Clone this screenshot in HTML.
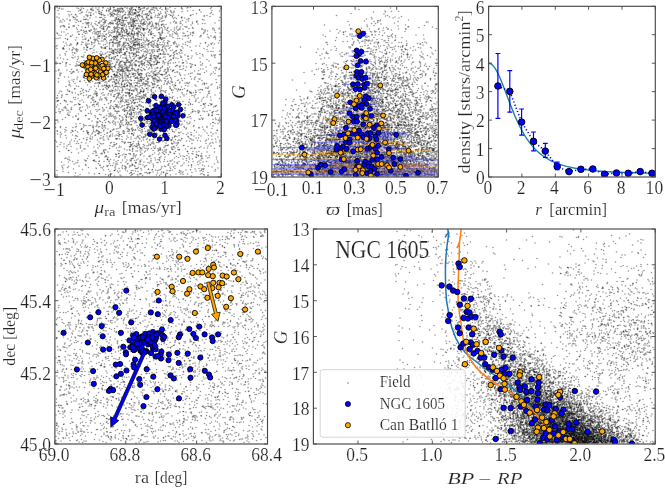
<!DOCTYPE html>
<html><head><meta charset="utf-8"><style>html,body{margin:0;padding:0;background:#fff;overflow:hidden}svg{display:block}text{font-family:"Liberation Serif",serif}</style></head><body>
<svg width="665" height="488" viewBox="0 0 665 488" font-family="Liberation Serif, serif">
<rect width="665" height="488" fill="#fff"/>
<defs>
<clipPath id="c1"><rect x="54.8" y="6.3" width="166.40" height="170.70"/></clipPath>
<clipPath id="c2"><rect x="271.9" y="6.3" width="166.40" height="170.70"/></clipPath>
<clipPath id="c3"><rect x="488.6" y="6.3" width="166.70" height="170.70"/></clipPath>
<clipPath id="c4"><rect x="54.9" y="229.0" width="212.60" height="215.00"/></clipPath>
<clipPath id="c5"><rect x="313.4" y="229.0" width="341.80" height="215.00"/></clipPath>
</defs>
<g clip-path="url(#c1)">
<g transform="scale(0.5)" stroke="#000" stroke-width="3.20" stroke-linecap="round" fill="none" stroke-opacity="0.42">
<path d="M250 15h0m29 0h0m10-1h0m18 1h0m116 0h0m-2 12h0m-39 3h0m-58-11h0m-5 10h0m-4 2h0m-27-2h0m-7-9h0m0 0h0m0-1h0m-2 10h0m-7-1h0m-9 2h0m-7 0h0m-5-5h0m-7-8h0m-5 0h0m-3 0h0m-1 9h0m-7-7h0m-1 2h0m-4 10h0m-7-1h0m-13-1h0m-6-3h0m-14-6h0m-20 5h0m-12 4h0m-13 0h0m2 12h0m7-6h0m3 4h0m28 7h0m2-10h0m18 11h0m8-9h0m5 6h0m10 1h0m9-4h0m2 6h0m1-12h0m2 10h0m5-5h0m3 5h0m1-8h0m0-3h0m1-2h0m21 8h0m2-3h0m1 6h0m3 4h0m3-15h0m1 15h0m5 0h0m3-14h0m20 3h0m8 10h0m10-10h0m3 6h0m6-7h0m16 2h0m6 0h0m10-2h0m57-2h0m-12 27h0m-48-1h0m-6-6h0m-1 3h0m-11 4h0m-6-5h0m-4-6h0m-7 12h0m-2-11h0m-4 7h0m-1 2h0m-29-11h0m-3 9h0m-1-9h0m-12 10h0m-6-4h0m-5-2h0m-12-3h0m-1 3h0m-3-3h0m-2 7h0m-1 5h0m-2-12h0m-4 0h0m-2 6h0m0 0h0m-1 2h0m-18-3h0m-8 9h0m-2-5h0m-3-1h0m-1-7h0m0 3h0m-7-2h0m-5 9h0m-2 3h0m-17-8h0m-16 4h0m-17-5h0m-5 5h0m57 9h0m10 4h0m0-8h0m18 9h0m2-2h0m2-6h0m16 4h0m1-4h0m3 8h0m2-7h0m19 1h0m6 3h0m1 9h0m2-2h0m3-10h0m5-3h0m8 6h0m9 0h0m1-6h0m4 5h0m0-4h0m8 7h0m8 5h0m7-11h0m1 10h0m1 1h0m1-1h0m12-4h0m5-4h0m20 10h0m1-6h0m11-1h0m10-7h0m15 8h0m25 3h0m2-1h0m-7 13h0m-51 2h0m0-4h0m-21 1h0m-14 2h0m-34-3h0m-3 3h0m-3-6h0m-6 10h0m-7-12h0m0 11h0m-4-2h0m-12-1h0m-6 5h0m-3 2h0m-1-5h0m-9-2h0m-12 4h0m-9-12h0m-8 8h0m0 4h0m-12-2h0m-1-8h0m-22 6h0m-1 1h0m-8 6h0m0-7h0m-20-3h0m-2 5h0m-2-10h0m-17 10h0m5 8h0m11 8h0m4-3h0m27-6h0m4 9h0m17 5h0m8-15h0m20 2h0m16 11h0m4 1h0m4-7h0m13-2h0m0 7h0m3-11h0m3 3h0m5-2h0m12 6h0m1-2h0m2-4h0m8 13h0m2-2h0m6-9h0m6 3h0m4-5h0m0 0h0m6 2h0m8 2h0m14 4h0m6 1h0m2 1h0m6-9h0m31 7h0m24-3h0m15 7h0m10-1h0m-11 6h0m-12 7h0m-17 2h0m-1-8h0m-20 11h0m-33-10h0m-12 9h0m-24-10h0m-9 0h0m-1 1h0m-9 4h0m-3-8h0m-1 6h0m-3-6h0m-5 2h0m-12 2h0m-6 4h0m-8 0h0m-16-1h0m-7-7h0m-12 4h0m-6-5h0m0 11h0m-18-6h0m-19 6h0m-18 1h0m-14-9h0m3 28h0m8-3h0m16-1h0m8-10h0m2 0h0m13 10h0m3 0h0m12-3h0m10-7h0m5 6h0m13 5h0m2-2h0m1-4h0m6 9h0m4-14h0m2 12h0m2-3h0m7 3h0m7-3h0m1 2h0m3 2h0m5-4h0m33 5h0m10-2h0m1 0h0m4-9h0m22 8h0m91-1h0m-1 13h0m-5 7h0m-43 0h0m-39-14h0m-18-1h0m0 9h0m-3-4h0m-12-4h0m-5 12h0m-1 1h0m-3 0h0m-9-6h0m-6 0h0m-6 7h0m-10-9h0m-1 7h0m-9-4h0m-2-4h0m-9 3h0m-3-2h0m-3 1h0m-6 3h0m-2-3h0m-12 0h0m-2-2h0m-29 7h0m-20-1h0m-37-8h0m15 26h0m40-8h0m2 1h0m5-3h0m0 9h0m10-6h0m3 9h0m8-11h0m7 8h0m14 1h0m9-2h0m11 3h0m23-6h0m1-1h0m5-1h0m26-6h0m2 12h0m11-3h0m17-3h0m57 0h0m10 21h0m-2-10h0m-5-1h0m-13 4h0m-10 11h0m-9-7h0m-4-4h0m-20 2h0m-2-4h0m-8 7h0m-2-5h0m-5 8h0m-16-2h0m-4-10h0m-7 6h0m-9 8h0m0-10h0m-6 5h0m-9-2h0m-13-3h0m-6 2h0m-4 6h0m-5-3h0m-2 3h0m-1-3h0m-20 1h0m-2 1h0m-15-5h0m-3 8h0m-3-12h0m-7 12h0m0-5h0m-3 2h0m-10-10h0m-1 6h0m-2-1h0m-13 1h0m-4 7h0m-6 1h0m-16-5h0m-6 0h0m-1-2h0m-9 5h0m-3 0h0m-15 12h0m59-6h0m12 5h0m26 0h0m30 1h0m9 2h0m7-11h0m7 9h0m8 4h0m10-10h0m10 7h0m7-7h0m8 4h0m2 1h0m34-7h0m9 11h0m36-1h0m13-5h0m7 9h0m-1 7h0m-4 3h0m-15 6h0m-31-4h0m-19-6h0m-3 7h0m-3-11h0m-4 4h0m-2 7h0m-6-10h0m-1 2h0m-23 10h0m-19-13h0m-20 10h0m-6-9h0m-5 12h0m-7-7h0m-5 1h0m-3-2h0m-1-4h0m-6 6h0m-6-2h0m-1 0h0m-15 1h0m-9-7h0m-21 8h0m-12 6h0m-4-6h0m-17 2h0m-16 3h0m-8 2h0m34 10h0m69-7h0m3 6h0m10-5h0m12 12h0m9-13h0m6 3h0m0 7h0m1-2h0m2 3h0m3-3h0m5 2h0m2-3h0m7-5h0m41 0h0m19-3h0m4 13h0m51-14h0m21 4h0m8 0h0m12 1h0m2 7h0m-13 9h0m-5 3h0m-34 5h0m-13-8h0m-5-3h0m-41 5h0m-9-6h0m-4 3h0m-8 4h0m-5-4h0m-3-1h0m-12 5h0m-6 3h0m-4 3h0m-3-3h0m-14-2h0m-4 1h0m-2 4h0m-1-13h0m0 6h0m-1-5h0m-11 11h0m-54 1h0m-41 1h0m-31 7h0m60 4h0m2 3h0m18-8h0m3 3h0m1 1h0m3 0h0m25-6h0m6-1h0m3-1h0m10 9h0m10-4h0m2 5h0m6 0h0m31-4h0m10 3h0m0-2h0m3 0h0m5 2h0m12 4h0m13 1h0m11-7h0m83 2h0m0 18h0m-9-12h0m-11 15h0m-1-5h0m-10 0h0m-24-8h0m-19 6h0m-4-7h0m-6 13h0m-5-6h0m-6-5h0m-8 6h0m-5-6h0m-19 11h0m-19-10h0m-13 0h0m-15 9h0m-4-13h0m-4 13h0m-6-2h0m0-10h0m-11 14h0m-32 0h0m-6-7h0m-11-2h0m-3-6h0m0 6h0m-26-5h0m-4 4h0m-36 16h0m27 0h0m26 5h0m27-9h0m41 12h0m2-6h0m1 7h0m3-8h0m18 0h0m17-6h0m31 0h0m10 13h0m2-4h0m15-6h0m10-3h0m1 11h0m29 4h0m23 0h0m6 9h0m-1-5h0m-6 5h0m-4 3h0m-40-2h0m-5-6h0m-11 2h0m-28-3h0m-28 3h0m-8 1h0m-10 7h0m-11-8h0m-2 7h0m-12-2h0m-17 5h0m-5-4h0m-24-9h0m-54 13h0m0 0h0m10 9h0m10 4h0m14-10h0m17 0h0m56-2h0m10 8h0m15 5h0m29-7h0m8 5h0m38-3h0m38 2h0m15-8h0m7 8h0m4 2h0m15 2h0m-21 4h0m-3 4h0m-19-3h0m-6 9h0m-41-7h0m-13-2h0m-16 0h0m-6 6h0m0 2h0m-14 4h0m-10-14h0m-12 4h0m-1 4h0m-17-8h0m-5 13h0m-33-10h0m-8 7h0m-21-1h0m-13-7h0m-18-1h0m-10 7h0"/>
<path d="M114 15h0m151 0h0m8-1h0m103 1h0m50 14h0m-2-8h0m-31 6h0m-28-9h0m-8 13h0m-7-14h0m-2 7h0m-7 6h0m-6-7h0m-13 4h0m-1-3h0m-7-6h0m-19 10h0m-4 0h0m-10-10h0m-2 5h0m-6 8h0m-10-12h0m-4-2h0m-23 3h0m-3 2h0m-1-2h0m-3 7h0m-9 1h0m0-4h0m-3-2h0m-14 8h0m-8-11h0m-3-3h0m-5 12h0m-1-7h0m-25 0h0m-9 9h0m-12-7h0m-22 5h0m16 10h0m17-2h0m15 11h0m4-8h0m3-1h0m37 8h0m14-4h0m2 5h0m8-8h0m1 1h0m1 3h0m1-5h0m2 5h0m8 0h0m4-8h0m9 9h0m5-6h0m2 1h0m2 4h0m15-4h0m4 0h0m2 3h0m4-8h0m1 4h0m4 1h0m1 6h0m3-2h0m7-9h0m13 9h0m2-9h0m24 8h0m13 5h0m12-8h0m19 5h0m37 2h0m10-11h0m-36 22h0m-49 3h0m-41-4h0m0 4h0m-7-8h0m-16-4h0m-1 1h0m-3 11h0m-12-4h0m-4-5h0m-4-3h0m-18 14h0m-14 0h0m0 0h0m-1 1h0m-2-7h0m-6-8h0m-5 0h0m-7 10h0m-7-4h0m-1 4h0m-5 4h0m-13-4h0m-6-9h0m-4 12h0m-30-8h0m-19 1h0m-3-3h0m6 19h0m3 8h0m50-12h0m19 6h0m2 0h0m0-4h0m2 11h0m2-2h0m3-2h0m11-9h0m11 7h0m2-3h0m3 0h0m8 7h0m4 1h0m5-9h0m0-1h0m1 3h0m4 6h0m4-5h0m0 2h0m5 5h0m6-15h0m2 15h0m9-5h0m14-7h0m14 10h0m1-12h0m4 12h0m30-10h0m2-3h0m47 10h0m18 2h0m4-4h0m18-6h0m-17 23h0m-86 3h0m-1-11h0m-1 4h0m-6 1h0m-2 6h0m-5-2h0m-6 0h0m-3 4h0m-6-11h0m0 11h0m-4-10h0m-3 1h0m-6-5h0m-2 2h0m-6 11h0m-2 2h0m-5 0h0m-6-12h0m-3 1h0m-8-1h0m-1 2h0m-15 5h0m-2 2h0m-5 0h0m-2-7h0m-5 1h0m-5 4h0m-2 0h0m-5-9h0m0 4h0m-9 4h0m-14-2h0m-2-6h0m-18-1h0m-1 2h0m-8 13h0m-26-5h0m-22 20h0m6-13h0m7 6h0m12 2h0m23 5h0m20-5h0m12 2h0m2-4h0m3 3h0m5 2h0m20-8h0m6 4h0m0-6h0m3 0h0m0 8h0m4-1h0m4-9h0m4 10h0m9 1h0m2-6h0m20 0h0m1 1h0m9 9h0m14-5h0m11-7h0m14 9h0m1-9h0m20 3h0m48 5h0m26-11h0m-49 22h0m-1 0h0m-14-3h0m-11 10h0m-9-6h0m-15-5h0m0 9h0m-9 2h0m-1 0h0m-9-10h0m-1-3h0m-6 4h0m-5 5h0m-7 5h0m-4-12h0m0 13h0m-1-5h0m-4-5h0m-3-1h0m-18 8h0m-1-1h0m-5 2h0m-3 1h0m-24-10h0m-2-1h0m-6 0h0m0-3h0m-19 5h0m-5 0h0m-5 3h0m-3 1h0m-11 3h0m-29-8h0m-25 11h0m11 5h0m8 11h0m3-4h0m10-11h0m24 11h0m9 4h0m6-6h0m2 0h0m3-9h0m8 6h0m3 3h0m12-8h0m2-1h0m2 5h0m21 6h0m9-4h0m7-7h0m9 0h0m8 3h0m5 10h0m5-13h0m11 8h0m2-5h0m3-2h0m4 14h0m5-15h0m16 0h0m16 13h0m6-8h0m16-1h0m15 3h0m1-3h0m21-2h0m28 5h0m7 2h0m1 14h0m-56-5h0m-45 5h0m-1-2h0m-13 2h0m-2-2h0m-8 0h0m-4 1h0m-4 0h0m-1 8h0m-5-7h0m-4 0h0m-2 5h0m-2-4h0m-1-3h0m-11 5h0m0 5h0m-6-4h0m0 2h0m-1-2h0m-3 1h0m-2-4h0m-3-3h0m-6 10h0m-2-10h0m-3 2h0m-9 5h0m-5-7h0m-11 5h0m-1-5h0m-6 4h0m-6-3h0m-6 1h0m-8 4h0m-25-6h0m-9 2h0m-21-7h0m0 15h0m-10 11h0m34-5h0m3 5h0m31 2h0m7 1h0m20-13h0m10 8h0m11 3h0m14-5h0m1-5h0m22 8h0m2-7h0m2 9h0m3 1h0m8-4h0m4 1h0m3 5h0m2-14h0m14 6h0m11 7h0m19-7h0m17 6h0m1-5h0m63 19h0m-35-6h0m-13 4h0m-10 1h0m-7-3h0m-10 6h0m-25-12h0m-10 7h0m-7-7h0m-1 13h0m-26-9h0m-3-3h0m-7 7h0m-4-3h0m-6 8h0m-1-1h0m-5-9h0m-12 11h0m-3-12h0m-1 8h0m-2-8h0m-1 7h0m-15-7h0m-2 3h0m-3-2h0m-5 2h0m-4 7h0m-2-6h0m-26 8h0m-16 1h0m-34 13h0m12-7h0m4 5h0m4-2h0m13-7h0m16-1h0m3 13h0m8-7h0m25-5h0m4 3h0m39 3h0m8 1h0m3-4h0m1 1h0m2 8h0m10-4h0m5 2h0m10-3h0m1 0h0m0-8h0m0 3h0m7 0h0m4 5h0m6-6h0m20 13h0m29-2h0m0-1h0m29-9h0m32 2h0m-4 24h0m-15 0h0m-13-13h0m-22 15h0m-14-14h0m-9 0h0m-5-1h0m-6 2h0m-3 1h0m-1 0h0m-1-2h0m-16 8h0m-9-3h0m-3 4h0m-1-5h0m-17-3h0m-1 2h0m-4 5h0m-13 2h0m-13-2h0m-1 4h0m-14-12h0m-4 11h0m-1-9h0m-14 3h0m-7 4h0m-6-7h0m0 0h0m-15 11h0m-1 0h0m-9-10h0m-24-2h0m-12 5h0m-2 4h0m-7-10h0m-39 5h0m68 12h0m18 3h0m20 1h0m2 0h0m12 6h0m11-2h0m19-4h0m3 3h0m3-3h0m11 8h0m10-4h0m30-6h0m26 11h0m14-7h0m15 3h0m3-1h0m27 5h0m12-8h0m7 0h0m8 8h0m-6 13h0m-70-3h0m-16-4h0m-19 5h0m-2 0h0m-12-3h0m-7 0h0m-3 5h0m-4-9h0m-3 3h0m-5-5h0m-41 5h0m-33-1h0m-10-2h0m-2-1h0m-2 12h0m-4-10h0m-12 7h0m-9 0h0m-28 10h0m23 2h0m7 0h0m10 5h0m3-12h0m8 11h0m12-5h0m9-4h0m4 6h0m2-1h0m12 0h0m25-4h0m21 2h0m12 10h0m9-2h0m14-1h0m17 3h0m7-14h0m15-1h0m4 1h0m40-1h0m16 10h0m12 2h0m14 13h0m-19 5h0m-4-8h0m-33 9h0m-2-9h0m-18-1h0m-19-2h0m-4 5h0m-16-6h0m-6 6h0m-1 5h0m-6-11h0m-6 9h0m-7-2h0m-4-4h0m-5-3h0m-2 0h0m-13-1h0m-13 1h0m-1 11h0m-11-1h0m-15-7h0m-55-1h0m-17 9h0m-44 18h0m9-15h0m12 0h0m21 6h0m9 4h0m37 2h0m0 2h0m13-11h0m41-2h0m12-1h0m6 2h0m1 10h0m4 0h0m14-12h0m36 3h0m37 7h0m62 20h0m-40-9h0m-9-2h0m-7 0h0m-20 8h0m-38-9h0m-2 3h0m-7 7h0m-5-7h0m-24-5h0m-21 4h0m-28 5h0m-19-1h0m-19-1h0m-8-4h0m-49 17h0m35 7h0m58 4h0m1-7h0m21 7h0m2-15h0m6 11h0m5-1h0m7-4h0m18 6h0m6-7h0m6-4h0m19 3h0m16 6h0m40-6h0m59 1h0m0 11h0m-20 15h0m-8-14h0m-7 11h0m-9-6h0m-20-2h0m-11 8h0m-9 0h0m-25-4h0m-45 4h0m0-11h0m-16 4h0m-37 0h0m-12-2h0"/>
<path d="M228 15h0m27-1h0m23 1h0m43 0h0m102 10h0m-9 6h0m-12-7h0m-39-7h0m-21 14h0m0-8h0m-11 1h0m-11-7h0m-4 4h0m-16 2h0m-2 1h0m-2 7h0m-2-12h0m0 0h0m-5-3h0m-4 8h0m-8 1h0m-6 1h0m-2 1h0m-2-8h0m-5-3h0m-1 4h0m-1 9h0m-1-5h0m-8 5h0m-3-7h0m-3 3h0m0-8h0m-5 13h0m-9-8h0m-7 7h0m-8-12h0m-8 14h0m-6-5h0m-4-3h0m-6 1h0m-6-4h0m-10 11h0m-22-15h0m-35 0h0m1 28h0m19-12h0m9 3h0m28 5h0m23 5h0m1-3h0m3 0h0m6-3h0m11 6h0m6-13h0m4 4h0m1 3h0m13 2h0m11 4h0m3 0h0m4-7h0m7 6h0m2-7h0m13-5h0m4 13h0m14-8h0m23-5h0m5 0h0m17 12h0m30-7h0m1 1h0m16 4h0m45 14h0m-24 6h0m-19-14h0m-11 7h0m-10 8h0m-40-6h0m-7-4h0m-10 6h0m-6-7h0m-2 4h0m-2 0h0m-9-8h0m-5 6h0m-1 5h0m-5 0h0m0 0h0m-1-2h0m-7-6h0m-2 2h0m-13-4h0m-1 11h0m-2-11h0m-14 2h0m-4 0h0m-1 11h0m0-5h0m-12-1h0m-1 6h0m-12 0h0m-5-2h0m-9-8h0m-4 3h0m-8-6h0m-6 5h0m-59-2h0m-5 0h0m6 12h0m27 0h0m10 5h0m33 8h0m13 2h0m9-10h0m2 10h0m8-4h0m0-2h0m3-7h0m1 4h0m2-6h0m1 2h0m4 12h0m4-7h0m0-7h0m0 6h0m8-6h0m5 3h0m4 5h0m5 3h0m2-7h0m9 11h0m9-9h0m7 9h0m3-15h0m8 11h0m16 0h0m1-5h0m1 9h0m23-4h0m9-7h0m13-1h0m3 4h0m14 0h0m1-5h0m1 1h0m28 2h0m16 6h0m9-1h0m-11 14h0m-18-2h0m-30-5h0m-23 9h0m-18 5h0m-20-10h0m-5-2h0m-1 8h0m-10 1h0m0-4h0m-7-1h0m0-5h0m-5 7h0m-5 5h0m-13-5h0m0-9h0m-3 0h0m-2 9h0m-1 2h0m-11-11h0m-1 7h0m-4 4h0m-5-2h0m-6-6h0m-38 11h0m-12-14h0m-2 11h0m-12-10h0m-14 8h0m-8-1h0m-23-2h0m-2 21h0m26-7h0m12-2h0m2 7h0m10-7h0m4-1h0m17 13h0m1 0h0m10-4h0m7 5h0m2-2h0m2-4h0m2-4h0m9-1h0m4 4h0m2 0h0m2-5h0m0 3h0m0 2h0m5-5h0m2 7h0m9-1h0m6-9h0m6 2h0m6 6h0m1 0h0m11-1h0m5 1h0m2 2h0m0-6h0m26 8h0m7-3h0m2-8h0m7 12h0m13-6h0m44 6h0m11 0h0m9 10h0m-30-7h0m-1 4h0m-7-3h0m-29 13h0m-17-1h0m-4 1h0m-11-13h0m0 10h0m-1-11h0m0 4h0m-6 7h0m-6-6h0m-11 0h0m-10 7h0m-8-3h0m-17-1h0m-3-4h0m-1 8h0m-12 0h0m-4-5h0m-2 6h0m-5-8h0m-6 5h0m-3-1h0m-3 1h0m-22-4h0m-2-2h0m-1-3h0m-17 4h0m-12-4h0m-29 27h0m19-8h0m0 8h0m3-10h0m15 8h0m7 1h0m2 2h0m25-9h0m6-4h0m3 10h0m3 2h0m8 0h0m7-12h0m5 2h0m2 1h0m1-3h0m2 13h0m1 0h0m0-7h0m1 9h0m3-3h0m9 2h0m4-12h0m4 6h0m25 3h0m18-9h0m2-1h0m1 9h0m9 5h0m12-4h0m5-9h0m17 1h0m7 8h0m22-11h0m3 1h0m12 12h0m3 7h0m-9 6h0m-28 3h0m-2-6h0m0-1h0m-26 2h0m-5 5h0m-12-10h0m-6 2h0m-6-3h0m-2 8h0m-5-7h0m-3 12h0m-7-4h0m-10-6h0m-3-3h0m-12 0h0m-2 7h0m-17-6h0m-6 7h0m0-7h0m-6-3h0m-9 12h0m-1-3h0m-17-4h0m-3 1h0m-3-4h0m-1 12h0m-7-14h0m-9 3h0m-11 10h0m-3-1h0m-1-3h0m-39 1h0m-9-5h0m27 14h0m31 1h0m2 1h0m20 1h0m12-3h0m6 0h0m7 9h0m4 1h0m1-8h0m1 8h0m2-6h0m14-6h0m1 12h0m6-13h0m31 10h0m2-5h0m4-3h0m14 13h0m3-1h0m5-14h0m18 2h0m14 2h0m3 10h0m3-3h0m9-7h0m5-3h0m27 11h0m12-11h0m-3 18h0m-32-2h0m-5 8h0m-4-5h0m-38 1h0m-18-5h0m-11 1h0m-1 11h0m-4-6h0m-2 2h0m-12-6h0m-15 9h0m-19 2h0m-46-2h0m-2 1h0m-74-2h0m-4 16h0m2 0h0m8-10h0m27 3h0m31 10h0m5-10h0m1 10h0m11-5h0m1-2h0m1-4h0m45 2h0m21 5h0m4-6h0m18 1h0m3 10h0m7-1h0m3-3h0m6-10h0m4 0h0m9 12h0m0-7h0m7-1h0m4-1h0m3 7h0m4-8h0m4 9h0m2-7h0m8 6h0m6 1h0m20-4h0m51 13h0m-13-1h0m-10-3h0m-11 13h0m-8 1h0m-36-7h0m-9 2h0m-5 2h0m-1-3h0m-7 2h0m-2-1h0m-41-3h0m-6 5h0m-20-4h0m-2 7h0m0-8h0m-3-4h0m0 3h0m-2 2h0m-1 6h0m-8-1h0m-14-7h0m-22-4h0m-10 10h0m-6-10h0m-8 2h0m-24 11h0m-31-8h0m-15-4h0m5 16h0m32 5h0m4 8h0m23-1h0m28-3h0m19-5h0m27 5h0m6-7h0m13-4h0m1 4h0m4 0h0m6 0h0m46 7h0m29 1h0m2-5h0m22 6h0m15-11h0m9 11h0m18-12h0m15 19h0m-25 9h0m0 2h0m-50-7h0m-20 4h0m-4 1h0m-9-9h0m-6-2h0m-8 3h0m-2-5h0m-3 0h0m-9 15h0m-7-12h0m-2 2h0m-4 8h0m-4 0h0m-2-8h0m-2-3h0m0 3h0m-2-3h0m-23 4h0m-17 4h0m-1-2h0m-8 2h0m-14-7h0m-9 11h0m-9-1h0m-4-9h0m-9 7h0m-1 3h0m-32-1h0m-32 0h0m24 17h0m19-13h0m29 3h0m21 7h0m28 2h0m5-8h0m12 1h0m5 6h0m6-7h0m12 3h0m2-4h0m14-1h0m3 1h0m4 7h0m2-5h0m5-2h0m9 3h0m7-1h0m29 3h0m26 5h0m52-10h0m-9 26h0m-1-1h0m-41-5h0m-4-3h0m-48 9h0m-2-5h0m-6-5h0m-5 6h0m-36 0h0m-6 1h0m-45-6h0m-9 8h0m-3-12h0m-109 8h0m101 19h0m13-7h0m39-4h0m15 5h0m15-2h0m22 10h0m28-4h0m12 1h0m0-4h0m3 4h0m25-3h0m24 0h0m11-8h0m10 9h0m-37 17h0m-19 3h0m-4-4h0m-10-5h0m-10 8h0m-20-7h0m-2-2h0m-43 0h0m-14 4h0m-2-3h0m-1 8h0m-4 2h0m-15-10h0m-32-4h0m-81 14h0m20 7h0m42 2h0m3 4h0m21 0h0m4 0h0m6 1h0m28 2h0m13-9h0m9 4h0m7-5h0m36 9h0m12-3h0m4-8h0m7 12h0m2-10h0m5 1h0m4-2h0m10 3h0m28 3h0m4-3h0m6-2h0m10 26h0m-7 0h0m-5-3h0m-1-6h0m-13-3h0m-45 2h0m-4 10h0m-6-3h0m-12-3h0m-8 2h0m-14-1h0m-4-7h0m-16 9h0m-17 1h0m-2 3h0m-24-14h0m-112 6h0m91 9h0m12 0h0m13 0h0m34 0h0m107 0h0"/>
<path d="M206 15h0m72 0h0m1-1h0m107 7h0m-38 1h0m-5 3h0m-2-4h0m-3 8h0m-5-1h0m0-8h0m-22-4h0m-2 5h0m-5-5h0m-5 6h0m-2 9h0m-3-3h0m-7-12h0m-2 6h0m-5 9h0m-4-1h0m-5-9h0m-2 5h0m-4-5h0m-4 7h0m-1-6h0m0-3h0m-2 7h0m-4-9h0m-9 1h0m-4 7h0m-5 4h0m-15-2h0m-3-6h0m-5 0h0m0-1h0m-7 9h0m-1-8h0m-5 7h0m-3-8h0m-15-2h0m0 13h0m-10-1h0m-12-10h0m-3-3h0m-14 12h0m3 4h0m8 0h0m21 0h0m49 13h0m2-14h0m7 6h0m5 1h0m7-5h0m2 7h0m3-4h0m7 10h0m10-5h0m0 4h0m10-8h0m5 7h0m0-2h0m1-2h0m12-1h0m10 6h0m9 1h0m39-1h0m10-10h0m65 22h0m-56-4h0m-7-4h0m-4 4h0m-4 6h0m-24 0h0m-3-5h0m-10 1h0m-2-4h0m-1-3h0m-4-1h0m-1 7h0m-12 5h0m-5-9h0m-8 9h0m-6-2h0m-8-2h0m-9-4h0m-1 0h0m-29-4h0m0 1h0m-19 7h0m-5-3h0m-25-1h0m-12-4h0m-9 6h0m-18-2h0m-17 0h0m-6 12h0m12 15h0m6-7h0m30 7h0m1-3h0m18-10h0m0 12h0m4-9h0m5 4h0m10-1h0m1 6h0m18-1h0m1-4h0m4-1h0m7-4h0m0 0h0m8 4h0m4-7h0m3 4h0m1 1h0m7-3h0m0 9h0m13-3h0m7-7h0m0 9h0m37 0h0m1-5h0m0 5h0m15-9h0m17 2h0m24 8h0m4-7h0m50 9h0m8 3h0m-22 9h0m-6-5h0m-33-1h0m-3 7h0m-11 2h0m-11 0h0m-1 0h0m-22 1h0m-5 1h0m-9-3h0m-2-5h0m-3 5h0m-2-6h0m-5 6h0m-8-2h0m-13 1h0m-1 4h0m-6-13h0m-7 3h0m-1-4h0m-1 0h0m-17 11h0m0-5h0m-3-1h0m-8-3h0m0 3h0m-5-1h0m-3 2h0m-2-1h0m-4-1h0m-6 1h0m-16-4h0m-6 1h0m-13 2h0m-10 10h0m-1-5h0m-9-6h0m-11 13h0m1 2h0m57-3h0m9 2h0m4 2h0m8 5h0m7-4h0m3 10h0m6-2h0m19-13h0m0 2h0m1 8h0m5 5h0m28-5h0m2-6h0m6 11h0m9-9h0m3 6h0m6 0h0m8 0h0m7 3h0m5 0h0m1-6h0m10 0h0m5-4h0m76 1h0m-34 25h0m-29-15h0m-10 14h0m-29-3h0m-6-4h0m-15-6h0m-2 13h0m-2-7h0m0-1h0m0-6h0m-2 6h0m-10 3h0m-8-6h0m-9 9h0m-4-6h0m-8 4h0m-15 3h0m-2-6h0m0 1h0m-4 6h0m-19-12h0m-6 13h0m-2-10h0m-12 7h0m-25-5h0m-3-7h0m-7 0h0m-9 2h0m-10 2h0m-2 3h0m-22 6h0m-12-9h0m-2 11h0m-7-3h0m28 5h0m24 14h0m5-6h0m39 0h0m5 3h0m5-8h0m5 6h0m6-5h0m9-5h0m11 2h0m9 5h0m0 7h0m7-5h0m16 2h0m3 2h0m10-12h0m3 1h0m15-1h0m3 6h0m7 0h0m6 8h0m1-3h0m6-4h0m10 7h0m2-2h0m8-10h0m6 1h0m3 7h0m27-8h0m21 3h0m-17 14h0m-6 8h0m-6 2h0m-51-12h0m-4 10h0m-7-7h0m-6 4h0m-3-2h0m-2-3h0m-3-2h0m-10 11h0m-13-2h0m-2-4h0m-2 5h0m-6-2h0m-16-8h0m-4 8h0m-4 0h0m-10-5h0m-4-5h0m-3 6h0m-1 1h0m-5 8h0m-4 0h0m-7-6h0m-5-3h0m-1 7h0m0 1h0m-3-9h0m-12 3h0m-9 5h0m-10-4h0m-9 2h0m-13 3h0m-17-4h0m-20 3h0m0 7h0m33 3h0m3 5h0m24-10h0m1-2h0m12 7h0m2-1h0m3 0h0m2 7h0m0-12h0m13 4h0m3 6h0m6 0h0m1-11h0m11 8h0m0-1h0m3 6h0m25-1h0m1 1h0m2-3h0m1-2h0m7 4h0m6-10h0m2 12h0m2-11h0m2-3h0m3 7h0m11 1h0m9 2h0m0-3h0m11 4h0m24-4h0m5 3h0m10-9h0m2-1h0m13 6h0m4 1h0m22-4h0m17 4h0m20-2h0m2 12h0m-16 5h0m-28-1h0m-34-3h0m-11 2h0m-14 11h0m-28-5h0m-1-6h0m-12 10h0m-13-4h0m-14 1h0m-6-8h0m-6 7h0m-13-5h0m0 5h0m-9 3h0m0-7h0m-5 2h0m-10-6h0m-6 12h0m-28 1h0m-16-10h0m-4 7h0m0-5h0m-41-1h0m-5 14h0m6 11h0m26-12h0m38 3h0m6 5h0m22-3h0m4 7h0m24-9h0m4 1h0m6 1h0m1 2h0m5-2h0m2-7h0m4 11h0m3-5h0m3 6h0m7-12h0m3 10h0m1-9h0m1 0h0m5 0h0m2-2h0m3 13h0m4-6h0m7-5h0m4 2h0m7 10h0m1-5h0m37 3h0m30 3h0m11-9h0m11 4h0m11-8h0m17 19h0m-4 1h0m-3-6h0m-64 9h0m-5-4h0m-8 10h0m-9-4h0m-2 2h0m-6-1h0m-8 2h0m-21-9h0m-14 7h0m-5-8h0m-16 9h0m-9-12h0m-8 8h0m-4-5h0m-7 11h0m-17-6h0m-12 3h0m-15-12h0m-2 11h0m-13-5h0m-8 6h0m-6-6h0m-30-5h0m-10 30h0m11-13h0m21 2h0m20-1h0m32 7h0m9-1h0m41-5h0m10-2h0m7-1h0m2-1h0m2 1h0m3 13h0m0 0h0m5 0h0m43-2h0m6-11h0m0 9h0m11-8h0m2 3h0m1 2h0m11-1h0m19 3h0m50 3h0m-1 11h0m-25 7h0m-16-13h0m-9 3h0m-1 3h0m-11 6h0m-6-3h0m-5-3h0m-22-4h0m-2-2h0m-3 4h0m-5-1h0m-13 5h0m-6 6h0m-16-15h0m-5 8h0m-4-5h0m-8 2h0m-1-3h0m-2 0h0m-6 1h0m-11 2h0m-9 4h0m-4 5h0m-36-5h0m-10-1h0m-10-6h0m-32 6h0m-38 14h0m9 6h0m39-9h0m12 2h0m2 4h0m11-2h0m4 7h0m7-2h0m11 1h0m6-4h0m10-5h0m3-2h0m18 5h0m17 4h0m2-6h0m3 5h0m12 5h0m5-8h0m6 0h0m16-3h0m9 1h0m4 1h0m7 4h0m3-3h0m15-1h0m13 9h0m14-13h0m50 7h0m12-4h0m-37 15h0m-9-4h0m-12 1h0m-26-1h0m-7 9h0m-14-1h0m-3 3h0m-19 3h0m-6-13h0m-24 2h0m-44 3h0m-19-6h0m-7 15h0m-33-8h0m-19 4h0m-6-1h0m-6-2h0m-21 5h0m-9-1h0m24 5h0m39 3h0m15 10h0m17 0h0m2-3h0m18-7h0m1-2h0m10 2h0m26 11h0m4-12h0m3 2h0m4-2h0m1-3h0m4 8h0m10 6h0m1-5h0m9-7h0m10 2h0m0 4h0m5 1h0m1 2h0m8 1h0m3 3h0m3-12h0m13 7h0m4-5h0m66 11h0m-12 7h0m-5 0h0m-67 3h0m-8-1h0m-2 3h0m-22-3h0m-22 5h0m-15-10h0m-51 6h0m-6-8h0m-27 6h0m-39 2h0m2 7h0m16 0h0m16 0h0m17-1h0m11 10h0m8-7h0m54-2h0m9 4h0m31-1h0m4 4h0m13-8h0m9 3h0m49 8h0m53 11h0m-25-4h0m-90 3h0m-2 9h0m-2-10h0m-21 5h0m-17-8h0m-11 8h0m-27-3h0m-75 7h0m-46 1h0"/>
<path d="M227 15h0m136 0h0m18 0h0m18 5h0m-24 2h0m-28 8h0m-14 1h0m-1-14h0m-19-1h0m-5 9h0m-7-5h0m-7-3h0m-6 4h0m-10 8h0m-1 2h0m0-13h0m-1 6h0m-5-4h0m-1-1h0m-11 6h0m0-1h0m-3-2h0m-13 0h0m-5 1h0m-2-1h0m-6-2h0m-31 3h0m-36-7h0m-3 11h0m-24-4h0m19 17h0m7 2h0m15 3h0m20 0h0m36-9h0m6 5h0m0 6h0m3-1h0m4-5h0m4 0h0m8-9h0m7 14h0m1 0h0m6-5h0m15 6h0m6-3h0m4-6h0m2 6h0m3-9h0m18 4h0m25-5h0m6 12h0m1-2h0m13-3h0m29 3h0m11 3h0m0-8h0m4-7h0m29 26h0m-9 3h0m-59-8h0m-21 3h0m-3 7h0m0 0h0m-8 0h0m-3-2h0m-11-12h0m-1 6h0m-18-6h0m-2 8h0m0 6h0m-1-10h0m-19 2h0m-6 8h0m-3-6h0m-2 1h0m-1-6h0m-4 5h0m-8-1h0m-5 6h0m-1-2h0m-7-4h0m0-1h0m-2-4h0m-14 7h0m-1 2h0m-1-5h0m-4 6h0m-16-13h0m0 11h0m-1-5h0m-14 4h0m-16-4h0m-10 7h0m-5 0h0m-9-5h0m-15-8h0m-26 29h0m53-3h0m1 5h0m2-14h0m2 13h0m11-3h0m7 4h0m4-15h0m1 15h0m4-6h0m4-5h0m7 4h0m2 1h0m18-9h0m0 15h0m0-6h0m5 4h0m2-4h0m14-8h0m4 2h0m3 1h0m20-1h0m14-1h0m16 1h0m2 4h0m11-3h0m1 4h0m10 4h0m45-4h0m55 0h0m1-7h0m-6 21h0m-59 2h0m-18 0h0m-6 3h0m-26-10h0m0 14h0m-20-5h0m-6-6h0m-2 4h0m-3 2h0m-2-3h0m-6 2h0m0-2h0m-1-1h0m-2-1h0m0 4h0m-3 0h0m-7 5h0m-3-1h0m-7-7h0m-14 4h0m-7-9h0m-6 5h0m-1-1h0m-39 9h0m-41 1h0m-7-4h0m-12-7h0m0 12h0m4 14h0m15 0h0m7-9h0m21 0h0m14-1h0m34 4h0m3 3h0m7-2h0m3 6h0m8-15h0m4 3h0m2 9h0m1-3h0m5-6h0m9 8h0m4 1h0m4 1h0m14-10h0m7 10h0m6-9h0m20-1h0m10 10h0m16-9h0m17 2h0m4-6h0m58 16h0m-59 14h0m-23-6h0m-2-7h0m-1 8h0m-20 4h0m-5-4h0m-4-5h0m-12 8h0m-8-6h0m-8-3h0m-21 11h0m-1-1h0m-2-1h0m-15-1h0m-1 0h0m-1-9h0m0 10h0m-2 2h0m-16-9h0m-9-4h0m-12 2h0m-4 2h0m-5-4h0m-6 9h0m-9 0h0m-2 0h0m-8-1h0m-3 6h0m-9-14h0m-31 11h0m-10-8h0m-3 26h0m6-3h0m33-7h0m32 0h0m0 7h0m2 4h0m17-1h0m5 0h0m6-12h0m0 12h0m4-13h0m8 14h0m6-13h0m5 9h0m3 4h0m2-3h0m3-4h0m1 2h0m6-10h0m4 13h0m9-4h0m7-5h0m14-1h0m8 3h0m4 4h0m7 4h0m11-6h0m21 1h0m3-3h0m20-1h0m0 1h0m12 7h0m50-11h0m8 6h0m-2 8h0m-6 6h0m-21 8h0m0-9h0m-19 4h0m0-6h0m-22 1h0m0-2h0m-16 11h0m-2-2h0m-8-10h0m-8 4h0m-15 6h0m-8-11h0m-17 14h0m-1-10h0m-3-1h0m-2 0h0m-2 1h0m-6-1h0m-3 0h0m-1 0h0m-10 8h0m-5-9h0m-7 4h0m-4 7h0m-11-3h0m-2-4h0m-1 6h0m-8-10h0m-12 5h0m-2-5h0m-3 3h0m-3 3h0m-2 5h0m-8-1h0m-6-2h0m-39-8h0m-24 0h0m24 14h0m25 1h0m16 2h0m14 3h0m1-4h0m18 9h0m19-5h0m1 2h0m6 1h0m5 0h0m1-1h0m5 2h0m3-5h0m2 3h0m15-3h0m4 2h0m21 5h0m3-7h0m6-2h0m0 4h0m6 4h0m4-9h0m18 0h0m0 3h0m5-2h0m2 2h0m7 6h0m12 3h0m8-3h0m8-6h0m30 2h0m8 7h0m18 0h0m-43 11h0m-9 2h0m-2-1h0m-16-7h0m-8 0h0m-25 2h0m-11 2h0m-13 4h0m-1-2h0m-4 4h0m-7-13h0m-9 6h0m-5 1h0m-2 3h0m-16 3h0m-1-8h0m-3-2h0m-1 2h0m0 5h0m-7 5h0m-7-14h0m0 3h0m-7 7h0m-1 1h0m-1 3h0m-30-12h0m-6 0h0m-33 6h0m-4 2h0m-13-10h0m-11 5h0m-10 19h0m3 3h0m18-5h0m72 2h0m21-5h0m20 0h0m2-1h0m1 1h0m8 2h0m8 0h0m1-6h0m0 12h0m5-8h0m10 10h0m3 1h0m4-13h0m43 7h0m7-5h0m1 6h0m33-8h0m32 0h0m6 29h0m-5-13h0m-23 12h0m-55-12h0m0 8h0m-30-5h0m-8-4h0m-1 11h0m-6 1h0m-23-5h0m-2-3h0m-2-1h0m-7 4h0m0-4h0m-1 7h0m-1-7h0m-3 8h0m-10 1h0m-3-2h0m-3-7h0m-7 10h0m-2-12h0m-9 3h0m-30 7h0m-10-11h0m-5 13h0m-22-13h0m-25 11h0m-2-3h0m-4-1h0m-7 7h0m-9 2h0m26 6h0m8 3h0m26-3h0m23 6h0m7-7h0m10 9h0m10-11h0m8 10h0m9-7h0m7 5h0m6-4h0m3-6h0m2 8h0m6-5h0m14 7h0m12-1h0m5 1h0m4-3h0m9-1h0m12 7h0m1-12h0m0 5h0m9 4h0m1-11h0m24 4h0m5-3h0m0 7h0m10-7h0m29-2h0m0 14h0m3-7h0m2 5h0m21-5h0m1-7h0m-87 17h0m-4 10h0m-11-3h0m-4 7h0m-1-1h0m-4-8h0m-7-6h0m-18 1h0m-27 9h0m-4-4h0m-2-2h0m-1 5h0m-8 2h0m-6 1h0m-23-8h0m-9 7h0m-13-6h0m-29 9h0m-51-10h0m-5 3h0m4 21h0m15-9h0m2 2h0m14 2h0m29 3h0m15 5h0m3-9h0m9 9h0m34 0h0m4-15h0m25 6h0m0-6h0m2 14h0m0-11h0m13-2h0m17 4h0m6 2h0m1 8h0m1-11h0m1 10h0m3-13h0m18 10h0m12-8h0m34 10h0m20-5h0m5 6h0m-3 11h0m-44-9h0m0 7h0m-1-6h0m-6 14h0m-8-6h0m-28-3h0m-5 8h0m-16-6h0m0-6h0m-7 4h0m-1-1h0m-18 8h0m-5-10h0m-10 9h0m-13-6h0m-8-6h0m-4 14h0m-62-7h0m-25 13h0m85 5h0m13-8h0m27 10h0m0-6h0m3-2h0m3 9h0m9-8h0m1 4h0m0 6h0m12-13h0m19 12h0m3-4h0m11 2h0m1-1h0m12 1h0m10-4h0m1-1h0m9-3h0m29 6h0m20-4h0m38-1h0m-25 24h0m-12 0h0m-62-11h0m-1-1h0m0 0h0m-15 1h0m-9 14h0m-51-2h0m-20-7h0m-5 1h0m-8-2h0m-1-1h0m-16 10h0m-6-12h0m-7 1h0m-4 8h0m-6-4h0m-62 6h0m-6 15h0m1 3h0m12-2h0m8-10h0m24-3h0m18 1h0m5 2h0m6 0h0m4 12h0m12-4h0m2 0h0m11-5h0m1-6h0m6 9h0m2-8h0m6 4h0m9 8h0m18-12h0m8 14h0m1-7h0m29 6h0m7-9h0m21-2h0m38-2h0m10 13h0m24 15h0m-45-7h0m-12-5h0m-32 3h0m-20 6h0m-1-7h0m-26 3h0m-16 0h0m-5-5h0m-99 9h0"/>
<path d="M439 22h0m-18-5h0m-75 9h0m-10-8h0m-30 1h0m-1 0h0m-2 0h0m0 8h0m-2-2h0m-4-9h0m-13 1h0m0 10h0m-5-8h0m-5 5h0m-8 4h0m0-2h0m-17 3h0m-2 2h0m-1-11h0m-5-2h0m-4 7h0m-10 2h0m-1-4h0m-2 5h0m-2 2h0m-12 1h0m-7-6h0m-4 2h0m-14-11h0m-3 2h0m0 7h0m0-6h0m-15-2h0m-2 7h0m-8-2h0m-34-4h0m-5-1h0m8 22h0m14 1h0m13 0h0m4 3h0m10-4h0m8 7h0m17-12h0m9 1h0m9 8h0m0-2h0m0-6h0m9 12h0m7-1h0m2-5h0m17-3h0m9-1h0m7 1h0m2-3h0m2 7h0m3-1h0m6 1h0m1-10h0m12 6h0m5-2h0m1-1h0m22 0h0m2 11h0m2-4h0m26-10h0m5 3h0m11 8h0m3-9h0m46 13h0m0 16h0m-6-4h0m-22-9h0m-16 8h0m-53-9h0m-9 2h0m-7-2h0m-9 9h0m-2-1h0m-9-6h0m-11 2h0m-3 0h0m-3 5h0m-3-9h0m-5 7h0m-5 3h0m-3-8h0m0 8h0m-6-4h0m-1 4h0m-1-9h0m-8 8h0m-8-4h0m-3-6h0m0 5h0m-11-3h0m-26 13h0m-7-1h0m-35-7h0m-16 16h0m9 6h0m22-2h0m42 1h0m0 0h0m2-12h0m29 11h0m1-2h0m5 2h0m2 3h0m1-4h0m8 3h0m14 0h0m1-11h0m2 6h0m9-8h0m7 14h0m0-10h0m3-4h0m2 5h0m1 10h0m1-8h0m5 0h0m0 0h0m15-2h0m3 7h0m16-9h0m11 6h0m11-1h0m5-7h0m17 1h0m19-1h0m23 0h0m29 21h0m-45 6h0m-11-8h0m-26 10h0m-8-8h0m-8-3h0m-1 0h0m-3 3h0m-10 3h0m-9 5h0m-1-5h0m-7 1h0m-3-8h0m-3 8h0m-5-2h0m-18-4h0m0 6h0m-4 1h0m-5 2h0m-3-7h0m-1 5h0m-1 1h0m-6-10h0m0 8h0m-3-3h0m-21 7h0m-9-11h0m-2 2h0m-1-5h0m-21 14h0m-24-6h0m-12-3h0m-11 2h0m-41 4h0m-2 2h0m16 5h0m20-1h0m1 9h0m24-7h0m29 12h0m1-15h0m3 13h0m3-13h0m6 8h0m12 3h0m1-3h0m4-5h0m3 12h0m4-5h0m2-7h0m10 9h0m3-12h0m5 10h0m1-9h0m7 12h0m1-11h0m5 6h0m1-1h0m3 8h0m1-6h0m26-2h0m1 1h0m9-4h0m3 11h0m36-10h0m11 5h0m6 4h0m13-9h0m40 9h0m3-7h0m-61 17h0m-13-4h0m-4-2h0m-2 2h0m-5 10h0m-21-9h0m-4-3h0m-1 11h0m-4-3h0m-9-9h0m-13 12h0m-6 2h0m-3-13h0m-12 4h0m-2-5h0m-2 7h0m-4-6h0m-10 2h0m-4 0h0m-13 3h0m-5 0h0m-10 4h0m-6-9h0m0 8h0m-20-3h0m-5-4h0m-37-1h0m-15 5h0m54 16h0m1 6h0m1-2h0m20-2h0m10-5h0m20 10h0m3-12h0m9 6h0m3 5h0m4 1h0m9-12h0m4 1h0m4 11h0m2-12h0m4 5h0m4 2h0m13-9h0m3 4h0m33 11h0m31-6h0m6-3h0m8 0h0m8 8h0m1-12h0m11 0h0m5 8h0m3 7h0m-12 3h0m-20 0h0m-8 9h0m-14-13h0m-23 4h0m-9 1h0m0 0h0m-4 9h0m-9-9h0m-4 8h0m0-3h0m-11 5h0m-7-1h0m-11-9h0m-16 6h0m-1-7h0m-4 4h0m-6-4h0m-4-4h0m-1 12h0m0-4h0m-7 6h0m-2-5h0m-2-5h0m0 7h0m-1-4h0m-17 3h0m-3-4h0m-4-6h0m-9 14h0m-32-3h0m-13-1h0m-33-7h0m17 22h0m2 3h0m19-9h0m18-1h0m4 12h0m15-4h0m16 0h0m3 3h0m1 2h0m3-2h0m8-9h0m3 4h0m6-4h0m2-3h0m6 2h0m5-3h0m0 13h0m1-12h0m3 12h0m2-9h0m0-3h0m6 0h0m2 11h0m8-1h0m1 0h0m2 1h0m3-12h0m2 12h0m13-4h0m4-4h0m10-3h0m0 14h0m10-14h0m11 8h0m15-9h0m62 8h0m4 1h0m13 1h0m17 5h0m-22 8h0m-13-4h0m-36 11h0m-7-11h0m-20-2h0m-53 12h0m-6-6h0m-7 1h0m-3-7h0m-6 3h0m-2 1h0m-3 10h0m-2-4h0m-12 3h0m-3-8h0m0 3h0m-22 5h0m-32-4h0m-41-8h0m-26 5h0m-10 13h0m2 6h0m26 1h0m42-6h0m20 3h0m8-3h0m10 8h0m1-3h0m15 2h0m1-8h0m3 6h0m1-8h0m0 10h0m1-9h0m7 10h0m4-5h0m6-3h0m6-3h0m3 13h0m10-14h0m15 5h0m16 0h0m10 6h0m1 3h0m3-11h0m8 1h0m6 1h0m6-2h0m24-4h0m28 4h0m27 13h0m-17 13h0m-21-13h0m-15 12h0m0-6h0m-4 4h0m-3-10h0m-14 14h0m-22-7h0m-14-2h0m-1 9h0m-7-12h0m-6 10h0m-4-4h0m-3-1h0m-12 7h0m-5-5h0m-16-10h0m-25 15h0m-1-11h0m-2 10h0m-2-5h0m-10 0h0m-6-2h0m-19 8h0m-5-10h0m-14-1h0m-17-3h0m-9 1h0m-31 8h0m20 12h0m19 7h0m14-6h0m12-3h0m8 6h0m31-1h0m8 0h0m0 3h0m1-3h0m9-1h0m22-6h0m31-2h0m7 15h0m10-10h0m57 3h0m-27 16h0m-2-5h0m-2-1h0m-13-2h0m0 8h0m-12-4h0m-17 3h0m-2 6h0m-8-13h0m0 15h0m-21-6h0m-18-8h0m-3 1h0m-14 6h0m-8-2h0m-15-1h0m-11 6h0m-2 2h0m-23-2h0m-2-2h0m-46 16h0m9-1h0m1 7h0m11-6h0m3-3h0m7 9h0m3-7h0m42 3h0m0-4h0m8-6h0m3 3h0m3-4h0m10 6h0m12 8h0m4-3h0m1-3h0m10 3h0m1-4h0m5-6h0m2 0h0m0 6h0m1-4h0m7 0h0m7 0h0m18-2h0m6 3h0m4 1h0m15-5h0m6 15h0m18-4h0m6-8h0m2 4h0m6-3h0m21-4h0m9 13h0m54 5h0m-5 4h0m-44 2h0m-30 6h0m-9-3h0m-26-8h0m-6 10h0m0-7h0m-10-4h0m0 5h0m-11 5h0m-4-12h0m-15 0h0m-9 11h0m-11 2h0m-18-12h0m-21 6h0m-15-3h0m-2 1h0m-26-2h0m-34 9h0m-12 10h0m5 3h0m4 4h0m51-7h0m11-2h0m5-4h0m45 10h0m5 2h0m6 1h0m6-3h0m0-5h0m6 9h0m9-6h0m5-2h0m17 3h0m27-4h0m7-3h0m13 6h0m17-5h0m8 12h0m11 0h0m32 12h0m-6-3h0m-10 1h0m-9-9h0m-8 14h0m-6 0h0m-5-7h0m-13 1h0m-32 7h0m-27-2h0m-21-7h0m-44-3h0m-4 2h0m-18 10h0m-2-6h0m-2-1h0m-2-7h0m-17-1h0m-35 2h0m-29 24h0m87 3h0m17-10h0m30-1h0m0 10h0m3-2h0m15-6h0m51 9h0m7-6h0m2 7h0m2-12h0m8 10h0m33-2h0m34 2h0m12-4h0m-22 11h0m-1 4h0m-22 2h0m-24-1h0m-19-3h0m-2 0h0m-12 4h0m-21-1h0m-2-4h0m-9 7h0m-20 2h0m-7-2h0m-4 2h0m-5-2h0m-8-7h0m-20-2h0m-2 3h0m-9 2h0m-15-7h0m-7 11h0m-5-10h0m-1-1h0m-42 16h0"/>
<path d="M340 15h0m46 14h0m-5 2h0m-50-5h0m-14 1h0m-6 3h0m-3-14h0m-39 12h0m-23-5h0m-5 0h0m-2-3h0m-4-2h0m0 3h0m-5 1h0m-6 3h0m-3-7h0m-2 1h0m-21-3h0m-17 15h0m0-3h0m-7 2h0m-53 11h0m31 4h0m9-2h0m7-9h0m24 9h0m15 2h0m6-4h0m8-8h0m2 14h0m8-5h0m4 4h0m2-7h0m0-2h0m3-3h0m6 13h0m4-11h0m3 5h0m1-6h0m8 10h0m4-2h0m5-10h0m4 2h0m4 7h0m7 5h0m2-3h0m14-10h0m1 1h0m15 0h0m6 2h0m4 4h0m4-8h0m9 13h0m19 0h0m17-4h0m8 5h0m23-15h0m0 8h0m-30 17h0m-19 0h0m-29 1h0m-2-8h0m-2-2h0m-1 10h0m-26 2h0m-9-3h0m-3-9h0m-1 3h0m-5 2h0m0 7h0m-2-4h0m-2 1h0m-9-7h0m-3 8h0m0 4h0m-11-2h0m-2-1h0m-4 3h0m0-1h0m-8-5h0m-6-2h0m-16 0h0m-5-3h0m-3 12h0m-15 0h0m-12-3h0m-4 2h0m-3-14h0m-4 15h0m-1-8h0m-2 8h0m-11 0h0m-10-12h0m-33 16h0m1 10h0m20-10h0m9 3h0m13-1h0m16-3h0m7 11h0m7-3h0m8-1h0m1-6h0m2 4h0m14-3h0m4-2h0m1-1h0m5 7h0m3-8h0m3 0h0m2 15h0m4-15h0m5 4h0m2-4h0m2 9h0m1-3h0m1 5h0m6-4h0m3-4h0m7 12h0m0-10h0m1-5h0m1 3h0m2 2h0m1 4h0m1 4h0m1-10h0m5-2h0m0 5h0m1 7h0m44-12h0m5 13h0m1-14h0m31 8h0m51-5h0m8 26h0m-14-6h0m-46 5h0m-5-9h0m-2 2h0m-14 7h0m-1 0h0m-7 1h0m-19 2h0m0-6h0m-19-8h0m-2 4h0m-8 2h0m-2 1h0m-5-3h0m0 6h0m-1-2h0m-2 0h0m-2-6h0m-1-1h0m0 2h0m-14 0h0m-13 5h0m-3 1h0m0-4h0m-9 7h0m-13-11h0m-23-1h0m0 3h0m-7 0h0m-10 8h0m-18-5h0m-13 1h0m-1 0h0m-27 9h0m12 1h0m0-2h0m19 3h0m6 0h0m42 5h0m13-8h0m5 1h0m7 12h0m1-13h0m4 1h0m4 4h0m15 0h0m11 2h0m6 8h0m4-11h0m1 5h0m9 0h0m3-9h0m9 15h0m2-3h0m9-5h0m3 4h0m6-7h0m0 0h0m1 0h0m3 11h0m0-8h0m6 0h0m6 5h0m2-7h0m2 7h0m0-9h0m16 2h0m19 6h0m54-8h0m14 11h0m-54 16h0m-11-12h0m-5 10h0m-28-10h0m-9 2h0m-18 6h0m-3 4h0m-1-9h0m-4 6h0m-2-8h0m-9 7h0m-2-6h0m-10 6h0m-4 3h0m-3-4h0m-1 1h0m-12-5h0m0-1h0m-4 8h0m-20-10h0m-8 12h0m-9-10h0m-1 0h0m-11-2h0m-3 10h0m-6-3h0m-15 2h0m-21 0h0m-22 3h0m-20 2h0m44 3h0m3 0h0m15 7h0m1 1h0m5-11h0m18 7h0m10-7h0m0 10h0m14-4h0m8-2h0m1 4h0m4 4h0m1 0h0m1-5h0m6 4h0m1-4h0m2-2h0m1 9h0m1-5h0m1 6h0m1-6h0m1 0h0m1-1h0m2 3h0m0-6h0m2 7h0m2-8h0m6 8h0m1 0h0m0-8h0m0-4h0m5 13h0m1-12h0m3 13h0m0 0h0m10-13h0m5 2h0m0 0h0m1 9h0m12-10h0m1 4h0m9 7h0m1-5h0m23 4h0m0 0h0m5-1h0m60-1h0m12 4h0m10 5h0m-25 11h0m-28-8h0m-16-6h0m-19 13h0m-1 1h0m-16-3h0m-4-9h0m-4 5h0m-6 2h0m-21 1h0m-1-7h0m-7-2h0m-5 11h0m-18 1h0m-17-6h0m-6-2h0m-12 4h0m-26-5h0m-34-4h0m-12 0h0m-13 29h0m6-11h0m61 4h0m11 5h0m5 1h0m14-9h0m1-3h0m6 14h0m6 1h0m1-5h0m1 4h0m2-11h0m2 9h0m1 2h0m4-8h0m9 3h0m9 2h0m1-6h0m2 2h0m2 0h0m7-6h0m1 14h0m3-7h0m3 4h0m18-3h0m6-5h0m2-3h0m3 14h0m4-13h0m11 5h0m1-3h0m14 6h0m25-5h0m16 5h0m34-2h0m16 2h0m-22 16h0m-4-10h0m-30 15h0m-4-7h0m-6-2h0m-31-2h0m-16 2h0m-19 9h0m-20-12h0m-3-2h0m-4 2h0m0 4h0m-9 8h0m-2-15h0m-9 0h0m-2 5h0m-13-1h0m-9 10h0m-9 0h0m-3-9h0m-3 2h0m-5 4h0m-10-9h0m-15 10h0m-13-9h0m-12 0h0m-4-2h0m-27 5h0m-1-3h0m-11 11h0m-9 1h0m17 11h0m35 2h0m46-8h0m14-3h0m1 10h0m1-1h0m7-8h0m10 9h0m17 4h0m2-3h0m3 2h0m3-1h0m7-8h0m14-4h0m5 14h0m60-1h0m4-12h0m31 7h0m6 4h0m22 2h0m2-7h0m-8 23h0m-12-12h0m-17 8h0m-15-2h0m-7-1h0m-14 1h0m-4-9h0m-7 3h0m-4 10h0m-6-11h0m-4 8h0m-1-4h0m-1 8h0m-20-5h0m-19 5h0m-2-3h0m-2-8h0m-10 6h0m-7 5h0m-24-9h0m-8 9h0m-24-4h0m-18-9h0m-45 6h0m0 4h0m-6 2h0m-6-7h0m9 10h0m16 15h0m21-1h0m13-7h0m6 7h0m38-14h0m5 14h0m10-9h0m3 10h0m11-2h0m0-12h0m4 0h0m21 13h0m4-3h0m16 1h0m0-4h0m15 5h0m4-7h0m6 4h0m10-2h0m35-3h0m4-3h0m3-2h0m33 6h0m8 15h0m-38 6h0m-12-3h0m-15-6h0m-6 9h0m-3-11h0m-2 11h0m-8-10h0m-16 2h0m-28 5h0m-9 1h0m-1-9h0m-4 9h0m-1-6h0m-2 3h0m-1 5h0m0-2h0m-2-9h0m-8 6h0m0-2h0m-3-3h0m-6 2h0m-20 2h0m-5-1h0m-5 2h0m-1-2h0m-3-2h0m-1 0h0m-1 3h0m-16-4h0m-31 10h0m-18-4h0m-28 8h0m-11 0h0m30 6h0m36-1h0m3 4h0m8 0h0m41 5h0m51 0h0m42 0h0m4-13h0m2 0h0m21 10h0m3-2h0m20 1h0m25-6h0m3 3h0m7 9h0m7-14h0m0 22h0m-32-3h0m-19 6h0m-12-1h0m-5 4h0m-7-11h0m-4 4h0m-2 8h0m-17-5h0m-13 4h0m-13-6h0m-17-5h0m-6 12h0m-7-9h0m-8 1h0m-9 0h0m-55 6h0m-26 2h0m-5-9h0m-10 10h0m-5-15h0m-19 4h0m-13 13h0m41 7h0m0-5h0m104 6h0m7-4h0m23 7h0m2-9h0m4-2h0m6 5h0m13 1h0m1 5h0m9 0h0m21 3h0m4-15h0m3 12h0m32-4h0m9-1h0m17-3h0m17 22h0m-4-10h0m-10 7h0m-14 6h0m-27-3h0m-12 4h0m0-6h0m-47 3h0m-18-3h0m-7 6h0m-5-14h0m-1 8h0m-21-4h0m-52 11h0m-40-2h0m-32-12h0m28 24h0m36 4h0m11-10h0m38 4h0m8 1h0m9-8h0m13 10h0m30-5h0m3-5h0m26 0h0m10 7h0m7 5h0m33-8h0m18-1h0m22-1h0m-19 23h0m-18-8h0m-32 7h0m-8 1h0m-36 3h0m-29-3h0m-10-5h0m-12-3h0m-31 5h0m-3 3h0m-16 3h0m-32 0h0m-33 4h0"/>
<path d="M399 20h0m-25-4h0m-10 7h0m-46 7h0m-19-2h0m-7 1h0m-20-8h0m-1 5h0m0-7h0m-1 6h0m-4 5h0m-2-13h0m0 8h0m0-1h0m-1-8h0m-1 8h0m-2 4h0m-3 0h0m-15-12h0m-3 6h0m-1 0h0m-4 8h0m-2-1h0m-3 0h0m-16-7h0m-7-6h0m-28 9h0m-3-5h0m-2 4h0m-11-5h0m-36-1h0m-10 3h0m-2 13h0m4 2h0m6 8h0m5-2h0m42 3h0m0-6h0m3 7h0m9 0h0m7 1h0m9-12h0m4 0h0m3 4h0m3 5h0m27-11h0m3 10h0m2-4h0m5 6h0m5-10h0m7 0h0m1-1h0m1 13h0m2-6h0m8 0h0m4-1h0m5-8h0m6 3h0m8-3h0m3 15h0m4 0h0m2-15h0m9 15h0m58-11h0m3 8h0m13 0h0m53-3h0m-12 15h0m-1 2h0m-14 2h0m-25-3h0m-12-3h0m-25 6h0m-26-10h0m-19 3h0m-5 7h0m-4-3h0m-7 3h0m-5-12h0m-7 12h0m-8-9h0m0 3h0m-2 7h0m-3-10h0m-5 2h0m-4 10h0m-1-11h0m-3-4h0m-5 9h0m-10-5h0m0 8h0m-6-6h0m-22 3h0m-9 6h0m-9-6h0m-8 3h0m-4-9h0m-14 9h0m-6-9h0m-36 3h0m-7 12h0m4 4h0m2 6h0m22-3h0m16-5h0m11 4h0m2-5h0m22-1h0m3 4h0m8 6h0m8-7h0m20 5h0m8-5h0m9 2h0m4 7h0m2-5h0m4-9h0m7 5h0m7-2h0m3 3h0m9-3h0m2 11h0m6-2h0m8-8h0m20 8h0m2 3h0m1-3h0m0-12h0m16 5h0m15 8h0m4 0h0m11-5h0m11-6h0m21 5h0m14 3h0m-17 18h0m-19 2h0m-5-11h0m-22 5h0m-24 2h0m-1-9h0m-2 3h0m-7 5h0m-2-9h0m-7 1h0m-12 0h0m-1 13h0m-18-2h0m-11-3h0m-5 6h0m0-8h0m-3 7h0m-3-3h0m-4-10h0m-3 14h0m-2-2h0m0-8h0m-1 7h0m-8-8h0m-2 4h0m-2-7h0m-21 12h0m0-7h0m-3 8h0m-11-6h0m-12-2h0m-13 8h0m-3-8h0m-1 4h0m-42 2h0m15 9h0m59 8h0m16-11h0m0 6h0m6 0h0m2-2h0m0 3h0m1 3h0m6-1h0m1-5h0m7-5h0m11 1h0m8-1h0m0 3h0m7 10h0m3-3h0m3 4h0m0-14h0m3 3h0m10 11h0m3-15h0m28 12h0m9-5h0m11-6h0m11 12h0m59-12h0m14 6h0m17 6h0m-10 3h0m-23 0h0m-34 10h0m-5 3h0m-6-13h0m-5 5h0m-16-5h0m-3 15h0m-11-5h0m-7-5h0m-4 8h0m-7 0h0m-4-7h0m-1-6h0m-2 8h0m-2 6h0m-3-1h0m-18-2h0m0 2h0m-2-2h0m-4-10h0m-2 1h0m-8 10h0m-1-8h0m-7 6h0m-1-10h0m-5 13h0m-3-3h0m-3 1h0m-7-1h0m-2 2h0m-14 1h0m-39 1h0m-9-4h0m-6-8h0m-38 4h0m-10 23h0m15-13h0m42 4h0m5 11h0m7-10h0m16-2h0m17 9h0m1-9h0m3 8h0m5-6h0m0 10h0m1-9h0m11-1h0m2-2h0m2 10h0m6-7h0m2-3h0m4 5h0m4-4h0m3-2h0m0 1h0m9-1h0m3 9h0m2 0h0m1-6h0m4-5h0m5 0h0m15 1h0m2 8h0m9-9h0m8 9h0m4-3h0m11 6h0m95 0h0m2-4h0m-3 11h0m-80 6h0m-41 4h0m-13-12h0m-3 2h0m-10 1h0m-1 7h0m-3-4h0m-7 6h0m-1-7h0m-4-2h0m-17-2h0m-15-1h0m-2 14h0m-1-7h0m-3-4h0m-15-4h0m-1 14h0m-16-6h0m-14-7h0m-5-1h0m-11 8h0m-47-1h0m19 14h0m21-3h0m29 10h0m18-10h0m2 8h0m2 5h0m6-13h0m3-2h0m5 10h0m9-8h0m0 4h0m5 7h0m4-7h0m2-6h0m4 8h0m10-1h0m3 0h0m1-6h0m15 1h0m4 9h0m1-11h0m0 3h0m9 5h0m3-5h0m21 1h0m14-3h0m100 29h0m-15 0h0m-15-5h0m-9 4h0m-4-4h0m-14 3h0m-23-11h0m-19 8h0m-7-4h0m-4-3h0m-15 12h0m-2-7h0m-13 8h0m-3-1h0m-7-4h0m-7-5h0m-6 1h0m-11 4h0m-29-10h0m-4 4h0m-29 6h0m0 5h0m-6-3h0m-15-5h0m-1-2h0m-15 9h0m-1-1h0m-17-6h0m-16 12h0m6 6h0m28 6h0m28-13h0m1 7h0m5 2h0m19-8h0m22 3h0m2-4h0m8 9h0m3-11h0m7 0h0m2 12h0m3 1h0m4-4h0m9-2h0m3-7h0m5 7h0m16 5h0m1-8h0m23 0h0m17 4h0m0-6h0m3 9h0m3-8h0m8 5h0m17 3h0m67 8h0m-1 12h0m-23-13h0m0 13h0m-1-15h0m-27 1h0m-4 1h0m-13 5h0m-18 1h0m-9-7h0m-40 9h0m-11-4h0m-2 7h0m-1-9h0m-6-2h0m-2 3h0m-7 3h0m-1 4h0m-6-4h0m-5 6h0m-1-7h0m-1 2h0m-5 6h0m-9-15h0m-9 1h0m-15 13h0m-56-13h0m-36 10h0m7 16h0m4-6h0m78 8h0m0-6h0m5-4h0m9 7h0m25-2h0m1 2h0m1-5h0m6 3h0m2 7h0m1-12h0m19 12h0m11-12h0m3 4h0m8 0h0m3 4h0m13-9h0m4 11h0m12-3h0m2-4h0m10-5h0m4 12h0m6-9h0m2-4h0m10 5h0m30 10h0m26 0h0m8-10h0m2 18h0m-38 8h0m-29 0h0m-7-12h0m-5 4h0m-2-6h0m-18 7h0m-10 2h0m-4 3h0m-1-8h0m-9 8h0m-24-4h0m-38 0h0m-9-7h0m-32 10h0m-5-1h0m-1 3h0m-53 0h0m-40 1h0m10 15h0m42-12h0m14 7h0m8 1h0m36 4h0m4-2h0m14 2h0m9-4h0m15-9h0m4 13h0m8-14h0m2 4h0m7 6h0m0-7h0m8 9h0m8 2h0m21 1h0m4-10h0m6-2h0m1 8h0m3-5h0m31 5h0m10-1h0m13-5h0m50 23h0m-26-4h0m-11-8h0m-23 10h0m-16-4h0m-7 3h0m-4 5h0m-59-7h0m-27 8h0m-17 0h0m-5-8h0m-5-1h0m-9-6h0m-2 13h0m-9-13h0m-3 4h0m-8 4h0m-1 0h0m0-7h0m-1 3h0m-21-2h0m-5 9h0m-7-3h0m-20 7h0m-32-13h0m17 27h0m16-3h0m10 4h0m24 1h0m8-7h0m32-7h0m5 7h0m28-3h0m2-3h0m20 7h0m6-1h0m0-5h0m7 6h0m1 0h0m31-2h0m4 7h0m15-8h0m21-3h0m8 2h0m13 4h0m26-1h0m7-4h0m17 0h0m-45 18h0m-8-2h0m-37-1h0m-9-3h0m-8 1h0m-33 7h0m-28 2h0m-4-2h0m-9-5h0m-6 2h0m-2 4h0m-12 1h0m0-7h0m-34 1h0m-72 8h0m-9 8h0m12 11h0m17-9h0m0 0h0m25 9h0m10-14h0m12 1h0m19 0h0m1 5h0m15-1h0m10 8h0m1-3h0m4 1h0m3-8h0m8-4h0m9 11h0m11-9h0m1 1h0m1-3h0m7 14h0m4-3h0m18-11h0m18 12h0m36-2h0m21-7h0m16-3h0m29 19h0m-65 10h0m-2-3h0m-5-5h0m-18-4h0m-8 9h0m-10-10h0m-4 15h0m-40-3h0m-3-5h0m-24-7h0m-29 12h0m-6 2h0m-6-1h0m-85-11h0m-12 3h0"/>
</g>
<g fill="#ffaa00" stroke="#000" stroke-width="0.9"><circle cx="90.5" cy="59.3" r="2.3"/><circle cx="93.0" cy="58.3" r="2.3"/><circle cx="89.4" cy="57.3" r="2.3"/><circle cx="97.6" cy="61.4" r="2.3"/><circle cx="102.0" cy="59.3" r="2.3"/><circle cx="105.8" cy="62.9" r="2.3"/><circle cx="86.4" cy="63.4" r="2.3"/><circle cx="83.8" cy="65.5" r="2.3"/><circle cx="94.6" cy="63.9" r="2.3"/><circle cx="91.0" cy="65.5" r="2.3"/><circle cx="87.9" cy="67.0" r="2.3"/><circle cx="99.7" cy="66.5" r="2.3"/><circle cx="103.6" cy="66.0" r="2.3"/><circle cx="107.9" cy="68.3" r="2.3"/><circle cx="93.5" cy="68.5" r="2.3"/><circle cx="87.9" cy="71.1" r="2.3"/><circle cx="92.0" cy="71.8" r="2.3"/><circle cx="95.6" cy="73.7" r="2.3"/><circle cx="100.4" cy="72.1" r="2.3"/><circle cx="105.5" cy="72.4" r="2.3"/><circle cx="86.4" cy="74.5" r="2.3"/><circle cx="91.5" cy="76.2" r="2.3"/><circle cx="96.4" cy="77.8" r="2.3"/><circle cx="89.4" cy="78.8" r="2.3"/><circle cx="103.6" cy="78.0" r="2.3"/><circle cx="102.5" cy="74.7" r="2.3"/><circle cx="98.7" cy="75.2" r="2.3"/><circle cx="82.3" cy="65.0" r="2.3"/><circle cx="88.3" cy="62.1" r="2.3"/><circle cx="94.2" cy="68.4" r="2.3"/><circle cx="95.7" cy="68.2" r="2.3"/><circle cx="101.0" cy="67.0" r="2.3"/><circle cx="106.3" cy="72.4" r="2.3"/><circle cx="102.3" cy="65.5" r="2.3"/><circle cx="91.0" cy="74.2" r="2.3"/><circle cx="95.3" cy="63.1" r="2.3"/><circle cx="96.9" cy="74.9" r="2.3"/><circle cx="90.7" cy="69.4" r="2.3"/><circle cx="103.8" cy="68.5" r="2.3"/><circle cx="91.7" cy="62.8" r="2.3"/><circle cx="99.3" cy="60.2" r="2.3"/><circle cx="96.7" cy="57.9" r="2.3"/></g>
<g fill="#0000ff" stroke="#000" stroke-width="0.9"><circle cx="154.6" cy="96.7" r="2.3"/><circle cx="161.4" cy="96.3" r="2.3"/><circle cx="165.7" cy="99.1" r="2.3"/><circle cx="148.5" cy="100.7" r="2.3"/><circle cx="178.6" cy="104.7" r="2.3"/><circle cx="171.8" cy="104.7" r="2.3"/><circle cx="163.2" cy="104.7" r="2.3"/><circle cx="180.4" cy="109.6" r="2.3"/><circle cx="147.2" cy="110.8" r="2.3"/><circle cx="182.9" cy="115.8" r="2.3"/><circle cx="140.8" cy="118.2" r="2.3"/><circle cx="142.1" cy="125.0" r="2.3"/><circle cx="149.7" cy="134.2" r="2.3"/><circle cx="154.6" cy="135.4" r="2.3"/><circle cx="159.5" cy="139.1" r="2.3"/><circle cx="165.1" cy="135.4" r="2.3"/><circle cx="166.9" cy="138.5" r="2.3"/><circle cx="176.7" cy="125.0" r="2.3"/><circle cx="175.5" cy="120.7" r="2.3"/><circle cx="176.5" cy="116.3" r="2.3"/><circle cx="158.5" cy="111.2" r="2.3"/><circle cx="147.5" cy="117.7" r="2.3"/><circle cx="168.9" cy="125.7" r="2.3"/><circle cx="169.0" cy="114.3" r="2.3"/><circle cx="155.9" cy="105.6" r="2.3"/><circle cx="159.2" cy="107.1" r="2.3"/><circle cx="154.3" cy="112.9" r="2.3"/><circle cx="163.4" cy="115.5" r="2.3"/><circle cx="174.1" cy="117.4" r="2.3"/><circle cx="171.4" cy="121.1" r="2.3"/><circle cx="166.6" cy="107.1" r="2.3"/><circle cx="172.5" cy="118.8" r="2.3"/><circle cx="152.0" cy="127.2" r="2.3"/><circle cx="159.8" cy="114.1" r="2.3"/><circle cx="163.8" cy="128.4" r="2.3"/><circle cx="165.7" cy="124.1" r="2.3"/><circle cx="173.7" cy="115.0" r="2.3"/><circle cx="177.6" cy="116.0" r="2.3"/><circle cx="154.3" cy="110.1" r="2.3"/><circle cx="175.5" cy="121.7" r="2.3"/><circle cx="173.7" cy="107.0" r="2.3"/><circle cx="171.6" cy="113.0" r="2.3"/><circle cx="176.8" cy="120.7" r="2.3"/><circle cx="151.3" cy="113.0" r="2.3"/><circle cx="169.2" cy="119.8" r="2.3"/><circle cx="154.8" cy="128.2" r="2.3"/><circle cx="152.7" cy="111.5" r="2.3"/><circle cx="172.5" cy="109.5" r="2.3"/><circle cx="168.3" cy="118.8" r="2.3"/><circle cx="163.3" cy="125.2" r="2.3"/><circle cx="164.2" cy="111.3" r="2.3"/><circle cx="168.2" cy="111.2" r="2.3"/><circle cx="177.6" cy="113.5" r="2.3"/><circle cx="157.0" cy="111.2" r="2.3"/><circle cx="158.3" cy="118.5" r="2.3"/><circle cx="158.1" cy="111.3" r="2.3"/><circle cx="162.4" cy="115.0" r="2.3"/><circle cx="163.1" cy="119.8" r="2.3"/><circle cx="152.1" cy="113.7" r="2.3"/><circle cx="165.6" cy="126.2" r="2.3"/><circle cx="152.3" cy="111.6" r="2.3"/><circle cx="160.4" cy="110.8" r="2.3"/><circle cx="161.0" cy="129.0" r="2.3"/><circle cx="175.6" cy="117.6" r="2.3"/><circle cx="176.9" cy="123.6" r="2.3"/><circle cx="172.2" cy="119.7" r="2.3"/><circle cx="176.4" cy="112.9" r="2.3"/><circle cx="160.6" cy="122.4" r="2.3"/><circle cx="175.0" cy="119.4" r="2.3"/><circle cx="162.6" cy="127.3" r="2.3"/><circle cx="164.9" cy="102.3" r="2.3"/><circle cx="165.3" cy="123.5" r="2.3"/><circle cx="151.7" cy="118.3" r="2.3"/><circle cx="157.8" cy="111.5" r="2.3"/><circle cx="161.7" cy="113.6" r="2.3"/><circle cx="166.1" cy="113.8" r="2.3"/><circle cx="161.9" cy="106.4" r="2.3"/><circle cx="155.8" cy="112.4" r="2.3"/><circle cx="153.2" cy="123.3" r="2.3"/><circle cx="163.1" cy="104.9" r="2.3"/><circle cx="153.0" cy="114.0" r="2.3"/><circle cx="162.1" cy="112.4" r="2.3"/><circle cx="164.5" cy="120.1" r="2.3"/><circle cx="156.0" cy="116.6" r="2.3"/><circle cx="147.9" cy="117.4" r="2.3"/><circle cx="165.4" cy="108.1" r="2.3"/><circle cx="169.9" cy="121.6" r="2.3"/><circle cx="159.5" cy="109.8" r="2.3"/><circle cx="159.8" cy="124.3" r="2.3"/><circle cx="170.7" cy="113.9" r="2.3"/><circle cx="153.7" cy="128.9" r="2.3"/><circle cx="169.1" cy="113.8" r="2.3"/><circle cx="158.0" cy="125.2" r="2.3"/><circle cx="161.8" cy="117.8" r="2.3"/><circle cx="161.4" cy="117.0" r="2.3"/><circle cx="149.7" cy="116.9" r="2.3"/><circle cx="163.9" cy="116.1" r="2.3"/><circle cx="156.1" cy="118.7" r="2.3"/><circle cx="161.0" cy="117.7" r="2.3"/><circle cx="174.7" cy="114.4" r="2.3"/><circle cx="167.2" cy="116.1" r="2.3"/><circle cx="164.0" cy="115.1" r="2.3"/><circle cx="166.4" cy="126.7" r="2.3"/><circle cx="156.6" cy="120.6" r="2.3"/><circle cx="159.5" cy="116.1" r="2.3"/><circle cx="169.3" cy="110.3" r="2.3"/><circle cx="163.7" cy="123.5" r="2.3"/><circle cx="176.6" cy="112.2" r="2.3"/><circle cx="163.9" cy="115.0" r="2.3"/><circle cx="164.6" cy="128.5" r="2.3"/><circle cx="164.7" cy="121.4" r="2.3"/><circle cx="167.9" cy="106.2" r="2.3"/><circle cx="153.6" cy="117.3" r="2.3"/><circle cx="159.8" cy="126.0" r="2.3"/><circle cx="152.5" cy="118.6" r="2.3"/><circle cx="164.0" cy="120.2" r="2.3"/><circle cx="164.1" cy="129.8" r="2.3"/><circle cx="163.0" cy="111.3" r="2.3"/><circle cx="158.3" cy="115.9" r="2.3"/><circle cx="154.3" cy="120.7" r="2.3"/><circle cx="175.6" cy="113.4" r="2.3"/><circle cx="167.7" cy="117.4" r="2.3"/><circle cx="156.5" cy="110.5" r="2.3"/><circle cx="155.4" cy="127.9" r="2.3"/><circle cx="160.9" cy="108.1" r="2.3"/><circle cx="167.2" cy="121.4" r="2.3"/><circle cx="154.2" cy="116.3" r="2.3"/><circle cx="165.0" cy="114.8" r="2.3"/><circle cx="157.7" cy="114.9" r="2.3"/><circle cx="175.7" cy="125.2" r="2.3"/><circle cx="165.5" cy="120.6" r="2.3"/><circle cx="173.7" cy="116.4" r="2.3"/><circle cx="164.4" cy="108.3" r="2.3"/><circle cx="166.5" cy="121.3" r="2.3"/><circle cx="165.4" cy="116.8" r="2.3"/><circle cx="154.3" cy="128.5" r="2.3"/><circle cx="158.8" cy="115.6" r="2.3"/><circle cx="162.9" cy="103.1" r="2.3"/><circle cx="156.5" cy="124.0" r="2.3"/><circle cx="171.4" cy="121.6" r="2.3"/><circle cx="158.5" cy="115.3" r="2.3"/></g>
</g>
<g clip-path="url(#c2)">
<g transform="scale(0.5)" stroke="#000" stroke-width="3.20" stroke-linecap="round" fill="none" stroke-opacity="0.42">
<path d="M761 40h0m51 19h0m-45-3h0m-15 7h0m-4-12h0m-17 12h0m-29-6h0m10 14h0m12-3h0m19-4h0m7 0h0m4 15h0m28-7h0m3-4h0m6 6h0m0-3h0m55 19h0m-19 3h0m-22 0h0m-4 1h0m-20 1h0m-24-3h0m-16-5h0m-20 6h0m-67-8h0m-18 13h0m11 0h0m7 9h0m8-7h0m27 9h0m35-9h0m11-3h0m9 5h0m8-2h0m37-2h0m17 5h0m1 6h0m1-5h0m23-4h0m9 11h0m8 7h0m-6-4h0m-2 11h0m-21-11h0m-16 7h0m0-9h0m-10 11h0m-9-11h0m-9 7h0m-24 3h0m-2-9h0m-9 7h0m-5 2h0m-1-5h0m-13-5h0m-3 2h0m-5 7h0m-41 6h0m-35 11h0m11 1h0m8 0h0m6-2h0m10-3h0m15 2h0m19 0h0m1-5h0m11 9h0m5-7h0m14 1h0m1-1h0m0 1h0m5 5h0m9-2h0m0-1h0m12 1h0m8-4h0m1-1h0m32-1h0m33 5h0m3-6h0m5 12h0m10-4h0m17 9h0m-22 1h0m-16 7h0m-14 1h0m-25-2h0m-11 4h0m-1-10h0m-9-3h0m-20 0h0m-1 7h0m-8 4h0m-5 0h0m-3 2h0m-5-10h0m-1 6h0m-2-7h0m-5 11h0m-2-3h0m-13 0h0m-2-2h0m-2-3h0m-3-5h0m-10-1h0m-1 5h0m-33 3h0m-7 14h0m3 9h0m1-8h0m15 5h0m7 1h0m2 0h0m2-12h0m2 3h0m1 5h0m3 2h0m8 4h0m13-6h0m0-2h0m5 8h0m5-11h0m11 6h0m0-6h0m15-2h0m0 9h0m0-4h0m10 3h0m10 5h0m9-2h0m23-8h0m4 9h0m1-14h0m2 11h0m2-10h0m1 5h0m8 4h0m11 3h0m18-1h0m19 15h0m-26-10h0m-7 9h0m-6 3h0m-23-6h0m-16-1h0m-3 1h0m-15-5h0m-6 1h0m-3 4h0m-7 2h0m-6-4h0m-6 0h0m0 5h0m-3-10h0m-9 9h0m0-9h0m-21 9h0m-8-7h0m0 10h0m-1 3h0m-2-5h0m-8-4h0m-9-2h0m-5 0h0m-9-4h0m-9 0h0m0 1h0m-14 6h0m0 7h0m-5-9h0m-12 3h0m-4-2h0m-19 17h0m39-3h0m6 5h0m3 0h0m5 3h0m7-3h0m2-4h0m0 1h0m4-1h0m4-3h0m6-2h0m8 12h0m1-12h0m1 1h0m13 11h0m3 1h0m1-13h0m9 8h0m6-4h0m3 8h0m3-7h0m2-4h0m8 11h0m6-8h0m5 9h0m0-1h0m1 2h0m5-2h0m9-10h0m0 6h0m26-4h0m3 11h0m14-12h0m1-1h0m27 8h0m3-7h0m16-3h0m5 1h0m1 3h0m9 22h0m-3-8h0m-1 9h0m-24 1h0m-2 2h0m-4-14h0m-1 10h0m-14-3h0m-13 5h0m-6-11h0m-4 2h0m-6 7h0m-2-3h0m-7-6h0m-1 1h0m-7 3h0m0-4h0m-1 12h0m-7-8h0m-6-1h0m-1 8h0m-7 0h0m-8-10h0m-2 11h0m0-10h0m-2 9h0m-2-10h0m-11 7h0m-8 0h0m-2 4h0m-1-11h0m-13 9h0m-3 4h0m-2-9h0m-2 0h0m-4-2h0m-2 4h0m0 5h0m-1-8h0m-7 5h0m-1-3h0m-3-6h0m-1 11h0m-1-7h0m-3-5h0m-9 4h0m-3 0h0m-14 4h0m-1 5h0m-7-5h0m-6 0h0m-17 2h0m-10 3h0m-17-1h0m-4-3h0m-7 9h0m5 1h0m0 2h0m12 7h0m29-5h0m5 3h0m4-7h0m9-3h0m1 0h0m4 0h0m14 14h0m1-13h0m1 2h0m4 11h0m7-1h0m8-13h0m2 2h0m0 9h0m4-2h0m1 0h0m4 3h0m7-7h0m0 10h0m9-13h0m0 9h0m6-4h0m3-3h0m9 10h0m3-12h0m6-1h0m1 3h0m2 8h0m1 3h0m0-1h0m2-3h0m0-6h0m4 5h0m7-7h0m2 2h0m3 8h0m0-9h0m2-3h0m1 5h0m12-6h0m2 5h0m4 6h0m11-4h0m8 0h0m3 2h0m6 6h0m4-2h0m0-7h0m2 8h0m1-11h0m0 0h0m5 8h0m6 3h0m3-12h0m0 13h0m1-15h0m11 15h0m4-14h0m26 0h0m-42 23h0m-12 1h0m-3 4h0m-2-2h0m-1-2h0m-3-6h0m-8 8h0m-18 3h0m-10-8h0m-13-6h0m-2 10h0m0-1h0m-1-2h0m-2 5h0m-1-2h0m-1 3h0m-4 1h0m-6-5h0m-2 1h0m-7-3h0m-1 1h0m-1-7h0m-2 8h0m-3 5h0m-5-1h0m-7-12h0m-1 14h0m-3-12h0m-2 11h0m-5 0h0m0-10h0m-4 9h0m-7 0h0m-1 0h0m-11-10h0m-11 0h0m-2 6h0m-1-3h0m-2-4h0m-5-2h0m-1 15h0m0-11h0m-2-4h0m-3 11h0m-4-7h0m-1 3h0m-3 2h0m-1 0h0m-6-7h0m-8 10h0m-1 2h0m-1-13h0m-7 3h0m-4 5h0m-4-3h0m-11-4h0m-13 13h0m-3-5h0m-17 13h0m1 5h0m4-10h0m6 11h0m18 1h0m16-14h0m2 0h0m16 10h0m13 2h0m1-9h0m14 6h0m9 6h0m1-5h0m11 4h0m3-1h0m7 0h0m1 2h0m9-14h0m1 8h0m4-6h0m2 12h0m5-2h0m7 1h0m0-5h0m7-6h0m5 5h0m3-8h0m8 14h0m8 0h0m1-1h0m1 1h0m2-4h0m0 3h0m2-2h0m0-10h0m2 7h0m2-7h0m0 1h0m3 13h0m2-4h0m0 0h0m2 3h0m1-6h0m1-8h0m2 9h0m4-5h0m1 4h0m4 7h0m2-4h0m9 1h0m0-6h0m13-5h0m1 0h0m6 7h0m9 7h0m2-8h0m0-6h0m5 9h0m6-8h0m5 7h0m6-2h0m5-1h0m1-1h0m4 8h0m18-8h0m1 6h0m2-11h0m-5 16h0m-12 11h0m-1-1h0m-7-10h0m-1 9h0m-10-9h0m-2 8h0m-3-6h0m-3 1h0m-5 5h0m-4 6h0m-7 0h0m-6-2h0m0 2h0m-3-12h0m-3-2h0m-1 0h0m-1 2h0m-1 0h0m-2 10h0m-1 3h0m-6-9h0m-7-1h0m0 2h0m-10-6h0m-5 2h0m-1 3h0m-4 5h0m-4-7h0m-3 9h0m-2-2h0m0-4h0m-1 3h0m-3-3h0m-1 5h0m-2-2h0m-2-7h0m-4 8h0m-3 1h0m-2-5h0m-6 0h0m-1 2h0m0-6h0m-3 9h0m-1 0h0m-4-7h0m-1 7h0m-1-3h0m-1-1h0m-3 7h0m-1-1h0m-3-3h0m-1-1h0m-5 4h0m-2-11h0m-7 2h0m-5-2h0m-2 11h0m-5-13h0m-2 10h0m-1 4h0m-1-1h0m-5 1h0m0-10h0m-1 1h0m-9-2h0m-3 7h0m0-5h0m-5 0h0m-2 7h0m-1-6h0m-3 7h0m-1-11h0m-3 11h0m-6-10h0m-1 0h0m0-1h0m-5-3h0m-5 2h0m0 5h0m-6 0h0m-11-7h0m-2 5h0m-7 7h0m-6-3h0m-7-5h0m-9 0h0m-1-4h0m-8 5h0m-3-3h0m-2 3h0m-6-3h0m-1 8h0m-8 4h0m-3 7h0m14 2h0m10 5h0m27-12h0m0 0h0m1 0h0m6 8h0m2-5h0m0 12h0m2-15h0m3 7h0m3-3h0m8-4h0m3 12h0m10-12h0m5 1h0m0 1h0m1 9h0m5-10h0m0 8h0m0-2h0m2-4h0m3 9h0m0-12h0m0 13h0m1-11h0m0 5h0m2 5h0m4 1h0m2-2h0m4-2h0m2 6h0m2-15h0m12 7h0m1-3h0m1 1h0m4-2h0m0 1h0m2-1h0m2 8h0m0-3h0m3-4h0m2 11h0m1-7h0m0-4h0m3 10h0m5-3h0m0 2h0m4-12h0m2 6h0m0 8h0m2-9h0m2-4h0m0 11h0m2-7h0m15 2h0m2-7h0m0 10h0m3 1h0m2-9h0m3 8h0m6 2h0m1-7h0m3-6h0m4 9h0m4 3h0m1-1h0m15 3h0m4-10h0m11 6h0m1-9h0m2 10h0m1-8h0m2-2h0m2-1h0m3 2h0m1-1h0m1 2h0m1 4h0m0 0h0m1 3h0m1 3h0m1-8h0m3 8h0m0-5h0m0-8h0m1 11h0m7-6h0m1 1h0m2-4h0m20 6h0m4-8h0m3 13h0m2-4h0m2 1h0m1 1h0m2 3h0m5-7h0m4 4h0m1 1h0m1 0h0m4 15h0m-5 1h0m-7 2h0m-5-11h0m-3 7h0m0-6h0m-1 10h0m-5-7h0m-1 0h0m0 2h0m-1 3h0m-2 2h0m-1-11h0m-3 4h0m-2 4h0m-3 3h0m-4-12h0m-1 6h0m-5-8h0m-2 4h0m-8-1h0m0 12h0m-1-7h0m-1-5h0m-7 4h0m-3-7h0m-6 13h0m-2 0h0m-7-3h0m-5-8h0m-1 1h0m-1 12h0m-2-4h0m-3-7h0m0-4h0m-1 3h0m-8 3h0m-1-4h0m0 9h0m0 3h0m-1-8h0m0 0h0m-11 4h0m-6 4h0m-1-3h0m-1-10h0m-2 12h0m-2-8h0m-1-5h0m-1 2h0m-2 8h0m-1-8h0m-1 10h0m0-4h0m-1-5h0m-4 8h0m0-9h0m-4 7h0m-4 2h0m0 0h0m0-4h0m-1 6h0m-2 0h0m0-6h0m-5 0h0m-4 4h0m-2-1h0m-1 4h0m0-10h0m-3 6h0m-2-3h0m0 4h0m-1-11h0m0 9h0m-1 4h0m-2 0h0m-2 0h0m0-12h0m-4 5h0m0-3h0m0 12h0m-1-14h0m0 1h0m-1 11h0m0-1h0m-2 1h0m0-7h0m-1 5h0m-2 0h0m-3-2h0m0 4h0m-1-3h0m-5-3h0m0-5h0m-3 6h0m-1 1h0m-1-5h0m-1 3h0m-1 0h0m-3-1h0m-2 6h0m-3-6h0m-1 4h0m-2 1h0m-2-8h0m-1 10h0m-4 1h0m-1 1h0m-2-4h0m-1-10h0m-7 4h0m-1-2h0m-1 12h0m0-2h0m-2-13h0m-1 12h0m-7-1h0m-2-3h0m-1 1h0m-1-3h0m-2-6h0m-1 10h0m-10-7h0m-1 12h0m0 0h0m-2-13h0m-1 5h0m-6 2h0m-5-2h0m-8 8h0m-4-12h0m-4 1h0m-19 5h0m-3-5h0m-5-1h0m-4-2h0m1 26h0m5 1h0m1-3h0m2-2h0m0-2h0m2-1h0m2 7h0m6 1h0m4-10h0m6 10h0m2 2h0m12-9h0m0 6h0m0-2h0m4-3h0m0 9h0m11 0h0m0-8h0m7-2h0m3 3h0m0-3h0m4 8h0m5-4h0m2-8h0m1 11h0m3-6h0m2 6h0m2-2h0m1-2h0m0-7h0m1 6h0m3 7h0m1-5h0m4-2h0m1-2h0m1-3h0m3 8h0m5-7h0m1 8h0m4-1h0m1-5h0m0 9h0m4 1h0m1-7h0m2-3h0m2 3h0m0 2h0m1-10h0m1 10h0m1-10h0m2 15h0m3-13h0m1 10h0m2 1h0m0-11h0m1 9h0m0-4h0m1 0h0m0 7h0m1 1h0m0-3h0m3-8h0m1 11h0m1-4h0m3-8h0m0 2h0m3 9h0m1-13h0m1 2h0m1-1h0m1-2h0m1 4h0m2 5h0m5 6h0m2-5h0m0-2h0m4 5h0m2-1h0m1-1h0m1 1h0m7-3h0m9-9h0m1 10h0m2 2h0m1-9h0m1 1h0m3 9h0m5 2h0m1 0h0m1-14h0m1 14h0m2-3h0m1-5h0m6 0h0m3 7h0m1-7h0m1-1h0m2-6h0m2 9h0m3 5h0m2-6h0m6 0h0m0-4h0m4-3h0m0 4h0m1-5h0m2 12h0m0-2h0m4-2h0m0 4h0m0-7h0m3 4h0m2 3h0m0-10h0m1 5h0m5 1h0m2-7h0m1 9h0m5-2h0m3-8h0m0 11h0m2-1h0m1-9h0m1 9h0m0-8h0m2 7h0m1 3h0m2-9h0m18 11h0m9-14h0m1 5h0m5 10h0m0-3h0m1-11h0m1 11h0m1-3h0m8-3h0m2-5h0m2 4h0m4 16h0m-2-2h0m-2 10h0m0-13h0m-4 14h0m-4-14h0m-3 11h0m-1-8h0m-1 6h0m-1-3h0m-4-4h0m-7 2h0m-8-3h0m0 2h0m-4 10h0m-2-5h0m-2 4h0m-2-4h0m-1-3h0m0 5h0m-4 2h0m-1-9h0m0 3h0m-2 8h0m0-6h0m0 7h0m-1-9h0m-7-1h0m-1-2h0m0 1h0m-1 1h0m-4-1h0m-8 2h0m0-3h0m-3 8h0m-1 1h0m-2 3h0m0-6h0m-1-8h0m0 6h0m-1-7h0m0 7h0m-2-3h0m-1 3h0m0-4h0m0 9h0m0-2h0m-4 4h0m-1-14h0m-1 1h0m-4 13h0m-1-6h0m-1 7h0m0-8h0m-1-1h0m-2-5h0m0 1h0m-2 11h0m-2 1h0m-1-4h0m0 4h0m-3 0h0m-7-14h0m-1 7h0m0 7h0m-1-3h0m-1 2h0m-1-13h0m0 2h0m-1 8h0m-3-5h0m-3-1h0m-3-4h0m-1 12h0m-2-12h0m-2 8h0m-1-6h0m0 12h0m-3-8h0m-1-4h0m-1 10h0m-2 0h0m0 1h0m-1-4h0m-2 3h0m-2-3h0m0 2h0m-1-6h0m-2 2h0m0 7h0m-1 1h0m-5-12h0m-1 5h0m-3 0h0m-1-6h0m-5 3h0m-4-5h0m-2 9h0m-3-3h0m-1-5h0m0 3h0m0 6h0m-1-9h0m0 14h0m-3 0h0m-1-5h0m0 0h0m-2-2h0m-1-6h0m-2 11h0m0-5h0m0-1h0m-2 2h0m0 3h0m-2-6h0m-12 0h0m0 2h0m-1-3h0m-1 7h0m-2-4h0m-3 1h0m-3-1h0m-3-3h0m-4 0h0m0-4h0m-3 8h0m-1-8h0m-6 2h0m0 4h0m-2 5h0m-1-8h0m-5 11h0m0-3h0m-3-10h0m-2-1h0m0 13h0m-4-4h0m-1-2h0m-1 3h0m-2 1h0m-1-1h0m-2-9h0m-5 1h0m-4 9h0m-1-11h0m-1 12h0m-1 1h0m0 0h0m-3-8h0m-3 3h0m-4-7h0m-1 7h0m-19-4h0m-2-1h0m-4 8h0m-3 0h0m-2-7h0m-15-4h0m107 15h0m39 0h0m13 0h0m53 0h0m28 0h0m16 0h0m8 0h0m1 0h0m2 0h0"/>
<path d="M775 31h0m-5-9h0m-26 16h0m27-6h0m8 2h0m10 12h0m9-10h0m51 15h0m-39 12h0m-34-5h0m-3-3h0m-82 8h0m-31-1h0m-14 8h0m88 5h0m10-5h0m15-6h0m10 2h0m8 11h0m6-7h0m64 0h0m-34 20h0m-22 2h0m-1-11h0m-13 8h0m0-8h0m-20 5h0m-50 2h0m-9 6h0m12 13h0m65-10h0m28 10h0m7-10h0m5 3h0m7 10h0m3 15h0m-17-1h0m-42-10h0m-1 10h0m-23 3h0m-18-14h0m-16-1h0m-16 11h0m-68 19h0m52-14h0m1 9h0m32-5h0m12 3h0m3-2h0m22-3h0m18 5h0m24 1h0m3-4h0m68 1h0m12 13h0m-23-2h0m-6 11h0m-2-6h0m-38 7h0m-15 0h0m-30 0h0m-1-1h0m-10-4h0m-1 3h0m-3-8h0m-2 11h0m0-12h0m-1 10h0m-7 3h0m-10-10h0m0 10h0m-5-11h0m-1 9h0m-1 0h0m0-3h0m-1-6h0m0 4h0m-11-6h0m-1 11h0m-6 1h0m-5-2h0m-3-3h0m-2-6h0m-8 11h0m-3 2h0m-2-11h0m-25-4h0m-1 6h0m-1-6h0m0 13h0m-1-12h0m-1 12h0m-15-8h0m42 23h0m54-11h0m8 10h0m10 1h0m1 0h0m2-3h0m3 1h0m2 0h0m6 4h0m15-5h0m5 0h0m28-5h0m5-1h0m2 9h0m44 0h0m14 2h0m-28 11h0m-16 4h0m-3-10h0m-9 10h0m-4-6h0m-4 4h0m-14-3h0m-6-3h0m-1 3h0m-3 7h0m-5-10h0m-1 9h0m-1-9h0m-10-4h0m-9 7h0m-5-1h0m-1 2h0m0-7h0m-4 9h0m-1-7h0m-10 4h0m-11-8h0m-5 6h0m-5 8h0m-5-11h0m-3 7h0m-9-4h0m-6 4h0m-2-6h0m-3 6h0m-3-3h0m-6 7h0m-5-6h0m-23 0h0m-1 2h0m-45 21h0m31-1h0m5-9h0m1-3h0m27 12h0m3-11h0m2 7h0m2-5h0m13 1h0m0 5h0m1-7h0m2 9h0m1 2h0m6-15h0m6 14h0m2-13h0m8 11h0m1 3h0m1-10h0m3 3h0m3 4h0m2-1h0m11 3h0m8-1h0m4-11h0m0 4h0m9-6h0m0 7h0m1 8h0m2-11h0m9 3h0m4-4h0m2-1h0m2-1h0m1 11h0m1 3h0m3-15h0m7 12h0m4-12h0m0 15h0m5-14h0m1 9h0m7-1h0m4-1h0m1 3h0m4-5h0m8 2h0m3 6h0m9-5h0m5-2h0m0 8h0m11-11h0m15 0h0m4 11h0m3-11h0m-6 18h0m-4 7h0m-2-1h0m-21 3h0m-19-5h0m-25 4h0m-7-8h0m-3 8h0m-6-5h0m-2 4h0m-1 0h0m-2 0h0m0-9h0m-2 4h0m-4 5h0m-7-9h0m-8 0h0m-1 0h0m-15 5h0m-1-9h0m-4 13h0m-2-8h0m-1 9h0m-4-2h0m-3-4h0m-1 3h0m-4-3h0m-9-3h0m-3 1h0m-3-5h0m-2 7h0m-1-1h0m-5-6h0m0 5h0m-1-6h0m-6 11h0m-22-7h0m0 4h0m-3-2h0m-12-2h0m-22 5h0m-2-6h0m-61 23h0m10-4h0m67-2h0m0 4h0m3-7h0m5 0h0m1 0h0m9 7h0m8-8h0m13 4h0m7 4h0m13 1h0m2 1h0m1 5h0m10-1h0m4-4h0m1-6h0m5 10h0m5-3h0m3 1h0m2-7h0m6 9h0m8-8h0m0-6h0m2 3h0m3 0h0m1 10h0m1-4h0m12-2h0m0 4h0m1 3h0m2-1h0m1-6h0m1 1h0m6-4h0m1 5h0m2-5h0m5 8h0m2-5h0m1 1h0m2-7h0m2 1h0m2 9h0m2-6h0m2-3h0m0 8h0m7 3h0m9 2h0m4-13h0m4 7h0m5 2h0m13-2h0m5-1h0m1 5h0m18-3h0m7 17h0m-22-6h0m-6 6h0m-3-8h0m-2 2h0m-5-3h0m-10 8h0m-2 4h0m0-1h0m-4-3h0m0 3h0m-6-2h0m-2-1h0m-7-1h0m-2-6h0m-2-3h0m-5 13h0m-1-2h0m-9-3h0m-7 1h0m-3 1h0m0-4h0m-2-1h0m-3 5h0m-6-2h0m-1 0h0m-3 6h0m-9-4h0m0-1h0m-2-9h0m-7 4h0m-1-1h0m-2-2h0m-2 8h0m-8 0h0m-1-1h0m-3-3h0m-16 2h0m-1 0h0m-2-7h0m-1 6h0m-7-6h0m0 0h0m-1 14h0m-1-7h0m-11 3h0m-9 1h0m-7-10h0m0 9h0m-15-10h0m-6 14h0m-4 0h0m0 1h0m-4-15h0m-15 8h0m-8-7h0m-11 5h0m-3 8h0m-11-3h0m-17-4h0m-24 24h0m17-12h0m3-3h0m16 3h0m7 9h0m5-2h0m5 2h0m13-4h0m2 5h0m5-1h0m4 3h0m7-12h0m12 1h0m0-4h0m2 6h0m2-3h0m0-1h0m9 3h0m2 8h0m1-10h0m10 0h0m3 12h0m2-6h0m2-3h0m3-1h0m0 6h0m5-8h0m2 7h0m1 2h0m1-7h0m1 4h0m0 2h0m3-4h0m6 2h0m2-3h0m5 7h0m5-10h0m6 5h0m0-1h0m2-6h0m0 5h0m5-6h0m3 2h0m1 9h0m1-3h0m0 1h0m1-7h0m1-2h0m3 5h0m12 1h0m1 3h0m0 6h0m1-11h0m1-3h0m5 10h0m1-6h0m4 0h0m1-2h0m2 10h0m3-12h0m6 6h0m3 5h0m1-6h0m1 8h0m0-14h0m4 13h0m4-1h0m2 1h0m1-10h0m5 12h0m1-3h0m2-10h0m0-2h0m11 10h0m1-10h0m1 7h0m2 4h0m5-6h0m0 10h0m2-10h0m1-1h0m14 5h0m3 5h0m8-1h0m5-1h0m5-7h0m5 9h0m5 0h0m0-12h0m6 3h0m4 4h0m-5 22h0m-6-6h0m-1 2h0m-4 1h0m0-8h0m-8 7h0m0 2h0m-5-11h0m-3 11h0m-6 0h0m-3-5h0m-5 1h0m-1 5h0m0-9h0m-4-1h0m-2 7h0m-6-8h0m-5 9h0m-3 2h0m-7-10h0m0-4h0m-4 0h0m-2 3h0m-4-1h0m0 8h0m-1-7h0m0 7h0m-1 1h0m-4-4h0m-1 8h0m-3-3h0m-2 3h0m-1-5h0m-1 0h0m0 5h0m-5-14h0m-1 5h0m0 9h0m-3-8h0m0-6h0m-5 5h0m-3-5h0m0 11h0m-1-12h0m-1 15h0m-1-5h0m0-2h0m-3 4h0m-3-12h0m-1 8h0m-7 7h0m-3-5h0m-2-3h0m-4-1h0m-1 5h0m0-2h0m0 0h0m-7-2h0m-11 3h0m-4-1h0m-1-9h0m-2 1h0m-1 9h0m-3-2h0m-4-4h0m-7 1h0m-6 9h0m-1-4h0m-5 0h0m-1 3h0m-1-11h0m-1 2h0m-2-4h0m0 9h0m0-2h0m-2 1h0m-2 6h0m-3-14h0m0 9h0m-1-6h0m-1 7h0m-1-2h0m-4-7h0m-6 6h0m-1-2h0m-9 0h0m-1 10h0m-6-13h0m-1 2h0m0 11h0m-7-4h0m-1-2h0m-2 3h0m-2 1h0m-4-12h0m-6 6h0m-6-6h0m-8 7h0m-3 0h0m0 6h0m-7 1h0m-13-12h0m-31 2h0m-1 13h0m14 1h0m4 8h0m4-4h0m19-4h0m14 6h0m9-9h0m0 13h0m2-3h0m0-3h0m3 6h0m1 1h0m7-11h0m1 7h0m0-9h0m6 7h0m2 0h0m3 1h0m3-9h0m0 5h0m1 5h0m9-8h0m1 4h0m3 5h0m11 3h0m0-11h0m9 12h0m4-8h0m4 0h0m0 2h0m1-1h0m2 3h0m1-3h0m3-3h0m2 8h0m2-7h0m1 9h0m5-6h0m2 1h0m2 2h0m2 3h0m2-2h0m2-7h0m0 6h0m4-7h0m6 1h0m1 1h0m0 7h0m1-14h0m5 3h0m4-3h0m4 6h0m0 9h0m4-6h0m14-6h0m2 11h0m2-5h0m0 4h0m7-8h0m7 10h0m3-12h0m3 0h0m0 11h0m10-2h0m3-12h0m1 3h0m2 4h0m4 3h0m1 2h0m0-7h0m0 1h0m11-5h0m1 9h0m2 0h0m13-7h0m12 1h0m3 10h0m16-3h0m6-1h0m7 4h0m3-4h0m1-8h0m4 11h0m-5 17h0m-1-14h0m-6 3h0m0-2h0m-3 14h0m-2-10h0m-3-1h0m-1 9h0m-1-12h0m-5 11h0m-3 2h0m0-12h0m-1 7h0m-2-2h0m-4-1h0m-4 5h0m-4-5h0m-5 0h0m-1 2h0m-3 7h0m-1-4h0m-1-3h0m0-1h0m-4 6h0m-1-3h0m-2-8h0m0 6h0m-1-4h0m0 3h0m-2-7h0m-2 0h0m-2 0h0m-1 7h0m-1 0h0m-2-3h0m-5 4h0m-1-3h0m-1-5h0m-1 4h0m-1 3h0m0 2h0m-2-2h0m-1-5h0m0 6h0m-3 5h0m-4-11h0m-2 10h0m-2-11h0m-2 1h0m-4 2h0m-1 4h0m-1-4h0m-1 2h0m-1-5h0m0 0h0m-8 4h0m0 9h0m-4-10h0m-1 0h0m0 8h0m-2 3h0m0-4h0m0-5h0m-1-5h0m0 8h0m0-1h0m-3 6h0m0 1h0m-1-7h0m0 7h0m-3-13h0m-1 6h0m-1 5h0m-2-8h0m-6-5h0m-10 15h0m-3-12h0m0 8h0m-2 2h0m-1-6h0m-1-5h0m-1 12h0m0-1h0m-1-3h0m0-10h0m-3 1h0m-5 10h0m-3-10h0m-2 8h0m-2-6h0m0 0h0m-4 8h0m0-11h0m-4 15h0m-1-3h0m0-4h0m-2-1h0m-1-7h0m0 3h0m0 8h0m-1-6h0m-2 4h0m-1-9h0m-1 7h0m-1-3h0m-2 7h0m-2-11h0m-2 7h0m-2-1h0m-7-1h0m-1-5h0m-3 6h0m-1-5h0m-4 0h0m0 2h0m-4 0h0m-1 2h0m-1-1h0m-8 3h0m-1-2h0m-6-3h0m0 6h0m-1 5h0m-2 1h0m-3-9h0m-2-4h0m-1 2h0m-3 8h0m-3-5h0m-5-1h0m-4 6h0m-2-7h0m-1-4h0m-1 1h0m0 10h0m-5-7h0m-2 3h0m-2 5h0m-8-2h0m-1 1h0m-3 2h0m-2-1h0m-10 0h0m-1-11h0m-3 10h0m-15-6h0m-3 9h0m-1-6h0m-5-6h0m1 28h0m6-14h0m9 3h0m0-2h0m4 3h0m1 9h0m1-2h0m13-11h0m11 11h0m1 0h0m1-3h0m1-8h0m8 1h0m5 7h0m10 4h0m0-2h0m10-9h0m1 13h0m4 1h0m1-5h0m0-6h0m0-2h0m1 12h0m0-13h0m0-1h0m4 14h0m3-12h0m2 1h0m0 4h0m0-1h0m4 9h0m1 0h0m1-10h0m1 7h0m3 2h0m0-13h0m3-1h0m1 14h0m3 0h0m7-2h0m0 0h0m1-7h0m1 6h0m4-6h0m2 9h0m1 0h0m3-6h0m0 5h0m1-10h0m0 4h0m1-4h0m0 10h0m1-2h0m3-10h0m2 1h0m0 0h0m1 11h0m1-10h0m3 0h0m7-1h0m1 10h0m3-5h0m0 2h0m0-2h0m1 3h0m1 0h0m0 1h0m1-10h0m1 2h0m2-3h0m2 13h0m2-5h0m2-3h0m1 6h0m0 4h0m0-13h0m2-1h0m2 6h0m2-4h0m1 9h0m1 1h0m2-7h0m1-4h0m1 6h0m7 7h0m1-4h0m1-7h0m2 10h0m1-13h0m0 5h0m1-2h0m5-4h0m1 4h0m0 2h0m1-2h0m2 8h0m0-6h0m4-6h0m8 6h0m3 3h0m1-1h0m3 6h0m1 1h0m2-14h0m2 0h0m7-1h0m1 1h0m1 4h0m3 4h0m5 4h0m2-2h0m11-9h0m3 9h0m6 4h0m2-1h0m1-13h0m2 1h0m2 10h0m3-9h0m1 7h0m0-5h0m1 1h0m3-4h0m0 8h0m7-4h0m9 7h0m7-10h0m8-3h0m9 15h0m1-3h0m2-12h0m1 4h0m-6 27h0m0-8h0m0 5h0m-7-2h0m0-4h0m-2 8h0m-2 0h0m-3-2h0m-3 1h0m-2-9h0m0 7h0m-3-6h0m0-5h0m-2 7h0m-1 5h0m0-7h0m-1 4h0m-4-7h0m0 7h0m-1-1h0m0 4h0m-1 2h0m-1-4h0m-1 1h0m-3-1h0m-1 5h0m-1-5h0m0 5h0m-1-7h0m-5-7h0m-1 11h0m0-9h0m-5 7h0m-1-3h0m-8-3h0m-1 11h0m0-7h0m0 2h0m-2 2h0m0 0h0m-1-2h0m0-7h0m-1 9h0m-1 0h0m-2-10h0m-1 9h0m-6-7h0m-1 6h0m-9-1h0m0 2h0m-9 3h0m-2 0h0m0-3h0m0-10h0m-4 10h0m-2-4h0m-1-6h0m-1 1h0m0 12h0m-1-1h0m-2 1h0m-4-7h0m-1-4h0m0-1h0m-3-1h0m0 9h0m-4-3h0m0 7h0m0-8h0m-1-5h0m-1 13h0m-3-9h0m0 2h0m-1-2h0m-1-4h0m0 0h0m-1 10h0m-1-2h0m-7-3h0m0 9h0m-4-5h0m-9-8h0m-2 7h0m-2-5h0m0 1h0m-1 3h0m-1-5h0m0-3h0m-2 9h0m-4 4h0m-4-12h0m-1 5h0m-1 8h0m-3-1h0m-2 1h0m-1-9h0m-1-1h0m-3 10h0m0-6h0m-1-6h0m-1 13h0m0-10h0m-4-1h0m-1 4h0m0-6h0m0 0h0m-1 6h0m0-8h0m0 6h0m-4 6h0m-4-10h0m-3 10h0m-5 2h0m-3 1h0m-3-8h0m0-3h0m0 9h0m-3-2h0m-3-2h0m0-6h0m-1 5h0m-1 1h0m-5 0h0m-1-2h0m-2-5h0m0-2h0m-1 3h0m-1 8h0m-1-2h0m0-6h0m-1 7h0m0-4h0m-3 2h0m-4 7h0m0-12h0m-1 3h0m-1 8h0m-10-12h0m-1 6h0m0-1h0m-1 8h0m-4-1h0m0-9h0m-1 6h0m0 3h0m-1-9h0m-2 6h0m-1 3h0m-1-9h0m-5 10h0m-2-3h0m-2-4h0m-3 6h0m-2-3h0m-3-4h0m-2 0h0m-7 2h0m0-4h0m-4 2h0m-4 6h0m-1-2h0m-4-7h0m-3 8h0m-1-10h0m-3 12h0m-3-6h0m-6 7h0m-6-7h0m114 8h0m21 0h0m2 0h0m22 0h0m29 0h0m57 0h0m18 0h0m9 0h0m51 0h0"/>
<path d="M781 16h0m-33 27h0m42-9h0m13-1h0m53 11h0m-59 14h0m-35-10h0m-4 9h0m-9 5h0m-98 11h0m26-7h0m67 3h0m7 1h0m7-1h0m27 5h0m63 4h0m-11 17h0m-24-13h0m-22-2h0m-16 5h0m-19 0h0m-8 8h0m-12-2h0m-2-10h0m-63 0h0m-1 12h0m-37 12h0m19 1h0m32-1h0m9 3h0m3-2h0m16-1h0m5 6h0m17-8h0m19-4h0m11 6h0m48-6h0m2 10h0m27-13h0m22 0h0m1 10h0m-49 6h0m-11 15h0m-41-6h0m-13-3h0m-40 8h0m-3-7h0m-16 8h0m-42-11h0m18 18h0m38-5h0m7 11h0m4-10h0m37 8h0m7-10h0m2 10h0m7 0h0m2-6h0m27 6h0m3 0h0m40-5h0m28 19h0m-8 6h0m-47-2h0m-15-12h0m-8 14h0m-3-1h0m-14-5h0m-18 1h0m-6-6h0m-18 2h0m-10 8h0m-4-2h0m-5-5h0m-2 0h0m-8 0h0m-1 8h0m-3-13h0m-37 0h0m0 13h0m-4-3h0m-9-6h0m-39 17h0m41 0h0m3 7h0m3-1h0m4-3h0m7 3h0m17-8h0m5 6h0m0-3h0m1 2h0m0-1h0m1-2h0m4 9h0m5-2h0m4-5h0m0 7h0m3-3h0m4-11h0m3-1h0m6 12h0m7-6h0m16 3h0m1-7h0m1 3h0m2 10h0m5-14h0m3 9h0m0-9h0m3 0h0m1 13h0m0-6h0m2-2h0m6-5h0m1-1h0m2 14h0m18-12h0m17 2h0m4 7h0m8 3h0m7-5h0m9 0h0m1-8h0m35 26h0m-4-2h0m-46-8h0m-2 8h0m-7 2h0m0 3h0m-3-14h0m-2 14h0m-15-12h0m-1 2h0m-4 0h0m-3-3h0m-1 5h0m-12-1h0m-2 6h0m-6-9h0m-1 8h0m-3 4h0m-2-8h0m-15 5h0m-3-5h0m-10 7h0m-4 0h0m-12-13h0m-1 4h0m-1 5h0m0 5h0m-5-13h0m-7 0h0m0 14h0m-3-4h0m-8-8h0m-1 7h0m-5-9h0m0 9h0m-1 4h0m-3-8h0m-1 6h0m0-2h0m-18 0h0m-4 1h0m-4-10h0m-7 9h0m-50-6h0m27 26h0m15-9h0m11 4h0m2 0h0m12 1h0m2 1h0m5-1h0m36-8h0m1 3h0m0 7h0m2-5h0m3 2h0m3-9h0m1 13h0m1-12h0m2 9h0m5-10h0m2 4h0m1 1h0m0 8h0m5 2h0m1 0h0m2-11h0m1-4h0m1 15h0m9-7h0m1-2h0m2 2h0m2 2h0m0-9h0m2 6h0m2 2h0m1-6h0m4 11h0m2-5h0m1-3h0m1 8h0m4-2h0m7-9h0m4 11h0m4-2h0m2-9h0m3 7h0m4-3h0m12-5h0m1-2h0m4 11h0m10-2h0m1-3h0m10-5h0m26 10h0m1-1h0m7-1h0m2 19h0m-11-10h0m-7 2h0m-5 7h0m-10 2h0m-1-13h0m-2 5h0m-2 10h0m-3-8h0m-4-7h0m-1 8h0m-3-6h0m-8 1h0m-6 9h0m-8 3h0m-14-4h0m-11 0h0m-2-3h0m0-4h0m-4 3h0m0-3h0m-2-1h0m-1-3h0m-6 14h0m-2-8h0m-1-5h0m-14 4h0m-9 5h0m-1-9h0m-7 2h0m0 11h0m0-14h0m-7 0h0m-2 2h0m-5 6h0m0 4h0m-1-3h0m-9-9h0m-1 14h0m-1-1h0m-4-12h0m-2 2h0m-1 6h0m-11 4h0m-1-11h0m-2 1h0m0 9h0m-3 2h0m0-5h0m-1-9h0m-1 6h0m-4 4h0m-6-9h0m-6 14h0m-4-14h0m0 4h0m-2 4h0m-47 0h0m12 15h0m5 4h0m33 1h0m8 1h0m8-14h0m4 9h0m6-2h0m9-3h0m0 8h0m3-10h0m1-2h0m7 11h0m2 3h0m8-5h0m5-3h0m7-2h0m8 11h0m1-12h0m8-3h0m2 11h0m1-2h0m7 2h0m3 1h0m1 2h0m5-5h0m1-1h0m1 1h0m4-5h0m0 4h0m2 6h0m15-1h0m0-1h0m13 2h0m8-5h0m8 2h0m5-4h0m5 3h0m6-8h0m5 13h0m11-9h0m5 8h0m4-4h0m3-8h0m7 10h0m6-4h0m4-3h0m0 9h0m7 1h0m1 7h0m0 5h0m-8-10h0m-8 8h0m-5 5h0m-5 0h0m-5-12h0m-5 1h0m-11 12h0m-1-14h0m-7 4h0m-7 0h0m-1 6h0m0-8h0m-7 7h0m-1-1h0m0 2h0m-3-2h0m-2 2h0m-5 4h0m-1-11h0m0 2h0m-1 0h0m-2-2h0m-5-2h0m-3 8h0m-13 0h0m-3-5h0m-9 8h0m-1 0h0m-3 2h0m-3-13h0m-1 6h0m-1 4h0m-1 3h0m-1-11h0m-3-3h0m-1 3h0m0 1h0m-2 6h0m-5-6h0m-4 3h0m0-8h0m-1 9h0m-1-1h0m-3 3h0m-4-1h0m-5-10h0m-8 11h0m-1 4h0m-8-9h0m-2 5h0m-6-4h0m-7-4h0m-2 10h0m-5-10h0m-15 10h0m-3-13h0m-2 15h0m-5-3h0m0 2h0m-2 0h0m0-3h0m-8 1h0m-1 0h0m-6-2h0m-1-4h0m-1-2h0m-6 1h0m-6 4h0m-1 0h0m-3 1h0m-20 5h0m-38-3h0m5 12h0m20-1h0m5-3h0m2 4h0m9 1h0m5-3h0m0 7h0m1-2h0m5-9h0m8 4h0m2-3h0m24 7h0m0 5h0m2-6h0m6 1h0m8 5h0m1-2h0m0 2h0m6-8h0m1 5h0m6-9h0m3 7h0m1-4h0m11 7h0m2-5h0m3 7h0m6-9h0m5 2h0m2 3h0m1-3h0m3 1h0m3 3h0m8 3h0m1-11h0m8-3h0m9 1h0m7 6h0m3 1h0m5-8h0m3 12h0m3-13h0m3 11h0m3-6h0m1-5h0m8 8h0m1-5h0m1 4h0m6-4h0m0 11h0m0-9h0m9-4h0m0 8h0m3-3h0m4 5h0m1 2h0m5-11h0m1-2h0m6 4h0m2-1h0m6 9h0m2-11h0m7 3h0m0 6h0m1 4h0m1-5h0m1 2h0m0 3h0m3-8h0m10 9h0m5-14h0m3 10h0m3-9h0m8 4h0m5 4h0m2-3h0m2 7h0m-2 3h0m0 1h0m-9 10h0m0-9h0m-6 11h0m-16-8h0m-4 9h0m-2-9h0m0 9h0m-8-14h0m-18 12h0m-3-1h0m-4-3h0m-6-6h0m-1 4h0m0-1h0m0 6h0m-1-9h0m-4 3h0m-1 2h0m-1 2h0m-3 3h0m-4-11h0m-4 12h0m-1-9h0m-1-1h0m-3 9h0m-1 0h0m-3-2h0m-1-11h0m-3 15h0m-4-15h0m-2 14h0m0-10h0m-5 1h0m0-2h0m-1 0h0m-10 5h0m-2-6h0m-3 10h0m-10 2h0m0-1h0m-2-5h0m0 6h0m-5-7h0m-3-7h0m-3 6h0m-1 2h0m0-5h0m0 0h0m-6 7h0m-1-8h0m-1 10h0m-7-1h0m0-7h0m-1-3h0m-1 12h0m-1-1h0m-3 0h0m-2-4h0m0 6h0m-4-13h0m-1 14h0m-7-8h0m-4 7h0m-2-7h0m-1 0h0m-7 5h0m-1-11h0m-2 5h0m-4 3h0m-3-7h0m-2 8h0m-7 4h0m0 0h0m-8-10h0m-4-4h0m-5 0h0m-5 9h0m-10-1h0m-37 6h0m-20-6h0m-8 14h0m29 2h0m12 5h0m17-12h0m2 5h0m0-3h0m3 4h0m4-2h0m3 6h0m6-8h0m1 9h0m3 2h0m1 1h0m1-14h0m5 9h0m2 0h0m6 0h0m2 5h0m3-4h0m1-5h0m4-3h0m3 3h0m1 7h0m0-5h0m3-8h0m2 2h0m3 12h0m1-3h0m4-4h0m2-7h0m1 11h0m1 2h0m3 2h0m2-5h0m1 1h0m9-10h0m0 8h0m1 2h0m0 3h0m1-7h0m0 4h0m0-1h0m5 5h0m1-9h0m0 4h0m4-4h0m4-1h0m3 3h0m3-3h0m1-5h0m0 15h0m1-15h0m3 7h0m8 7h0m3-6h0m3 0h0m1-7h0m1 11h0m2-10h0m0-2h0m1 8h0m4 4h0m1 3h0m2-11h0m1 3h0m1 5h0m3 3h0m2-9h0m2 8h0m0-6h0m2 1h0m1-2h0m1 6h0m1-6h0m2-6h0m2 1h0m0 1h0m5-2h0m1 12h0m7-10h0m9 9h0m5-3h0m3-6h0m3-2h0m0 6h0m1 1h0m2-2h0m1 2h0m1 2h0m0 1h0m0-11h0m2 5h0m1 10h0m0-14h0m6 4h0m3-1h0m0 6h0m2-4h0m1 9h0m2-6h0m4 1h0m8 5h0m8-4h0m1 1h0m9-9h0m4-1h0m4 3h0m0-1h0m1 2h0m0 1h0m2-3h0m3 10h0m1 1h0m1-13h0m5 11h0m3-3h0m2-2h0m1 21h0m-2-1h0m-8 3h0m-3-7h0m-6-8h0m-8 4h0m-12 7h0m0 4h0m-4-1h0m-3-1h0m0-12h0m-1 10h0m-2-11h0m-1 6h0m-1 2h0m-3-3h0m-4-3h0m-1 1h0m0 10h0m-7-6h0m0 4h0m-2 0h0m-1-10h0m-5 1h0m0 10h0m-6 3h0m-5-3h0m-1-6h0m-3-2h0m-6 8h0m0-2h0m-1-7h0m-4 7h0m-4 2h0m-1-9h0m-1 1h0m-6 1h0m-3 3h0m-4-4h0m-3 2h0m-1-3h0m-1 4h0m0-1h0m-1 9h0m-2-1h0m-1-4h0m-7-6h0m-1 1h0m-4-5h0m-1 11h0m-4-3h0m-1-5h0m-3 0h0m-5 12h0m0 0h0m-4 0h0m0-6h0m-2-1h0m0 3h0m-7-4h0m-2-7h0m-2 15h0m-3-1h0m-3-7h0m0-1h0m-5 7h0m-4 2h0m-2-8h0m-4 4h0m-1-5h0m-3 0h0m-1 3h0m-3-7h0m-5 10h0m-4-9h0m-1 12h0m0-11h0m-1 3h0m-1-4h0m-5 7h0m-2 1h0m-3-6h0m0 5h0m-2 0h0m-3-2h0m-1-2h0m-3 4h0m0 5h0m-1 0h0m-1-8h0m-4-5h0m0 10h0m0 0h0m-3-3h0m-1 5h0m-9 0h0m-4-2h0m-10-4h0m-3 6h0m-16 1h0m0-14h0m-1-1h0m0 6h0m-1 8h0m-5-12h0m-5 8h0m-1-7h0m-5 4h0m-2 6h0m-5-11h0m-5 2h0m-3-3h0m-5 28h0m10-6h0m1 4h0m2 3h0m2-5h0m1 6h0m4-5h0m3 1h0m1-10h0m4 14h0m3-3h0m0 2h0m2-3h0m12-8h0m4 1h0m1 11h0m2-1h0m1-10h0m5 8h0m0-12h0m4 10h0m1-7h0m7 7h0m1-7h0m6 9h0m4 0h0m4 1h0m0 1h0m0-1h0m2-6h0m2-3h0m0-4h0m2 3h0m4 4h0m1 6h0m1-4h0m3-6h0m4 1h0m4 7h0m2 1h0m0-6h0m2 2h0m2-4h0m2 11h0m5 0h0m3-8h0m1-7h0m0 2h0m3 0h0m3 10h0m1 3h0m1-5h0m3 1h0m1-7h0m1 9h0m3-6h0m0 1h0m1-7h0m1 5h0m3 7h0m1-7h0m1 6h0m2-9h0m1 3h0m0 6h0m4-7h0m3 7h0m3 0h0m1-5h0m5 0h0m3 4h0m1 2h0m3-6h0m1-3h0m0 8h0m3-9h0m0 6h0m1-2h0m1 8h0m1-8h0m0-2h0m3 2h0m3-2h0m3 5h0m1 3h0m1-6h0m6-3h0m0 4h0m4 1h0m1-8h0m4 12h0m2-12h0m1 0h0m0 5h0m2-6h0m3 0h0m1 11h0m0-11h0m1 8h0m2 0h0m1 6h0m1-1h0m0-8h0m0 8h0m2-7h0m0-2h0m0-3h0m1 5h0m2 0h0m1 8h0m3-2h0m1-1h0m1-10h0m2 6h0m3-7h0m0 12h0m2-3h0m1-6h0m4 7h0m3 0h0m0-1h0m4 5h0m3-4h0m2-8h0m6 10h0m0 2h0m1 0h0m4-14h0m1 10h0m3-7h0m0 11h0m3-4h0m0-2h0m3 6h0m2-10h0m1 8h0m3-8h0m0-1h0m4 5h0m2 3h0m2 1h0m5-9h0m1 7h0m3-1h0m2 5h0m2-4h0m2-8h0m1 0h0m12 13h0m5-4h0m-3 9h0m-6 10h0m-1 0h0m-1 0h0m-1 0h0m-2-10h0m0 10h0m-1-12h0m-1 2h0m-7 11h0m-1-4h0m-3 4h0m-5-3h0m-1 3h0m-6-5h0m-1-5h0m-1-1h0m0 11h0m-2-7h0m-3-1h0m-3-5h0m-2 3h0m-2 4h0m-1 3h0m0-11h0m0 8h0m-5-4h0m0 5h0m-9 1h0m-1-1h0m0 3h0m-1-8h0m0 3h0m0 0h0m-2 0h0m-1-1h0m-1 3h0m0 3h0m-1-3h0m-1 3h0m-2-6h0m0 0h0m-1-1h0m-3 1h0m-1 7h0m-1-2h0m-1-1h0m-1 4h0m-5-6h0m0 0h0m-3-5h0m-2 1h0m0-1h0m-2-3h0m-1 14h0m0-12h0m-1 0h0m-1 6h0m0 1h0m-1-5h0m-2 6h0m-1-7h0m0-1h0m-4 1h0m-7-4h0m0 6h0m0-5h0m-2-1h0m0 4h0m0 11h0m-5-11h0m-3 7h0m0-6h0m-8 5h0m0 3h0m-3 1h0m-4-3h0m-2 4h0m-1-14h0m0 12h0m-5-2h0m-1-7h0m0 2h0m-1-6h0m-1 13h0m0-9h0m0 2h0m-2 5h0m-5-11h0m-2 14h0m-2 1h0m-1-5h0m-1-5h0m-5 4h0m-3 6h0m-1 0h0m-4-7h0m-1-5h0m0 5h0m0 7h0m-4-2h0m-2-12h0m0 2h0m-2 1h0m-1 11h0m-4-6h0m0 6h0m-1-10h0m-11-5h0m-1 13h0m-13-7h0m-1 1h0m-2-1h0m0-1h0m-2 2h0m-2-4h0m-3 8h0m-1-1h0m0-7h0m-7 4h0m-3 5h0m-1-6h0m-1-3h0m0 7h0m-1-6h0m-14 10h0m-1-5h0m0-5h0m-3 10h0m-1 1h0m0-4h0m-2 3h0m-5-5h0m-5 2h0m-11-7h0m-6 2h0m-4 5h0m-5-2h0m-6-4h0m-5 0h0m-6 2h0m-4 1h0m-1 2h0m-1 1h0m-5 4h0m61 1h0m41 0h0m94 0h0m54 0h0m41 0h0m2 0h0m28 0h0"/>
<path d="M797 23h0m-29 5h0m-21-4h0m-45 3h0m115 13h0m56 17h0m-134 1h0m-65 1h0m13 6h0m61 10h0m30-2h0m19 20h0m-19-1h0m-8-11h0m-2 1h0m0 9h0m-16 3h0m0-10h0m-22 2h0m-5 7h0m-8-11h0m-16 12h0m-45 13h0m44-11h0m5 8h0m35 4h0m6 2h0m3 0h0m2-5h0m22 3h0m6-3h0m36 1h0m1 3h0m5-13h0m50 5h0m-56 14h0m-13 8h0m-3-9h0m-1 3h0m-5 5h0m-2 3h0m-16-2h0m-4-3h0m-2 5h0m-7-2h0m-3 1h0m-1-4h0m-1 0h0m-6 6h0m-37-9h0m-11 5h0m-8-1h0m-51 22h0m1-15h0m0 1h0m58 7h0m13 6h0m22-5h0m1-1h0m11-3h0m1 10h0m5-5h0m4 1h0m13 1h0m14-1h0m1 0h0m25-4h0m3 5h0m6 0h0m1-3h0m26-6h0m-5 16h0m0 2h0m-3 0h0m-11 6h0m-3 3h0m-7 1h0m-7-4h0m-6-2h0m-1 3h0m-7 0h0m-1 1h0m-6-6h0m-19 4h0m-10-1h0m-7 5h0m-2-11h0m-3 7h0m-5-2h0m-1-2h0m-10 1h0m-2-6h0m-2 5h0m-5 5h0m-12 2h0m-1-12h0m-1 10h0m-13-11h0m-9 13h0m-9-4h0m-10-1h0m-1 5h0m-23-1h0m-62 3h0m57 12h0m28 1h0m6 1h0m1-6h0m11-1h0m4-3h0m3 9h0m8-1h0m11 1h0m2-13h0m4 0h0m0 14h0m1-4h0m7 1h0m8 3h0m8 1h0m9-6h0m6 5h0m15-8h0m7 4h0m2-8h0m2-2h0m2 2h0m12 13h0m18-1h0m2 0h0m5-5h0m6-4h0m31-5h0m7 22h0m-2 1h0m-11 0h0m-20-2h0m-12 4h0m-2-1h0m-3 7h0m-5-14h0m-19 11h0m-1-9h0m-7 10h0m-3-8h0m-2 0h0m-1 9h0m0-10h0m-3-2h0m-15-2h0m-10 0h0m-4 7h0m-5 3h0m-6 2h0m-1-2h0m0-10h0m-2 10h0m-1 0h0m-2-8h0m-1 11h0m-1 0h0m-1 0h0m-6-4h0m-5 1h0m-2-6h0m-4 2h0m-16 2h0m-1 1h0m-7 5h0m-20-5h0m-10-5h0m-2 5h0m-11 1h0m-2-7h0m-70 20h0m28-6h0m6 14h0m24-13h0m1 13h0m7-14h0m3 5h0m5-1h0m1 8h0m3-10h0m1 5h0m11 7h0m10 0h0m11-7h0m6 4h0m2-6h0m7 5h0m1-2h0m6-5h0m3 0h0m11 4h0m1 2h0m7-1h0m1 6h0m6-15h0m4 9h0m5-9h0m2 8h0m2-6h0m2 10h0m3 3h0m42-5h0m15 0h0m24 2h0m24-12h0m3 3h0m11 22h0m-5 5h0m-23-8h0m-7-3h0m-5-1h0m0 5h0m-3 4h0m-5 0h0m-8-10h0m-10 13h0m-4-8h0m-6-4h0m-3 5h0m-1-5h0m-1 5h0m-7 2h0m-2 4h0m-3-9h0m0-2h0m-8 13h0m-17-10h0m-1 0h0m-8 8h0m-3-9h0m-2 3h0m-10 1h0m0 1h0m-6-1h0m-2 3h0m-1-8h0m-5-1h0m-3-1h0m-3 12h0m-2-4h0m-4-6h0m-2 5h0m-7-7h0m-1 6h0m-4 1h0m0 5h0m-3-7h0m-1-4h0m-6 1h0m-1 5h0m-1 1h0m0-7h0m-16-2h0m-1 6h0m-4-3h0m-12 5h0m-1 4h0m-2 3h0m-2 0h0m-16-8h0m-14-2h0m-11-2h0m-13 1h0m-19 9h0m11 13h0m16 0h0m4-6h0m0 7h0m27-7h0m4 0h0m9 7h0m1-5h0m3-1h0m9-4h0m5 12h0m7-6h0m2-5h0m2 5h0m2 1h0m4-6h0m6-1h0m11 10h0m6-4h0m3 8h0m1-5h0m4-6h0m4-4h0m9 10h0m6-3h0m0 6h0m3-3h0m0-3h0m1 3h0m4-8h0m0 4h0m0 5h0m1 0h0m0-11h0m2 2h0m0 5h0m4-2h0m4 6h0m1 3h0m1 0h0m1 0h0m10-10h0m8 9h0m2-11h0m1 2h0m9 10h0m7-4h0m20-5h0m10 0h0m0 5h0m8-4h0m2 2h0m0-1h0m0-1h0m2 8h0m3-12h0m13 13h0m2-6h0m6 0h0m3 1h0m16-2h0m6 1h0m1-2h0m-5 13h0m-4-3h0m-3 11h0m-6-4h0m-2 5h0m-10-8h0m-11 4h0m-1 2h0m-3 4h0m-2-12h0m-8 5h0m-5 4h0m-2-6h0m-5 2h0m-3-4h0m-1 6h0m-3 5h0m-2-3h0m-2-6h0m-1 9h0m-4 0h0m-7 0h0m-6-2h0m-2-4h0m-1 3h0m-4 0h0m-2-5h0m-3 4h0m-5 0h0m-5-9h0m-2 0h0m-1 10h0m-7 3h0m-4-7h0m-4 2h0m-2 3h0m0 2h0m-1-12h0m-1 8h0m-3-4h0m-2 3h0m0 4h0m-1-12h0m-14 2h0m0 8h0m-2-1h0m0-1h0m-3-10h0m-3 2h0m0 0h0m-8 13h0m-6-3h0m-1-2h0m-2-5h0m0-4h0m-4 8h0m-2-9h0m-8 7h0m-2-2h0m-8 1h0m-3 8h0m-1-11h0m-1 3h0m0 2h0m-14 7h0m-5-2h0m-3-11h0m-5 0h0m-2 13h0m-8-10h0m-4-5h0m-12 2h0m-6 12h0m-19-13h0m-9 4h0m-11 14h0m27 6h0m7-2h0m9 7h0m5-3h0m7-11h0m21 4h0m3 11h0m2-7h0m0 0h0m7-8h0m1 9h0m1-1h0m3 5h0m3-4h0m2 5h0m3-7h0m2 2h0m3-5h0m3 11h0m1-5h0m9 5h0m0-13h0m11 8h0m6 4h0m8-2h0m3-4h0m2 5h0m1 1h0m0-5h0m7-4h0m2 4h0m1 6h0m1-2h0m1-1h0m0-3h0m4 1h0m2 2h0m6-11h0m1 5h0m2-6h0m6 10h0m2-9h0m0 9h0m5 2h0m0-2h0m1-4h0m14-2h0m2 6h0m1-10h0m2 15h0m0-4h0m4-3h0m1-5h0m9 9h0m2-4h0m2 1h0m5-9h0m4 8h0m7 5h0m0-2h0m10-2h0m8-5h0m6 7h0m6 2h0m3 2h0m12-15h0m3 13h0m4-11h0m15 23h0m-2 1h0m-4-10h0m-6 4h0m-3 9h0m-2 1h0m-4-5h0m0 0h0m-1-5h0m-2 11h0m-5-6h0m-2 2h0m-1-2h0m-6 2h0m-18-10h0m0 6h0m-1-6h0m-2 4h0m-6 10h0m-8-11h0m0 9h0m-5-10h0m-1 9h0m-2-7h0m-2-5h0m-1 12h0m-1 2h0m-4-4h0m-2 5h0m-5-8h0m0-5h0m-1 1h0m-2 8h0m-2-6h0m-2 9h0m-1-13h0m0 1h0m-6 0h0m0 13h0m-2-2h0m-4-12h0m-3 8h0m0-1h0m-3 7h0m-4-11h0m0 0h0m-3 4h0m-4 1h0m0-1h0m-1 7h0m-1-13h0m-1 10h0m-2-4h0m-7 3h0m-2-10h0m-8 1h0m-2-1h0m0 3h0m-5 3h0m-6-2h0m-1 9h0m-2-2h0m-4-5h0m-2-7h0m-3 6h0m-1 6h0m-4 1h0m-3-2h0m-2 3h0m-3-3h0m-3 4h0m-2-13h0m-4 10h0m-3-8h0m-2 3h0m0-3h0m-1 6h0m-4-4h0m-2 3h0m-17 0h0m-2 4h0m-3 1h0m-6-11h0m-1 10h0m0-13h0m0 1h0m-1 13h0m-4-9h0m-2 4h0m-3-4h0m-6-3h0m-20 10h0m-1-1h0m-21-11h0m-19 13h0m1 7h0m8-4h0m12 4h0m3 4h0m1 1h0m12-1h0m6 4h0m6 0h0m5-6h0m0-3h0m4 5h0m3-7h0m1 6h0m0-7h0m5 9h0m4-8h0m7-1h0m6 5h0m1-1h0m0 2h0m1 8h0m2-12h0m2 12h0m1 0h0m3-4h0m1-6h0m5-2h0m4 5h0m1 6h0m2-4h0m2-6h0m8 2h0m1 8h0m0-2h0m4-7h0m2-1h0m0 5h0m2-7h0m1 13h0m0-3h0m1 1h0m3-12h0m1 2h0m10 6h0m0 2h0m3-5h0m5 0h0m4 8h0m5-4h0m1 1h0m4-8h0m0 13h0m2-6h0m1-7h0m1 6h0m1-3h0m1 9h0m1 0h0m1-4h0m2-5h0m2-1h0m19-2h0m6 9h0m3 1h0m4-12h0m2 3h0m0 3h0m2 6h0m4-7h0m0 9h0m2-5h0m6-9h0m0 9h0m2-1h0m3-4h0m0 3h0m1-1h0m1 2h0m1-5h0m8-1h0m0 5h0m5 2h0m6 2h0m1 3h0m2-5h0m11-3h0m3 7h0m0-8h0m1-1h0m4 0h0m3-1h0m1 2h0m1-3h0m1 9h0m2 1h0m3 0h0m1-12h0m5 4h0m0-3h0m1 12h0m1-5h0m4-2h0m1 9h0m1-4h0m17-2h0m0 4h0m1-8h0m4-3h0m3 14h0m-9 9h0m-1-8h0m-10 3h0m-16 4h0m0 7h0m-1-7h0m-1 6h0m-2-3h0m-1 0h0m-4-7h0m-1-1h0m0 3h0m-2-4h0m-3 8h0m-2-8h0m-7 6h0m-6-5h0m0 5h0m-10 1h0m-3 2h0m-1-3h0m-5 1h0m-2 5h0m-1-2h0m-3 0h0m-5 3h0m0-13h0m-1 13h0m0-15h0m-3 7h0m-1 3h0m0 5h0m-1-15h0m0 6h0m-3 0h0m-1 0h0m0 8h0m0-12h0m-4 3h0m-2-1h0m-2 11h0m-1 0h0m-7-13h0m-5 7h0m-8-7h0m-4 13h0m0-8h0m-1-6h0m-1 9h0m0 2h0m0-1h0m-2-6h0m-4 10h0m-1-13h0m-1 8h0m-1 1h0m-1-7h0m-2 3h0m-2-7h0m0 10h0m-1 2h0m-1-11h0m-4 0h0m-2-1h0m-3 2h0m-3 6h0m-1-1h0m-1-5h0m-3 0h0m0 8h0m0 2h0m-1 2h0m-1-13h0m0 14h0m0-1h0m0-1h0m-1-2h0m-3-1h0m0-7h0m-2 6h0m0-9h0m0 15h0m0-8h0m-3 5h0m-3 0h0m0-2h0m-1-9h0m-2 12h0m-4-6h0m-4 0h0m-4 7h0m0 1h0m-1-1h0m-3-13h0m-1 14h0m-1-14h0m0 14h0m-1-13h0m0 6h0m-2-8h0m-1 1h0m-1 14h0m0-4h0m-5 0h0m-5-8h0m-1 4h0m-3-1h0m-2 3h0m-4 1h0m-1-9h0m-1 12h0m-1-1h0m-2-5h0m-2 2h0m-9-5h0m-11 6h0m0-8h0m-4 12h0m-2-6h0m0-6h0m-3-2h0m-4 9h0m-5 1h0m-1-1h0m-2-8h0m-8 1h0m-12 13h0m-3-6h0m-3-8h0m-6 13h0m-12-12h0m3 22h0m3 1h0m3-5h0m4-3h0m0 0h0m1 11h0m1-10h0m0-1h0m1 10h0m3 1h0m1 2h0m9-14h0m2 10h0m13 0h0m13-5h0m1 4h0m2 2h0m1-3h0m1 1h0m1-6h0m17-2h0m2 9h0m5-8h0m1 10h0m1 1h0m11-5h0m4-4h0m2 9h0m2-12h0m0 9h0m1-6h0m3 8h0m0 2h0m2-3h0m1-4h0m2 7h0m2-13h0m2 11h0m1-8h0m0 5h0m4 6h0m1-7h0m4 3h0m6 3h0m1-9h0m0-4h0m2 3h0m3-4h0m2 15h0m0-13h0m4 4h0m2 4h0m0 2h0m3-6h0m0 5h0m2-11h0m2 11h0m0-8h0m3 6h0m0-3h0m1 3h0m0 4h0m1-4h0m3 0h0m4-3h0m4 4h0m3 3h0m1 2h0m2-1h0m0-4h0m2-6h0m4 6h0m1 2h0m1-4h0m5-7h0m5 0h0m1 10h0m0 0h0m1-6h0m5 5h0m1-5h0m1-2h0m2 5h0m4 4h0m1-7h0m0 4h0m3-1h0m0-6h0m4 1h0m3 0h0m0 10h0m1-4h0m2-4h0m3 8h0m4-11h0m1 6h0m0-3h0m2 0h0m6 3h0m0-7h0m4 2h0m0 11h0m0-8h0m5-2h0m3 1h0m4 9h0m1-3h0m1-10h0m1 8h0m2-2h0m1 8h0m4-1h0m3-12h0m4-1h0m2 10h0m1-6h0m7-3h0m3 2h0m7 10h0m5-3h0m1-10h0m4 14h0m3-1h0m4-3h0m4 4h0m2-7h0m2-7h0m0 1h0m3 21h0m-6 8h0m-1-14h0m-11 9h0m-1-7h0m-5 9h0m-2-10h0m-1 3h0m0 1h0m-2-2h0m-3-3h0m-8 14h0m-3-1h0m-2-12h0m-12 12h0m-1-2h0m-2-10h0m-1 12h0m0-9h0m-1 9h0m-2-1h0m-3-12h0m-8-1h0m-2 3h0m0-2h0m-4 11h0m-1-8h0m-1 11h0m-2-14h0m-1 11h0m-9-7h0m-1 4h0m-1-2h0m0 1h0m0-4h0m-2 7h0m-4-8h0m0 6h0m-1 0h0m-1-8h0m0 0h0m-5 7h0m-3 1h0m-1-9h0m-2 1h0m-2 9h0m-3-10h0m0 2h0m-3 12h0m-5-12h0m-1-2h0m-2 9h0m-5-6h0m-1 12h0m-2-11h0m-1 6h0m-1-1h0m-1-9h0m-1 3h0m0 3h0m-1 5h0m0-4h0m-1 4h0m-3-5h0m0 7h0m-8-8h0m-1-1h0m-7 2h0m-2 1h0m0-5h0m-5 4h0m-1 9h0m0-15h0m-3 14h0m-2-4h0m-1-3h0m-1 6h0m-3-6h0m-1 1h0m-1 4h0m0 0h0m-1-8h0m-7 1h0m0-2h0m-2-3h0m-2 11h0m-1-2h0m-1-9h0m-3 9h0m-1-8h0m-2 8h0m-1 3h0m0-5h0m-3-6h0m-2 0h0m-2 8h0m0-6h0m-3-2h0m-1 13h0m-3-10h0m-5 6h0m0-6h0m-2 9h0m0-9h0m-5 9h0m0-4h0m-6 6h0m-1-15h0m0 11h0m-1-8h0m0 0h0m-9-1h0m-2 6h0m0-8h0m0 8h0m-4 3h0m-3-6h0m-5-2h0m-3 12h0m-5-10h0m-5-5h0m0 6h0m-2 2h0m-4 2h0m-5-3h0m-2 8h0m-2-9h0m-3-2h0m-1 1h0m-1 3h0m0-3h0m-4-2h0m-2 6h0m-4-3h0m-3 6h0m-7 0h0m-5-5h0m3 9h0m11 0h0m18 0h0m62 0h0m20 0h0m24 0h0m26 0h0m2 0h0m0 0h0m6 0h0m24 0h0m5 0h0m3 0h0m82 0h0m18 0h0"/>
<path d="M696 43h0m47 4h0m43-11h0m67 8h0m12 10h0m-54-4h0m-76 3h0m-1-3h0m-11 6h0m-19 2h0m-55-8h0m24 25h0m21-2h0m6-3h0m0-2h0m5 10h0m24-8h0m46 2h0m78 14h0m-18 1h0m-29 4h0m-1 3h0m-33-9h0m-17 3h0m-6-2h0m-25-3h0m-5 3h0m-12-1h0m-3 4h0m-9-6h0m-40 6h0m-2 15h0m19-3h0m20 5h0m15-3h0m8 7h0m7-13h0m19 6h0m5 2h0m21 6h0m36-11h0m40 4h0m30 15h0m-12-5h0m-15 1h0m-36 5h0m-19-4h0m-10 2h0m-7 7h0m-4-1h0m-9-1h0m-24 3h0m-44-3h0m-11-11h0m-34 15h0m-6-9h0m-10 9h0m1 12h0m20-9h0m2 5h0m17-1h0m11 7h0m32-13h0m5 3h0m10-3h0m3 9h0m1 5h0m11-5h0m23-8h0m1 4h0m0-1h0m40 3h0m27 2h0m32 0h0m-1 8h0m-22 7h0m-8 5h0m-5 1h0m-4-7h0m-7 1h0m-14 4h0m-7-7h0m-1 1h0m-1 0h0m-8-2h0m-7-4h0m-5 9h0m-6 1h0m0 4h0m-1-9h0m-1 8h0m-4-13h0m-2 4h0m-7 7h0m-2 1h0m-6-8h0m-3-1h0m0-1h0m-5 2h0m-6 9h0m0 2h0m-3-1h0m-29 0h0m-1-3h0m-13-3h0m-23-8h0m-28 31h0m46-14h0m18 7h0m1 7h0m20-6h0m4-8h0m4 12h0m10-7h0m8 1h0m1-5h0m0 7h0m17-2h0m1-1h0m2 0h0m14 7h0m4-4h0m15-1h0m8-7h0m2 0h0m3 10h0m55-2h0m3 0h0m-3 10h0m-9 3h0m-16-3h0m-6 12h0m-14-4h0m-5-3h0m-13-6h0m-11 7h0m-2-6h0m-1 6h0m-4 6h0m0-4h0m-16-4h0m-21 1h0m-5 7h0m-10-14h0m-19 2h0m-1 11h0m0-10h0m-4 11h0m-3-15h0m-8 15h0m-3-10h0m-7-1h0m-9 7h0m-21-9h0m-1 10h0m-4-10h0m-1 0h0m-6 10h0m-9-6h0m-4 7h0m-50 10h0m25 6h0m2-9h0m11 6h0m8-3h0m11-4h0m7 7h0m20 3h0m5-1h0m4 3h0m5-8h0m10 5h0m13-4h0m4-8h0m1 9h0m1 6h0m2-4h0m1-11h0m0 15h0m2 0h0m4 0h0m3-11h0m5 10h0m1-10h0m3 5h0m2-6h0m3-3h0m8 14h0m7-3h0m3 1h0m6-1h0m0-5h0m1-6h0m7 7h0m10 8h0m3-10h0m16 6h0m0 4h0m4-9h0m4 8h0m1-13h0m8 8h0m21-2h0m12 5h0m7-10h0m15 23h0m-2-9h0m-1 12h0m-23-2h0m-6 4h0m-9-1h0m0-2h0m-1-7h0m-1 4h0m-13 4h0m-4-9h0m-9 4h0m-2-5h0m-1 2h0m-2 5h0m-4 1h0m-20-4h0m-3-2h0m-1 10h0m0-5h0m-4-5h0m-2 1h0m-8-4h0m0 10h0m-2 0h0m-10-6h0m-3-4h0m-6 4h0m-7 8h0m-1-10h0m-7 6h0m-1-7h0m-8 0h0m0 13h0m-7-7h0m-3 1h0m-2-3h0m0 4h0m-8-10h0m-3 10h0m-1-6h0m-6 11h0m-1-5h0m-6-2h0m-3 1h0m-1-2h0m-3 6h0m-5-10h0m0 2h0m-6-2h0m-9 9h0m-2-1h0m-5 1h0m-26-12h0m-6 0h0m-18 1h0m-5 11h0m28 5h0m0 7h0m3 2h0m14-6h0m20 7h0m19-9h0m5 8h0m2 4h0m1-14h0m2 13h0m5-11h0m3 8h0m2-2h0m31-3h0m3 1h0m3 1h0m3 8h0m4-12h0m2 7h0m2-7h0m10-3h0m8 13h0m2-9h0m3 3h0m1 2h0m1 4h0m0-4h0m16 1h0m1 1h0m2 3h0m2-14h0m1 0h0m3 11h0m5-11h0m3 3h0m6 1h0m1 4h0m12-5h0m10 12h0m6-10h0m6 0h0m2 9h0m11 0h0m1-13h0m2 12h0m3-2h0m13-5h0m5 15h0m-7 7h0m-4-1h0m-4-4h0m0 8h0m-6-7h0m-9 3h0m-6-6h0m-1 1h0m-2 9h0m-7-5h0m-7 1h0m-5-11h0m-9 5h0m-4 6h0m-1 4h0m-6-4h0m0-2h0m-1-2h0m-3-7h0m-3 10h0m-5 5h0m-2-15h0m-8 8h0m-4-2h0m0 9h0m-1-1h0m-3-1h0m-2-2h0m-2-6h0m-3 3h0m0 7h0m-4-9h0m-2-4h0m0 9h0m-7-9h0m-3 8h0m-2-4h0m-1 9h0m-4-8h0m-4 8h0m-2-10h0m0 9h0m-5-4h0m-3-4h0m-2 3h0m-2 4h0m-4-3h0m-4-5h0m0 6h0m-1 0h0m-8-10h0m-4 11h0m-3-2h0m0-1h0m-1 0h0m-4-3h0m-1-1h0m-6 8h0m-2-4h0m-3-7h0m-4 9h0m-5 1h0m-6-1h0m-1-1h0m0-10h0m-1 14h0m-5-14h0m-1 15h0m-1-4h0m-23-5h0m-4 3h0m-5-8h0m0 5h0m-7 0h0m-7-3h0m-8 6h0m-8-2h0m-15-1h0m-18 4h0m0-4h0m-6 16h0m22 2h0m1-1h0m5 0h0m14 5h0m27-5h0m7-4h0m0 5h0m2 0h0m4 5h0m5-9h0m9 2h0m0 2h0m1-2h0m7 7h0m4-6h0m2-1h0m9 3h0m2-8h0m1 12h0m1-6h0m5 4h0m3-5h0m1 4h0m3 0h0m1-3h0m1-2h0m4 5h0m5-3h0m4-7h0m1 12h0m2 3h0m4-14h0m4 12h0m1-9h0m3 11h0m0-15h0m2 10h0m6 3h0m0 1h0m1-1h0m1-10h0m2-3h0m0 2h0m2-2h0m3 4h0m1 8h0m3 3h0m0-2h0m3-1h0m1 1h0m1-11h0m2 7h0m1 0h0m0-4h0m4 9h0m2-5h0m2 1h0m6 0h0m1-2h0m3 2h0m0-1h0m3 1h0m1 3h0m6-10h0m2 8h0m1-7h0m3 3h0m0 4h0m6 0h0m3-4h0m1 3h0m1 1h0m2-2h0m2-5h0m7 2h0m7-6h0m1 0h0m6 8h0m5-2h0m9-4h0m7 5h0m4-6h0m0 7h0m8-8h0m1 9h0m2-1h0m6-3h0m8-3h0m1-1h0m6 13h0m1 5h0m-16 2h0m-10 4h0m-9-5h0m0 2h0m-2 8h0m-1-8h0m-1 6h0m-8-9h0m-5 9h0m-7-10h0m-3 5h0m-3-5h0m-1 0h0m-3 12h0m-3-9h0m-17 7h0m-4-12h0m-3 14h0m-2-5h0m-2 3h0m-7-3h0m-1-4h0m-1 7h0m0 1h0m-3 0h0m-3 0h0m-4-2h0m-1-3h0m-1-1h0m-1-7h0m0 0h0m0 4h0m-2-1h0m-4 5h0m-3-4h0m-4 6h0m-5-6h0m0 11h0m-1-10h0m-2-4h0m-5 6h0m0 1h0m0 0h0m-4 2h0m-3 2h0m-1-5h0m-2 7h0m-5-1h0m-5-7h0m-7-4h0m-2 0h0m0 1h0m-1 8h0m-2-4h0m-2 5h0m-1 2h0m-2-1h0m-2-12h0m-1 5h0m-6-5h0m-1 10h0m-1-6h0m-1 2h0m-6 8h0m-5-10h0m-4 7h0m-2-3h0m-5-4h0m-5 10h0m-1 0h0m-8-14h0m-2 3h0m-4 7h0m-7-7h0m-3 4h0m-2 3h0m-2-7h0m0 6h0m-1-3h0m-2 8h0m-6-12h0m-10 9h0m0-1h0m-1-10h0m-4-1h0m-1 1h0m-1 14h0m-42-11h0m-2-4h0m0 15h0m-3 6h0m8 7h0m8-1h0m9 0h0m6-5h0m2 9h0m3-5h0m5-6h0m5 11h0m11-1h0m14-14h0m3 5h0m1-5h0m14 11h0m0-9h0m1 1h0m0 10h0m4-6h0m2-4h0m3 10h0m2-2h0m1-3h0m1 2h0m1 4h0m3-4h0m1-6h0m2 10h0m3 1h0m1-8h0m3-1h0m1 9h0m3-13h0m3-2h0m0 12h0m4-7h0m1 10h0m1 0h0m2-9h0m3-5h0m0 9h0m1-8h0m1 2h0m0 11h0m3-13h0m2 4h0m6-5h0m4 2h0m0 0h0m0 0h0m3-1h0m2 0h0m2 4h0m3-4h0m4 7h0m0-1h0m2 3h0m1 1h0m0-12h0m7 7h0m1-3h0m1-3h0m0 3h0m1 6h0m0 1h0m1 3h0m4-7h0m1 7h0m6 0h0m0-5h0m0-8h0m1 11h0m1 1h0m1-6h0m2-2h0m1 5h0m2 4h0m0-9h0m6 7h0m2-8h0m1-4h0m2 8h0m4 6h0m7-7h0m10 5h0m9-4h0m4-8h0m1 1h0m3 0h0m1 2h0m1 8h0m4-3h0m0 5h0m0-3h0m3-7h0m0 2h0m5 4h0m0 1h0m10 4h0m6-8h0m5 6h0m5-2h0m6 2h0m3-4h0m2-7h0m6 0h0m2 6h0m4 1h0m5 2h0m1-7h0m7 19h0m-1-4h0m0 3h0m-1 8h0m-2-13h0m-1 7h0m0 2h0m-3-3h0m-1 7h0m-4-1h0m-4-3h0m0-9h0m-1 14h0m-2 1h0m0-15h0m-2 12h0m-5-10h0m-5 4h0m-3 4h0m-1-8h0m-1 5h0m-2-2h0m-2 8h0m-3-4h0m-3-9h0m0 5h0m-4 4h0m-1 1h0m-9-3h0m-7 3h0m-3 5h0m-1-1h0m0-6h0m-2 7h0m-1-2h0m-1-1h0m-3-3h0m-2 2h0m-6-4h0m-3 2h0m-7-1h0m-1-7h0m-3 8h0m-3-8h0m-5-1h0m0 8h0m-3-4h0m-2-3h0m-4 1h0m-3 1h0m-1 6h0m0-8h0m-3 8h0m-1 0h0m-3-5h0m-1 7h0m-4-3h0m-1-8h0m0 13h0m-4 0h0m-2-5h0m0-1h0m-2 6h0m-1-7h0m0-4h0m-2-2h0m-5 14h0m0-2h0m0-12h0m-2 8h0m0-6h0m-4 6h0m-2 0h0m-3 5h0m-1-4h0m-7 1h0m-4 0h0m-6 3h0m-3-3h0m-3 4h0m-3-14h0m0 5h0m-1 10h0m-1 0h0m-2-3h0m0-8h0m-2 11h0m-3-5h0m0-1h0m-1-8h0m-1 3h0m-2 7h0m-2-4h0m-3-5h0m-2 2h0m-2 11h0m-1-10h0m0 0h0m0 6h0m-3-2h0m-2 5h0m-1-10h0m-4 4h0m-1-1h0m-2 8h0m-2-3h0m-3 2h0m-3-2h0m-3-1h0m-5 1h0m-3-11h0m-6 13h0m-3-4h0m-9 3h0m-2 2h0m-6-9h0m-2-5h0m-1 0h0m-2 2h0m-8 9h0m-3 3h0m-7-9h0m-16 8h0m0 1h0m-17-2h0m4 11h0m3 7h0m11-11h0m0 1h0m4 1h0m3 0h0m9 6h0m2-7h0m4-3h0m4 8h0m2 5h0m1 0h0m2-10h0m7 6h0m0 0h0m4-4h0m3-5h0m6 1h0m7 9h0m0-9h0m8 7h0m7-8h0m1 2h0m3-4h0m2 15h0m0-8h0m4 2h0m1 3h0m2-4h0m3-6h0m6 3h0m3-2h0m0 1h0m3 8h0m2-10h0m1-1h0m0 11h0m2-10h0m2 10h0m1-6h0m3 7h0m3-2h0m0-4h0m3 6h0m6-12h0m1 3h0m2 10h0m4-9h0m1-3h0m1 5h0m1 2h0m0-1h0m1-7h0m3 5h0m1 9h0m2-5h0m2-4h0m9-1h0m0 10h0m1-4h0m0 2h0m1 2h0m0 0h0m0-8h0m6-3h0m3 9h0m3-7h0m1 8h0m9-7h0m3-2h0m2-4h0m0 12h0m1-3h0m0 5h0m0-6h0m5-7h0m1 13h0m2-3h0m2-8h0m0 10h0m2-3h0m2-2h0m1 1h0m2-4h0m2 3h0m2 6h0m3-7h0m4-5h0m2 4h0m3 7h0m3-11h0m0-1h0m2 1h0m4-1h0m0 8h0m0 4h0m3-3h0m7-2h0m2-4h0m0 9h0m3-8h0m3 2h0m0-4h0m1 6h0m2 1h0m0-10h0m0 12h0m1-10h0m3 5h0m1 5h0m6-5h0m7 2h0m2 0h0m1 2h0m1-1h0m9-7h0m2 8h0m1-4h0m3 7h0m1-15h0m5 8h0m6 5h0m1-7h0m14 14h0m-6 0h0m-4 3h0m0 7h0m0-10h0m-1-3h0m-1 14h0m0-8h0m-3-5h0m-1 12h0m-8-3h0m-1 4h0m-4 0h0m-1-5h0m-1 0h0m-1-5h0m0 7h0m-2-9h0m-5 0h0m-2 12h0m0-10h0m-7-2h0m-1 3h0m-2 5h0m-2-3h0m-5-6h0m-1-2h0m-5 7h0m-1 5h0m-1-8h0m-1 6h0m-4 4h0m-1-14h0m-2 4h0m-2 8h0m0-1h0m-2-3h0m-3 7h0m-3-3h0m-3-2h0m-3-5h0m0-3h0m-2-2h0m-1 9h0m-1 2h0m-1-10h0m-2 0h0m-7 9h0m0 1h0m-2 2h0m0-2h0m-2-3h0m-2-1h0m-2 1h0m0-6h0m0 11h0m-1 1h0m0 0h0m-6-13h0m-2 2h0m-2 12h0m-2-9h0m-2-5h0m-2 11h0m0-2h0m-1 5h0m-1-11h0m-4-1h0m0-3h0m-1 4h0m-2 5h0m-1-8h0m-1 6h0m-4-6h0m-1 3h0m-7 11h0m-2-4h0m0-2h0m-4-9h0m-1 5h0m-2 4h0m0 6h0m-1-7h0m-2 5h0m0-11h0m-1-2h0m0 15h0m-1-4h0m-1-10h0m-3 1h0m-3 13h0m-3-5h0m0-2h0m-4-8h0m0 13h0m-7-13h0m-1 7h0m-2 6h0m0-13h0m0 15h0m-1-10h0m-1 5h0m-1-5h0m-3 9h0m0-1h0m-4-11h0m0-2h0m-3 6h0m-1 1h0m-2-6h0m-1 8h0m-4-6h0m-1 12h0m0-11h0m-1 4h0m-3-4h0m-1 8h0m-3-9h0m-1 3h0m-2-4h0m-3 3h0m-9 1h0m0-2h0m-3-4h0m-2 13h0m-10-5h0m-5 0h0m-1-2h0m-9 1h0m-3-6h0m-3 11h0m-2-3h0m-2 4h0m-2-11h0m-3 10h0m-4-9h0m-2 1h0m-1 8h0m-3 3h0m-7-3h0m-1-6h0m-1 8h0m0-1h0m0 1h0m-2-11h0m-2 9h0m-4-11h0m-3 13h0m-2-3h0m-6-1h0m-8 2h0m11 4h0m60 0h0m35 0h0m10 0h0m12 0h0m2 0h0m23 0h0m65 0h0m38 0h0m35 0h0"/>
<path d="M673 31h0m56 11h0m14-7h0m8 12h0m4-2h0m1-3h0m4 0h0m56 12h0m-40 4h0m-75 0h0m-14 11h0m26-1h0m119 2h0m29 25h0m-16-10h0m-31 2h0m-53 5h0m-31-1h0m-4-9h0m-11-2h0m-114 14h0m72 3h0m39 5h0m18 9h0m7-15h0m23 7h0m10 4h0m0-6h0m1 7h0m14-9h0m41 2h0m20 7h0m20 0h0m-22 5h0m-17 11h0m-24-10h0m-10 10h0m-8-4h0m-4 4h0m0-3h0m-10-6h0m-8 1h0m-3 1h0m-1 9h0m-11-11h0m-13 12h0m-9 0h0m-21-14h0m-2 14h0m-15-3h0m-30-8h0m5 26h0m1-11h0m2-1h0m10-1h0m35 5h0m0 2h0m22-8h0m0 11h0m11-10h0m2 10h0m1-8h0m11 2h0m11-1h0m2 9h0m2-12h0m6 6h0m1 3h0m4-7h0m2 12h0m15-13h0m22-2h0m18 13h0m10-13h0m5 10h0m14 20h0m-51-10h0m-4 11h0m-2-15h0m-12 11h0m-10-2h0m-4 0h0m-14-7h0m-2 13h0m-2-2h0m-4-13h0m-6 11h0m-4-7h0m-6 2h0m-2-2h0m-12 10h0m-4-2h0m-42 1h0m-1-3h0m-4-8h0m-39 12h0m4 7h0m22 8h0m0-2h0m1-8h0m1 10h0m1-2h0m4-4h0m8-2h0m10-1h0m1-1h0m7 12h0m3-2h0m0-8h0m11 8h0m1-6h0m14-3h0m5 7h0m1-8h0m5 10h0m1-13h0m9 14h0m9-11h0m1 7h0m12-4h0m10-4h0m6 3h0m3 0h0m0 7h0m10 0h0m2 0h0m43-5h0m22 3h0m0-2h0m-7 13h0m-11 7h0m-6-4h0m-15 1h0m-6 2h0m-20 3h0m-11-12h0m-3 12h0m-1-12h0m-1 0h0m-15 4h0m-3 5h0m-6 0h0m-5 4h0m-3-9h0m-1 3h0m-4-5h0m-4 3h0m0 3h0m-4-3h0m-2 7h0m-2-8h0m-2 0h0m-8 7h0m-2-9h0m-12 3h0m-7 3h0m-1-4h0m-5-6h0m-4 11h0m-1-7h0m-3 10h0m0-4h0m-1 5h0m-7-2h0m-10 0h0m-1-11h0m-2 7h0m-8-2h0m-3 8h0m0-13h0m-7 8h0m-7-5h0m-4-1h0m0 0h0m-61 23h0m65-8h0m5 1h0m7-4h0m3 0h0m12 8h0m0 3h0m8-10h0m9-1h0m15 0h0m8 8h0m1 4h0m11 0h0m1-4h0m11 3h0m1-2h0m1-6h0m0 2h0m5 0h0m4 8h0m3-8h0m7 3h0m1 3h0m2 1h0m7 1h0m14-3h0m2-1h0m12-6h0m8 6h0m6-3h0m5 7h0m2-1h0m13 1h0m8 2h0m10-13h0m2 5h0m2-3h0m12 27h0m-5-9h0m-22 6h0m-7-10h0m-5 12h0m-10-13h0m-2 12h0m-6-1h0m-3-12h0m-2 7h0m-5 8h0m-1-15h0m-2 13h0m-8-10h0m-4 6h0m-2-9h0m-1 14h0m-3-2h0m-1-1h0m-12-1h0m-13 4h0m-7-4h0m0-9h0m0 8h0m-1 3h0m-3-3h0m-3-9h0m-11 2h0m-1 13h0m-4-4h0m-4-4h0m-4 2h0m-1 3h0m0-5h0m-15-5h0m-4 10h0m-3 1h0m-17-4h0m-7 4h0m0 1h0m-5-3h0m-23-1h0m-4 5h0m-13-7h0m-15-4h0m0 10h0m-15-2h0m-24-10h0m23 24h0m2-2h0m3-6h0m5 0h0m11 10h0m21-3h0m15-1h0m7 4h0m8-4h0m10 4h0m8 3h0m1 0h0m0-3h0m6-4h0m2-3h0m1 2h0m2-2h0m0-1h0m5 8h0m1 2h0m3-3h0m0 2h0m2-13h0m4 11h0m3-5h0m0 6h0m5-6h0m1-1h0m3-1h0m2-1h0m4 11h0m5-12h0m1 6h0m0-6h0m3-2h0m1 8h0m3 1h0m4-7h0m2 13h0m1-12h0m4 10h0m9-9h0m1-4h0m1 5h0m3 2h0m2 5h0m1-3h0m1 6h0m1-2h0m5-5h0m3-5h0m1 10h0m8-6h0m3-3h0m5 7h0m3-7h0m3-4h0m2 1h0m5 9h0m1 3h0m10-13h0m3 7h0m4 5h0m8-9h0m2 9h0m7-6h0m3 0h0m4-3h0m4 1h0m7-3h0m7 2h0m5-2h0m-10 30h0m-19-9h0m-6-3h0m-1 4h0m0 5h0m-2-2h0m0 4h0m-5-12h0m-10 6h0m-2-6h0m-1 9h0m-3-9h0m-9 2h0m-29 5h0m-2-6h0m-2 4h0m0-7h0m-4 15h0m-4-10h0m-9 10h0m-9-15h0m-1 12h0m-4-8h0m-2 8h0m-2-7h0m-6 9h0m-1-1h0m0-13h0m-5 10h0m-2-3h0m-1-7h0m-1 13h0m-3-8h0m-8 9h0m-3-14h0m0 12h0m-5-11h0m-9 7h0m-23-3h0m-10 2h0m-2 8h0m-4-3h0m-1 2h0m-1-12h0m-1 12h0m0-12h0m-7-2h0m-11 3h0m-1 4h0m-20-3h0m-10 5h0m-5-5h0m-15 8h0m-36 9h0m6-1h0m13 4h0m10 5h0m5-3h0m0-5h0m17-1h0m3 10h0m4-3h0m7 1h0m9-8h0m1 7h0m17-7h0m3 1h0m10-5h0m2 12h0m2 2h0m4-14h0m3 3h0m1 8h0m1-6h0m7 7h0m7-6h0m5 1h0m2 2h0m1 4h0m1-3h0m0 2h0m2-1h0m0-5h0m6 8h0m3-8h0m1 4h0m4-2h0m3 1h0m4 4h0m3-1h0m0-10h0m2 0h0m5 10h0m6 0h0m7-5h0m6-1h0m0 1h0m1 6h0m2-13h0m4 3h0m3 3h0m0 9h0m5-13h0m0 1h0m1 12h0m1-14h0m6 3h0m1 0h0m0-4h0m10 11h0m8 3h0m1 0h0m1-3h0m1-1h0m8 0h0m1 5h0m1-2h0m18-4h0m4-1h0m2 1h0m3 2h0m3-4h0m5 3h0m4 4h0m1-5h0m4-6h0m7-2h0m3 3h0m3-4h0m4 7h0m13 3h0m4 3h0m-4 6h0m0 6h0m-11 5h0m-5 1h0m-10-12h0m-1 12h0m-4-13h0m-3 12h0m-6-1h0m-6-12h0m-1 11h0m-5 1h0m-2 2h0m-11-6h0m-1 3h0m-2-11h0m-9 0h0m-7 14h0m-2 0h0m0-13h0m0 6h0m-2-1h0m-5 0h0m-2 1h0m-2 6h0m0-11h0m-7 2h0m0 6h0m-1 1h0m-4-8h0m-3 1h0m-8-5h0m-1 5h0m-2 5h0m-6-7h0m-3 1h0m-1 8h0m-2-5h0m0-3h0m-2 11h0m-3-14h0m-1 12h0m-1 0h0m0 2h0m-1-15h0m-4 2h0m-3 8h0m-14-3h0m-1 8h0m-1-8h0m-6 2h0m-1-4h0m-4 5h0m-1 3h0m-1-1h0m-10-11h0m-1 4h0m-3 2h0m-3 5h0m-1-4h0m-1 4h0m-13-3h0m-8 0h0m-2 5h0m-3-11h0m-2 4h0m-2 8h0m-12-1h0m-4-3h0m-1-8h0m-1 5h0m-10-5h0m-1-1h0m-2 10h0m-8-7h0m-6 0h0m-8 2h0m-2 5h0m-12-3h0m-4-9h0m-10 15h0m-7 5h0m7 6h0m2 4h0m5-13h0m13 0h0m4 10h0m9 1h0m3-8h0m1-4h0m2 15h0m3-12h0m1 2h0m0 3h0m1-8h0m1 12h0m3-3h0m2-1h0m1-1h0m8 7h0m2-8h0m7 6h0m1-3h0m0-1h0m2-1h0m2-2h0m3 5h0m1-8h0m3 10h0m4-6h0m0 5h0m1-8h0m6 1h0m1 10h0m2-13h0m1 12h0m0-2h0m0-1h0m4-2h0m4-5h0m3 11h0m0-5h0m1 1h0m3 5h0m2-14h0m5 5h0m6 0h0m2 4h0m0-6h0m2 8h0m1 1h0m1 2h0m2-3h0m1-2h0m2 2h0m3 0h0m11 1h0m1 2h0m2-4h0m7-7h0m13-4h0m2 10h0m1 2h0m3-2h0m3 2h0m0-2h0m0 3h0m1-12h0m1 2h0m3 7h0m0-8h0m5 12h0m0-12h0m2 6h0m3-7h0m2 9h0m12-3h0m5 0h0m0-3h0m0-3h0m2 13h0m6-6h0m2 2h0m6-5h0m0 4h0m1-2h0m0 3h0m1-2h0m0-8h0m2 0h0m1 5h0m1 4h0m0-7h0m1 7h0m11-9h0m2 5h0m6-1h0m1 3h0m13 7h0m11-13h0m1 11h0m1 3h0m1-8h0m14 1h0m5 0h0m2 5h0m1-1h0m4 3h0m1-8h0m-3 13h0m-6 4h0m-4-2h0m0-2h0m-10 4h0m-3-1h0m0 4h0m-4-10h0m-1 1h0m-4 3h0m-6 2h0m-9-7h0m0 4h0m-3 5h0m-1-5h0m-1 5h0m0-7h0m-5 3h0m-1 3h0m0 0h0m-1-2h0m-1-5h0m-1 1h0m-9 11h0m-1-6h0m-3 7h0m0-13h0m-1-1h0m0 0h0m-1 14h0m0-11h0m-8-2h0m-3 8h0m0-2h0m-1-7h0m-1 12h0m-1-7h0m0 3h0m-3-2h0m-4-1h0m0-3h0m-4 9h0m-1 2h0m-1-7h0m-9 7h0m-1-1h0m-2-4h0m-5 6h0m-1 1h0m-3-14h0m-2 10h0m-2-3h0m-4 0h0m-1 2h0m-2-2h0m-1-6h0m-1 3h0m0 6h0m0 4h0m-4-4h0m0 1h0m-3-7h0m-1-2h0m-3 12h0m-2-9h0m-4 7h0m-1-8h0m-5 3h0m0 0h0m-1-6h0m-2 2h0m-4 7h0m-4-10h0m-5 8h0m0-9h0m-2 8h0m0 0h0m-1-8h0m-2 13h0m-2-7h0m0-4h0m-4 8h0m-1-2h0m0 3h0m-2-2h0m-4 1h0m0 4h0m-1-5h0m-1 5h0m-7-7h0m-1-4h0m-1 4h0m-2-4h0m-4 12h0m0-7h0m-2-8h0m-3 1h0m-1 6h0m-5-5h0m-1 4h0m0-2h0m-6 3h0m-2 0h0m-2 3h0m-5-7h0m-2 10h0m-3-9h0m-3 10h0m-1-7h0m-7-4h0m-2 10h0m-2-1h0m0 3h0m-3-7h0m-1 4h0m-4 3h0m-2-9h0m-1 7h0m-3-8h0m-13-4h0m-2 0h0m-1 7h0m-4 1h0m-1-3h0m0 4h0m-2-8h0m-1 8h0m-8-6h0m-10 21h0m21 4h0m1-4h0m0-2h0m6-1h0m8 8h0m5-14h0m8 3h0m0 11h0m0-1h0m2-13h0m1 12h0m0-6h0m1 0h0m5-6h0m8 0h0m0 13h0m3-4h0m5 0h0m4-9h0m3 6h0m2 2h0m12-3h0m0 1h0m1 8h0m3-11h0m2-3h0m2 5h0m2 6h0m0 1h0m3-3h0m2 5h0m1-13h0m1 11h0m11-6h0m4 3h0m1 1h0m0-8h0m1 2h0m1 8h0m2-9h0m2 3h0m0-4h0m3 3h0m2 6h0m0 3h0m1-12h0m2 2h0m1 1h0m1 5h0m1-6h0m0-2h0m2-2h0m2 13h0m0-1h0m1-3h0m3-8h0m1 5h0m0 1h0m3-7h0m1 7h0m16 6h0m1-9h0m2 2h0m2 3h0m0 2h0m1-9h0m0 7h0m1-7h0m1 9h0m1-2h0m3 3h0m1-4h0m1 6h0m4-1h0m1-11h0m3 8h0m0 2h0m0 0h0m1-4h0m1 1h0m1 0h0m0 4h0m2-11h0m2 1h0m0 10h0m2 2h0m3-10h0m1 10h0m4-11h0m4 1h0m1-4h0m1 0h0m2-1h0m0 0h0m1 11h0m2 3h0m1-1h0m7-11h0m8 12h0m1-9h0m2-2h0m4-2h0m3 5h0m3 1h0m0-3h0m2 10h0m0-4h0m2 0h0m1-4h0m1-3h0m3-3h0m0 0h0m2 10h0m2-2h0m2 0h0m8-8h0m6 10h0m0-2h0m1 1h0m1 1h0m0-3h0m0 6h0m1-1h0m3 3h0m0-2h0m12 1h0m1-3h0m0-9h0m6 0h0m1-1h0m3 13h0m0-14h0m3 11h0m2 2h0m0-3h0m3 19h0m0-2h0m-4-11h0m-1 8h0m-5-5h0m0 7h0m-1 5h0m-2-5h0m-2-9h0m-1 12h0m-6-7h0m-2 9h0m0 0h0m0-15h0m-1 3h0m-1 4h0m-1-6h0m-6 6h0m-3 2h0m-2-1h0m-2-8h0m0 3h0m-2-2h0m-2-1h0m-1 6h0m0 3h0m0-6h0m-2 1h0m-2 6h0m-2-5h0m-1-4h0m-8 12h0m-5-2h0m-2 3h0m0-3h0m-7-7h0m-3 3h0m-3 1h0m0-6h0m0 9h0m0 0h0m-2-3h0m-1 6h0m-1-4h0m0-8h0m-2 3h0m0 7h0m-11-6h0m-1 8h0m0-13h0m-6 14h0m-1-7h0m-5-1h0m0-7h0m-1 6h0m0 7h0m0-3h0m-3-10h0m0 10h0m-1-3h0m-4-5h0m0-2h0m-2 6h0m-3 6h0m-2-9h0m-3 5h0m-1 3h0m-1-1h0m-3 2h0m-1-11h0m-1 4h0m0 2h0m0 4h0m-1 3h0m-1-3h0m-1-8h0m0 6h0m-3 5h0m0-14h0m-2 11h0m0-3h0m-1-4h0m0 6h0m-4-1h0m0-7h0m-3 7h0m-1-7h0m-3 11h0m-1-9h0m-1-4h0m-2 14h0m-3-10h0m0 7h0m0-3h0m-4-4h0m-3 1h0m-1-3h0m-1 2h0m-3 9h0m-1-1h0m-1-3h0m0-4h0m-2 9h0m-1-10h0m0 10h0m-1 1h0m-4-1h0m-3-1h0m-1-5h0m-3 6h0m-3-4h0m0 3h0m-1-12h0m0 0h0m-6 1h0m0 7h0m-2-4h0m-3 9h0m-2 0h0m0-8h0m0 3h0m-2 6h0m-3-14h0m-1 6h0m0 2h0m-2-4h0m-3-5h0m0 5h0m0 6h0m-1-2h0m-1-5h0m0 11h0m0-11h0m-6 10h0m0-3h0m-6-4h0m-2-6h0m-1 0h0m-7 12h0m0-8h0m-4-1h0m-2 10h0m-1 1h0m0-12h0m-2 5h0m-1-8h0m-3 12h0m-1-8h0m0 10h0m0-8h0m-4 4h0m-5-7h0m-7 10h0m-4 2h0m-2-11h0m-6 5h0m-7 4h0m0-9h0m-15-2h0m-4 1h0m-2 4h0m-2-4h0m-6 2h0m0 5h0m-1-10h0m-1 2h0m-2 3h0m-1 3h0m40 8h0m75 0h0m61 0h0m35 0h0m13 0h0m72 0h0"/>
<path d="M771 24h0m-53-5h0m93 38h0m-28 3h0m-42 3h0m-61-1h0m7 2h0m17 4h0m34 5h0m26 6h0m40-4h0m36 13h0m-52 6h0m-4 1h0m-46-14h0m-1 1h0m-32 9h0m-19-8h0m-34 2h0m-8 23h0m36 0h0m59-12h0m2 11h0m6-7h0m26 4h0m0 3h0m19-4h0m12-4h0m37 27h0m-45 0h0m-23-5h0m-43 5h0m-12-11h0m-33-2h0m-42 24h0m4 4h0m40-3h0m1-4h0m19 9h0m12-2h0m15-3h0m6-2h0m2 5h0m9-13h0m11 8h0m4 6h0m4-7h0m9 1h0m6-1h0m11 1h0m30 0h0m5-2h0m2 9h0m34-1h0m6-11h0m-3 20h0m-57-6h0m-11 13h0m-3-9h0m-30 4h0m-1 5h0m-1-1h0m-2-13h0m-1 5h0m0 1h0m-1 5h0m-1 0h0m-3-8h0m-7 7h0m0 2h0m-2 3h0m-5-11h0m-12-2h0m-7 1h0m-4 6h0m-1 0h0m-2-7h0m-2 6h0m-1 5h0m-6-6h0m-2-1h0m-6-6h0m-9 8h0m-18-3h0m-3 4h0m-8 0h0m-1 19h0m27 0h0m17-6h0m11 7h0m3-5h0m6-6h0m4-1h0m1 9h0m1-2h0m4 7h0m11-13h0m0 2h0m2 7h0m2-7h0m2 1h0m5-4h0m39-1h0m1 11h0m5-4h0m1 1h0m6 3h0m2 0h0m3-10h0m9 5h0m3-4h0m46 5h0m-22 14h0m-8-5h0m-19 8h0m-35-4h0m-11-4h0m-3 13h0m-2-6h0m-4-4h0m-3 0h0m-2 1h0m-3 7h0m-4-10h0m-1 11h0m-3-7h0m0 0h0m-5-4h0m-2 2h0m-10 6h0m-33-2h0m-2-4h0m-2 8h0m-4-9h0m-5 12h0m-7-4h0m-6-4h0m-2 9h0m-5-11h0m0 1h0m-3 4h0m-4-4h0m-17 8h0m-13 0h0m-31 12h0m36-4h0m4 5h0m0-6h0m15 3h0m0 0h0m3 0h0m1-4h0m16 5h0m6 2h0m1 0h0m5-2h0m4-5h0m1 10h0m4-10h0m5 12h0m7-7h0m7 6h0m1-11h0m1 10h0m6-8h0m5 5h0m7-9h0m1 14h0m6-5h0m2-5h0m4 4h0m9-2h0m4 4h0m1-3h0m1 6h0m4-11h0m3 1h0m2 3h0m7-2h0m15-2h0m3 12h0m11-14h0m2 13h0m1 0h0m11-14h0m4 9h0m2-6h0m1 5h0m1 7h0m0-11h0m2 8h0m6-2h0m11-4h0m9 3h0m13 3h0m-6 14h0m-7-1h0m-18-5h0m-1 2h0m-2 0h0m-20-2h0m-16 0h0m-8 7h0m-4-9h0m0 2h0m-8 9h0m-8 0h0m0-6h0m-10-7h0m0 15h0m-1-3h0m-3-6h0m-2 9h0m-4-11h0m-1 3h0m-2 5h0m-8-12h0m-2 5h0m-3-2h0m-1-1h0m-5-2h0m0 6h0m-8 8h0m-5-4h0m-3-8h0m-2 13h0m-2-12h0m0-3h0m0 3h0m-5 0h0m-7 11h0m-4-2h0m-1 0h0m-2 3h0m-1-8h0m-2 4h0m-3-7h0m-1-4h0m-1 8h0m-1-4h0m-2 10h0m-1 0h0m-7-1h0m-2-10h0m-9 3h0m0-2h0m-8 3h0m-1 7h0m-2-8h0m-1-3h0m-7 2h0m-2-5h0m-32 15h0m-29-12h0m-12 26h0m26-3h0m17 0h0m1 3h0m4-4h0m19 4h0m0-3h0m31-5h0m2 7h0m5-6h0m0 6h0m12-12h0m5 14h0m1 1h0m1-13h0m4 2h0m2 7h0m7 3h0m1 0h0m5-13h0m6 7h0m1 5h0m27-3h0m1 1h0m0-5h0m4-6h0m1 15h0m1-9h0m2 4h0m1-8h0m3 5h0m8 8h0m3 0h0m10-10h0m5 9h0m13-2h0m4-10h0m4 6h0m4 4h0m24 1h0m7-4h0m10-2h0m3-6h0m19 19h0m-4-1h0m-4 5h0m-34 1h0m-2 4h0m-14-4h0m-2 2h0m-2 1h0m-2-7h0m-9-5h0m-3 8h0m-1 3h0m-8-2h0m-1 0h0m-3-4h0m-1-1h0m-2 11h0m-2-14h0m-2 11h0m-4-11h0m-3 4h0m-2 10h0m-1-4h0m0 0h0m-1 0h0m0 2h0m-1 0h0m-1-10h0m-2 12h0m-7-7h0m-7 5h0m-1-8h0m-2 6h0m-4 1h0m-2 3h0m-5-6h0m0-6h0m-2 10h0m-7 2h0m0-15h0m-5 14h0m-7-2h0m-4-9h0m-2 12h0m-6-6h0m-2-6h0m-1 7h0m-4-8h0m-1 2h0m-2 7h0m-5-10h0m-2 13h0m-3 1h0m-3-9h0m-18 4h0m-11-3h0m-1 7h0m-4-7h0m-2 3h0m0 5h0m-1-9h0m-3-1h0m-6-5h0m-2 11h0m-4-5h0m-17-5h0m-1 13h0m-6-2h0m0-9h0m-1 2h0m-8-1h0m-29 8h0m12 9h0m8 8h0m13-2h0m3-7h0m16 6h0m10-6h0m2-2h0m5 12h0m3-7h0m8 8h0m6-13h0m11 7h0m0 6h0m5-1h0m2-6h0m8-1h0m2-4h0m2 9h0m4-4h0m9-7h0m2 12h0m3-13h0m5 7h0m4-2h0m2-2h0m0 2h0m1 7h0m2-2h0m6 5h0m1-4h0m0 1h0m4-11h0m3 4h0m1 10h0m2-15h0m1 2h0m3 8h0m2-4h0m1-5h0m4 7h0m7-3h0m0 2h0m4 7h0m2-7h0m2-3h0m1 1h0m0-2h0m0 1h0m1 11h0m1-14h0m0 12h0m6-8h0m1 1h0m1-1h0m1 4h0m0-7h0m0 5h0m1 6h0m0 1h0m1-12h0m2 1h0m2 9h0m0-7h0m4-2h0m3 11h0m2-5h0m5-5h0m1 6h0m3 3h0m3-2h0m8 3h0m1-8h0m2 5h0m1 1h0m0-4h0m2 2h0m3 2h0m2-11h0m1 4h0m0 0h0m6 4h0m1 6h0m1-13h0m0 5h0m8 5h0m1-5h0m18 6h0m4-11h0m13 9h0m3 3h0m2-11h0m-1 22h0m0 1h0m-4-6h0m-1-4h0m-9 1h0m-9 0h0m-2 10h0m-8 0h0m-1-7h0m-4-1h0m-4 9h0m-2-4h0m-9-2h0m-12 1h0m-1-5h0m-2 5h0m-2-1h0m-1 3h0m-4 2h0m-1-4h0m-1-1h0m-1 8h0m-4-8h0m-2 1h0m-1 1h0m-4 5h0m-3-11h0m-5-1h0m-4 13h0m-1-5h0m-4 6h0m-4-14h0m-2 8h0m0 1h0m-3 4h0m-5-9h0m0 0h0m-2 5h0m-1 5h0m-4-9h0m-3 3h0m0 2h0m-1 4h0m-3-15h0m-1 10h0m-2-7h0m-1 11h0m0-3h0m-6-6h0m-2 7h0m0-10h0m-4 10h0m-10-10h0m-1 8h0m-9-1h0m-2 3h0m-5-9h0m-4 10h0m0-2h0m-1 3h0m-1-4h0m-3 1h0m-8-4h0m-5-3h0m-2 4h0m-2-5h0m-7 6h0m-2-1h0m-6-8h0m-1 7h0m0 3h0m-1-7h0m0 3h0m-9-1h0m-1-1h0m-3 5h0m-3-4h0m-6 7h0m-5-6h0m0-1h0m-7 7h0m-1-2h0m-12 2h0m-7 1h0m-4-7h0m-4-1h0m-2 2h0m-1 4h0m-1 0h0m-7-7h0m-1 11h0m-3-8h0m-2 2h0m-5-4h0m-5 10h0m-16-15h0m21 25h0m11 6h0m3-10h0m17 7h0m7-12h0m5 0h0m4 12h0m5-2h0m8 1h0m1 4h0m0-9h0m1 8h0m9-8h0m2 9h0m3 0h0m1-1h0m2-10h0m0-1h0m1-2h0m1 2h0m7-2h0m2 8h0m1-4h0m1 0h0m8 2h0m1 6h0m0 2h0m5-14h0m0 13h0m2-12h0m1 5h0m3 6h0m1-10h0m0 0h0m4 0h0m2 5h0m4 5h0m4-1h0m1-7h0m0 8h0m1-9h0m2 7h0m5-9h0m0 7h0m2 5h0m2-1h0m3-7h0m2 4h0m3 4h0m0-6h0m2 6h0m1 0h0m0-8h0m1-2h0m4-4h0m1 13h0m1-8h0m1 5h0m3-1h0m0 5h0m1-14h0m2 7h0m1-5h0m1 3h0m2 3h0m2 1h0m3 6h0m3-3h0m1-9h0m0 8h0m2-5h0m1 0h0m0 1h0m4 3h0m3 1h0m1-7h0m3 11h0m4-11h0m8 3h0m5-6h0m1 13h0m0-8h0m1 4h0m0 5h0m0-6h0m1-2h0m1 5h0m6 0h0m1 0h0m1 0h0m1-8h0m1 0h0m3 4h0m5-6h0m3 0h0m0 7h0m4-7h0m4 5h0m0-2h0m1 0h0m1 5h0m17-8h0m2 3h0m7 5h0m6 1h0m0-8h0m0 7h0m3 2h0m1-5h0m10 3h0m2-3h0m5 3h0m8 5h0m0 10h0m-1-5h0m-9 7h0m-1-5h0m-8 0h0m-4 5h0m-25-8h0m-2 10h0m0-11h0m-1 4h0m-13 6h0m-2-7h0m0-3h0m-3 9h0m0-1h0m-1-6h0m0-4h0m-4 1h0m-1 13h0m-8-5h0m-2-2h0m-2-4h0m0 11h0m-1 0h0m-5-11h0m-1 10h0m-1-11h0m-3 7h0m-2 5h0m-1-4h0m-1-2h0m0-8h0m-1 13h0m-1-9h0m-8 6h0m-3-5h0m0-1h0m-7 0h0m-1-3h0m0-1h0m0 0h0m-2 8h0m-1-1h0m-4-5h0m-1 7h0m0 6h0m-2-12h0m-1 9h0m-4 3h0m0-8h0m-2-5h0m-1 3h0m0 3h0m-1 5h0m-1 1h0m-7-10h0m-2 10h0m-1-3h0m0-8h0m-3-1h0m-1 0h0m0 6h0m0-2h0m-4-1h0m-2-2h0m-3-1h0m0 0h0m-7 4h0m0 0h0m-1-2h0m-1 2h0m-2 4h0m-4-6h0m-2-1h0m-1 12h0m-1-4h0m0-5h0m-1-3h0m-1 1h0m0-1h0m-1 3h0m-2 7h0m-1 2h0m-1-15h0m-7 10h0m-1-1h0m-3-8h0m-3-1h0m-4 4h0m-1-4h0m0 11h0m-3-10h0m-1 0h0m-1 10h0m-3-2h0m-1-3h0m-1 2h0m-3 4h0m-2 0h0m-3-12h0m-1 3h0m-3 2h0m0 8h0m-1-4h0m-3 4h0m-8 0h0m-2-12h0m-15-1h0m-1 15h0m-2-14h0m-4 7h0m-5-5h0m-3 12h0m-3-15h0m-5 2h0m0 5h0m0-7h0m-18 1h0m-7 13h0m-1-8h0m-3 8h0m-1-5h0m-4-8h0m-3 13h0m-4-14h0m9 25h0m20 1h0m2-7h0m8 12h0m8-9h0m4-4h0m0 12h0m4-1h0m2-3h0m1 1h0m1-2h0m3-2h0m6 0h0m8-4h0m3 7h0m3-2h0m1 1h0m1 5h0m1-3h0m6 4h0m1-7h0m0 2h0m1-4h0m0 1h0m1 6h0m0-8h0m7-1h0m5 8h0m2 1h0m0-1h0m3-8h0m3 1h0m1 5h0m0 2h0m3 3h0m0-3h0m2-1h0m1-4h0m2-1h0m1 5h0m0-4h0m0-2h0m1-1h0m1-2h0m0 11h0m1-6h0m1 3h0m3-1h0m1-2h0m1-7h0m1 2h0m1-1h0m1-1h0m1 10h0m1-1h0m0 4h0m1-7h0m0 4h0m7-4h0m0-5h0m5 7h0m1-4h0m3 9h0m1-3h0m4-7h0m2 2h0m3-4h0m0 0h0m0 2h0m4 3h0m1 6h0m2-4h0m0-4h0m0 6h0m0-9h0m3 1h0m2 4h0m0-2h0m2 1h0m0-3h0m3 8h0m0-9h0m6 4h0m0 2h0m5 2h0m7 4h0m6-5h0m1-5h0m1 7h0m1-9h0m2 0h0m3 13h0m0-8h0m1 5h0m0-2h0m4-6h0m2 0h0m0 2h0m1 0h0m5 1h0m0-4h0m1 2h0m2 5h0m2 3h0m3 3h0m0-11h0m4 1h0m1-2h0m4-3h0m0 5h0m1 6h0m5-5h0m9-3h0m0 6h0m4 5h0m0 0h0m1-3h0m7 2h0m3-10h0m1-1h0m0 3h0m3 7h0m0-12h0m2 2h0m1-2h0m4 8h0m1-4h0m4 0h0m0 7h0m2 4h0m4-5h0m6-4h0m2 2h0m0 3h0m1-1h0m2-9h0m1 4h0m0 0h0m0 4h0m4-3h0m7-4h0m4 20h0m-1 4h0m0-8h0m-2 4h0m-1-4h0m-7-2h0m-2 6h0m-8 4h0m-8-2h0m-1 1h0m-3 4h0m-4-12h0m0 9h0m-1-7h0m-4-3h0m-8 1h0m-2 14h0m0-15h0m0 2h0m-6 5h0m-1-7h0m-4 9h0m-1 1h0m-18-7h0m0 10h0m-3-5h0m0-2h0m-1-1h0m0-4h0m-1 11h0m-3 3h0m-3 0h0m0-3h0m-2-1h0m-3 4h0m-2-10h0m0 2h0m-4-4h0m-2 11h0m-2-7h0m0 2h0m-3-6h0m-2 7h0m0-4h0m-2 1h0m-1 0h0m-1 6h0m-1-3h0m-2-10h0m-3 5h0m-2 0h0m-1 9h0m-1 0h0m-5-14h0m-2 7h0m-2 6h0m-2-1h0m-2-6h0m-2-2h0m-1 4h0m0 6h0m-3-14h0m-1 7h0m-8-6h0m0 8h0m-3-5h0m-2 10h0m-2-10h0m0 1h0m-2 5h0m-1 0h0m-1 2h0m-1-6h0m-1 9h0m0-1h0m-2-14h0m-4 13h0m-1-3h0m0-6h0m-2 10h0m-1-8h0m-1-3h0m-1 12h0m-3-6h0m0-1h0m-2-2h0m-1 9h0m0 0h0m-7-10h0m-2 4h0m-3-2h0m-2 0h0m-2 7h0m-2-12h0m-2 1h0m-1-2h0m-1-1h0m-1 15h0m-1-3h0m-1-5h0m-4 8h0m-4-9h0m0-1h0m-2-5h0m-3 9h0m0 2h0m-2 3h0m-1-9h0m-2 8h0m-1-11h0m0 8h0m-1-1h0m-1-9h0m-2 11h0m-1 0h0m-1 1h0m-1-2h0m-2-2h0m-1-7h0m-1 2h0m-3 7h0m-2-5h0m-1-4h0m-1 3h0m-2 5h0m-2-8h0m-9 13h0m-6-13h0m-3 2h0m-9 0h0m-6 5h0m-2 3h0m-1-1h0m-1-4h0m-13 2h0m0-3h0m-8-4h0m-4 6h0m-1-2h0m-1 9h0m-1-10h0m0 3h0m-4 1h0m0-2h0m-2 3h0m19 7h0m42 0h0m107 0h0m2 0h0m27 0h0m3 0h0m0 0h0m15 0h0m4 0h0m10 0h0"/>
<path d="M783 23h0m-50 15h0m23 3h0m40 2h0m42 12h0m-21-2h0m-21-1h0m-30 9h0m-9-2h0m-58-9h0m31 29h0m1-5h0m34-3h0m85 13h0m-9 4h0m-28 3h0m-10-6h0m-5 0h0m-14 1h0m0 0h0m-10 8h0m-17-10h0m-12-4h0m-3 2h0m-4-2h0m-5 0h0m-3 2h0m-22 1h0m-68 28h0m79-10h0m23-3h0m1 10h0m15-12h0m13 3h0m15 9h0m25-9h0m4 10h0m40 2h0m-16 12h0m-14-7h0m-7 3h0m-20 1h0m-22-5h0m-18 0h0m-6-1h0m-3 11h0m-17 0h0m-1-1h0m-16-12h0m-10 11h0m-3-2h0m-34 5h0m-1 6h0m43 10h0m3-8h0m1-3h0m8 1h0m2 6h0m9-3h0m14 0h0m22 6h0m2-10h0m10 10h0m10-1h0m62-7h0m8 24h0m-9-9h0m-1 3h0m-21-5h0m-4-2h0m-10 14h0m-5-12h0m-5 0h0m-8 11h0m-2 0h0m-2-9h0m-2-1h0m-5 4h0m-6 6h0m-13-4h0m-8-8h0m-6 6h0m-14 6h0m0 0h0m-16-2h0m-4-3h0m-12 3h0m-2-7h0m-5 2h0m-11 2h0m-28-4h0m-13-4h0m-41 1h0m64 23h0m24 2h0m11 0h0m16 0h0m11 5h0m4-4h0m4-4h0m12 6h0m0-1h0m15-2h0m4 1h0m1-5h0m1-5h0m1 5h0m6 4h0m0 0h0m1-2h0m6 4h0m2-3h0m2 6h0m15-15h0m6 4h0m2 4h0m2-2h0m15-6h0m17 6h0m24 16h0m-2-5h0m-1 9h0m-24 3h0m-23-7h0m-4-3h0m-11 3h0m-7-6h0m-6 4h0m-4 5h0m-1 5h0m-11-2h0m-5-1h0m-9-5h0m0 1h0m-2 5h0m-7-10h0m0 6h0m-11 3h0m-5-3h0m0 6h0m-4-13h0m-6 3h0m-3 1h0m0 4h0m-6 3h0m-3 3h0m0-1h0m-2 0h0m-5-11h0m-22 8h0m-4 1h0m-2 2h0m-8-7h0m-38 3h0m-16-3h0m-14 15h0m7-1h0m1-3h0m23 10h0m14 2h0m2-2h0m1-6h0m4-4h0m12-2h0m5 1h0m6-1h0m28 5h0m1 3h0m4 2h0m3 0h0m3-7h0m1-1h0m0 0h0m7 6h0m2 4h0m1-2h0m1-5h0m5-5h0m4 10h0m1-5h0m4-1h0m5-4h0m1 11h0m8 3h0m1-10h0m1 11h0m0-13h0m1 8h0m1 3h0m6-9h0m9 10h0m2-10h0m10 7h0m6-6h0m5 3h0m7-4h0m23 11h0m7-12h0m22 7h0m2 17h0m-50-5h0m-5-5h0m-4 13h0m0-2h0m-2-10h0m-5 12h0m-2-3h0m-1 3h0m-2 1h0m-2-11h0m0-1h0m-4 10h0m-19-2h0m-1 0h0m-3 2h0m-1-2h0m-1-9h0m-9 9h0m0 3h0m-1-2h0m-9-6h0m0-2h0m-3-3h0m-6 1h0m-2-2h0m-7 2h0m-6 3h0m0 4h0m-5 6h0m-5-3h0m-2-7h0m-2-1h0m-10 11h0m-9-12h0m-6 11h0m-4-6h0m-2 4h0m-2-6h0m-1 2h0m-18 6h0m-12-5h0m-52-8h0m-5 25h0m14 2h0m15-2h0m23-6h0m10 6h0m4 2h0m3-9h0m4 12h0m2-11h0m2 0h0m1 0h0m0 11h0m6-15h0m0 3h0m0 10h0m1 1h0m1-6h0m7 7h0m1-14h0m2 14h0m0 0h0m25-5h0m0 5h0m6-3h0m4-3h0m2 5h0m7-2h0m0-9h0m1 8h0m0-8h0m1 6h0m11 4h0m11-2h0m1-11h0m1 3h0m3 2h0m1-5h0m0 15h0m1-10h0m4 5h0m0-7h0m1 1h0m1-1h0m2 3h0m15-2h0m2 8h0m0 3h0m3-11h0m5 3h0m7 6h0m1-2h0m0-6h0m1-5h0m8 15h0m5-13h0m4 8h0m16-9h0m5 13h0m10-12h0m6 8h0m2 5h0m0 0h0m2-10h0m4 3h0m11-5h0m-7 27h0m-6-4h0m-28 2h0m-5-1h0m-2-2h0m-11-9h0m-10 5h0m-3-2h0m-3 4h0m0-2h0m-1 6h0m0-1h0m-2 5h0m-5-10h0m-4 8h0m-1 2h0m-5-14h0m-2 6h0m-1 8h0m-1-4h0m-1-9h0m-11 1h0m-2-3h0m-4 12h0m-1-6h0m-1 3h0m-1-1h0m-1 3h0m-1-5h0m-4 5h0m0-2h0m-2 6h0m-1-8h0m-1 5h0m-3-1h0m-3-10h0m-3 3h0m-8 6h0m-2-10h0m-5 12h0m0-9h0m-1 1h0m-1 9h0m-6 0h0m-2 2h0m-2-10h0m-6-4h0m-2 0h0m-3 9h0m-1 2h0m-2-5h0m-1 1h0m-4 0h0m-1-6h0m-2 1h0m0-3h0m-6 9h0m-3-6h0m-3-3h0m-1 12h0m-18-8h0m-10 10h0m-11-12h0m-24 0h0m-7 12h0m-5-10h0m-12 1h0m-8 8h0m-19 1h0m-1-1h0m-6-6h0m3 20h0m31-1h0m17 5h0m0-3h0m15-8h0m3 3h0m11 4h0m0-8h0m5-1h0m0 13h0m13-2h0m0-3h0m1-8h0m4 11h0m5-9h0m1 10h0m2 1h0m1-2h0m3-2h0m5-11h0m0 0h0m2 0h0m5 9h0m0 0h0m10-7h0m2 3h0m3-4h0m9-1h0m1 11h0m8-5h0m4 7h0m2-13h0m4 14h0m5-3h0m1-6h0m5 6h0m0-3h0m9 3h0m2-7h0m3-3h0m3 1h0m12-1h0m1 9h0m2-2h0m2 6h0m3-5h0m1 6h0m5-1h0m3-5h0m2 1h0m2-2h0m7 6h0m7-7h0m3-4h0m0 0h0m1 7h0m3 1h0m2 0h0m12-10h0m3 12h0m1-9h0m11-2h0m0 12h0m2-6h0m2 0h0m1 7h0m4-14h0m2 7h0m0-1h0m9 0h0m10-6h0m3 7h0m3-2h0m3-3h0m-4 20h0m-1 3h0m-3 2h0m-5-6h0m0-1h0m-3 10h0m-10-7h0m-7 5h0m0-13h0m-4 3h0m-3 10h0m-1-13h0m-2 8h0m-3 5h0m-2 1h0m0-6h0m-2-6h0m-2 8h0m-4 3h0m-4-13h0m-2 11h0m-3-9h0m-3 1h0m0 8h0m0 0h0m-5-6h0m-3 9h0m-1 0h0m-2 0h0m-9-10h0m-2 5h0m-5-7h0m-3 6h0m-1-4h0m-8 4h0m-5 4h0m-1 0h0m-2 1h0m-1-13h0m-3 0h0m-1 14h0m0-1h0m-2-12h0m0 9h0m0 5h0m-7 0h0m0-14h0m0 12h0m0-11h0m-8 2h0m-8 11h0m-7-7h0m-2 3h0m0 4h0m0-2h0m-4-6h0m-6-1h0m-1-6h0m-1 15h0m0-2h0m-2-5h0m-2-6h0m-4 11h0m-2-12h0m0 8h0m-3 1h0m-2 4h0m0-1h0m-6-3h0m-3-3h0m-8-6h0m-3 3h0m0 0h0m-1-4h0m0 8h0m0 2h0m-3-10h0m-3 15h0m-1-15h0m-5 6h0m-1 0h0m-2-1h0m-2 4h0m-4-6h0m-9 3h0m-17 2h0m0 5h0m-2-6h0m-3-5h0m-6 10h0m0-11h0m-5 14h0m-7-2h0m-4-3h0m-1 4h0m-5-10h0m-18 11h0m-17-4h0m-4-2h0m7 14h0m4 5h0m0-8h0m3 6h0m13-10h0m3 8h0m18-1h0m10 8h0m0-6h0m6-7h0m4 10h0m11-9h0m4 12h0m2-1h0m1-9h0m7 7h0m5 2h0m0-2h0m1-3h0m7 2h0m2-3h0m3-1h0m6-1h0m3 8h0m2-5h0m6 0h0m1-5h0m3 6h0m3-7h0m6 12h0m3-6h0m3 2h0m3-4h0m2 4h0m2 3h0m1-5h0m4-7h0m1 8h0m0-5h0m2 5h0m1 0h0m4 4h0m6-2h0m0 0h0m1-8h0m0 6h0m0 2h0m2-5h0m3-7h0m2 13h0m2-2h0m2-3h0m2 3h0m3 2h0m0-12h0m1 12h0m0 1h0m3-14h0m0 0h0m4 2h0m2 10h0m2-4h0m0 7h0m10-10h0m3-3h0m2 5h0m3-6h0m0 2h0m0 5h0m10-5h0m4 10h0m1-11h0m1 8h0m2-3h0m6-3h0m1 8h0m2-6h0m0 8h0m1-1h0m0-5h0m9-3h0m7 2h0m1-4h0m3 3h0m5 1h0m0 7h0m3-14h0m6 4h0m3 11h0m3-14h0m8 10h0m1 4h0m6-13h0m1 12h0m1-6h0m6-6h0m1 12h0m1-4h0m-6 9h0m-8 7h0m-2 3h0m-1-4h0m-1 0h0m-1 3h0m-2-12h0m-4 3h0m0 10h0m-3-9h0m-1 11h0m-6-3h0m-3-5h0m-3 3h0m-3-7h0m-1 5h0m-9-3h0m-1 7h0m-4 0h0m-2-7h0m-2-5h0m-2 1h0m-3 11h0m0 1h0m-6-12h0m-2 5h0m-4 5h0m0 0h0m-1-7h0m-4 4h0m-4-8h0m-2 13h0m-2 0h0m-4-12h0m-1 11h0m-6 1h0m0-6h0m0 4h0m-9-5h0m-3-5h0m-1 3h0m0 0h0m-1 8h0m-1-7h0m-1-4h0m-9 5h0m-2 8h0m-3-9h0m0 0h0m-1 2h0m-6 2h0m-5 0h0m0-4h0m-2 7h0m-2-7h0m0-1h0m-2 6h0m-2-6h0m-4 9h0m0-9h0m-1 0h0m-1 0h0m-4-3h0m-8-1h0m-1 7h0m-1 5h0m-2-9h0m-3 1h0m-1 4h0m-2-1h0m-2-3h0m-5 0h0m-1 3h0m-1 5h0m-1-3h0m-1 2h0m-1 2h0m-1-11h0m-4 3h0m-2 6h0m-4-8h0m-1 5h0m-5-6h0m-8 5h0m-3-3h0m-1 0h0m0 9h0m-5-2h0m-6-8h0m-1 4h0m-3 0h0m0-7h0m-1 2h0m0 5h0m-3 0h0m-6 5h0m-1-1h0m-5-5h0m-5-2h0m-4 5h0m0 6h0m-1-8h0m0-2h0m-9-4h0m-2 3h0m-2-2h0m-1 3h0m-6 3h0m-1-1h0m-8 1h0m-11 1h0m-1-7h0m-11 1h0m2 25h0m4-12h0m1 7h0m3 2h0m1 4h0m4-4h0m3-5h0m1 3h0m5 0h0m2 5h0m11-8h0m5 0h0m1 3h0m0 6h0m4 0h0m2-1h0m1-4h0m1 3h0m0 1h0m11-2h0m1-3h0m0 1h0m2-8h0m1 1h0m2 8h0m4-3h0m0-3h0m6-3h0m2 5h0m5-2h0m2 10h0m7-4h0m1-1h0m3 7h0m3-3h0m1-8h0m0 3h0m0-4h0m4 10h0m0-6h0m10-1h0m7 6h0m2-9h0m7 9h0m1-8h0m4 3h0m0-6h0m3 0h0m0 7h0m1 5h0m2 0h0m1-11h0m0 2h0m1 9h0m3-7h0m0-1h0m2 9h0m0 1h0m1-8h0m0 4h0m0-1h0m3 5h0m1-7h0m0-3h0m1-1h0m2-2h0m2 9h0m0-2h0m2 2h0m0-1h0m2-1h0m1-9h0m0 6h0m5 0h0m1 0h0m3 2h0m1 2h0m1-9h0m0 2h0m5 6h0m0-6h0m3 3h0m1 3h0m1-3h0m2-4h0m1 11h0m0 1h0m1-13h0m1 13h0m1-11h0m7-3h0m4 5h0m1 7h0m4 0h0m2-11h0m0 7h0m1 7h0m0-15h0m2 15h0m0-2h0m2-7h0m5 6h0m2-3h0m4 6h0m3-5h0m1-8h0m0 13h0m0 0h0m2-11h0m0-2h0m1-1h0m5 4h0m1-3h0m1 1h0m3 11h0m4-9h0m1 6h0m1-11h0m3 7h0m2 3h0m2-3h0m0 3h0m5-9h0m4 12h0m0-9h0m2 8h0m0-8h0m0-3h0m2 4h0m2 3h0m1 6h0m2-7h0m5 6h0m3-4h0m4 1h0m0-2h0m4 1h0m2-3h0m4 5h0m0-8h0m1 3h0m0 5h0m3 0h0m1-10h0m1 10h0m3 1h0m10 3h0m2-14h0m3 14h0m6-6h0m0 16h0m-2-5h0m-7 1h0m-9 7h0m-1-6h0m-1 8h0m-5-5h0m-4-8h0m0 5h0m-2-1h0m-1-1h0m-4-2h0m0 11h0m-1-6h0m-9 1h0m-3 3h0m-2 3h0m-1 0h0m-1-6h0m-5-6h0m0-1h0m-1 14h0m-3-7h0m-6 4h0m-2 2h0m0-8h0m-1 0h0m-1 0h0m-2-1h0m0 3h0m0 5h0m-1-13h0m-1 9h0m0-7h0m-1 12h0m-4-8h0m-1-1h0m-4 6h0m0-5h0m-1 9h0m-1-1h0m-1-3h0m-4 1h0m-2-2h0m0 1h0m-5-10h0m-1 10h0m-2 3h0m-1-4h0m0-10h0m-1 6h0m-3 4h0m0 2h0m-3 2h0m-1-5h0m-4-3h0m0 5h0m-3-6h0m0-5h0m-2 7h0m-4-7h0m-1 13h0m-1-1h0m-3-1h0m0-2h0m-1-9h0m0 7h0m0-2h0m-3-4h0m0-1h0m-2 14h0m-5-7h0m0-5h0m-1 7h0m-1-2h0m-1-3h0m0 11h0m-1-5h0m-2 5h0m-1 0h0m-1-10h0m-1 5h0m-1-10h0m-3 7h0m-2 7h0m-1-7h0m-1-4h0m-1 1h0m-1 0h0m-2 9h0m-1-1h0m-1-11h0m0 6h0m-1 2h0m-2 4h0m-2-5h0m0 7h0m-1-15h0m-4 3h0m-3 10h0m0-2h0m-2 0h0m-1-9h0m-7 8h0m-6-3h0m0-3h0m-1 5h0m-3 6h0m0 0h0m0-13h0m-2 8h0m-1 4h0m-2-4h0m0-3h0m-1 7h0m-1-2h0m-1-8h0m0 8h0m-1-8h0m-1 6h0m-1 1h0m0-7h0m-1 0h0m-4 4h0m-2 0h0m-1 4h0m-1-2h0m-1-9h0m-1 12h0m-5-1h0m-4-11h0m0 5h0m-2 4h0m0-7h0m-2-1h0m-3 6h0m-2 4h0m-2-2h0m-3 0h0m-5 3h0m-5-12h0m0 9h0m-1-8h0m0-1h0m-2 5h0m-2-4h0m-1 10h0m0-7h0m0 4h0m-8-8h0m-2 14h0m-4-15h0m-1 10h0m-2-9h0m-9 1h0m-7 5h0m-5 4h0m-4 0h0m0 2h0m-2-3h0m0 5h0m-3-6h0m-4 3h0m-1-12h0m-2 8h0m-3 6h0m-11-1h0m93 3h0m9 0h0m18 0h0m5 0h0m0 0h0m24 0h0m2 0h0m42 0h0m36 0h0m19 0h0m22 0h0"/>
</g>
<path d="M359.0 33.6H367.2M351.1 36.1H368.5M351.3 50.5H362.1M353.8 51.7H369.0M353.5 53.9H364.7M348.5 56.1H364.3M352.6 61.0H368.6M359.6 61.5H372.2M351.7 65.2H363.7M353.2 72.0H360.6M354.3 72.0H368.5M348.5 75.7H364.3M350.3 75.7H370.9M348.8 77.8H368.2M352.5 79.0H371.9M360.3 77.8H370.7M342.4 84.3H363.6M348.4 84.0H367.0M359.1 84.6H369.1M356.0 83.6H378.2M350.3 89.2H361.1M348.3 89.5H371.9M357.0 87.6H372.4M360.5 96.2H371.3M359.2 98.3H378.2M357.4 99.9H370.8M345.0 102.4H355.6M345.7 108.5H365.7M350.4 106.1H367.4M352.3 104.8H372.1M355.4 104.0H377.6M353.6 107.9H369.6M361.6 108.9H378.4M333.9 113.2H365.3M343.7 116.8H362.7M349.7 116.8H363.7M356.7 116.5H370.9M358.9 115.9H383.9M342.1 121.5H365.7M340.8 121.5H373.4M347.6 124.3H378.8M355.8 127.9H392.0M360.5 125.3H393.1M332.8 127.9H359.0M315.0 135.4H364.8M329.1 134.4H358.5M333.5 133.7H370.3M335.1 130.5H382.9M336.7 134.4H375.7M349.2 134.1H374.0M337.7 137.2H388.7M343.6 133.7H391.2M353.1 133.1H388.1M361.6 136.3H388.8M351.0 132.8H405.8M345.6 138.2H393.6M362.7 139.5H390.3M327.8 139.5H371.6M320.1 142.1H371.7M314.3 142.7H384.5M316.0 146.0H358.2M320.3 146.6H365.5M315.4 148.8H377.4M310.4 149.8H362.6M300.9 149.2H379.7M332.7 151.4H373.7M344.7 148.8H390.1M347.6 147.0H393.6M347.0 148.8H403.4M359.2 145.7H397.0M359.9 152.7H394.3M348.0 156.9H415.2M376.9 149.2H400.5M303.4 159.5H379.8M317.7 160.8H396.5M328.2 161.7H402.2M331.5 163.4H406.7M301.1 159.9H443.3M267.7 159.5H486.5M300.7 165.1H427.7M323.4 166.6H414.0M326.9 166.6H416.9M306.6 168.9H442.4M276.1 167.9H359.9M258.3 164.7H383.7M279.1 165.3H371.1M269.1 172.0H392.1M257.1 171.5H426.1M252.6 169.2H435.8M306.9 173.1H426.7M291.4 171.8H449.4M285.2 174.1H469.0M298.3 175.0H413.3M228.7 174.4H393.3M291.4 166.6H422.8M280.2 147.6H323.4M381.8 134.8H410.6M373.9 157.7H412.3M369.3 159.1H431.5M310.4 164.1H478.6M329.7 170.7H451.5M336.1 172.8H499.9M354.6 175.8H457.4" stroke="#2020ff" stroke-width="1.25" opacity="0.42" fill="none"/>
<path d="M353.4 31.2H363.2M338.3 67.4H354.7M371.4 85.4H389.2M328.7 95.6H345.3M345.8 95.9H373.8M347.7 100.5H365.1M344.6 104.2H363.4M355.5 113.1H377.1M368.6 115.5H397.6M322.5 119.2H346.7M353.1 118.4H378.7M325.8 123.0H340.6M326.9 121.7H370.1M356.5 124.7H382.7M366.3 123.4H396.1M366.0 128.5H392.0M341.6 130.2H367.0M335.0 133.3H361.2M325.0 138.0H366.0M336.8 137.6H378.6M351.8 138.9H381.2M368.6 142.5H401.6M337.0 144.9H408.0M309.6 149.6H405.8M339.6 149.2H381.8M318.8 152.7H362.6M336.9 155.6H409.5M360.1 153.1H417.9M294.2 159.1H393.4M331.1 164.0H425.1M349.3 164.0H413.9M334.1 165.3H440.3M294.4 166.6H423.6M318.5 169.8H392.3M257.2 170.2H468.6M259.4 173.1H465.2M300.7 175.6H441.1M270.4 154.6H338.6M250.9 172.4H365.7M386.5 150.7H430.5M315.7 166.9H485.1M341.5 167.5H436.5" stroke="#ffa000" stroke-width="1.25" opacity="0.38" fill="none"/>
<g fill="#0000ff" stroke="#000" stroke-width="0.9"><circle cx="363.1" cy="33.6" r="2.45"/><circle cx="359.8" cy="36.1" r="2.45"/><circle cx="356.7" cy="50.5" r="2.45"/><circle cx="361.4" cy="51.7" r="2.45"/><circle cx="359.1" cy="53.9" r="2.45"/><circle cx="356.4" cy="56.1" r="2.45"/><circle cx="360.6" cy="61.0" r="2.45"/><circle cx="365.9" cy="61.5" r="2.45"/><circle cx="357.7" cy="65.2" r="2.45"/><circle cx="356.9" cy="72.0" r="2.45"/><circle cx="361.4" cy="72.0" r="2.45"/><circle cx="356.4" cy="75.7" r="2.45"/><circle cx="360.6" cy="75.7" r="2.45"/><circle cx="358.5" cy="77.8" r="2.45"/><circle cx="362.2" cy="79.0" r="2.45"/><circle cx="365.5" cy="77.8" r="2.45"/><circle cx="353.0" cy="84.3" r="2.45"/><circle cx="357.7" cy="84.0" r="2.45"/><circle cx="364.1" cy="84.6" r="2.45"/><circle cx="367.1" cy="83.6" r="2.45"/><circle cx="355.7" cy="89.2" r="2.45"/><circle cx="360.1" cy="89.5" r="2.45"/><circle cx="364.7" cy="87.6" r="2.45"/><circle cx="365.9" cy="96.2" r="2.45"/><circle cx="368.7" cy="98.3" r="2.45"/><circle cx="364.1" cy="99.9" r="2.45"/><circle cx="350.3" cy="102.4" r="2.45"/><circle cx="355.7" cy="108.5" r="2.45"/><circle cx="358.9" cy="106.1" r="2.45"/><circle cx="362.2" cy="104.8" r="2.45"/><circle cx="366.5" cy="104.0" r="2.45"/><circle cx="361.6" cy="107.9" r="2.45"/><circle cx="370.0" cy="108.9" r="2.45"/><circle cx="349.6" cy="113.2" r="2.45"/><circle cx="353.2" cy="116.8" r="2.45"/><circle cx="356.7" cy="116.8" r="2.45"/><circle cx="363.8" cy="116.5" r="2.45"/><circle cx="371.4" cy="115.9" r="2.45"/><circle cx="353.9" cy="121.5" r="2.45"/><circle cx="357.1" cy="121.5" r="2.45"/><circle cx="363.2" cy="124.3" r="2.45"/><circle cx="373.9" cy="127.9" r="2.45"/><circle cx="376.8" cy="125.3" r="2.45"/><circle cx="345.9" cy="127.9" r="2.45"/><circle cx="339.9" cy="135.4" r="2.45"/><circle cx="343.8" cy="134.4" r="2.45"/><circle cx="351.9" cy="133.7" r="2.45"/><circle cx="359.0" cy="130.5" r="2.45"/><circle cx="356.2" cy="134.4" r="2.45"/><circle cx="361.6" cy="134.1" r="2.45"/><circle cx="363.2" cy="137.2" r="2.45"/><circle cx="367.4" cy="133.7" r="2.45"/><circle cx="370.6" cy="133.1" r="2.45"/><circle cx="375.2" cy="136.3" r="2.45"/><circle cx="378.4" cy="132.8" r="2.45"/><circle cx="369.6" cy="138.2" r="2.45"/><circle cx="376.5" cy="139.5" r="2.45"/><circle cx="349.7" cy="139.5" r="2.45"/><circle cx="345.9" cy="142.1" r="2.45"/><circle cx="349.4" cy="142.7" r="2.45"/><circle cx="337.1" cy="146.0" r="2.45"/><circle cx="342.9" cy="146.6" r="2.45"/><circle cx="346.4" cy="148.8" r="2.45"/><circle cx="336.5" cy="149.8" r="2.45"/><circle cx="340.3" cy="149.2" r="2.45"/><circle cx="353.2" cy="151.4" r="2.45"/><circle cx="367.4" cy="148.8" r="2.45"/><circle cx="370.6" cy="147.0" r="2.45"/><circle cx="375.2" cy="148.8" r="2.45"/><circle cx="378.1" cy="145.7" r="2.45"/><circle cx="377.1" cy="152.7" r="2.45"/><circle cx="381.6" cy="156.9" r="2.45"/><circle cx="388.7" cy="149.2" r="2.45"/><circle cx="341.6" cy="159.5" r="2.45"/><circle cx="357.1" cy="160.8" r="2.45"/><circle cx="365.2" cy="161.7" r="2.45"/><circle cx="369.1" cy="163.4" r="2.45"/><circle cx="372.2" cy="159.9" r="2.45"/><circle cx="377.1" cy="159.5" r="2.45"/><circle cx="364.2" cy="165.1" r="2.45"/><circle cx="368.7" cy="166.6" r="2.45"/><circle cx="371.9" cy="166.6" r="2.45"/><circle cx="374.5" cy="168.9" r="2.45"/><circle cx="318.0" cy="167.9" r="2.45"/><circle cx="321.0" cy="164.7" r="2.45"/><circle cx="325.1" cy="165.3" r="2.45"/><circle cx="330.6" cy="172.0" r="2.45"/><circle cx="341.6" cy="171.5" r="2.45"/><circle cx="344.2" cy="169.2" r="2.45"/><circle cx="366.8" cy="173.1" r="2.45"/><circle cx="370.4" cy="171.8" r="2.45"/><circle cx="377.1" cy="174.1" r="2.45"/><circle cx="355.8" cy="175.0" r="2.45"/><circle cx="311.0" cy="174.4" r="2.45"/><circle cx="357.1" cy="166.6" r="2.45"/><circle cx="301.8" cy="147.6" r="2.45"/><circle cx="396.2" cy="134.8" r="2.45"/><circle cx="393.1" cy="157.7" r="2.45"/><circle cx="400.4" cy="159.1" r="2.45"/><circle cx="394.5" cy="164.1" r="2.45"/><circle cx="390.6" cy="170.7" r="2.45"/><circle cx="418.0" cy="172.8" r="2.45"/><circle cx="406.0" cy="175.8" r="2.45"/></g>
<g fill="#ffaa00" stroke="#000" stroke-width="0.9"><circle cx="358.3" cy="31.2" r="2.45"/><circle cx="346.5" cy="67.4" r="2.45"/><circle cx="380.3" cy="85.4" r="2.45"/><circle cx="337.0" cy="95.6" r="2.45"/><circle cx="359.8" cy="95.9" r="2.45"/><circle cx="356.4" cy="100.5" r="2.45"/><circle cx="354.0" cy="104.2" r="2.45"/><circle cx="366.3" cy="113.1" r="2.45"/><circle cx="383.1" cy="115.5" r="2.45"/><circle cx="334.6" cy="119.2" r="2.45"/><circle cx="365.9" cy="118.4" r="2.45"/><circle cx="333.2" cy="123.0" r="2.45"/><circle cx="348.5" cy="121.7" r="2.45"/><circle cx="369.6" cy="124.7" r="2.45"/><circle cx="381.2" cy="123.4" r="2.45"/><circle cx="379.0" cy="128.5" r="2.45"/><circle cx="354.3" cy="130.2" r="2.45"/><circle cx="348.1" cy="133.3" r="2.45"/><circle cx="345.5" cy="138.0" r="2.45"/><circle cx="357.7" cy="137.6" r="2.45"/><circle cx="366.5" cy="138.9" r="2.45"/><circle cx="385.1" cy="142.5" r="2.45"/><circle cx="372.5" cy="144.9" r="2.45"/><circle cx="357.7" cy="149.6" r="2.45"/><circle cx="360.7" cy="149.2" r="2.45"/><circle cx="340.7" cy="152.7" r="2.45"/><circle cx="373.2" cy="155.6" r="2.45"/><circle cx="389.0" cy="153.1" r="2.45"/><circle cx="343.8" cy="159.1" r="2.45"/><circle cx="378.1" cy="164.0" r="2.45"/><circle cx="381.6" cy="164.0" r="2.45"/><circle cx="387.2" cy="165.3" r="2.45"/><circle cx="359.0" cy="166.6" r="2.45"/><circle cx="355.4" cy="169.8" r="2.45"/><circle cx="362.9" cy="170.2" r="2.45"/><circle cx="362.3" cy="173.1" r="2.45"/><circle cx="370.9" cy="175.6" r="2.45"/><circle cx="304.5" cy="154.6" r="2.45"/><circle cx="308.3" cy="172.4" r="2.45"/><circle cx="408.5" cy="150.7" r="2.45"/><circle cx="400.4" cy="166.9" r="2.45"/><circle cx="389.0" cy="167.5" r="2.45"/></g>
</g>
<g clip-path="url(#c3)">
<polyline points="488.6,63.2 490.0,63.5 491.4,64.2 492.8,65.4 494.2,67.1 495.6,69.2 497.0,71.7 498.4,74.5 499.8,77.5 501.2,80.8 502.6,84.3 504.0,87.9 505.4,91.6 506.8,95.3 508.2,99.0 509.6,102.7 511.0,106.3 512.4,109.8 513.8,113.3 515.2,116.6 516.6,119.7 518.0,122.8 519.4,125.7 520.8,128.4 522.2,131.0 523.6,133.5 525.0,135.9 526.4,138.1 527.8,140.1 529.2,142.1 530.6,143.9 532.0,145.6 533.4,147.2 534.8,148.8 536.2,150.2 537.6,151.5 539.0,152.7 540.4,153.9 541.8,155.0 543.2,156.0 544.6,157.0 546.0,157.9 547.4,158.7 548.8,159.5 550.2,160.3 551.6,161.0 553.0,161.6 554.4,162.3 555.8,162.8 557.2,163.4 558.6,163.9 560.0,164.4 561.4,164.8 562.8,165.3 564.2,165.7 565.6,166.1 567.0,166.4 568.4,166.8 569.8,167.1 571.2,167.4 572.7,167.7 574.1,168.0 575.5,168.2 576.9,168.5 578.3,168.7 579.7,168.9 581.1,169.1 582.5,169.3 583.9,169.5 585.3,169.7 586.7,169.9 588.1,170.0 589.5,170.2 590.9,170.3 592.3,170.5 593.7,170.6 595.1,170.7 596.5,170.9 597.9,171.0 599.3,171.1 600.7,171.2 602.1,171.3 603.5,171.4 604.9,171.5 606.3,171.6 607.7,171.7 609.1,171.7 610.5,171.8 611.9,171.9 613.3,172.0 614.7,172.0 616.1,172.1 617.5,172.2 618.9,172.2 620.3,172.3 621.7,172.3 623.1,172.4 624.5,172.4 625.9,172.5 627.3,172.5 628.7,172.6 630.1,172.6 631.5,172.7 632.9,172.7 634.3,172.8 635.7,172.8 637.1,172.8 638.5,172.9 639.9,172.9 641.3,172.9 642.7,173.0 644.1,173.0 645.5,173.0 646.9,173.1 648.3,173.1 649.7,173.1 651.1,173.1 652.5,173.2 653.9,173.2 655.3,173.2" fill="none" stroke="#1a84a8" stroke-width="1.4"/>
<polyline points="497.9,86.0 509.8,91.4 521.6,122.1 533.5,141.4 545.3,151.1 557.2,166.5 569.0,171.6 580.9,169.3 592.8,169.0 604.6,174.2 616.5,173.0 628.3,173.3 640.2,171.6 652.0,173.3" fill="none" stroke="#0000ff" stroke-width="1.6" stroke-dasharray="1.2,2.2" stroke-linecap="butt"/>
<path d="M497.9 53.5V118.4M495.5 53.5h4.8M495.5 118.4h4.8M509.8 70.6V112.1M507.4 70.6h4.8M507.4 112.1h4.8M521.6 109.0V135.2M519.2 109.0h4.8M519.2 135.2h4.8M533.5 132.0V150.8M531.1 132.0h4.8M531.1 150.8h4.8M545.3 143.4V157.4M542.9 143.4h4.8M542.9 157.4h4.8M557.2 162.2V169.6M554.8 162.2h4.8M554.8 169.6h4.8M569.0 169.9V173.3M566.6 169.9h4.8M566.6 173.3h4.8M580.9 167.3V171.3M578.5 167.3h4.8M578.5 171.3h4.8M592.8 167.0V171.0M590.4 167.0h4.8M590.4 171.0h4.8M604.6 172.7V175.6M602.2 172.7h4.8M602.2 175.6h4.8M616.5 171.6V174.4M614.1 171.6h4.8M614.1 174.4h4.8M628.3 171.9V174.7M625.9 171.9h4.8M625.9 174.7h4.8M640.2 170.2V173.0M637.8 170.2h4.8M637.8 173.0h4.8M652.0 171.9V174.7M649.6 171.9h4.8M649.6 174.7h4.8" stroke="#0000ff" stroke-width="1.2" fill="none"/>
<g fill="#0000ff" stroke="#000" stroke-width="0.9"><circle cx="497.9" cy="86.0" r="3.3"/><circle cx="509.8" cy="91.4" r="3.3"/><circle cx="521.6" cy="122.1" r="3.3"/><circle cx="533.5" cy="141.4" r="3.3"/><circle cx="545.3" cy="151.1" r="3.3"/><circle cx="557.2" cy="166.5" r="3.3"/><circle cx="569.0" cy="171.6" r="3.3"/><circle cx="580.9" cy="169.3" r="3.3"/><circle cx="592.8" cy="169.0" r="3.3"/><circle cx="604.6" cy="174.2" r="3.3"/><circle cx="616.5" cy="173.0" r="3.3"/><circle cx="628.3" cy="173.3" r="3.3"/><circle cx="640.2" cy="171.6" r="3.3"/><circle cx="652.0" cy="173.3" r="3.3"/></g>
</g>
<g clip-path="url(#c4)">
<g transform="scale(0.5)" stroke="#000" stroke-width="3.20" stroke-linecap="round" fill="none" stroke-opacity="0.42">
<path d="M165 461h0m110 1h0m6-1h0m36 2h0m8-2h0m160 0h0m45 0h0m-28 4h0m-71 9h0m-56-7h0m-5 8h0m-20 1h0m-42 3h0m-10-11h0m-11-3h0m-16-1h0m-29 12h0m-21-5h0m-64-1h0m-9-6h0m-30 17h0m19 1h0m7 12h0m50-1h0m28-5h0m8 5h0m9-3h0m8-8h0m13 13h0m148-14h0m9 1h0m13 8h0m15 3h0m4 2h0m72 11h0m-7-6h0m-35-1h0m-101 7h0m-3 0h0m-2-3h0m-29 0h0m-59 3h0m-18-8h0m-38 2h0m-72-1h0m0 3h0m-3-4h0m-5 13h0m-18 16h0m8-5h0m3-10h0m25 11h0m1 3h0m96-6h0m62 7h0m17-12h0m58 7h0m7 1h0m67 4h0m15-2h0m3-3h0m33 16h0m-7 3h0m-4-4h0m-54-9h0m-4 13h0m-17-8h0m-47-4h0m-23 9h0m-2 1h0m-27-6h0m-87 2h0m-2-5h0m-19 9h0m-30 2h0m-8-9h0m-55-4h0m-29 0h0m20 29h0m10-2h0m7-11h0m5 11h0m35-10h0m75 2h0m2 6h0m17 6h0m9-2h0m5-8h0m4-1h0m21 8h0m18-4h0m5 4h0m35-7h0m41 3h0m6-8h0m28 5h0m77-5h0m-12 27h0m-37-2h0m-20-7h0m-4-1h0m-27 3h0m-50-1h0m-90 3h0m-6 9h0m-12 0h0m-18-1h0m-34 0h0m-25-3h0m-17 4h0m-8-4h0m-19-4h0m-4 1h0m-19 12h0m22-2h0m49 1h0m14 8h0m119-10h0m6 7h0m42 4h0m56-3h0m47 5h0m7-2h0m3-12h0m2 0h0m34 12h0m-23 17h0m-20-3h0m-26 4h0m-3-13h0m-21 8h0m-41-5h0m-29 2h0m-55 7h0m-6-1h0m-25-5h0m-36 7h0m-2-14h0m-9 7h0m-15-4h0m-1-2h0m-100 18h0m26 7h0m74-4h0m5 2h0m4 5h0m36 1h0m50-7h0m49 5h0m40-12h0m12 3h0m13 3h0m3 4h0m24 4h0m71 12h0m-28-2h0m-3-3h0m-64-2h0m-37 0h0m-65 2h0m-48 0h0m-24 2h0m-32-7h0m-92 1h0m30 22h0m16 7h0m5 0h0m17-3h0m3-6h0m44 1h0m43-6h0m6 11h0m7-2h0m5 5h0m8-1h0m105-3h0m2-6h0m9-4h0m50 6h0m8 5h0m1-10h0m35 14h0m1-7h0m1 11h0m-8 3h0m-43 7h0m-42 2h0m-42-9h0m-27 6h0m-2-5h0m-24 2h0m-21-4h0m-58-4h0m0 5h0m-5-5h0m-16 14h0m-21-14h0m-15-1h0m-29 13h0m-57-7h0m25 12h0m9 7h0m7-9h0m19 11h0m4-4h0m36 7h0m17-4h0m67 3h0m26 2h0m3-8h0m9 6h0m30 1h0m1-3h0m17 2h0m63-1h0m4-2h0m5 1h0m-10 20h0m-19-9h0m-1 0h0m-33 2h0m-6-6h0m-68-1h0m-30 1h0m-24 2h0m-15 2h0m-12 6h0m-19-10h0m-63 9h0m-45-6h0m25 18h0m13 7h0m44-6h0m14-6h0m5 11h0m12 0h0m100 1h0m20 1h0m12-6h0m27 3h0m16 1h0m1-7h0m11-2h0m1 8h0m15 0h0m15-6h0m23 9h0m25-12h0m-9 14h0m-2 6h0m-4 0h0m-3-5h0m-2 4h0m-7 9h0m-54-4h0m-32-10h0m-2 1h0m-16 8h0m-23 4h0m-40-11h0m-20 10h0m-6 0h0m-64 1h0m-8-3h0m-44-10h0m-37 8h0m22 10h0m0 9h0m4-1h0m96-9h0m12 7h0m41-3h0m2-3h0m3 0h0m31 9h0m35-4h0m66-2h0m24-6h0m53 10h0m9 2h0m5-12h0m6 6h0m-52 17h0m-14 6h0m-3-9h0m-16-2h0m-4 10h0m-29-8h0m-32-3h0m-56 13h0m-24-4h0m-11 3h0m-14 0h0m-7 2h0m-61-12h0m-16 8h0m-10-5h0m-1 6h0m-33-9h0m-4 0h0m-7 1h0m-15 24h0m12-2h0m7-4h0m8 2h0m21-1h0m28 2h0m9-6h0m4 9h0m23-6h0m1 0h0m10 3h0m21-3h0m23 6h0m22-10h0m17 13h0m47-2h0m33-12h0m21 6h0m92 2h0m-10 12h0m-2-4h0m-37 7h0m-32-8h0m-3 15h0m-5-4h0m-5-10h0m-54 7h0m-18-8h0m-9 4h0m-15 0h0m-48-4h0m-33 2h0m-11 13h0m-46-2h0m-16-10h0m-59 24h0m6 0h0m11-4h0m25 8h0m23-3h0m0-3h0m12-6h0m8-2h0m13 4h0m45 3h0m3 3h0m7-5h0m47-6h0m9 6h0m53 3h0m15-2h0m12 5h0m10 0h0m42-9h0m15 9h0m30-10h0m4 17h0m-37-1h0m-44-2h0m0 2h0m-15-1h0m-113 9h0m-36-10h0m-71 11h0m-18-6h0m-27 24h0m98-6h0m60 3h0m40-10h0m21 15h0m3-9h0m150-4h0m6 26h0m-18 3h0m-37-8h0m-30-7h0m-54 10h0m-60 3h0m-4-1h0m-4 0h0m-12-3h0m-34-8h0m-12 14h0m-10-2h0m-6 0h0m-12 0h0m-6-7h0m-11 9h0m-7-6h0m-12 2h0m-81-2h0m-1-6h0m4 26h0m14-1h0m30-5h0m6-7h0m50 9h0m6 3h0m24-10h0m6 11h0m83-5h0m6 5h0m30-7h0m10-3h0m8 8h0m48-5h0m26 0h0m8 3h0m6-5h0m1 11h0m12-3h0m5-3h0m-70 7h0m-110 4h0m-24 0h0m-32-4h0m-88 2h0m-7 3h0"/>
<path d="M235 462h0m35-1h0m66 0h0m186 5h0m0 7h0m-16-9h0m-11 0h0m-2 0h0m-6 15h0m-2-7h0m-2 7h0m-20-7h0m-7 6h0m-30-4h0m-14 5h0m-12-15h0m-15 0h0m-17 3h0m-5 0h0m-25-2h0m-14 5h0m-6 3h0m-42 4h0m-19 0h0m-111-7h0m-17 8h0m-3-14h0m-10 7h0m1 13h0m56 11h0m16-12h0m161 0h0m21 1h0m12 0h0m13 8h0m12-6h0m13 6h0m3-12h0m1 10h0m24 5h0m1-10h0m19 6h0m8-2h0m0 3h0m2-8h0m33 0h0m-5 13h0m-11 12h0m-20-3h0m-47-5h0m-103-5h0m-64 0h0m-14 2h0m-45 7h0m-13 0h0m-19-2h0m-36 6h0m-1-12h0m-6 23h0m6-5h0m5 9h0m11-8h0m25-1h0m1 8h0m21-8h0m32 10h0m15-12h0m8 12h0m19-7h0m33 4h0m2-4h0m117 2h0m38 6h0m64-9h0m-54 15h0m-9 4h0m-45-5h0m-74 11h0m-6 1h0m-75-8h0m-15-7h0m-45 7h0m-44-4h0m-13-3h0m-4 14h0m-17-13h0m48 23h0m14-6h0m10 9h0m7-6h0m0 7h0m45-1h0m45-10h0m62 8h0m33 2h0m12-1h0m43 0h0m37-10h0m27 6h0m-21 15h0m-20 7h0m-56-6h0m-68 4h0m-60 4h0m-4-11h0m-31 0h0m-53 5h0m-63-5h0m-8 15h0m7 7h0m34-3h0m12 2h0m77-3h0m26-4h0m54-1h0m7 9h0m96-2h0m50 3h0m31-10h0m-35 25h0m-19 3h0m-2-8h0m-29-1h0m-14 11h0m-37-11h0m-28 1h0m-14 10h0m-8-5h0m-5 1h0m-17 2h0m-55 2h0m-4-6h0m-3 7h0m-11-14h0m-15 12h0m-6-1h0m-15-9h0m-9 5h0m-8 6h0m-10-11h0m-56 20h0m54-1h0m24 0h0m3 2h0m10 0h0m12-3h0m19 4h0m27 3h0m74-9h0m49-2h0m8 3h0m65-1h0m57-1h0m-30 15h0m-8 8h0m-13 0h0m-31 4h0m-2-4h0m-17 0h0m-37-9h0m-1 11h0m-11-8h0m-5-3h0m-8 8h0m-2 3h0m-22-1h0m-19-3h0m-21 2h0m-3-1h0m-53 6h0m-34-1h0m-7 0h0m-80-1h0m42 12h0m95 1h0m1 2h0m28-4h0m9 6h0m8-9h0m45 9h0m21-4h0m0 2h0m30-4h0m10 7h0m6-7h0m36-1h0m2 0h0m8 7h0m20 0h0m-7 12h0m-55-6h0m-42 0h0m-7 11h0m-63-11h0m-36 4h0m-33 2h0m-1 0h0m-9-6h0m-37-2h0m-17 13h0m-6-6h0m-41 4h0m5 6h0m64 8h0m90-1h0m8-8h0m21 13h0m24-10h0m16 6h0m9 5h0m50-1h0m19-8h0m14 6h0m28-5h0m20-2h0m4 8h0m23-2h0m12 13h0m-3-6h0m-56 2h0m-6 8h0m-26-3h0m-61-2h0m-17 3h0m-16-5h0m-21 5h0m-9-3h0m-24-4h0m-53 2h0m0 1h0m-10 5h0m-6 1h0m-19-6h0m-62-3h0m-10 4h0m-4-1h0m-5 7h0m9 13h0m6-4h0m17-3h0m12-3h0m14 4h0m0 8h0m9-7h0m9-3h0m15 8h0m5-1h0m57 6h0m28-13h0m213 15h0m-115 0h0m-20 8h0m-16 3h0m-70 1h0m-86 1h0m0 0h0m-15-7h0m-9 6h0m-20 1h0m-40 9h0m1-3h0m2-2h0m3 12h0m0 1h0m37-13h0m11 6h0m126 1h0m5 6h0m29-1h0m38-7h0m11 0h0m4 1h0m60-2h0m12 0h0m30-5h0m14 16h0m-54 4h0m-3-2h0m-6 11h0m-6-7h0m-129-5h0m-1 2h0m-6 0h0m-28 3h0m-10 7h0m-6-12h0m-74 11h0m-4-4h0m-32 3h0m-26 10h0m100-4h0m13 3h0m60-3h0m25 0h0m4 8h0m16 2h0m11 3h0m10-15h0m26 13h0m31-4h0m10 2h0m7-6h0m24-3h0m43 7h0m11 0h0m8 7h0m-21 7h0m-1 3h0m-45-7h0m-79 6h0m-2 4h0m-4-13h0m-48 4h0m-36 3h0m-59 3h0m-29-9h0m-20 5h0m-40-6h0m-4 5h0m-5 1h0m5 13h0m15-1h0m31 6h0m9-7h0m2 11h0m5-12h0m5 5h0m2 1h0m5 7h0m7-9h0m9-3h0m11 13h0m87-9h0m17 2h0m13 1h0m2-7h0m13 0h0m18 2h0m23 11h0m5-1h0m4-6h0m23-7h0m29 12h0m18-8h0m22-2h0m25 6h0m-15 23h0m-21-3h0m-5-10h0m-109 6h0m-65 1h0m-6 1h0m-29-8h0m-1 5h0m-6-4h0m-69 12h0m-31-2h0m-32-9h0m-18 8h0m-9-6h0m24 25h0m24-3h0m31-11h0m5 14h0m8-14h0m5 4h0m3 2h0m48 3h0m7-10h0m18 15h0m16-7h0m17-6h0m36 8h0m8 2h0m1-7h0m17 2h0m0-6h0m5 2h0m4-1h0m1 7h0m14 6h0m11 0h0m30-2h0m35-7h0m30-3h0m8 8h0m2 3h0m4-13h0m-63 20h0m-2 8h0m-16 1h0m-82 0h0m-44-8h0m-27 6h0m-12-3h0m-79-6h0m-60 7h0m-28 8h0m11 11h0m6-7h0m12 3h0m19-5h0m7 4h0m41 0h0m19-2h0m33 1h0m20-2h0m11-4h0m85 3h0m11 4h0m13-6h0m37 12h0m65-8h0m12-2h0m-74 14h0m-232 3h0m-44-3h0m-55 4h0m-1-5h0"/>
<path d="M162 460h0m177 3h0m56-2h0m127 11h0m-13-6h0m-1 9h0m-52-10h0m-4 9h0m-42 1h0m-13 1h0m-23 1h0m-2-7h0m-18-1h0m-28 4h0m-49-3h0m-1 8h0m-13 1h0m-19-7h0m-126-3h0m29 14h0m0-3h0m82 2h0m6-1h0m19 9h0m6-7h0m44 11h0m6-8h0m11-3h0m46-1h0m45 11h0m33-2h0m24 3h0m17-7h0m10 1h0m-17 9h0m-46 4h0m-205 5h0m-30 2h0m-21-1h0m-38-9h0m-3 0h0m-4 0h0m-13 11h0m42 3h0m6 0h0m39 12h0m101-7h0m32-5h0m17 11h0m54-6h0m18 8h0m9-2h0m41-3h0m24 2h0m6 15h0m-6-6h0m-34-1h0m-14 5h0m-11-1h0m-1 7h0m-76-11h0m-15 2h0m-9 5h0m-8 1h0m-27-2h0m-24-4h0m-21 4h0m-10 5h0m-46-12h0m-15 4h0m-72 18h0m19-7h0m1 15h0m7-5h0m33 2h0m8-12h0m7 14h0m20-4h0m4-4h0m24 6h0m126 2h0m54-6h0m14-6h0m58 20h0m-4 4h0m-23-7h0m-14 5h0m-77-4h0m-20-2h0m-2 11h0m-38-4h0m-105-9h0m-35 3h0m-13 10h0m-3-13h0m-5 1h0m-25 16h0m44 11h0m3-6h0m53 3h0m4 5h0m4-6h0m36-5h0m20 3h0m19 8h0m16-1h0m20 0h0m7-8h0m27 2h0m19 2h0m10 5h0m29-9h0m14 1h0m26-6h0m0 5h0m12 4h0m25-1h0m8-2h0m6 14h0m-60 11h0m-10-3h0m-21 0h0m-11-4h0m-32-5h0m-17 7h0m-15-4h0m-9 1h0m-53-7h0m-12 5h0m-12 2h0m-74 1h0m-16-3h0m-34 3h0m-29-6h0m90 29h0m42-1h0m66-6h0m46 2h0m19 5h0m61-1h0m39-1h0m32-1h0m-22 19h0m-8-1h0m-24-10h0m-63 11h0m-9-12h0m-19-3h0m-115 14h0m-9-9h0m-5 10h0m-105-3h0m-18 9h0m3 2h0m3 5h0m9-7h0m38 4h0m7 0h0m9-5h0m1-4h0m0 1h0m4 7h0m10 1h0m3 6h0m68-10h0m88-2h0m15 2h0m37 7h0m9 1h0m16-4h0m16-6h0m26 12h0m15-11h0m3-2h0m4 11h0m-76 17h0m-24-6h0m-48-4h0m-9 2h0m-84-3h0m-2-3h0m-4 10h0m-33-9h0m-42 4h0m-13 6h0m-1-6h0m-7-1h0m-27-4h0m-26 20h0m23 2h0m13 7h0m31-13h0m34 11h0m6-3h0m23 1h0m68-1h0m1 3h0m8-6h0m201-4h0m3 18h0m-57 7h0m-8-6h0m-19 9h0m-15-2h0m-24 2h0m-35-3h0m-25-2h0m-36 7h0m-12-8h0m-22-1h0m-20 1h0m-10 5h0m-38-4h0m-75-2h0m-12 6h0m32 7h0m0 10h0m4-6h0m9 1h0m12-6h0m20 8h0m18 1h0m68-7h0m25-2h0m61 10h0m15-11h0m16 11h0m32-7h0m12 4h0m0-5h0m64 1h0m-12 13h0m-12 5h0m-44-7h0m-11 0h0m-11 9h0m-1-1h0m-27 7h0m-7-14h0m-13 13h0m-6 1h0m-4-11h0m-45 4h0m-30-6h0m-12-1h0m-60 7h0m-6 3h0m-5-6h0m-33-1h0m-14 10h0m-7-12h0m-2 8h0m36 19h0m36-3h0m54 5h0m24-4h0m17 1h0m4-9h0m23 10h0m11-11h0m5 13h0m14-2h0m14-8h0m20-1h0m34 3h0m51-5h0m3 13h0m23-10h0m12 0h0m-32 23h0m-5-11h0m-2 4h0m-11-1h0m-166 8h0m-15-3h0m-4-6h0m-52 8h0m-10-9h0m-6 7h0m-58-8h0m-48-1h0m25 19h0m20 3h0m45 2h0m37 4h0m8-11h0m16 5h0m4-2h0m63 8h0m13-4h0m7 6h0m45-6h0m25 6h0m3-8h0m2 0h0m2-6h0m15 0h0m52 7h0m1 8h0m-21 16h0m-20-4h0m-19-3h0m-7 2h0m-18-4h0m-30-3h0m-49 11h0m-4-5h0m-21-9h0m-13 9h0m-68 1h0m-2 0h0m-11 3h0m-7-2h0m-45 4h0m-9-1h0m-15-11h0m-9 1h0m-7 2h0m-2 2h0m-8 19h0m1-6h0m6 10h0m15-7h0m1 1h0m25 5h0m3-6h0m4-6h0m11 1h0m13 2h0m26-5h0m8 12h0m29-6h0m12 8h0m2-4h0m10-8h0m40 11h0m41 2h0m8 0h0m25-15h0m13 13h0m16 0h0m13-6h0m5 1h0m64-3h0m24 2h0m-11 18h0m-6-6h0m-31 0h0m-49 11h0m-17 1h0m-77-4h0m-11-10h0m-61 2h0m-10 9h0m-2-12h0m-15 3h0m-48-2h0m-23 7h0m-2 6h0m0-7h0m-47 0h0m56 11h0m60-1h0m10 0h0m25 12h0m17-11h0m22 0h0m16-2h0m44 11h0m1 1h0m8-10h0m6 11h0m10-13h0m68 4h0m3-2h0m4 10h0m16-9h0m38 4h0m-7 13h0m-65 9h0m-11-3h0m-7 3h0m-20-2h0m-34-1h0m-26-3h0m-91 5h0m-1-1h0m-32-6h0m-18 1h0m-45 8h0m-2 1h0m-1-1h0m-37 1h0m14 13h0m1-9h0m17-3h0m7 15h0m6-15h0m7 1h0m27 8h0m5-7h0m12 12h0m0-13h0m2 8h0m15 5h0m15-1h0m59-5h0m16 4h0m4-3h0m35-5h0m17 4h0m32-4h0m5 4h0m5 2h0m13-1h0m23-5h0m34 2h0m10 8h0m-86 2h0"/>
<path d="M392 460h0m132 12h0m-42-7h0m-5 0h0m-9 10h0m-100-7h0m-24 1h0m-5 9h0m-11-12h0m-19 9h0m-46 2h0m-26-8h0m-35 9h0m-42-7h0m3 23h0m32-8h0m8-1h0m73 2h0m130 8h0m49-8h0m46-1h0m17 5h0m6 5h0m-38 10h0m-50 0h0m-4-6h0m-20 10h0m-52-14h0m-54 15h0m-69-15h0m-42 4h0m-25 8h0m-9-5h0m0 3h0m-24-1h0m-10-7h0m-5 29h0m10 0h0m11-3h0m97-7h0m17 10h0m10-13h0m67 2h0m12 1h0m0 4h0m11 0h0m17-3h0m78-5h0m24 14h0m10-4h0m4 0h0m41-6h0m2 2h0m-16 10h0m-24 2h0m-28 0h0m-35 2h0m-94 4h0m-6-2h0m-82-2h0m-99 2h0m27 12h0m26 0h0m4 10h0m16-1h0m22-9h0m56 12h0m25-1h0m43-6h0m11 2h0m74 5h0m19-2h0m4-2h0m14 0h0m9-9h0m6 4h0m6 5h0m3 3h0m8 8h0m-9 0h0m-19 1h0m-27-5h0m-3 10h0m-29 1h0m-25-6h0m-52 2h0m-21 3h0m-5-6h0m-4-1h0m-14-1h0m-78-1h0m-20-2h0m-50 2h0m-17-1h0m-5-2h0m-6 15h0m-20 7h0m5 7h0m24-10h0m58 3h0m2 0h0m157 1h0m16-3h0m2 5h0m5 1h0m4-8h0m15 11h0m23 0h0m21 1h0m13-8h0m24 9h0m16 14h0m-7-12h0m-164-1h0m-90 8h0m-11 0h0m-9 1h0m-37-6h0m-9 5h0m-29 15h0m18-5h0m5-2h0m7 8h0m17-5h0m44 12h0m31-12h0m37 4h0m29-3h0m13 11h0m29-13h0m10 11h0m44 0h0m14-12h0m4 9h0m51-4h0m1 2h0m30 5h0m-6 4h0m-38 0h0m-2 0h0m-67 8h0m-31-5h0m-45-3h0m-11-1h0m-18 7h0m-12 6h0m-8-8h0m-21 8h0m-4-10h0m-8 12h0m-4-15h0m-7 12h0m-20-2h0m-12-6h0m-5 9h0m-1-4h0m-31-8h0m-68 24h0m2 1h0m24-2h0m3 2h0m11 4h0m6-13h0m2 14h0m1-8h0m2-5h0m45 9h0m13-7h0m49-1h0m6 6h0m36-8h0m34 6h0m50-4h0m28 5h0m26-3h0m28 3h0m35-2h0m3 4h0m7 14h0m-20 3h0m0-9h0m-12 0h0m-14 7h0m-94-8h0m-73 10h0m-2 4h0m-16-12h0m-80 3h0m-11 3h0m-70-6h0m-17 16h0m16 11h0m26-3h0m56-4h0m49 0h0m4 4h0m12 4h0m14-11h0m5 3h0m4 8h0m2-8h0m34-3h0m9 0h0m38 7h0m46-4h0m1-5h0m35 13h0m30-12h0m-22 23h0m-9 5h0m-71-11h0m-1 11h0m-45-12h0m-11 4h0m-50-4h0m-47 1h0m-2 3h0m-35-3h0m-53 7h0m-11-7h0m-9-4h0m-17 28h0m43-2h0m57 4h0m20 0h0m35-5h0m17-8h0m19 1h0m10 13h0m26-8h0m2 4h0m32-2h0m15 3h0m82-5h0m42 15h0m-4-1h0m-8-5h0m-2 12h0m-13 1h0m-8-3h0m-7-9h0m-6 6h0m-34-7h0m-61 2h0m-12 5h0m-62 3h0m-54 0h0m-13-3h0m-19 6h0m-6-5h0m-37 0h0m-3-2h0m-17 5h0m-27-10h0m-4 4h0m108 26h0m60-2h0m11-2h0m32-6h0m20 5h0m19-10h0m14 0h0m9 8h0m2-3h0m5-3h0m4 5h0m67-3h0m60 23h0m-1-4h0m-14-2h0m-14 1h0m-89 0h0m-54-6h0m-77 14h0m-24-11h0m-6 8h0m-5 2h0m-29 0h0m-8-2h0m-12-7h0m-57-4h0m-9 12h0m-3-9h0m-5 25h0m29-12h0m7 13h0m49-3h0m9 4h0m10-12h0m6 5h0m10 1h0m12-1h0m15-4h0m64 8h0m1-5h0m6 7h0m57-1h0m56-1h0m14-11h0m9 10h0m50-3h0m-43 11h0m-4 7h0m-20-6h0m-5-2h0m-51 6h0m-4 5h0m-17 1h0m-15-10h0m-56 0h0m-19 10h0m-4-11h0m-11 10h0m-5-3h0m-5-9h0m-1 15h0m-24-11h0m-63 11h0m-49-10h0m-6 22h0m44 2h0m18-4h0m25-1h0m60-3h0m32 7h0m3 1h0m10 2h0m2-8h0m2-4h0m6 3h0m12-5h0m23 12h0m51 2h0m13-13h0m10-2h0m54 1h0m34 21h0m-21 9h0m-26-10h0m-26-4h0m-5-1h0m-7 8h0m-32 0h0m-16 7h0m-20-8h0m-7 1h0m-25-8h0m-31 11h0m-5 0h0m-41 3h0m-17-2h0m-3 2h0m-26-14h0m-83 6h0m-1 3h0m-2-9h0m0 19h0m4-3h0m31 14h0m0-9h0m20 9h0m1-10h0m7 2h0m2-4h0m22 11h0m14-13h0m107 13h0m6 2h0m7-1h0m6-5h0m21-1h0m12-6h0m4 7h0m1-3h0m47-6h0m23 7h0m63 14h0m-10 9h0m-48-9h0m-7 4h0m-4-1h0m-3 3h0m-67-3h0m-19-5h0m-40 0h0m-23 0h0m-3 3h0m-5-4h0m-13-1h0m-75-1h0m-14 11h0m-25-7h0m-41-3h0m-3 7h0m-10 5h0m0-11h0m100 14h0m8 1h0m1 9h0m34-2h0m33 1h0m37 2h0m91-7h0m27 8h0m8-7h0m17-3h0m7 5h0m19 7h0m32-8h0m-34 12h0m-25-2h0m-22 2h0m-7-1h0m-27 4h0m-9-4h0m-46 4h0m-8-3h0m-108-1h0m-120 1h0"/>
<path d="M133 463h0m164-1h0m26-2h0m182 3h0m24 0h0m1 2h0m-3 7h0m-15-3h0m-5 4h0m-26-4h0m-30 10h0m-6-6h0m-26-4h0m-35 5h0m-18-10h0m-4 14h0m-40 1h0m-11-9h0m-27 3h0m-8 4h0m-11-9h0m-110-3h0m-10 12h0m-16 8h0m3 1h0m19 2h0m13-2h0m6 8h0m10 1h0m6-6h0m24 1h0m0 1h0m24 1h0m21-2h0m5 3h0m5-10h0m50 8h0m27-9h0m82 12h0m83-7h0m25 7h0m-17 9h0m-50 7h0m-40-9h0m-9 7h0m-69-2h0m0 0h0m-58 5h0m-34-5h0m-1 5h0m-17-7h0m-2 2h0m-22-7h0m-35 11h0m-2-6h0m-42 0h0m-3 4h0m-17-5h0m39 16h0m9 7h0m3-7h0m32 4h0m18 2h0m54-8h0m0-2h0m84 10h0m7 0h0m77 0h0m4-11h0m1 0h0m25 5h0m14-6h0m24 20h0m-8 6h0m-27-1h0m-8-10h0m-9 5h0m-14-3h0m-83 6h0m-27 3h0m-9-2h0m-30-4h0m-22-5h0m-10 2h0m-34 4h0m-68-6h0m-7 6h0m-2-3h0m24 24h0m165-1h0m17 4h0m30-7h0m7-2h0m8-2h0m47 2h0m29 1h0m10 2h0m24 20h0m-6 1h0m-72-12h0m-13 6h0m-75-7h0m-7 10h0m-20 3h0m0-2h0m0-2h0m-63-5h0m-31 11h0m-8-2h0m-22-13h0m-66 15h0m11 10h0m67 1h0m13-3h0m6-7h0m23 3h0m76 12h0m26 0h0m3-2h0m58 1h0m36-2h0m2 0h0m18-3h0m32 5h0m14 0h0m11-2h0m8-4h0m-27 23h0m-16-1h0m-25-10h0m-23 4h0m-44-6h0m-2 10h0m-2 2h0m-58-4h0m-1-6h0m-38 4h0m-22-8h0m-2 6h0m-30 9h0m-11-1h0m-10-9h0m-45 7h0m-4-2h0m-1-9h0m0 4h0m-1 10h0m-12-10h0m-17-5h0m-25 30h0m29-3h0m54-9h0m18 13h0m45-5h0m72-7h0m2-1h0m28 5h0m42 0h0m25-3h0m31 7h0m2 0h0m13-11h0m19 1h0m13 4h0m-29 25h0m-119 1h0m-7-4h0m-13-4h0m-64 5h0m-18-9h0m-24 9h0m-5 1h0m0-1h0m-29 1h0m-48-5h0m-37 7h0m25 13h0m19-12h0m24 9h0m4 5h0m25-6h0m7-6h0m17-2h0m88 13h0m46-13h0m59 11h0m66-9h0m23 9h0m6 19h0m-54-14h0m-49 11h0m-90 2h0m-57-13h0m-11 15h0m-5-7h0m-4-8h0m-9 12h0m-37-8h0m-38-4h0m-51 7h0m24 18h0m9-7h0m13 12h0m58-12h0m53 9h0m5-11h0m4 11h0m5-11h0m26 12h0m12-1h0m25-2h0m7 5h0m22-7h0m25 1h0m21 2h0m8 2h0m10-1h0m29 1h0m20 3h0m15-7h0m3 17h0m-13-5h0m-50-3h0m-61 13h0m-2-13h0m-18 2h0m-18-1h0m-29 11h0m-2-13h0m-1 5h0m-31 3h0m-1-7h0m-2 11h0m-5 0h0m0-6h0m-17 9h0m-118-15h0m52 22h0m28-3h0m53 12h0m14-9h0m38 2h0m2 3h0m14 3h0m30-5h0m2-1h0m43-2h0m21-5h0m41 5h0m44-4h0m3 0h0m-22 24h0m-55-7h0m-4-3h0m-1 15h0m-47-11h0m-8 8h0m-117-12h0m-7 8h0m-6 5h0m-60-2h0m-19-8h0m-24 3h0m-2 1h0m-17-7h0m-14 10h0m-5-5h0m-5 16h0m49 8h0m48-7h0m41-1h0m17-2h0m195 10h0m15-5h0m33-3h0m5 5h0m1-1h0m8 17h0m-31 1h0m-5 1h0m-18-10h0m-47 12h0m-7 0h0m-85-9h0m-3-1h0m-25 0h0m-4 9h0m-14-9h0m-43-2h0m-26 3h0m-11 8h0m-5-13h0m-2 7h0m-7-7h0m-40 6h0m-41 11h0m17 11h0m8-8h0m68-1h0m74 0h0m1-3h0m35 8h0m1 5h0m9 2h0m13-6h0m0-6h0m15 9h0m14-2h0m69-6h0m5 3h0m6-5h0m17 7h0m0-9h0m26 15h0m7-1h0m24-10h0m8 16h0m-17 1h0m-68-2h0m-27 2h0m-122 8h0m-33 1h0m-20-3h0m-7-8h0m-3 11h0m-54-14h0m-39 2h0m-15 4h0m-7 20h0m40-2h0m13-3h0m1 1h0m5-5h0m14 10h0m47-10h0m20 14h0m83-13h0m10 11h0m38-9h0m27-4h0m6 8h0m1 7h0m8-6h0m44-1h0m4 1h0m13-3h0m8 20h0m-23-4h0m-11 1h0m-11 1h0m-53 7h0m-30-7h0m-39-6h0m-6 0h0m-5 10h0m-80-1h0m-38 4h0m-33-9h0m-41 0h0m-18 8h0m1 16h0m68-5h0m9 5h0m34-11h0m1 1h0m7 1h0m14 1h0m10 1h0m22-6h0m9 6h0m12 2h0m27-6h0m2-3h0m94 3h0m7-3h0m6 4h0m39 9h0m27-3h0m3-10h0m6 7h0m1 1h0m4 5h0m11-5h0m-8 9h0m-13 5h0m-9 9h0m-56-11h0m-23 7h0m-59-5h0m-17-5h0m-38 14h0m-141-5h0m-9-2h0m0-6h0m-21 9h0m-4-11h0m-11 5h0m-5 20h0m7-5h0m70 11h0m2-10h0m40 7h0m54-5h0m68-6h0m7 4h0m52-4h0m7 12h0m66 1h0m19-11h0m9 14h0m-46 1h0m-81-1h0m-19 2h0m-12-1h0m-67 3h0m-7-4h0m-59-1h0m-16 3h0m-66-2h0"/>
<path d="M376 461h0m92-1h0m0 6h0m-6 6h0m-39 0h0m-36 4h0m-15-6h0m-8 9h0m-2-14h0m-14 11h0m-55 2h0m-31-4h0m-14-9h0m-24 3h0m-13 3h0m-40 3h0m-21-5h0m-13 1h0m-19 18h0m2-2h0m27-1h0m7-1h0m7 6h0m14 3h0m52-7h0m5 9h0m83-6h0m8-6h0m24-3h0m7 1h0m13 11h0m13-5h0m0 6h0m34-4h0m100 3h0m-66 12h0m-20 5h0m-31-11h0m-10 4h0m-33 0h0m-9 7h0m-22-1h0m-15 2h0m-28-10h0m-15 1h0m-20 4h0m-12-2h0m-44-5h0m-10 2h0m-27 8h0m-12-7h0m7 19h0m26-2h0m25 6h0m4-3h0m12 2h0m23-7h0m9 10h0m52-3h0m35-11h0m19 10h0m8-7h0m51 1h0m1 3h0m12-4h0m3 8h0m10-10h0m3 12h0m83-13h0m-2 31h0m-22-8h0m-6 0h0m-12-3h0m-78-3h0m-2 7h0m-38 6h0m-1-9h0m-12-4h0m-9 10h0m-22-5h0m-5 3h0m-16-5h0m-6 11h0m-1-12h0m-22 11h0m-60 0h0m-23-11h0m0 4h0m-58 2h0m-6-5h0m29 13h0m6 7h0m15-3h0m38-5h0m74 15h0m8-3h0m32 3h0m13-7h0m14 6h0m23-10h0m16-1h0m11 3h0m52 3h0m4 2h0m73 5h0m-14 10h0m-13-2h0m-59-3h0m-2-1h0m-6 1h0m-28 9h0m-17-6h0m-40-3h0m-19 4h0m-5-9h0m-9 9h0m-69 0h0m-23 0h0m-6 1h0m-23-7h0m-32-2h0m-33 16h0m8-1h0m0 7h0m39 1h0m37 1h0m12-4h0m1 6h0m44-11h0m33 1h0m2 7h0m2 2h0m101-8h0m27 1h0m45 12h0m18-8h0m5-1h0m3 2h0m16 5h0m3 15h0m-8-9h0m-39 0h0m-34 7h0m-49 5h0m-144-10h0m-17-1h0m-21 0h0m-17 2h0m-7 6h0m-25-3h0m-22-7h0m-9 29h0m6-11h0m1 5h0m26 5h0m14-13h0m7 5h0m41 6h0m42 2h0m56-1h0m45-5h0m1 3h0m22-9h0m19 12h0m16-4h0m59-4h0m12 3h0m25 14h0m-5 8h0m-17 0h0m-3-2h0m-3-3h0m0-9h0m-2 14h0m-34-8h0m-28 8h0m-20-14h0m-5 8h0m-18 2h0m-52-6h0m-1-1h0m-14 5h0m-1-7h0m-44-1h0m-10 12h0m-5 1h0m-23-13h0m-26 4h0m-4 8h0m-69-10h0m-24-2h0m-8 23h0m45-4h0m33 7h0m17-3h0m7 1h0m10-3h0m23-5h0m39 1h0m58 4h0m14 2h0m18 7h0m33-1h0m15-10h0m32 2h0m3 5h0m2-10h0m14 5h0m10 6h0m5-2h0m39 2h0m-23 12h0m-135-4h0m-47-2h0m-38 5h0m-23 3h0m-2 2h0m-64 1h0m-19-13h0m-22 15h0m-11-3h0m-32 9h0m82 8h0m11-10h0m61-1h0m11 6h0m3 3h0m17-7h0m29-4h0m23 13h0m18-2h0m13-1h0m0-1h0m4-6h0m12 7h0m47-8h0m3 2h0m19-1h0m24 9h0m18-9h0m20 10h0m4-2h0m-37 17h0m-6-3h0m-20 6h0m-15-15h0m-46 13h0m-5 1h0m-4-11h0m-29 9h0m-28 2h0m-135-3h0m-22-7h0m-51 4h0m17 14h0m41-1h0m8-2h0m36 12h0m3-4h0m2-8h0m74 5h0m36-4h0m32 7h0m71 1h0m5-9h0m68-3h0m-32 17h0m-318 5h0m-60-5h0m29 30h0m16-13h0m3 5h0m4 8h0m1-8h0m25-4h0m37-3h0m97 11h0m9 1h0m5-8h0m1-1h0m1-1h0m5 6h0m8-5h0m40 9h0m58-8h0m6 1h0m36-2h0m32 6h0m1 11h0m-10 4h0m-19-3h0m-23-4h0m-19 11h0m-56-2h0m-9-10h0m-12 1h0m-3 8h0m-26-1h0m-37 5h0m-6-1h0m-2-6h0m-24 4h0m-2 4h0m-34-2h0m-36-11h0m-25 2h0m0 3h0m-22 7h0m-39-10h0m6 15h0m4 0h0m7 4h0m9 0h0m52 5h0m63-4h0m17 5h0m21-7h0m25-3h0m11 3h0m51 0h0m36-2h0m47 8h0m37 1h0m13-9h0m-15 25h0m-10 2h0m-2-7h0m-25 6h0m-3-12h0m-21-1h0m-97 13h0m-6-1h0m-49-2h0m-52-1h0m-9 3h0m-5 1h0m-19-12h0m-43 14h0m-3-3h0m-25 0h0m-29 2h0m62 5h0m3 9h0m18-12h0m108 7h0m21-4h0m28 10h0m17-5h0m22 7h0m63-6h0m32 7h0m-23 8h0m-65 1h0m-18-8h0m-15 6h0m-55-6h0m-6 8h0m0 4h0m-17-2h0m-20-8h0m-4 6h0m-12-8h0m-6 11h0m-31 0h0m-17 2h0m-30-7h0m0 8h0m-24 13h0m28 1h0m54-8h0m86 8h0m14-5h0m62-7h0m23 4h0m24 7h0m31-8h0m16 8h0m43-2h0m-133 13h0m-39 8h0m-9-15h0m-13 4h0m-20 10h0m-9-5h0m-10-5h0m-138 8h0m-1-7h0m-28 6h0m-6 4h0m27 1h0m1 3h0m10-3h0m51 5h0m9 6h0m22-8h0m7 7h0m11-2h0m26-1h0m11 2h0m13 1h0m1 2h0m51-7h0m29 7h0m1-9h0m41 4h0m11 1h0m41 6h0m25-5h0m25 2h0m-34 9h0m-38-3h0m-13 4h0m-25-3h0m-126 1h0m-18 1h0m-6 2h0m-73-6h0m-41 4h0m-3-4h0"/>
<path d="M303 460h0m84 3h0m76-1h0m29 1h0m28 1h0m-27 11h0m-39-2h0m-9 6h0m-8-5h0m-30 3h0m-94-9h0m-34 10h0m-7 0h0m-6-14h0m-55 8h0m-24 7h0m-12-11h0m-56 18h0m2 3h0m88-8h0m62 9h0m4-3h0m18-1h0m26 1h0m1 6h0m1-1h0m44-3h0m2 5h0m29-7h0m22 3h0m15-5h0m7-5h0m47 3h0m2 5h0m28-3h0m2 22h0m-7-4h0m-61 5h0m-1-3h0m-30-9h0m-25 1h0m-3 1h0m-39 7h0m-7 5h0m-9-7h0m-55 3h0m-7-3h0m-34 6h0m-21-1h0m-66-5h0m-30 6h0m-5 1h0m4 7h0m31 0h0m49-3h0m1 0h0m10 5h0m7 1h0m116 0h0m26-4h0m50 6h0m17 0h0m3-2h0m50-4h0m4 7h0m18-5h0m0 3h0m1-3h0m-32 23h0m-26-11h0m-38 0h0m-20 7h0m-8-5h0m-19 6h0m-60 0h0m-27-7h0m-51-2h0m-41 11h0m-9-9h0m-15 5h0m0-5h0m-4 11h0m-22-1h0m-5 14h0m4 3h0m5-2h0m4 0h0m11 3h0m42-15h0m5 4h0m40 0h0m26 6h0m27 2h0m20-7h0m32 10h0m6-15h0m30 13h0m19-11h0m101 2h0m17 22h0m-8 5h0m-10 0h0m-8-13h0m-40 7h0m-3 2h0m-9 0h0m-2 4h0m-3-3h0m-9 3h0m-11-3h0m-2 0h0m-23 0h0m-58-6h0m-12-3h0m-84 7h0m-55-1h0m-8-7h0m-8 9h0m-34-8h0m-5 7h0m-5 12h0m37-2h0m24 2h0m12 4h0m22-6h0m1-2h0m27 9h0m26-1h0m7-10h0m35 15h0m36-7h0m24 6h0m65-7h0m6-3h0m35 7h0m27 0h0m27 4h0m-20 1h0m-21 15h0m-8-13h0m-56 8h0m-173-6h0m-16-1h0m-27 11h0m-25 0h0m-6-5h0m-14 5h0m-3-4h0m-12-5h0m-12 7h0m15 18h0m13-7h0m12-5h0m62 11h0m0-11h0m43 7h0m15-9h0m0 4h0m101 10h0m17-3h0m48-11h0m8 2h0m59 27h0m-46-8h0m-31 10h0m-7-12h0m-17-1h0m-80-1h0m-2 5h0m-19 1h0m-9 3h0m-8-4h0m-57 4h0m-21-2h0m-35 4h0m-27-1h0m-28-8h0m-18-2h0m-3 14h0m28 10h0m1 4h0m12-4h0m8-2h0m3 7h0m18-4h0m40 3h0m71-4h0m18-9h0m2 9h0m12 2h0m2-5h0m29-2h0m6 10h0m7-11h0m29 7h0m15 1h0m5-9h0m7 11h0m10-9h0m19 10h0m4-1h0m6-3h0m40 4h0m11 14h0m-1-6h0m-13 6h0m-43-7h0m-70 0h0m-57 3h0m-2 4h0m-5-12h0m-8 11h0m-50 4h0m-49-9h0m-64 0h0m-7 0h0m-7-4h0m-5 4h0m7 23h0m27-7h0m55 6h0m17-5h0m13-2h0m39-4h0m19 6h0m12 1h0m52 6h0m9-5h0m32-4h0m9 4h0m17-9h0m13 2h0m18 8h0m2 5h0m18-4h0m-13 20h0m-42-5h0m-12-5h0m-3 3h0m-3 5h0m-22-4h0m-51 1h0m-35-1h0m-15 1h0m-65-9h0m-7 13h0m0-6h0m-22-4h0m-5 6h0m-17 0h0m-73 1h0m-2 14h0m46 4h0m22-5h0m38 1h0m7-9h0m82 9h0m9-8h0m48 6h0m18 2h0m31-2h0m22 1h0m13-7h0m15 12h0m16-6h0m35 7h0m-28 14h0m-47-4h0m-38 5h0m-17-7h0m-4 1h0m-13 1h0m-3 0h0m0 4h0m-33 1h0m-30-13h0m-16 15h0m-67 0h0m-4-5h0m-2-9h0m-87-1h0m2 18h0m17 2h0m10 11h0m20-14h0m52 13h0m67-3h0m68-4h0m39-6h0m63 4h0m14-5h0m4 13h0m39-10h0m-56 16h0m-63-1h0m-18-2h0m-79 15h0m-46-3h0m-15-10h0m-1 10h0m-2 0h0m-50-9h0m-5 4h0m-20 7h0m-32-1h0m-21-9h0m-6 13h0m10 4h0m96 4h0m10-9h0m12 1h0m8 4h0m42-5h0m12 7h0m2 7h0m3 1h0m19-2h0m40 2h0m6-9h0m29 9h0m20-11h0m18 11h0m43-15h0m44 17h0m-76 7h0m-3 7h0m-9-13h0m-3 8h0m-12-3h0m-12 7h0m-14-3h0m-33-7h0m-97-2h0m-45 7h0m-34 1h0m-41-3h0m5 11h0m42 4h0m84-1h0m0 3h0m19 1h0m33 1h0m6 4h0m1-9h0m4 10h0m1-7h0m141 2h0m27 15h0m-5-9h0m-5 15h0m-59-2h0m-9-1h0m-42 3h0m-11-13h0m-12 13h0m-11-4h0m-43-3h0m-23-8h0m-8 8h0m-125-4h0m-32 3h0m89 20h0m49-2h0m11-9h0m23 7h0m22-4h0m36 10h0m15-5h0m76-5h0m13 5h0m2-6h0m22 4h0m4 6h0m35 14h0m-24-7h0m-11 10h0m-32-12h0m-4-1h0m-29 15h0m-9-13h0m-53-1h0m-14 12h0m-19-11h0m-20 13h0m-33-10h0m-3-2h0m-19-1h0m-5 0h0m-12 9h0m-22-2h0m-11 3h0m-26-8h0m-2 7h0m-8-8h0m-11 3h0m-29 21h0m7-9h0m19 1h0m63 4h0m39 8h0m14-8h0m9 6h0m5 2h0m5-10h0m18-3h0m11 10h0m28 2h0m24-6h0m9 4h0m42-1h0m13-6h0m21 8h0m2-4h0m2-4h0m16-4h0m21 10h0m28 4h0m-201 3h0m-168-1h0"/>
<path d="M271 460h0m199 0h0m39 3h0m16 7h0m-35-6h0m0 8h0m-7 2h0m-15 2h0m-7-9h0m-2 11h0m-4-2h0m-42-7h0m-7 6h0m-14 4h0m-12-13h0m-39-2h0m-95 0h0m-1 0h0m-68 6h0m-12-2h0m-44 2h0m44 12h0m1-2h0m5 11h0m23-5h0m19 0h0m58 8h0m14-7h0m5 8h0m96-15h0m39 3h0m15 6h0m28 0h0m52 19h0m-3-3h0m-65 0h0m-6 6h0m-13-10h0m-63 1h0m-26-3h0m-3 12h0m-26 0h0m-3-14h0m-43 10h0m-67-4h0m-1-5h0m-73 23h0m21-2h0m26-6h0m24 9h0m7-10h0m16 13h0m58-5h0m35 6h0m18-3h0m31 2h0m5-9h0m5 3h0m84 1h0m36-8h0m33 2h0m-34 15h0m-39 5h0m-41 6h0m-6-7h0m-51 6h0m0-11h0m-37 10h0m-19 4h0m-11-13h0m-12 14h0m-21-10h0m-117 16h0m4-5h0m2 2h0m53 7h0m12 6h0m34-2h0m45-7h0m3 5h0m8 1h0m57-4h0m35 6h0m5-10h0m10 0h0m49 8h0m9-10h0m56 1h0m6-1h0m-35 18h0m-44 11h0m-8-2h0m-46-13h0m0 11h0m-49-3h0m-23-1h0m-48 5h0m-2-1h0m-49-3h0m-12-3h0m-58 0h0m-14 8h0m-5-13h0m-19 10h0m13 10h0m6 2h0m39 6h0m22 2h0m41-3h0m7-2h0m14 4h0m3 1h0m44-2h0m13-8h0m55 6h0m25 2h0m8-11h0m20 11h0m21-2h0m51-3h0m25 15h0m-14 0h0m-12 9h0m0 0h0m-11-1h0m-77-11h0m-2 10h0m-3 1h0m-32-5h0m-12 4h0m-9-12h0m-4 1h0m-6 9h0m-22 0h0m-9-1h0m-56-2h0m-76 0h0m-6 2h0m-1 4h0m-22-5h0m-15-8h0m102 23h0m90-6h0m8 10h0m14-8h0m9 2h0m12 4h0m4 3h0m78-2h0m33 0h0m7-9h0m25-1h0m-14 15h0m-41 2h0m-2-1h0m-81 9h0m-5-4h0m-95 4h0m-34 3h0m-51-12h0m-15 8h0m-18-3h0m-2-3h0m-38 8h0m16 15h0m2-5h0m56 3h0m28-7h0m3 0h0m6 3h0m64 10h0m33-2h0m3-3h0m22 3h0m12-4h0m23-4h0m5 8h0m15-9h0m16 10h0m25 0h0m26-7h0m23 13h0m-5 10h0m-28 0h0m-9 1h0m-12-3h0m-1-4h0m-12 5h0m-38-7h0m-11 6h0m-19-3h0m-31-3h0m-38 7h0m-50-1h0m-10-4h0m-17 5h0m-8-7h0m-5-3h0m-5 10h0m-23-6h0m-31 4h0m-4-8h0m11 18h0m10-4h0m2 0h0m17 15h0m2-10h0m48 1h0m5 9h0m39-2h0m49-1h0m6 1h0m5-12h0m46 11h0m32-5h0m29 2h0m21-1h0m37-1h0m6 4h0m5-8h0m18 19h0m-13-4h0m-9 4h0m-20 0h0m-11-5h0m-54 10h0m-24 3h0m-56-7h0m-8-6h0m-16 13h0m-24-13h0m-3 12h0m-13-7h0m-16 1h0m-62 0h0m-5-5h0m-29 11h0m-34 2h0m-13 10h0m58-6h0m63 11h0m16-13h0m25 0h0m13 12h0m6-3h0m34-9h0m2 4h0m16-5h0m3 5h0m0 6h0m19-11h0m4 13h0m40-1h0m21-4h0m12-4h0m24 3h0m4-1h0m22 8h0m25-2h0m5-8h0m0 20h0m-59-7h0m-29-1h0m-7 9h0m-1-5h0m-15-3h0m-21 13h0m0-6h0m-29-7h0m-5 8h0m-18 6h0m-6-2h0m-81-11h0m-9 11h0m-4-3h0m-41-9h0m-40 1h0m-37 10h0m-8-10h0m9 23h0m4-7h0m19 11h0m10-6h0m67-2h0m38 10h0m46-6h0m22-1h0m18-6h0m7 13h0m16-12h0m2 6h0m52 0h0m29-4h0m21 0h0m26 7h0m12-10h0m0 22h0m-42 3h0m-8-6h0m-18 6h0m-60-11h0m-6 7h0m-3 6h0m-2-4h0m-16-6h0m-54 0h0m-40-1h0m-24 5h0m-23 3h0m-20 5h0m-23-2h0m-47-4h0m-4 1h0m-1-4h0m12 19h0m41-7h0m5-1h0m3 7h0m35 6h0m0 0h0m128 0h0m21-9h0m9-3h0m13 6h0m4-7h0m90 1h0m2-1h0m7-1h0m20 12h0m7-12h0m6 6h0m-12 13h0m-41-2h0m-1 4h0m-3 10h0m-38-5h0m-20 2h0m-44 3h0m-9-2h0m-7 2h0m-141 0h0m-21-8h0m-30 7h0m-20 6h0m48-2h0m24 8h0m8 0h0m25 0h0m11-3h0m78-7h0m3 11h0m9 1h0m38 3h0m2-5h0m5-9h0m24 12h0m3 1h0m3-2h0m11 2h0m25 0h0m5-3h0m1 1h0m18-7h0m17 20h0m-62-5h0m-9-1h0m-16 6h0m-31 2h0m-2-2h0m-49 3h0m-4-11h0m-42 3h0m-16 1h0m-52 10h0m-22-8h0m-54 2h0m-18-9h0m-4 11h0m-6 20h0m29-10h0m40 5h0m30-5h0m3 10h0m3-9h0m48 6h0m92-4h0m44-8h0m16 1h0m4 11h0m8-2h0m19-7h0m17 4h0m12 6h0m8-10h0m12 26h0m-71-8h0m-47 1h0m-33-4h0m-52 3h0m-162 18h0m49-6h0m47 9h0m16-3h0m1 6h0m17 1h0m74-13h0m0 7h0m9 1h0m4 1h0m0-6h0m10 10h0m12 1h0m14-6h0m16-8h0m45 0h0m8 13h0m32 7h0m-157-4h0m-4 0h0"/>
</g>
<g fill="#0000ff" stroke="#000" stroke-width="0.9"><circle cx="126.3" cy="290.6" r="2.6"/><circle cx="158.8" cy="300.5" r="2.6"/><circle cx="115.4" cy="307.2" r="2.6"/><circle cx="119.1" cy="312.8" r="2.6"/><circle cx="98.4" cy="312.2" r="2.6"/><circle cx="90.2" cy="317.3" r="2.6"/><circle cx="150.8" cy="312.4" r="2.6"/><circle cx="157.8" cy="314.2" r="2.6"/><circle cx="170.7" cy="320.0" r="2.6"/><circle cx="131.2" cy="322.4" r="2.6"/><circle cx="101.7" cy="326.1" r="2.6"/><circle cx="63.6" cy="332.8" r="2.6"/><circle cx="120.9" cy="332.8" r="2.6"/><circle cx="102.7" cy="336.3" r="2.6"/><circle cx="87.8" cy="342.5" r="2.6"/><circle cx="103.1" cy="349.6" r="2.6"/><circle cx="109.3" cy="349.0" r="2.6"/><circle cx="76.9" cy="369.5" r="2.6"/><circle cx="93.1" cy="371.1" r="2.6"/><circle cx="115.8" cy="364.6" r="2.6"/><circle cx="120.1" cy="364.0" r="2.6"/><circle cx="126.5" cy="370.5" r="2.6"/><circle cx="116.4" cy="376.3" r="2.6"/><circle cx="120.9" cy="373.8" r="2.6"/><circle cx="162.0" cy="329.5" r="2.6"/><circle cx="162.0" cy="334.8" r="2.6"/><circle cx="180.0" cy="334.4" r="2.6"/><circle cx="178.7" cy="337.2" r="2.6"/><circle cx="189.3" cy="329.0" r="2.6"/><circle cx="193.4" cy="333.9" r="2.6"/><circle cx="195.9" cy="338.0" r="2.6"/><circle cx="199.2" cy="326.6" r="2.6"/><circle cx="177.4" cy="352.8" r="2.6"/><circle cx="187.7" cy="353.6" r="2.6"/><circle cx="168.9" cy="354.4" r="2.6"/><circle cx="168.5" cy="360.2" r="2.6"/><circle cx="161.0" cy="358.5" r="2.6"/><circle cx="178.7" cy="362.9" r="2.6"/><circle cx="190.2" cy="369.2" r="2.6"/><circle cx="190.5" cy="377.7" r="2.6"/><circle cx="170.5" cy="375.4" r="2.6"/><circle cx="173.8" cy="378.5" r="2.6"/><circle cx="153.3" cy="376.6" r="2.6"/><circle cx="146.7" cy="369.2" r="2.6"/><circle cx="139.3" cy="379.0" r="2.6"/><circle cx="140.2" cy="384.8" r="2.6"/><circle cx="157.4" cy="389.2" r="2.6"/><circle cx="146.4" cy="397.0" r="2.6"/><circle cx="179.0" cy="398.4" r="2.6"/><circle cx="110.7" cy="388.9" r="2.6"/><circle cx="113.1" cy="390.2" r="2.6"/><circle cx="109.0" cy="390.8" r="2.6"/><circle cx="133.6" cy="364.3" r="2.6"/><circle cx="134.1" cy="367.5" r="2.6"/><circle cx="153.0" cy="332.0" r="2.6"/><circle cx="204.6" cy="334.4" r="2.6"/><circle cx="218.1" cy="334.4" r="2.6"/><circle cx="212.0" cy="337.4" r="2.6"/><circle cx="212.7" cy="341.1" r="2.6"/><circle cx="200.4" cy="357.5" r="2.6"/><circle cx="204.8" cy="370.8" r="2.6"/><circle cx="209.0" cy="374.5" r="2.6"/><circle cx="210.2" cy="377.5" r="2.6"/><circle cx="93.8" cy="383.9" r="2.6"/><circle cx="143.5" cy="406.1" r="2.6"/><circle cx="146.8" cy="339.6" r="2.6"/><circle cx="157.8" cy="333.2" r="2.6"/><circle cx="141.8" cy="349.6" r="2.6"/><circle cx="140.4" cy="350.7" r="2.6"/><circle cx="145.3" cy="333.9" r="2.6"/><circle cx="142.7" cy="339.0" r="2.6"/><circle cx="149.2" cy="333.4" r="2.6"/><circle cx="143.2" cy="340.4" r="2.6"/><circle cx="155.5" cy="356.5" r="2.6"/><circle cx="153.1" cy="348.7" r="2.6"/><circle cx="134.2" cy="350.0" r="2.6"/><circle cx="148.1" cy="344.4" r="2.6"/><circle cx="138.7" cy="341.2" r="2.6"/><circle cx="132.8" cy="345.6" r="2.6"/><circle cx="141.1" cy="350.0" r="2.6"/><circle cx="150.4" cy="343.6" r="2.6"/><circle cx="136.4" cy="335.3" r="2.6"/><circle cx="155.6" cy="339.3" r="2.6"/><circle cx="146.3" cy="337.8" r="2.6"/><circle cx="137.5" cy="347.0" r="2.6"/><circle cx="161.4" cy="351.6" r="2.6"/><circle cx="142.0" cy="336.4" r="2.6"/><circle cx="160.6" cy="354.7" r="2.6"/><circle cx="136.7" cy="347.8" r="2.6"/><circle cx="139.3" cy="339.2" r="2.6"/><circle cx="156.3" cy="337.0" r="2.6"/><circle cx="144.1" cy="352.4" r="2.6"/><circle cx="148.4" cy="337.5" r="2.6"/><circle cx="136.3" cy="334.0" r="2.6"/><circle cx="130.3" cy="347.3" r="2.6"/><circle cx="163.1" cy="338.9" r="2.6"/><circle cx="133.2" cy="335.6" r="2.6"/><circle cx="134.0" cy="344.8" r="2.6"/><circle cx="144.1" cy="342.0" r="2.6"/><circle cx="151.0" cy="353.1" r="2.6"/><circle cx="137.1" cy="338.7" r="2.6"/><circle cx="153.2" cy="337.8" r="2.6"/><circle cx="129.5" cy="340.4" r="2.6"/><circle cx="143.4" cy="343.0" r="2.6"/><circle cx="153.1" cy="345.5" r="2.6"/><circle cx="145.2" cy="351.5" r="2.6"/><circle cx="152.7" cy="334.7" r="2.6"/><circle cx="154.3" cy="345.5" r="2.6"/><circle cx="155.7" cy="349.3" r="2.6"/><circle cx="154.2" cy="341.3" r="2.6"/><circle cx="132.9" cy="342.1" r="2.6"/><circle cx="140.8" cy="344.3" r="2.6"/><circle cx="151.6" cy="339.4" r="2.6"/><circle cx="123.3" cy="346.8" r="2.6"/><circle cx="153.3" cy="343.3" r="2.6"/><circle cx="133.7" cy="345.6" r="2.6"/><circle cx="140.3" cy="337.5" r="2.6"/><circle cx="139.3" cy="347.3" r="2.6"/><circle cx="133.9" cy="337.4" r="2.6"/><circle cx="137.0" cy="343.8" r="2.6"/><circle cx="140.4" cy="348.9" r="2.6"/><circle cx="125.8" cy="352.3" r="2.6"/><circle cx="150.5" cy="342.4" r="2.6"/><circle cx="141.8" cy="347.9" r="2.6"/><circle cx="146.6" cy="351.2" r="2.6"/><circle cx="153.2" cy="346.8" r="2.6"/><circle cx="164.2" cy="336.8" r="2.6"/><circle cx="133.6" cy="349.9" r="2.6"/><circle cx="152.5" cy="337.7" r="2.6"/><circle cx="142.7" cy="353.2" r="2.6"/><circle cx="157.8" cy="356.1" r="2.6"/><circle cx="156.6" cy="334.5" r="2.6"/><circle cx="154.9" cy="345.9" r="2.6"/><circle cx="147.2" cy="340.0" r="2.6"/><circle cx="147.6" cy="339.4" r="2.6"/><circle cx="135.1" cy="359.7" r="2.6"/><circle cx="126.0" cy="354.3" r="2.6"/><circle cx="142.6" cy="337.1" r="2.6"/><circle cx="143.4" cy="351.4" r="2.6"/><circle cx="132.7" cy="347.1" r="2.6"/><circle cx="142.5" cy="351.6" r="2.6"/><circle cx="145.6" cy="351.6" r="2.6"/></g>
<g fill="#ffaa00" stroke="#000" stroke-width="0.9"><circle cx="156.9" cy="256.7" r="2.6"/><circle cx="179.2" cy="256.7" r="2.6"/><circle cx="187.5" cy="258.8" r="2.6"/><circle cx="196.0" cy="251.6" r="2.6"/><circle cx="207.8" cy="248.0" r="2.6"/><circle cx="240.3" cy="254.0" r="2.6"/><circle cx="257.9" cy="251.6" r="2.6"/><circle cx="213.2" cy="264.8" r="2.6"/><circle cx="208.7" cy="268.9" r="2.6"/><circle cx="192.6" cy="272.9" r="2.6"/><circle cx="198.4" cy="272.4" r="2.6"/><circle cx="202.3" cy="272.4" r="2.6"/><circle cx="208.1" cy="275.1" r="2.6"/><circle cx="212.8" cy="276.2" r="2.6"/><circle cx="222.6" cy="275.6" r="2.6"/><circle cx="226.7" cy="276.5" r="2.6"/><circle cx="233.9" cy="272.5" r="2.6"/><circle cx="238.4" cy="279.2" r="2.6"/><circle cx="183.0" cy="281.0" r="2.6"/><circle cx="171.7" cy="286.8" r="2.6"/><circle cx="172.6" cy="291.3" r="2.6"/><circle cx="189.4" cy="289.2" r="2.6"/><circle cx="187.0" cy="293.7" r="2.6"/><circle cx="200.5" cy="286.4" r="2.6"/><circle cx="204.2" cy="289.2" r="2.6"/><circle cx="213.2" cy="282.8" r="2.6"/><circle cx="219.5" cy="282.8" r="2.6"/><circle cx="222.2" cy="283.2" r="2.6"/><circle cx="218.6" cy="287.3" r="2.6"/><circle cx="217.7" cy="295.8" r="2.6"/><circle cx="207.4" cy="297.8" r="2.6"/><circle cx="230.9" cy="298.2" r="2.6"/><circle cx="226.2" cy="306.8" r="2.6"/><circle cx="245.1" cy="309.5" r="2.6"/><circle cx="157.6" cy="291.9" r="2.6"/><circle cx="194.8" cy="313.0" r="2.6"/><circle cx="212.3" cy="288.2" r="2.6"/><circle cx="214.0" cy="267.5" r="2.6"/></g>
<path d="M144.0 349.3L113.2 418.0L110.5 416.7L110.8 427.3L118.9 420.5L116.2 419.3L147.0 350.7Z" fill="#0000ff" stroke="#000" stroke-width="0.7" stroke-linejoin="miter"/>
<path d="M206.6 282.6L214.4 313.5L211.5 314.3L217.9 321.4L220.2 312.1L217.2 312.8L209.4 281.8Z" fill="#ffa500" stroke="#000" stroke-width="0.7" stroke-linejoin="miter"/>
</g>
<g clip-path="url(#c5)">
<g transform="scale(0.5)" stroke="#000" stroke-width="3.20" stroke-linecap="round" fill="none" stroke-opacity="0.42">
<path d="M1282 479h0m-125-6h0m-265-4h0m-28-5h0m-66 16h0m74 15h0m114 0h0m247 9h0m-243 4h0m-55-2h0m-40-7h0m-18 17h0m21 8h0m25 0h0m29 2h0m76-7h0m149 0h0m131 17h0m-45 1h0m-40 1h0m-35 4h0m-31-11h0m-101 6h0m-45 2h0m-69-3h0m-28-3h0m-7 5h0m-67 1h0m-38-1h0m106 11h0m33 7h0m209 0h0m8-12h0m138 15h0m9-3h0m-31 4h0m-60 7h0m-21 6h0m-28-7h0m-6 9h0m-176-3h0m-9-7h0m-33 3h0m-11-6h0m-12-1h0m-126 2h0m88 27h0m17-11h0m26-3h0m23 14h0m10-1h0m159 2h0m83-8h0m38 0h0m52 2h0m11 14h0m-1 6h0m-1-6h0m-21-2h0m-53 9h0m-22-13h0m-72 4h0m-85 8h0m-21-11h0m-9-2h0m-3 11h0m-28-6h0m-5 3h0m-10-2h0m-2-3h0m-4-1h0m-15 2h0m-7 8h0m0-9h0m-5 8h0m-11 0h0m-106 15h0m102-2h0m53-4h0m13 6h0m14 1h0m21-1h0m18-7h0m48-1h0m23 7h0m11-1h0m8-6h0m61 0h0m63 8h0m10-1h0m0-9h0m16 4h0m-46 23h0m-4-7h0m-2 2h0m-39 8h0m-67-13h0m-95 3h0m-49 4h0m-5 2h0m-21 2h0m0-12h0m-3 8h0m-3 6h0m-8-1h0m-32-9h0m-14 7h0m-23 16h0m28-11h0m7 0h0m42 0h0m12 10h0m2 0h0m1-9h0m12 4h0m16 6h0m6-3h0m1-2h0m7 0h0m118 0h0m5 3h0m41 3h0m0-11h0m3 11h0m35-4h0m0-8h0m8 10h0m3-2h0m12 6h0m2-11h0m29-3h0m11 6h0m19 0h0m0 6h0m15-5h0m-28 9h0m-20 14h0m-7-1h0m-1-6h0m-4 3h0m-8-9h0m-32 9h0m-58 2h0m-5-2h0m-50 0h0m-1-10h0m-73 8h0m-7 6h0m-9-1h0m-3-10h0m-3-2h0m-7 3h0m-7 11h0m-1-14h0m-2 12h0m-1-3h0m-2-3h0m-15 1h0m-3 3h0m-2-7h0m-21 6h0m-24-6h0m-17 2h0m-65 18h0m107-6h0m24-2h0m11 5h0m8 5h0m4 3h0m1-4h0m4-7h0m3 11h0m14 1h0m6-3h0m6-6h0m13 3h0m55 6h0m20 0h0m45-9h0m6-2h0m28 7h0m1 4h0m9-2h0m9 2h0m3-4h0m14 5h0m8-11h0m34 7h0m2-11h0m21 9h0m19-5h0m-3 16h0m-37 3h0m-6 2h0m-17 5h0m-11-5h0m-4-2h0m-14 5h0m-28 2h0m-106 0h0m-29-8h0m-8-5h0m-17 8h0m-6 4h0m-11-1h0m-4 1h0m-11-13h0m-2 5h0m-8 1h0m-2 0h0m-2 4h0m-1 5h0m-1-14h0m-40 14h0m-3-3h0m-1-2h0m-8 4h0m-12-11h0m-15 9h0m-13-2h0m60 6h0m9 6h0m19 8h0m1-8h0m7-1h0m13 0h0m16-5h0m3 3h0m7 8h0m1 4h0m9-13h0m0 11h0m3-7h0m8 4h0m1-5h0m3-2h0m1 7h0m15-10h0m0 9h0m0-3h0m9-1h0m1 0h0m6 10h0m13-8h0m52-4h0m68 11h0m42-2h0m36 2h0m2-9h0m8-5h0m4 14h0m1 0h0m5 6h0m-11-2h0m-66 6h0m-5-4h0m-38 3h0m-10 4h0m-43-5h0m-2 9h0m-60 0h0m-9-9h0m-5 6h0m0-7h0m-7 8h0m-27-6h0m-4 7h0m0-13h0m-1 10h0m-5-9h0m-1-2h0m-4 9h0m-1-9h0m-1 11h0m-3-5h0m-3 9h0m-60-14h0m0 4h0m-3 10h0m-33-4h0m-7 0h0m-8 19h0m6-11h0m29 7h0m8 5h0m38-10h0m8-2h0m13 2h0m3-4h0m15 3h0m3 0h0m2 0h0m2-4h0m3 0h0m9 14h0m1-6h0m0 6h0m1-7h0m6-7h0m5 15h0m0-13h0m5 9h0m0-2h0m3-5h0m1 3h0m5 7h0m1-3h0m1-5h0m4 0h0m7-2h0m1 3h0m1-4h0m0 11h0m2-6h0m18 6h0m3-12h0m2-1h0m2 11h0m0 2h0m1-1h0m1-5h0m14-1h0m9 3h0m54-10h0m21 12h0m9-3h0m26-5h0m23-2h0m38 25h0m-17-7h0m-27 4h0m-26-4h0m-24 7h0m-41-4h0m-9 2h0m-2-9h0m-19 14h0m-1-14h0m-1 15h0m-22-11h0m-1 10h0m-16-4h0m-3 0h0m-1-8h0m-1-1h0m0 12h0m-12-1h0m0-3h0m-10-6h0m-3 2h0m-1-5h0m-1 0h0m-2 7h0m-6 8h0m-3-10h0m-2 1h0m-1-4h0m-1 7h0m0-6h0m-1 3h0m-2-1h0m-8 7h0m0 3h0m-1-1h0m-2-11h0m-6 11h0m-8-4h0m0 1h0m-2-7h0m-8-4h0m-6 10h0m-1-9h0m-1 7h0m0-6h0m0 7h0m-1 5h0m-3-13h0m-11 2h0m-3 3h0m-11 9h0m-38 0h0m-36-4h0m-87 1h0m14 4h0m63 7h0m46-2h0m24 2h0m24-2h0m6-4h0m8-1h0m1 8h0m5 6h0m21-8h0m1 7h0m1-7h0m4-4h0m2 13h0m11-3h0m3-4h0m1-1h0m1 4h0m2 4h0m3-11h0m1 10h0m6-4h0m6-10h0m6 10h0m1-4h0m1-5h0m1 7h0m0-4h0m0 10h0m6-11h0m0 5h0m0-4h0m3 3h0m1-6h0m2 13h0m2-4h0m1-6h0m1 6h0m2-6h0m0 8h0m4 2h0m4-1h0m0 1h0m2-1h0m1 1h0m2-10h0m7 1h0m8 8h0m5-11h0m0 8h0m3-3h0m2 1h0m20-6h0m53 12h0m26-8h0m31 2h0m49 2h0m6-1h0m-48 14h0m-7 2h0m-21 6h0m-2-13h0m-15 3h0m-16 3h0m-10 0h0m-14 1h0m-14-5h0m-11 4h0m-8-4h0m0-3h0m-6 10h0m-1-2h0m-1-4h0m-4 10h0m-2-7h0m-7 1h0m-1-4h0m-1 0h0m-5 4h0m-1-3h0m-1 8h0m-3-13h0m0 13h0m-1-11h0m0 1h0m-7 4h0m-4-8h0m0 11h0m-8-7h0m-5-4h0m-5 13h0m-3-12h0m-1 3h0m0-4h0m-1 12h0m0-1h0m-3-8h0m-1 2h0m0 1h0m-1 0h0m-1-5h0m0 0h0m-2 9h0m0-8h0m-2 12h0m0-1h0m-4 0h0m-2 1h0m-1-2h0m-1 2h0m-3-13h0m-2 0h0m-1 7h0m-1-6h0m-3 12h0m-5-8h0m-1 4h0m-1-4h0m-8-1h0m-2-5h0m-1 4h0m-3-3h0m0 6h0m-5-4h0m-8 12h0m-1-14h0m0 7h0m-7 3h0m-2-8h0m-2 0h0m0-2h0m-2 8h0m-12 5h0m-2 1h0m-18-13h0m-35 9h0m-67-5h0m65 11h0m11 4h0m5 6h0m23-6h0m1 9h0m19-10h0m22-4h0m10 2h0m2 5h0m2 1h0m1-3h0m7-1h0m8 1h0m0 9h0m3-3h0m5-7h0m2 1h0m1 8h0m5 0h0m3-5h0m0 5h0m3-6h0m2 3h0m0 3h0m1-5h0m2 5h0m1-9h0m0-3h0m1 9h0m1 1h0m1 0h0m1-5h0m2 9h0m1-5h0m1-8h0m1 4h0m0-5h0m2 8h0m0 1h0m4-10h0m0 11h0m1-1h0m1 2h0m2-3h0m0-7h0m2 3h0m2 1h0m2 4h0m0 2h0m3 3h0m1-6h0m0-5h0m1 6h0m0-3h0m4-2h0m1 7h0m0 3h0m3-8h0m3 5h0m0-7h0m0 0h0m5 8h0m2-4h0m0-2h0m1 4h0m0-2h0m3-8h0m4 1h0m1 3h0m0 9h0m2-10h0m3 2h0m2-2h0m1 11h0m2-15h0m6 5h0m2 8h0m2 2h0m0-1h0m9-5h0m1-6h0m0 2h0m1-3h0m5 7h0m5 4h0m7-10h0m11-2h0m11 3h0m42 8h0m24-12h0m4 9h0m10-2h0m6 22h0m-19-10h0m-26 1h0m-33 0h0m-1 3h0m-2-7h0m-4 4h0m-5 9h0m-4-1h0m-2-3h0m0-2h0m0 2h0m-2-1h0m0-8h0m-2 3h0m-6 12h0m-1 0h0m-10-8h0m-2-6h0m-5 6h0m-1-4h0m0 10h0m-1-4h0m-3 2h0m-2-7h0m-1 1h0m0 6h0m-1 4h0m-1-13h0m-5 8h0m-3 2h0m-2-5h0m-1 4h0m-2-5h0m-2 9h0m-4-10h0m-1 3h0m-3 6h0m-2-8h0m-2 6h0m-4 1h0m0-10h0m-4 8h0m0-1h0m-1-4h0m-1-4h0m-2-2h0m0 7h0m0-7h0m-1 12h0m0 2h0m-1-12h0m-2 9h0m0 4h0m-4-7h0m-1-8h0m0 10h0m-3 5h0m-1 0h0m0-13h0m-3 2h0m-5 1h0m-1-2h0m0 12h0m0-9h0m0 2h0m0 6h0m-1 1h0m-2-2h0m-1-9h0m-2 1h0m0 0h0m-3 6h0m-3-8h0m-1 8h0m-1-6h0m0 8h0m-1-6h0m0-4h0m-2 5h0m-1 4h0m0 3h0m-2-4h0m-1-5h0m0 3h0m-2-3h0m-2-2h0m-4 10h0m-1 1h0m-1-14h0m0 10h0m-4-5h0m-1 4h0m-2 0h0m-2-1h0m-4 5h0m-5-13h0m-8 0h0m-1 8h0m-7 6h0m-11-12h0m-3 12h0m-2-9h0m-1 6h0m-3 1h0m-3-8h0m-1 0h0m-23 3h0m-32-4h0m-5 8h0m-10 3h0m-21-15h0m-11 10h0m-73 3h0m70 8h0m4-4h0m9 9h0m16 0h0m33-9h0m48 13h0m19-10h0m2 8h0m0 1h0m4-7h0m1 0h0m0-6h0m6 12h0m4-3h0m0 3h0m5-3h0m0 3h0m1-11h0m1 4h0m1 8h0m0-13h0m3 3h0m2 11h0m0-11h0m2-2h0m1 10h0m1-9h0m1 12h0m2-13h0m1 9h0m1-4h0m7 1h0m3-2h0m0 3h0m2-4h0m1 7h0m0-4h0m2 6h0m2-9h0m0 8h0m1-12h0m0 4h0m1-2h0m3 2h0m0 2h0m1 6h0m2 0h0m1 0h0m1-3h0m0 1h0m0-4h0m2-3h0m1 2h0m1 3h0m3-2h0m1 7h0m2-8h0m1 10h0m0-7h0m1-2h0m1-2h0m0 5h0m2 0h0m1 4h0m0 2h0m1-11h0m1-1h0m2 5h0m0-1h0m1 4h0m2-7h0m3 3h0m2-5h0m1-1h0m1 6h0m0-5h0m0-2h0m1 0h0m1 0h0m2 6h0m0 9h0m5-8h0m1-4h0m0 9h0m1 0h0m0-10h0m0 3h0m2 7h0m0-11h0m0 3h0m5 2h0m0-2h0m0 2h0m1-1h0m0-3h0m1 1h0m0 2h0m1-5h0m0 12h0m7 0h0m0 3h0m1-5h0m0 4h0m1-8h0m3-4h0m1 9h0m0-1h0m0-5h0m2 0h0m0 2h0m3 7h0m2-7h0m0-4h0m1-1h0m1 6h0m3-6h0m2-1h0m2 5h0m0-5h0m7 10h0m7-4h0m0 2h0m0 2h0m5 0h0m10 1h0m3-9h0m1 11h0m1 0h0m5-7h0m4-3h0m4 10h0m5-10h0m18 5h0m3-7h0m14 4h0m5 3h0m29-4h0m5-4h0m3 10h0m2-1h0m-8 20h0m-9-9h0m-23-4h0m-2 14h0m-3-9h0m-2 0h0m-14-1h0m-1 4h0m-3-2h0m-7 1h0m0 4h0m-1 2h0m-2-11h0m0 8h0m-2 1h0m-3-8h0m-6 9h0m-2-1h0m-6-9h0m0 8h0m-1-8h0m0 1h0m0 5h0m-3-6h0m-1 1h0m-3 2h0m-3 6h0m0-6h0m-2 6h0m-2 0h0m-1 3h0m-2-7h0m-4-6h0m-8 12h0m-2 0h0m-2-8h0m-1-6h0m-1 7h0m-1 3h0m-1-1h0m0-9h0m-1 6h0m-1-2h0m-1 3h0m-1 8h0m-1-4h0m-1 3h0m-3-12h0m0 5h0m-1 5h0m-1-12h0m-1 6h0m0-3h0m0-2h0m-2 14h0m0-4h0m-1-7h0m0 3h0m-1 4h0m-2 0h0m0 1h0m-1 2h0m0-9h0m-2 7h0m0-4h0m-3 1h0m-1-5h0m-1 5h0m-1 1h0m-1-1h0m0 5h0m0-4h0m0 5h0m0-2h0m-1 2h0m-3-14h0m0 11h0m0-10h0m-1 8h0m0-8h0m-1 7h0m-1 3h0m0-5h0m-1-1h0m0 2h0m-1 0h0m-2-4h0m0-1h0m-1 1h0m0-2h0m-1 10h0m0-4h0m-2 7h0m-1-2h0m-1-13h0m-2 14h0m-1-10h0m0 4h0m-1-3h0m-1 1h0m0 6h0m-1-6h0m-1 4h0m-3-7h0m0 11h0m-1 0h0m-2-6h0m-1-4h0m-2 5h0m0 1h0m-1-8h0m0 12h0m0 1h0m-1-13h0m-1 4h0m-3 2h0m-1-2h0m0 4h0m-1 0h0m0-9h0m-1 3h0m-1 9h0m0 2h0m0-5h0m-2-8h0m-1 4h0m-1-6h0m0 14h0m0-13h0m0 1h0m-1 10h0m0-9h0m-1-2h0m-1-1h0m-4 14h0m-2-8h0m0-5h0m-2 9h0m0 3h0m-1-3h0m-1 2h0m0-2h0m0-3h0m-2-2h0m-2-5h0m0 0h0m0 7h0m-1 3h0m-1-6h0m-5 5h0m-1-6h0m-1-1h0m-1 8h0m-4-10h0m0 11h0m-5-2h0m0-7h0m-2 13h0m-4-14h0m-2 1h0m-1 9h0m-5-9h0m-1 0h0m-8 8h0m-1-7h0m-2 8h0m-5 3h0m0-5h0m-1-8h0m-4 1h0m-8 2h0m-8 3h0m-16 5h0m-54-7h0m-3 1h0m-9 2h0m-10 4h0m-26 1h0m-39-9h0m-42 10h0m28 2h0m87 5h0m1 7h0m65-12h0m4 13h0m2-9h0m4 5h0m17 6h0m17-15h0m17 3h0m2 12h0m2-10h0m0 4h0m1 2h0m1 3h0m4-9h0m2-3h0m3 13h0m3-1h0m2-1h0m3-12h0m1 10h0m0-9h0m1 11h0m1-8h0m2 10h0m3-9h0m3-6h0m4 6h0m2-3h0m2 2h0m1 4h0m0-7h0m1 7h0m0 5h0m5-5h0m0 5h0m0-10h0m1-2h0m0 13h0m0-1h0m1-8h0m1 3h0m0 4h0m1-12h0m1 4h0m0 6h0m1-9h0m2-1h0m0 13h0m1-12h0m0 0h0m1 6h0m2 7h0m0-1h0m0-14h0m0 2h0m1 0h0m0 6h0m0-1h0m0 3h0m2 0h0m1-4h0m1 1h0m0-3h0m0 5h0m1-1h0m1-2h0m1 5h0m1-5h0m1-5h0m1 12h0m0-6h0m0-7h0m1 0h0m0 10h0m2 1h0m0 0h0m1-8h0m1 0h0m0 2h0m1 8h0m0-10h0m0 2h0m0 8h0m1 1h0m0 1h0m0-13h0m1 10h0m1-11h0m1 4h0m3-2h0m0 1h0m1-1h0m0 7h0m2-9h0m1 9h0m0-7h0m2 5h0m0-7h0m1 2h0m1 7h0m1-7h0m0 9h0m0-1h0m0-1h0m1 1h0m1-7h0m0 6h0m2-5h0m1-1h0m0 2h0m3-5h0m0 14h0m0-12h0m1 12h0m1-8h0m0 5h0m0-10h0m1 12h0m1-2h0m0-1h0m1-1h0m0-8h0m0 8h0m1-7h0m1 1h0m0 9h0m0-2h0m1-8h0m1 2h0m1-2h0m1 7h0m1-8h0m0 12h0m1-5h0m0-8h0m0 3h0m1 1h0m1 9h0m0-2h0m2-9h0m1 4h0m0 0h0m2-1h0m1-5h0m0 10h0m1-8h0m1-2h0m0 10h0m1-3h0m1 5h0m2 2h0m0-8h0m1-7h0m0 6h0m0 8h0m0 1h0m0-6h0m1-6h0m0 7h0m1 0h0m1-4h0m0 6h0m0-3h0m3 5h0m0-9h0m1 3h0m0-5h0m1 1h0m1 11h0m0-8h0m1 2h0m0 1h0m1 1h0m1 1h0m0-7h0m0-1h0m0 2h0m1 9h0m0-8h0m0 1h0m2 2h0m1-10h0m1 12h0m1 0h0m1-11h0m2 6h0m0-7h0m1 6h0m0 3h0m0-2h0m1 2h0m0-5h0m2 6h0m1 2h0m1-10h0m1 11h0m0-3h0m0-2h0m4-1h0m4 2h0m9-8h0m3 11h0m3-11h0m1 4h0m1-2h0m0 9h0m0 3h0m1-8h0m1 7h0m4-10h0m1 3h0m4 3h0m2-8h0m2 8h0m0 0h0m11 0h0m4-6h0m3 0h0m0 4h0m6 4h0m4-5h0m2 7h0m7 5h0m-3-3h0m-5 0h0m-8 0h0m-2 5h0m-4 0h0m-4-4h0m-1 1h0m-8 0h0m-1-2h0m-1 4h0m-4-3h0m-18 3h0m-2 2h0m-3-2h0m-5 2h0m0-1h0m-4-3h0m-2 4h0m-2-2h0m-3-2h0m-2 3h0m-1 0h0m-7-2h0m-2 1h0m0 1h0m-1-1h0m0-1h0m-1-3h0m-1 6h0m-1-5h0m-2 2h0m-4 1h0m0 0h0m-1 0h0m0 1h0m0-5h0m-3 2h0m-1 0h0m-1-1h0m0 3h0m-2-3h0m0 2h0m-1 1h0m-1 2h0m-3-3h0m-1-1h0m-3-2h0m-1 5h0m0 1h0m-1-6h0m-2 2h0m-2 3h0m-1 1h0m-5 0h0m-4-6h0m-4 6h0m-2 0h0m-2-3h0m-1 0h0m-1 0h0m0 0h0m0 1h0m-4-2h0m-2-2h0m-3 2h0m-4-1h0m0 5h0m-2-6h0m-6 3h0m-1-3h0m-1 4h0m-1 0h0m0-1h0m-3-1h0m-3 4h0m-1-3h0m-6 3h0m-1-5h0m-2 4h0m0-1h0m-2 2h0m0-1h0m0-5h0m-1 1h0m-1-1h0m0 2h0m-4 4h0m-3-5h0m-1 2h0m-4 0h0m-2 1h0m-1 1h0m-4-3h0m-5 4h0m-15-4h0m-2 3h0m-3-4h0m-1 1h0m-8-1h0m-21 2h0m-11 0h0m-31 0h0m-77-2h0"/>
<path d="M1252 472h0m-323-6h0m-86 8h0m-5-3h0m51 14h0m28 8h0m12-2h0m209-2h0m5 4h0m49 5h0m-44 3h0m-227 3h0m-30-4h0m-47 11h0m36 2h0m17-1h0m289 10h0m26 2h0m0 1h0m56 11h0m-11 6h0m-350 1h0m-103-10h0m105 12h0m21 5h0m2-1h0m38 9h0m2 0h0m150-11h0m31 3h0m15 3h0m111-2h0m-44 24h0m-78-9h0m-13 4h0m-24-2h0m-168-5h0m-35 10h0m-50-12h0m-56 3h0m112 25h0m6 0h0m0-1h0m7-11h0m21 12h0m23-11h0m2 8h0m165 4h0m2-4h0m57-10h0m13 15h0m6-12h0m3 8h0m17-5h0m12 6h0m22-3h0m29 16h0m-17 6h0m-17-6h0m-47 1h0m-36-3h0m-59 7h0m-152-11h0m-9 4h0m-4 4h0m-14-8h0m-8-3h0m-5 13h0m-27 0h0m-20-8h0m29 25h0m4-9h0m63-4h0m88 2h0m80 8h0m18-4h0m24 0h0m48 7h0m11-7h0m39 0h0m7 14h0m-38 10h0m-23-9h0m-6 4h0m-31-1h0m-2-7h0m-10 12h0m-11-10h0m-62 3h0m-141-7h0m-5 11h0m-3-1h0m-12-8h0m-2 5h0m-32-7h0m-3 13h0m-8 9h0m4-2h0m30 11h0m12-2h0m5-6h0m9 4h0m3-9h0m3 9h0m9 0h0m4-7h0m6 10h0m7-5h0m73 3h0m51-5h0m8 8h0m3-15h0m55 3h0m30-1h0m0 11h0m20-13h0m5 12h0m23-12h0m1 10h0m5-6h0m6 8h0m14 10h0m-22 1h0m-4 5h0m-45-5h0m-31 4h0m-27-10h0m-33 4h0m-4 2h0m-65 5h0m-13-8h0m-12 7h0m-39-6h0m-7 1h0m-26 9h0m-2-12h0m-4 6h0m-1-7h0m-6 13h0m-2-8h0m-1-5h0m-12 4h0m-20 4h0m-26 17h0m38 0h0m21-1h0m1 3h0m0 1h0m21-7h0m22 6h0m3-6h0m1 7h0m6-5h0m8 0h0m0-3h0m9 4h0m24-7h0m0-1h0m2 1h0m85-3h0m9 8h0m17 0h0m6-1h0m5-7h0m13 0h0m14 2h0m2 8h0m6-3h0m6 3h0m19 2h0m15-8h0m25 3h0m13-2h0m7-5h0m5 1h0m-10 17h0m-13 12h0m-1-7h0m-3 2h0m-22-8h0m-3 6h0m-17-4h0m-59 3h0m-84 0h0m-6 7h0m-60-7h0m-7 1h0m-23-3h0m-5-3h0m0 5h0m-1 2h0m-6-2h0m-6 9h0m-42-12h0m-27-1h0m-71 19h0m57-4h0m23 14h0m2-3h0m5-12h0m24 8h0m14 6h0m7-3h0m15-11h0m6 9h0m7-6h0m6 10h0m3-4h0m2 0h0m14-6h0m19 1h0m9 0h0m2-1h0m9 4h0m1 3h0m1-6h0m3 8h0m4-12h0m90 9h0m45-6h0m40 7h0m12 3h0m3-10h0m2 8h0m14-1h0m2 18h0m-6-10h0m-16 3h0m-8-5h0m-4 13h0m-21-6h0m-26 7h0m-16-13h0m-27-1h0m-32 10h0m-15 3h0m-23-12h0m0 10h0m-8 0h0m-15-4h0m-5 0h0m-4 7h0m-2-12h0m-1 3h0m-4-2h0m-2 5h0m-1 3h0m-1-1h0m-9 5h0m-1-15h0m-6 8h0m0-8h0m-1 12h0m-2-2h0m-1 2h0m-1 2h0m-2-13h0m-1 1h0m-3 7h0m-4-3h0m-6-4h0m-4 7h0m-14-3h0m0-2h0m-12 6h0m-69 1h0m-6-5h0m-98-6h0m-5 18h0m95-2h0m9 9h0m4 2h0m13-3h0m39-6h0m5-2h0m6 1h0m5 7h0m20-5h0m7-1h0m0 4h0m11 7h0m2-9h0m2-3h0m2-1h0m0 8h0m4-6h0m1 9h0m3 3h0m2-2h0m4-2h0m5 0h0m2-9h0m1 2h0m2 4h0m2 7h0m2 0h0m1-12h0m3 4h0m1-3h0m8 7h0m2 2h0m1-5h0m1-6h0m6 0h0m2 12h0m5-4h0m10 6h0m2-2h0m1-12h0m1 3h0m1 2h0m6 1h0m4 8h0m3-2h0m17-6h0m71 2h0m15 2h0m15 4h0m2-3h0m20 2h0m2-9h0m53-5h0m1 24h0m-4 7h0m-63-1h0m-33-7h0m-54-4h0m-3 9h0m-22 2h0m-11 1h0m-3 0h0m-4-2h0m-16-7h0m-2 2h0m-8 4h0m0 2h0m-1-12h0m0 4h0m-2 4h0m-2-3h0m-1 2h0m-1-2h0m-2 3h0m-6-5h0m0 9h0m-1-4h0m-2 5h0m-1 0h0m-1-6h0m-1 2h0m0-9h0m0 2h0m-1-4h0m-2 12h0m-2 1h0m-2-5h0m-2-3h0m-5 3h0m0 1h0m-2 0h0m-4-9h0m-11 11h0m-1 2h0m-1-5h0m-3-5h0m-2 8h0m-3-4h0m-1-2h0m-2 2h0m-3 3h0m-10-5h0m-3-1h0m-1 5h0m-1-3h0m-6-2h0m-2 5h0m-9-8h0m-2 4h0m-71 10h0m-6 1h0m3 8h0m16 0h0m27-6h0m37 0h0m0-2h0m12 7h0m6-1h0m4-6h0m8 5h0m0 1h0m1 8h0m3-7h0m1 2h0m0 2h0m1-3h0m7 3h0m1-3h0m2 6h0m0-6h0m2-1h0m2-6h0m12 8h0m1-7h0m3 7h0m3 1h0m1 0h0m1 1h0m4-6h0m1 0h0m0 3h0m7-2h0m0 4h0m3 3h0m3 2h0m1-2h0m6-8h0m3-3h0m2 2h0m1 4h0m1 6h0m1-8h0m2-2h0m1 0h0m1 0h0m2-4h0m5 1h0m3 12h0m1-7h0m12 9h0m13 0h0m1-5h0m7 5h0m1-8h0m0 8h0m6-10h0m0 8h0m2-5h0m5-6h0m4 7h0m30-4h0m49 8h0m11-3h0m48 21h0m-10-12h0m-16 7h0m-98-4h0m-15 9h0m-2-10h0m0 6h0m-2 2h0m-1-4h0m-3 5h0m-2 0h0m-1-7h0m-2-2h0m-1 6h0m-2 2h0m-2-10h0m-4 4h0m-4-3h0m-8 11h0m-1-2h0m-5-11h0m-4-1h0m-2 13h0m-2-4h0m-6-1h0m0-5h0m-2-3h0m0 12h0m-4 0h0m-1-12h0m-4 4h0m-1 9h0m-1 0h0m-1-3h0m0 3h0m-1-5h0m-3-1h0m-3 3h0m-4-7h0m-1 5h0m-1 4h0m0-3h0m-2 5h0m0-9h0m-1-3h0m-1-2h0m-2-1h0m-6 6h0m-1 4h0m-1-10h0m-2 4h0m-1 6h0m0 2h0m-1 3h0m-5-10h0m-6 5h0m-3-7h0m-2 8h0m-7-9h0m-2 9h0m-4 4h0m-7-12h0m-3 6h0m-26 5h0m-1-8h0m-4 0h0m-4 2h0m-52 7h0m0-11h0m-20-4h0m-14 2h0m0 0h0m37 17h0m43-2h0m15 5h0m20 5h0m10 2h0m1-5h0m11 1h0m0-9h0m4 3h0m2-1h0m2 11h0m1-6h0m1 4h0m8-1h0m1-2h0m2-3h0m1 0h0m3 8h0m1 2h0m1-9h0m1 8h0m4 0h0m0-13h0m2 7h0m1 7h0m1-5h0m1-1h0m0-2h0m1 1h0m1-8h0m1 0h0m1 13h0m0-6h0m1 0h0m5-1h0m4 4h0m1-6h0m0 4h0m0-6h0m1 8h0m0 4h0m2-8h0m0 1h0m1 3h0m0 1h0m0-4h0m0-1h0m1 8h0m3-3h0m0 1h0m0-4h0m1 0h0m0 3h0m1-9h0m2-2h0m3 4h0m0-4h0m6 12h0m1-7h0m0-1h0m4 0h0m1 10h0m1-7h0m0 8h0m1-3h0m0 2h0m0-10h0m1 7h0m2-4h0m6 2h0m1-1h0m1 7h0m3-6h0m3-1h0m2 1h0m2-1h0m4 7h0m1-2h0m0-5h0m2 3h0m1 2h0m5-6h0m2 2h0m11 6h0m6-7h0m2 7h0m1-5h0m12-2h0m1 6h0m6-7h0m107 2h0m20 1h0m0 7h0m-29 0h0m-11-1h0m-11 12h0m-12-9h0m-19 12h0m-1-12h0m-9 7h0m-3 0h0m-7 0h0m-2 2h0m-24-4h0m-4 5h0m-1-2h0m-8-4h0m0 2h0m0 6h0m-1-14h0m0 8h0m-3-6h0m-1 1h0m-2-2h0m-1 4h0m-1-2h0m0 10h0m0-8h0m-8 1h0m-1-7h0m-1 13h0m-2 2h0m0-4h0m0 0h0m-2-3h0m-1 3h0m-3-10h0m-1 11h0m-1-3h0m-3 4h0m-5 0h0m-2 0h0m-1-1h0m0 1h0m0-2h0m-10-3h0m0 7h0m0-9h0m-4 8h0m-3-8h0m0 6h0m-1 0h0m0-11h0m-1 1h0m-1 5h0m0-6h0m-2 10h0m0 4h0m-2-2h0m-2 1h0m-1-6h0m0 6h0m0-4h0m-1-8h0m-1 12h0m0-8h0m-1 2h0m-1-5h0m-2 7h0m-1-4h0m0 6h0m-1-1h0m0-5h0m-2-4h0m0 1h0m0 5h0m-1-7h0m0 2h0m0 10h0m-2-9h0m-1 11h0m-2-13h0m0 2h0m0 8h0m-2-2h0m-1-1h0m-1-8h0m-4 9h0m-1 3h0m-3-8h0m-1-5h0m-2 11h0m0-9h0m0-1h0m-7 8h0m-4-5h0m-1 9h0m0 2h0m-1-8h0m-1 1h0m-4 2h0m0-1h0m-1-5h0m0 2h0m-2 4h0m-1-7h0m-12 12h0m0-9h0m-1 5h0m0-1h0m-6 1h0m-2-11h0m-1 2h0m-3 1h0m0-1h0m-11 13h0m-16-6h0m-4-5h0m-45 6h0m-17-1h0m-13-7h0m-3-1h0m-8 13h0m-24-7h0m-70-2h0m100 18h0m9 2h0m0 2h0m36-6h0m1-2h0m29 1h0m12 5h0m7-5h0m3 4h0m1-7h0m2 8h0m2 4h0m7-9h0m15 0h0m2-2h0m3 2h0m3-1h0m0 9h0m2-7h0m0 7h0m1-6h0m5-1h0m0 5h0m2 5h0m2-4h0m2-11h0m5 11h0m5-4h0m1-6h0m2 0h0m3 4h0m2 4h0m1-3h0m1 5h0m0-10h0m1 12h0m5-4h0m1-6h0m0-1h0m1 3h0m1 2h0m0 3h0m1-4h0m0-1h0m1 8h0m5-3h0m3 3h0m2-12h0m1 1h0m0 6h0m1 2h0m0 0h0m1-8h0m0 7h0m1-7h0m0 2h0m1 9h0m0-5h0m1-3h0m1 7h0m1-4h0m0 5h0m2-6h0m1 7h0m1-2h0m0-1h0m1-6h0m0-4h0m4 12h0m1-1h0m1-10h0m0 1h0m1-3h0m1 15h0m0-1h0m1-10h0m1 11h0m1-1h0m1-9h0m1 7h0m0-11h0m0 13h0m1-2h0m0-8h0m0 10h0m1-12h0m0 8h0m1-2h0m4 3h0m1 3h0m0-8h0m0 8h0m1-5h0m0 0h0m0-5h0m2-2h0m0 8h0m1-3h0m2 8h0m0-3h0m1-3h0m5 2h0m2-2h0m3-4h0m0 1h0m2-1h0m1-3h0m1 7h0m0 3h0m2-11h0m0 13h0m2-6h0m5 5h0m1-8h0m1 2h0m2 2h0m0-5h0m3 1h0m6 9h0m7-10h0m4 9h0m2-2h0m2-7h0m0 0h0m1 9h0m2-1h0m1 0h0m1-12h0m1 6h0m4 6h0m3-10h0m1 4h0m0 1h0m6-3h0m7 3h0m1-7h0m3 3h0m5-1h0m9 9h0m3-2h0m49 0h0m9-5h0m3 10h0m3-14h0m-23 28h0m-18 2h0m-10 1h0m-6-2h0m-1 2h0m-7 0h0m-6-14h0m0 2h0m-1 1h0m-2-3h0m-5 14h0m-4-7h0m-1-8h0m-3 11h0m-1 3h0m-2-4h0m-1-6h0m-8 1h0m-2 10h0m-2-9h0m-2-5h0m0 10h0m-2-3h0m-1 2h0m0-2h0m-2-3h0m0 0h0m-2 2h0m-1 1h0m0-6h0m-1 7h0m0-1h0m-1 5h0m-3 2h0m-1-7h0m0-4h0m-3-4h0m-2 15h0m-5 0h0m-1-10h0m-1 9h0m0-6h0m-1-2h0m0 3h0m-3-6h0m0 9h0m-1-9h0m-1 2h0m0 3h0m-1-4h0m0-4h0m-2 10h0m-1 1h0m0-10h0m0 10h0m0-5h0m-1 4h0m-2-10h0m0 13h0m-1 0h0m0-1h0m-2 0h0m-4-11h0m0 8h0m0 5h0m-1-2h0m-1-3h0m-1-8h0m-1 13h0m0-11h0m0-1h0m-1 9h0m-1 3h0m-1 0h0m-1-3h0m-1-8h0m-1 3h0m-1 5h0m-1-3h0m-1-2h0m0-6h0m-1 8h0m-1-6h0m0-1h0m0 7h0m-1 3h0m-1 3h0m0-5h0m0 2h0m0 2h0m-2-6h0m0-7h0m-1 6h0m-2 5h0m0-11h0m-1 7h0m0-7h0m-3 6h0m-1 4h0m-1 1h0m0 1h0m-1 2h0m-2-4h0m-1 2h0m0 0h0m-1-11h0m-2 0h0m-1 10h0m0-6h0m-1 8h0m-1-9h0m-1 3h0m0 5h0m-1 1h0m-1-7h0m-2 2h0m0-4h0m0 7h0m0-5h0m-2-6h0m-1 9h0m0 6h0m-1-1h0m0-10h0m-1 3h0m0 8h0m-2-13h0m0 12h0m-1-10h0m0-4h0m0 11h0m-1 2h0m-1 1h0m-3-14h0m0 1h0m-1-1h0m0 12h0m0-6h0m0 6h0m-2-9h0m0 8h0m-1-1h0m0 5h0m-1-4h0m-1 3h0m-2 1h0m-4-3h0m-5-9h0m-1 1h0m0 6h0m-2 5h0m-3-4h0m-3 4h0m-1-7h0m-1 2h0m-1 0h0m-2-9h0m0 9h0m0-8h0m-3 5h0m-4 2h0m-2 6h0m-1-3h0m0-11h0m-1 5h0m-6 7h0m-1-11h0m-10 1h0m-6 11h0m-2-1h0m-7 0h0m-6-10h0m-3 7h0m0 0h0m-8-7h0m-9 5h0m-21-2h0m-57 0h0m-36 0h0m25 17h0m52-6h0m39 4h0m10 1h0m6 3h0m2-3h0m1 8h0m1-14h0m8 13h0m1 2h0m0-2h0m5-12h0m1 6h0m6 2h0m7-6h0m2 10h0m1 2h0m4-8h0m2-4h0m0-2h0m3 7h0m0-5h0m1 7h0m1-5h0m4-3h0m1-1h0m0 3h0m2 7h0m1 0h0m6-4h0m0-2h0m0 6h0m1 3h0m1-5h0m7-6h0m0 11h0m0 0h0m1-10h0m3-4h0m0 7h0m3 6h0m0-6h0m2 2h0m2-1h0m0-6h0m2 13h0m0-1h0m0 0h0m0 1h0m0-10h0m2 0h0m2-4h0m1 9h0m0-7h0m1 0h0m0 8h0m1-3h0m1 3h0m1-11h0m0 5h0m1 4h0m2-5h0m1 8h0m0-10h0m0 10h0m2-12h0m0 2h0m1 12h0m1-8h0m0 7h0m1-10h0m0-2h0m1 14h0m1 0h0m0-11h0m0-4h0m0 10h0m1-10h0m1 12h0m0 3h0m3-9h0m0-5h0m2 14h0m1-7h0m0 4h0m1 2h0m1-10h0m0 1h0m2-1h0m0-3h0m2 7h0m0-7h0m1 11h0m0 1h0m0-6h0m2 0h0m1 4h0m1 4h0m0-7h0m1-8h0m0 10h0m2-1h0m1 6h0m0-12h0m0 6h0m0 2h0m1-1h0m1 3h0m1 2h0m0-11h0m0 8h0m1-9h0m0 3h0m0 1h0m1 3h0m0-1h0m0-4h0m0-1h0m1 7h0m0-5h0m2 8h0m0-12h0m0 13h0m0-3h0m1-9h0m0 3h0m0-2h0m0 9h0m1 2h0m0-8h0m2 7h0m0-14h0m0 14h0m0-14h0m3 6h0m0-5h0m0 13h0m0-6h0m1-8h0m0 2h0m0-1h0m2 7h0m0 7h0m0-1h0m1-9h0m0 7h0m0-6h0m1 9h0m0-1h0m0-10h0m0 3h0m1 3h0m3 1h0m0 1h0m1 1h0m1-2h0m1-5h0m1-1h0m0 1h0m1-3h0m1 4h0m1-3h0m0 3h0m0-7h0m1 6h0m0 5h0m0 3h0m0 0h0m0-9h0m1-5h0m1 10h0m1-5h0m1 2h0m0 4h0m1-4h0m0 8h0m1-9h0m1 9h0m1-1h0m4-5h0m0 3h0m1-11h0m0 8h0m0-3h0m0 9h0m1-8h0m0 4h0m0-11h0m1 15h0m2-2h0m0 1h0m1 1h0m1 0h0m0-6h0m1-2h0m2-5h0m2 10h0m0-8h0m1 2h0m1 0h0m2 0h0m3 2h0m1 0h0m0-5h0m2 0h0m0 7h0m2 4h0m1-5h0m1 6h0m1-14h0m1-1h0m1 7h0m0 1h0m7 4h0m1-10h0m2 6h0m3 4h0m0-4h0m1 6h0m2 0h0m5-1h0m12-12h0m3 3h0m2 11h0m3-6h0m7 4h0m3-5h0m6 0h0m18-1h0m-21 9h0m-1 5h0m-3-3h0m-5 3h0m-8-4h0m-1-1h0m-4 4h0m-2-4h0m-9 1h0m-5 2h0m-10-2h0m-2 2h0m0-3h0m-1 4h0m-1-3h0m-5 5h0m-2-6h0m-1 1h0m-3-1h0m-1 2h0m-4-1h0m-1 0h0m0 4h0m-2-3h0m-4 3h0m-1-4h0m-5-1h0m0 6h0m-5-1h0m-3-4h0m0 4h0m-1-5h0m-2 2h0m0-1h0m-1 4h0m-4-4h0m-1 4h0m0-1h0m-2-2h0m-1 0h0m-1 4h0m0-2h0m-7-1h0m-2-3h0m-1 2h0m-2 2h0m0 1h0m-4-1h0m-1 1h0m-1 0h0m-1-3h0m-5-1h0m0 3h0m0-1h0m-1-1h0m-2 3h0m-4 0h0m0 0h0m-3-5h0m-7 4h0m-2-3h0m-1 2h0m-3-3h0m-1 2h0m-1-2h0m-4 3h0m-1-1h0m-2 2h0m-1 2h0m-1-2h0m-5-1h0m-1 0h0m-4-2h0m-1 3h0m-4-4h0m-5 5h0m0-3h0m-1 3h0m-1 1h0m-1-3h0m-1 3h0m-4-3h0m-5 1h0m-13-4h0m-2 3h0m-2 3h0m-1-6h0m-22 2h0m-2 2h0m-21 1h0m-4-1h0m-40 0h0m-62 1h0"/>
<path d="M1120 473h0m-196-2h0m-29-7h0m-86 7h0m-4 10h0m72 12h0m21-10h0m37 6h0m356 20h0m-9-9h0m-119-3h0m-28 5h0m-219 5h0m-13-1h0m-95 15h0m3-6h0m70 12h0m406-12h0m-14 17h0m-121 2h0m-18 9h0m-12-7h0m-25-8h0m-206 5h0m-97-4h0m148 20h0m5-2h0m185-2h0m42 12h0m14-9h0m26 0h0m89-3h0m-37 22h0m-22 3h0m-10-7h0m-74 10h0m-204-5h0m-31-6h0m-90 8h0m100 14h0m41-6h0m3 12h0m10 0h0m69-4h0m103-8h0m45-2h0m6 10h0m48-6h0m0 10h0m8-3h0m34-8h0m-10 17h0m-57 7h0m-21-10h0m-38 9h0m-24 1h0m-76-4h0m-49 1h0m-30 0h0m-19 4h0m-8-8h0m-23 1h0m-48 7h0m-33-1h0m-42-8h0m-4 14h0m97 5h0m11 9h0m16-5h0m3-8h0m18 7h0m8 5h0m19-4h0m8-5h0m49 7h0m13-8h0m87 9h0m11-12h0m12 1h0m18 4h0m39 7h0m24 0h0m51 0h0m-56 14h0m-14-11h0m-9 9h0m-6-2h0m-59-7h0m-10 2h0m-31 5h0m-119 7h0m-23-3h0m-17 3h0m-6-4h0m-1 3h0m-2-5h0m-10-3h0m-19 6h0m-82 18h0m71-3h0m18 2h0m21-6h0m12 2h0m1-4h0m10-3h0m2 13h0m5 0h0m14-10h0m1-4h0m11 15h0m19-15h0m14 10h0m24 4h0m17-11h0m54 6h0m5-3h0m8-2h0m14 0h0m10 9h0m14-3h0m18-7h0m1 6h0m18-3h0m27-3h0m1 10h0m12-5h0m1-7h0m9 5h0m12-2h0m5-2h0m9 15h0m-23 2h0m-17 0h0m-4 4h0m-2 6h0m-1-7h0m-5 2h0m-35 4h0m-3-2h0m-5-5h0m-4-1h0m-19 9h0m-40-1h0m-29-5h0m-75 7h0m-9-10h0m-6 7h0m-5-8h0m-5 10h0m-13-2h0m-5-3h0m-7-8h0m-10 6h0m-3 6h0m-2-8h0m-12-1h0m-19-1h0m-6 13h0m-27-2h0m-88-11h0m73 24h0m30 4h0m11-7h0m12-1h0m4 1h0m6-4h0m10 6h0m7-6h0m16-2h0m1 13h0m3-13h0m6 0h0m0 5h0m12 3h0m5-4h0m19 3h0m113 7h0m24-1h0m14-13h0m10 7h0m2-6h0m13 8h0m32-4h0m7-6h0m12 14h0m6-2h0m18-3h0m2 17h0m-10-9h0m-2 13h0m-74-4h0m-30-1h0m-21-9h0m-79 13h0m-20 0h0m-10-1h0m-5-7h0m-11 2h0m-4 2h0m-4-2h0m-4 6h0m-2-2h0m-5 4h0m-2-10h0m0-5h0m-21 14h0m-8-14h0m-16 5h0m-44 10h0m11 12h0m14-10h0m0 4h0m1 1h0m13 8h0m2-1h0m8-11h0m3 6h0m0 7h0m5-10h0m20-2h0m7-1h0m2-1h0m0 5h0m5 8h0m0-2h0m2-4h0m1 1h0m4-2h0m3-2h0m0 5h0m11-9h0m1 10h0m11 2h0m6-6h0m23 7h0m19-10h0m5 10h0m63 1h0m4-6h0m9 4h0m21-13h0m10 1h0m42 7h0m4-5h0m3 10h0m17-12h0m7 14h0m18-12h0m11-2h0m-45 23h0m-41 1h0m-22 3h0m-14-6h0m-2-3h0m-9 9h0m-20-4h0m-45-4h0m-10 3h0m-14-7h0m-5 6h0m-2 3h0m0-8h0m-24 7h0m-4 2h0m-4 0h0m-4-2h0m-4-5h0m-2 9h0m-5 0h0m-1 0h0m-4 3h0m-2-12h0m-5 12h0m-2-4h0m-1-8h0m-2 5h0m-2-8h0m-3 11h0m-15 2h0m-16-4h0m-48 2h0m-6-9h0m-49 2h0m-61 14h0m79 8h0m26-1h0m29 3h0m8 2h0m9-9h0m1 3h0m8 4h0m25-1h0m0-10h0m0 2h0m8 9h0m2 0h0m0-2h0m5-6h0m2 10h0m2-4h0m1-10h0m4 2h0m3 6h0m7 1h0m4-6h0m12 10h0m4-6h0m0-6h0m1 13h0m0-13h0m10 13h0m0-5h0m1-9h0m0 8h0m2-2h0m3 9h0m5-8h0m3 7h0m2-6h0m1 3h0m9-7h0m21-1h0m14 12h0m7 0h0m4-4h0m3-3h0m48-2h0m12 1h0m8 5h0m6-8h0m11 0h0m12 10h0m28-9h0m43 19h0m-10-4h0m-43 11h0m-13-9h0m-50 1h0m-15-6h0m-27 3h0m-26 10h0m-7-9h0m-2-3h0m-2 12h0m-1 0h0m-5 0h0m0 0h0m0-14h0m-3 7h0m-8-5h0m-1 13h0m-13-11h0m-2 8h0m-2-3h0m-1 2h0m-1-1h0m-2-6h0m-2 11h0m-1-15h0m-3 11h0m-2-11h0m-2 15h0m-5-4h0m-5-11h0m0 0h0m-2 0h0m-3 10h0m-1 1h0m-25-4h0m-1-1h0m-2 5h0m0-4h0m-3 7h0m-5-8h0m-8-6h0m-1 5h0m-89 4h0m-64 22h0m56-7h0m18 2h0m7-10h0m67 14h0m12-6h0m3-6h0m0 2h0m9 5h0m0 0h0m3-1h0m1 5h0m2-4h0m5-8h0m1 0h0m7 6h0m0 6h0m1 2h0m2-6h0m0-7h0m1 13h0m2-12h0m6 5h0m2-1h0m1-1h0m1 6h0m0-3h0m3 0h0m8-4h0m1 0h0m1-5h0m2 3h0m2 1h0m1-4h0m0 1h0m3 13h0m2-14h0m0 10h0m2-4h0m0-3h0m0 12h0m1-7h0m1-1h0m0-2h0m3 4h0m1-1h0m14-2h0m3 8h0m13 0h0m3-1h0m2 2h0m1-4h0m1 3h0m6-6h0m3-5h0m0 11h0m5-6h0m9 1h0m35 2h0m4 3h0m50-4h0m14-1h0m0-6h0m12 12h0m2-5h0m31-5h0m12 24h0m-50-13h0m-23 4h0m-36 10h0m-19-9h0m-8-2h0m-15 12h0m-24-2h0m-3-5h0m-5-2h0m0 9h0m-7-12h0m-4 4h0m-6 3h0m-1 4h0m-2 1h0m-1-10h0m0 4h0m-3-6h0m0 10h0m-2-12h0m-1 14h0m0-1h0m-5-12h0m-3 7h0m0-8h0m-1 2h0m-2 2h0m0 4h0m-1 0h0m-1-6h0m-1 4h0m0 1h0m0 0h0m-2-2h0m-1 2h0m-1-1h0m0 6h0m-1-4h0m-1 1h0m-1 0h0m-1 0h0m-2 4h0m-3-4h0m-1-4h0m0 7h0m-1-2h0m-1-6h0m-3-2h0m-5 2h0m-1 2h0m0 4h0m0 1h0m-2 0h0m-3-12h0m-1 11h0m-3-4h0m-5 5h0m-2-5h0m-4 8h0m-1-10h0m-2 9h0m-1-6h0m-1 3h0m-2-2h0m-3 0h0m-4-8h0m-10-1h0m-7 13h0m-8 0h0m-1 2h0m-7 0h0m-6-2h0m-7-4h0m-8 2h0m-45-7h0m-8 7h0m-1-1h0m-42 0h0m-7 17h0m33 2h0m41 1h0m7-2h0m18 1h0m35-10h0m9 12h0m2-3h0m2-12h0m0 2h0m1 12h0m3-13h0m1 4h0m11 0h0m1 4h0m0-2h0m3-2h0m6 8h0m3 1h0m2-14h0m0 12h0m7-3h0m1 5h0m2-8h0m1-3h0m0 5h0m1 2h0m1 0h0m4-10h0m1 6h0m1-2h0m2 7h0m1 1h0m1-2h0m1-7h0m3 2h0m1 7h0m0-5h0m1 7h0m1 0h0m1-4h0m1-7h0m1-2h0m1 7h0m1 4h0m2-6h0m1 9h0m1-13h0m1 7h0m0 2h0m3-11h0m0 2h0m1 4h0m2-2h0m0 0h0m1-4h0m0 13h0m2-8h0m3-3h0m2 10h0m0 0h0m2-1h0m1 0h0m2 0h0m2 0h0m1 1h0m1-12h0m0 1h0m1 5h0m4 3h0m2-2h0m1 8h0m3-3h0m1 3h0m1-12h0m2 7h0m2 4h0m1-3h0m0-7h0m1 6h0m2 3h0m2-10h0m3 10h0m0-13h0m1 8h0m1 1h0m3-2h0m0-4h0m2 11h0m3-10h0m1 8h0m1 1h0m5-7h0m0-5h0m0 9h0m2-2h0m6 4h0m1-4h0m2 6h0m3-7h0m2 3h0m2-1h0m1 6h0m6-9h0m11 4h0m14-3h0m2 6h0m7-1h0m2-5h0m50 6h0m38 0h0m-23 8h0m-12-5h0m-46 0h0m-12 14h0m-12-3h0m-1-6h0m-2-5h0m-7 13h0m-2-12h0m-8 9h0m0 2h0m-7-2h0m-2-3h0m-4 0h0m-3 8h0m-3-7h0m0 6h0m-1-2h0m0-11h0m-1 1h0m-1 10h0m-1-4h0m-2 1h0m-2 2h0m-2 0h0m-1 4h0m-1-2h0m-1-4h0m0 6h0m0-5h0m-3-6h0m0 8h0m-1-7h0m-1 2h0m-1 8h0m-1-9h0m-1 7h0m-2-10h0m0 5h0m-6 6h0m-1-6h0m0-1h0m-1 0h0m0 3h0m-1-5h0m0-4h0m-3 1h0m-1 8h0m0-6h0m-1 3h0m0 1h0m0 5h0m-2-4h0m0 6h0m-2-3h0m-1-5h0m-5-6h0m-1 12h0m-1 0h0m-3-6h0m-2-7h0m-1 8h0m-2 0h0m-1-1h0m-2 4h0m-4 1h0m-4-3h0m-3 3h0m0-8h0m0 11h0m-2-8h0m-1-2h0m-4-3h0m-2 7h0m-1 4h0m0-2h0m0-3h0m0-6h0m-3 8h0m-1-9h0m-2 4h0m-9 6h0m0 4h0m-3-6h0m-1-1h0m-2-3h0m-1 10h0m-1-2h0m-1-3h0m-1 4h0m-4-2h0m-7-12h0m0 4h0m-3 2h0m-9 2h0m-1-2h0m-10 4h0m-1-3h0m-2-6h0m-7 7h0m-5-1h0m-4-7h0m-2 0h0m-40 14h0m-36-5h0m-78-2h0m-35 13h0m82 1h0m3-5h0m21 3h0m4-3h0m10 14h0m3-14h0m5 13h0m17 1h0m16-7h0m8-5h0m13-1h0m22 2h0m6 3h0m3 1h0m8-2h0m1 1h0m1 0h0m2 5h0m0 3h0m2-11h0m1 8h0m5-7h0m2-3h0m4 8h0m2-2h0m1-7h0m4 2h0m4 3h0m2 10h0m0 0h0m5-11h0m3 11h0m1-4h0m2-9h0m2 1h0m2-1h0m2 7h0m2 1h0m0 2h0m0-5h0m0 8h0m3-14h0m1 3h0m1 2h0m2 9h0m0-9h0m1-2h0m1 8h0m0 3h0m0-4h0m3-1h0m0 5h0m1-15h0m1 3h0m1 12h0m0-4h0m1-8h0m2 1h0m0 1h0m1 2h0m2 0h0m3 7h0m1-1h0m1-2h0m1-7h0m1 5h0m0-6h0m2 4h0m1 3h0m1-7h0m1 0h0m1 0h0m1 6h0m1-2h0m3 4h0m4-8h0m0 1h0m3 0h0m2-2h0m3-2h0m1 8h0m1-2h0m1-6h0m0 8h0m2-1h0m1 4h0m2-6h0m0 3h0m0 7h0m1-3h0m1-11h0m1 12h0m2-1h0m0-9h0m3 5h0m0-6h0m0 12h0m4-10h0m1 10h0m1-2h0m0-7h0m4-1h0m2 4h0m1 7h0m1-7h0m0 4h0m1 2h0m0-2h0m2 1h0m1-4h0m1-6h0m0 5h0m1-1h0m2 2h0m0-8h0m4 8h0m3-3h0m1 2h0m1-8h0m0 1h0m2 5h0m3 5h0m4-4h0m0 7h0m3-13h0m0 13h0m2-5h0m1 0h0m0-9h0m1 12h0m3-5h0m2 3h0m1-6h0m3 2h0m2 8h0m3-13h0m8 4h0m3 5h0m5-3h0m1 7h0m5-8h0m9 5h0m7-2h0m0-2h0m69 22h0m-39 0h0m-6-2h0m-4-2h0m-1 1h0m-16-7h0m-8 4h0m-9 1h0m-3 4h0m-2-2h0m-1 4h0m-7 0h0m-2-14h0m-3 2h0m0 6h0m-4 3h0m-2-9h0m-6 1h0m-3 8h0m-2 1h0m-2-2h0m-1 2h0m0-2h0m-4-10h0m-5 3h0m-4 8h0m-1 0h0m0-3h0m0 0h0m-1-1h0m-1 1h0m-2-4h0m0 0h0m0 0h0m-1 6h0m-1-1h0m0-9h0m-1 15h0m-1-10h0m-6 7h0m-1-8h0m-1-2h0m-2 8h0m-2 2h0m0-10h0m-1 3h0m0 9h0m-1-5h0m0-9h0m-2 6h0m-1 7h0m-2-4h0m-1-4h0m0-3h0m-1 5h0m-1-3h0m-1 11h0m-1-6h0m0-8h0m0 12h0m0-13h0m-2 7h0m0 5h0m0 0h0m0 2h0m-1-6h0m-1-3h0m0-4h0m0 2h0m-1 12h0m-2-14h0m0 11h0m-2-10h0m0 0h0m-1-2h0m0 10h0m-2 0h0m-1 3h0m-1-1h0m0-8h0m-2 6h0m-1-10h0m-1 14h0m-1-8h0m-2 2h0m-3 0h0m-1 3h0m-1-11h0m0 13h0m0-12h0m-2 13h0m-1-8h0m0 9h0m0-8h0m0-2h0m-1-2h0m0 4h0m-1-6h0m-1 14h0m0-15h0m-2 14h0m-1-13h0m-2-1h0m-1 9h0m-1-2h0m-2 6h0m0 2h0m0 0h0m-3-5h0m-1-6h0m0 2h0m-1 1h0m-1 4h0m0-4h0m-1-4h0m0 12h0m-1-2h0m0-13h0m-1 3h0m0 2h0m-1 5h0m0-9h0m-5 2h0m-1 4h0m-6 3h0m0-10h0m-1 4h0m0-2h0m0-2h0m-1 5h0m0 7h0m-2-4h0m0 5h0m-6 0h0m0-5h0m-3 5h0m-2-1h0m-3-1h0m-1 1h0m-2-7h0m0-3h0m-1 8h0m-1-7h0m0 7h0m-2 1h0m-2 0h0m0-3h0m-1 5h0m-3 1h0m0-2h0m-3-1h0m-2 4h0m0-15h0m-3 12h0m-2-10h0m-11 11h0m-4-7h0m-5-3h0m-2 5h0m-3-5h0m0-3h0m-1 4h0m0-2h0m-50 2h0m-77-1h0m-45 0h0m-36 9h0m13 13h0m122-8h0m20 10h0m6-1h0m11 1h0m2-3h0m25 5h0m9 2h0m3-1h0m1-13h0m7 12h0m10 0h0m0-3h0m6 0h0m2 4h0m5-7h0m1-7h0m1 13h0m1-8h0m0-2h0m3 8h0m9-2h0m1 1h0m0 0h0m2 5h0m1-9h0m1 9h0m1-2h0m2 0h0m1-9h0m1 6h0m1-3h0m1-4h0m2 4h0m1 6h0m0-7h0m3 9h0m1-14h0m7 14h0m1-5h0m0-10h0m1 12h0m0-1h0m1 4h0m3-7h0m2-8h0m0 1h0m1 0h0m1 3h0m0-1h0m1 12h0m0-6h0m1-2h0m0-2h0m0 4h0m1 4h0m0-11h0m0 2h0m0 10h0m2-4h0m2 0h0m0 4h0m1-8h0m0 6h0m0 1h0m3-12h0m1 8h0m2 4h0m2-8h0m1 0h0m0 1h0m0 6h0m1-5h0m1 6h0m0-13h0m0 7h0m1-4h0m2 4h0m1 2h0m0-7h0m4 9h0m0-8h0m1 7h0m1 2h0m0-3h0m2-8h0m0 14h0m0-14h0m2 14h0m1 0h0m3-4h0m0 3h0m1-11h0m1 2h0m0 7h0m1-5h0m3 4h0m1-6h0m1-2h0m0-2h0m2 0h0m0 8h0m0-2h0m0 4h0m1-10h0m1 12h0m1-10h0m0-2h0m0 4h0m1 6h0m1-1h0m0 2h0m0-9h0m0 9h0m0 3h0m1-14h0m0 10h0m1-10h0m1 10h0m0 1h0m0-7h0m1-3h0m1 1h0m0 7h0m0-6h0m1 6h0m0 4h0m0-13h0m1 4h0m1 2h0m0 6h0m0-1h0m1-10h0m0 3h0m1-4h0m1 0h0m0 5h0m1 0h0m0 2h0m2-4h0m0 2h0m0-4h0m0 0h0m2 2h0m0 11h0m1-2h0m0-11h0m1 3h0m0 3h0m0 7h0m1-1h0m0-1h0m1-11h0m0 2h0m2 8h0m0-9h0m2 8h0m2 3h0m0-9h0m2-5h0m0 13h0m1-12h0m1 6h0m0 1h0m1-6h0m1 7h0m1 3h0m1-3h0m0-6h0m0 12h0m4-12h0m0 9h0m1 2h0m0-4h0m2 4h0m1-6h0m0 6h0m1 1h0m1-8h0m5 0h0m0 5h0m0-3h0m0 0h0m2 6h0m1 0h0m0-6h0m4 4h0m0-3h0m1 5h0m0-10h0m1-2h0m2 1h0m5-3h0m1 5h0m0 1h0m1-4h0m3 8h0m2 0h0m0 2h0m4-2h0m2-3h0m5 4h0m0-11h0m7 4h0m4 5h0m3-5h0m2-3h0m5 11h0m5-7h0m1 9h0m2-5h0m4 0h0m10-8h0m6 8h0m19-8h0m-26 14h0m-11 4h0m-1 1h0m-11-3h0m-14 2h0m0-4h0m-5 3h0m0 1h0m-1-3h0m-1 5h0m-5-4h0m-1-1h0m0 0h0m-9 4h0m-1-2h0m-2-2h0m-7 3h0m-2-1h0m-7 1h0m-2 0h0m-1 0h0m-2-1h0m-1 2h0m-5-2h0m-3 0h0m-1 3h0m-3-1h0m-3-2h0m-5 0h0m-2 2h0m-1 1h0m0 0h0m0-6h0m0 6h0m-1-5h0m-1 0h0m-2 4h0m-1 0h0m-1-4h0m-2 5h0m-2 0h0m0 0h0m-2 0h0m-1-1h0m-1-4h0m0 4h0m0-4h0m-1 3h0m-3-4h0m-4 1h0m-1 1h0m0 3h0m-2 1h0m0-5h0m-1 2h0m-2-2h0m0 4h0m-1-2h0m0-2h0m0 0h0m-3 5h0m-1-6h0m-1 2h0m-1-2h0m-1 5h0m-1-1h0m0-2h0m-1-2h0m-2 2h0m-2-2h0m0 1h0m-4-1h0m0 6h0m-1-6h0m0 3h0m-2 2h0m-2 0h0m0-1h0m-1-2h0m-8-2h0m-1 2h0m-2 3h0m-5-2h0m-1 1h0m-4-1h0m-1 1h0m-1-4h0m-4 5h0m-1-3h0m-3 2h0m-2 0h0m0-1h0m-4-2h0m-1 0h0m-3 3h0m-2-1h0m-18 0h0m0-2h0m-5 3h0m-1-3h0m-10 3h0m-1-2h0m-20 3h0m0 1h0m-33 0h0m-63-4h0m-12-2h0m-100 4h0"/>
<path d="M814 460h0m89 26h0m167 0h0m157-3h0m59-3h0m-9 27h0m-70-6h0m-41 1h0m-127-5h0m-167 12h0m0-1h0m12 12h0m9 6h0m57-4h0m14 4h0m282 5h0m-4 2h0m-285 1h0m-15-4h0m-18 2h0m-10-3h0m-1 9h0m-74-2h0m30 13h0m61 8h0m8-1h0m198-10h0m20-2h0m75 1h0m78 21h0m-4-3h0m-32 2h0m-51 8h0m-26 2h0m-13-15h0m-10 13h0m-5-13h0m-189 13h0m-9-13h0m-5 0h0m-5 7h0m-144 21h0m64-6h0m6 4h0m11 5h0m9-5h0m57-3h0m169 0h0m26 3h0m62-2h0m30 4h0m7-11h0m35 11h0m-59 13h0m-12-1h0m0 7h0m-29-10h0m-2 8h0m-18-13h0m-194 10h0m-14 3h0m-1-1h0m-6-10h0m-8 4h0m-3 0h0m-9-3h0m-6 11h0m-31-6h0m-65 19h0m4-5h0m74-6h0m21 2h0m15-1h0m0 11h0m0 0h0m6-8h0m14 3h0m161 2h0m56 5h0m0-1h0m14-3h0m2 3h0m42 0h0m1-6h0m5-2h0m3 2h0m15 5h0m35-7h0m5 21h0m-25-6h0m-76 10h0m-54-10h0m-7-4h0m-4 11h0m-78-7h0m-59 1h0m-1 10h0m-44-11h0m-5 11h0m-30-9h0m-39-2h0m-42 13h0m69 0h0m28 10h0m0 1h0m15-6h0m1-4h0m9-1h0m6 12h0m14-11h0m12 9h0m23-2h0m2-1h0m38-4h0m47 8h0m35-3h0m42-1h0m0 6h0m17-6h0m2 0h0m8 4h0m5-3h0m2-9h0m16 11h0m24-3h0m2 6h0m6-14h0m16 2h0m14 5h0m-2 21h0m-2 0h0m-18 3h0m-18-3h0m-82-2h0m-1 3h0m-19-11h0m-24 6h0m-98 3h0m-17-10h0m-4 1h0m-11-1h0m0 2h0m-1 4h0m-2 8h0m-7-11h0m0 11h0m-3-4h0m-1-3h0m-4-6h0m0 9h0m-6 0h0m-3-9h0m-13 10h0m-3 3h0m-4-11h0m-21-3h0m-22 7h0m-52-4h0m-14 24h0m78 3h0m5-9h0m12-5h0m14 14h0m3-7h0m1 1h0m6-5h0m4-1h0m4 1h0m3 4h0m3-4h0m40 0h0m9 6h0m1 2h0m19-2h0m11-6h0m24 11h0m69-5h0m40-7h0m15 1h0m20 10h0m25-14h0m6 7h0m23-2h0m4 20h0m-15-4h0m-11-2h0m-2 2h0m-12 3h0m-15-1h0m-31 1h0m-65 5h0m-7-13h0m-1 10h0m-78 4h0m-1-7h0m-15-6h0m-10-1h0m-4 1h0m-7 9h0m-24 4h0m-7-2h0m-8 1h0m-16-8h0m-4 5h0m-4 4h0m-19-1h0m-37 3h0m27 3h0m42 6h0m8-5h0m16 10h0m4-4h0m3-7h0m3 0h0m4 6h0m5-6h0m11 3h0m6 4h0m1-4h0m6 2h0m2-1h0m4 5h0m8 3h0m7-1h0m2-8h0m5 0h0m6 2h0m14 3h0m150-4h0m2-4h0m5 9h0m11 2h0m1-7h0m25 3h0m0-2h0m2-8h0m1 4h0m20 1h0m16 6h0m-8 5h0m-16 6h0m-23-5h0m-35 3h0m-28-4h0m-31 2h0m-82 6h0m-5-8h0m-4 4h0m-7 4h0m-10-1h0m-2 1h0m-7-8h0m-2 5h0m-6-5h0m-2 9h0m-7-2h0m-2-3h0m-4 3h0m0 7h0m-5-14h0m0 2h0m-7 13h0m0-6h0m-5 0h0m0-7h0m-1 2h0m-1 1h0m0-5h0m-1 11h0m-8 0h0m-2-2h0m-3 3h0m-8-5h0m-26 7h0m-5 0h0m-8-7h0m-2-2h0m-2 0h0m-8-4h0m-7 9h0m-21-8h0m-15 1h0m-77 6h0m96 13h0m68 5h0m2 2h0m16-4h0m17-7h0m1 5h0m4-4h0m6 3h0m3 9h0m1-10h0m1 5h0m0-6h0m13 11h0m6-10h0m0-2h0m10 2h0m1 4h0m8-2h0m1 2h0m1 4h0m5 1h0m1-4h0m1-1h0m9-7h0m7 8h0m5-6h0m0 10h0m10-4h0m2 1h0m7-1h0m39-10h0m3 3h0m88 1h0m1-1h0m4 1h0m26 12h0m-5 12h0m-71 2h0m-4 0h0m-13-13h0m-28 11h0m-24 3h0m-3-4h0m-6-5h0m-7 5h0m-1-8h0m-9-1h0m0 8h0m-4 3h0m-3-13h0m0 11h0m-10 4h0m-5-3h0m-4-5h0m-2 2h0m-1-9h0m-9 13h0m-2 2h0m0-4h0m-1-8h0m0 4h0m-4-7h0m-1 11h0m0-7h0m-5 7h0m-2 4h0m-3-3h0m-8-8h0m-8 6h0m-3 0h0m-3 4h0m-2-9h0m-1 8h0m-1-8h0m-1 0h0m-3 3h0m-4-8h0m-1 3h0m-1-1h0m-11 2h0m-3 10h0m-4 0h0m-2-14h0m-5 10h0m-10-5h0m-6 9h0m-2-8h0m-3 5h0m-6-8h0m-5 3h0m-10-6h0m-7 11h0m-24 2h0m-99 10h0m101 1h0m44-5h0m27-2h0m0 9h0m2 3h0m6-3h0m8-10h0m1 15h0m3-1h0m9-10h0m1 11h0m1-4h0m0-1h0m1-3h0m0 4h0m1-11h0m0 4h0m4 9h0m1 2h0m1-13h0m2 7h0m7 6h0m3-7h0m1-5h0m2 8h0m0-7h0m0-2h0m7 9h0m1-4h0m2 3h0m12 4h0m3-12h0m1 7h0m2 5h0m0-5h0m1-5h0m1 3h0m4 3h0m2-10h0m2 8h0m15 5h0m1-8h0m3 4h0m2 5h0m1 1h0m0-14h0m12 14h0m6-1h0m8-3h0m7 2h0m10-2h0m70 1h0m55-7h0m4-1h0m4 1h0m10 8h0m-49 16h0m-4-10h0m-57 6h0m-1 5h0m-1-12h0m-3 3h0m-6 3h0m-5 5h0m-2-1h0m-8 1h0m-8-6h0m-3 4h0m-3-3h0m-4-8h0m-7 7h0m-3 8h0m0-2h0m-4 0h0m-1-13h0m-3 13h0m-2-12h0m-2 3h0m-3 0h0m-2 1h0m-3 5h0m-1 1h0m-2-8h0m0 2h0m-1 4h0m0 6h0m-1-15h0m-5 10h0m0 4h0m-1-2h0m-1-8h0m0 7h0m-1-6h0m-2 5h0m-2 2h0m-1 0h0m-2-2h0m0-4h0m-3 0h0m-2 1h0m-1 7h0m-1-1h0m-1-2h0m-3 1h0m-2 0h0m-3-6h0m0-4h0m-1 3h0m0 3h0m-3 2h0m-3-7h0m-1-2h0m0 2h0m-2 12h0m-1-8h0m-1 6h0m-1-12h0m0 3h0m-1 4h0m-1 1h0m0 0h0m-1-4h0m0 3h0m-4-5h0m0 11h0m-2-4h0m-1 5h0m-2 0h0m-2-6h0m-3-9h0m0 6h0m-1 5h0m-1-11h0m-3 14h0m-3 1h0m-4-6h0m-1 1h0m-1-7h0m-1 2h0m-4 0h0m-2 1h0m-7 0h0m-3 6h0m0-6h0m0 7h0m-1-4h0m-9-2h0m-6-5h0m-5 13h0m-5-7h0m-13 7h0m-8-7h0m-16 0h0m-15-3h0m-7 3h0m-17-4h0m-70 3h0m-8-4h0m54 19h0m32 5h0m68 0h0m16-6h0m2-5h0m21 15h0m2-13h0m1 11h0m0 1h0m2-12h0m0 8h0m0 2h0m1-10h0m5 7h0m5-4h0m1 5h0m1 1h0m1-8h0m0 9h0m1 1h0m1-1h0m2 3h0m2-2h0m4-2h0m2-10h0m1 2h0m1 4h0m3 0h0m0-2h0m1-5h0m3 15h0m1-9h0m1 6h0m1 1h0m1-10h0m0-1h0m3 8h0m1-5h0m0 2h0m1 8h0m1-2h0m3 0h0m3-13h0m2 3h0m0 7h0m0 2h0m0-3h0m0-2h0m3 5h0m2-5h0m1-1h0m7-1h0m0 5h0m0-4h0m5 5h0m1-5h0m3 5h0m1-8h0m1 11h0m4-8h0m0 0h0m1 6h0m1 2h0m3-9h0m1 5h0m1-7h0m0 4h0m3-2h0m4 10h0m2-4h0m1-3h0m4-4h0m1 7h0m6-7h0m2 4h0m4-6h0m6 6h0m3 0h0m1 1h0m0-3h0m0 2h0m5-7h0m1 11h0m1-8h0m2-1h0m0 10h0m0-12h0m1 6h0m5-6h0m2 7h0m6 0h0m39 3h0m20-11h0m25 13h0m45 15h0m-26-8h0m-23 0h0m-21 2h0m-31 9h0m-6-5h0m-7 5h0m-2 0h0m-2-8h0m-15 4h0m-1-2h0m-3-6h0m-1 5h0m-4-2h0m-5-6h0m-3 9h0m-2 0h0m-8 3h0m-2-5h0m-1 1h0m-2-1h0m-1 8h0m0-4h0m-1 4h0m0-3h0m-1-8h0m-1 7h0m-1-3h0m0-6h0m0 6h0m-5 4h0m-8-7h0m0 3h0m-3 4h0m0-1h0m-2-8h0m-2 7h0m-1 2h0m0-8h0m-2 9h0m-1-12h0m-2 3h0m-2 7h0m-1-10h0m0 4h0m-1-5h0m0 10h0m-2 3h0m-1 0h0m-1-13h0m0 5h0m-2-3h0m-2-2h0m0 9h0m0-4h0m-1 2h0m-1-1h0m-4 0h0m-1 7h0m-2-13h0m-1 14h0m-1-6h0m-1-1h0m0 2h0m0-6h0m-3-3h0m-1 10h0m-4-1h0m0 5h0m0-14h0m-1 4h0m0 9h0m-2-13h0m-1 8h0m-4 6h0m-1-7h0m0 0h0m0 0h0m0 5h0m-2-9h0m-1 10h0m-1-4h0m-1-3h0m0 4h0m-1-9h0m-1 6h0m0 0h0m-1-7h0m-1 6h0m-1 1h0m-1 8h0m-2-14h0m-2 5h0m-1 1h0m-5 6h0m-1-10h0m-1-1h0m-3-2h0m-1 3h0m-1 5h0m-3 7h0m-1-1h0m0-12h0m0 7h0m-1 0h0m-3 3h0m-2-11h0m0 5h0m-4-1h0m-16-5h0m-8 10h0m-1-8h0m-1 10h0m-16-4h0m-6 2h0m-11 2h0m-5 1h0m-2-3h0m-8-10h0m-6 13h0m-15-13h0m-24 6h0m-79-4h0m56 15h0m8 5h0m23-5h0m2 9h0m46-10h0m26 5h0m15 4h0m4-8h0m5 2h0m5 4h0m3-4h0m0-3h0m1 11h0m14 3h0m2-6h0m4 4h0m4-7h0m1 0h0m2-4h0m1 1h0m0 2h0m8 5h0m1-7h0m3 9h0m1 1h0m1 2h0m1-3h0m0-1h0m1 1h0m0 3h0m2-6h0m6-8h0m0 5h0m1 1h0m2 2h0m3-7h0m2 8h0m1 1h0m3-3h0m2-2h0m1 0h0m1 5h0m0 5h0m2-5h0m0 2h0m0-5h0m1-3h0m1 8h0m0 3h0m1-10h0m0 1h0m2 3h0m1 0h0m0-4h0m2 9h0m0-6h0m3 7h0m1-7h0m1-3h0m1-1h0m1 9h0m1-2h0m1-1h0m4-5h0m1 2h0m0 8h0m1-7h0m1-5h0m0 11h0m2-6h0m5 7h0m3-6h0m0-5h0m0 7h0m1-9h0m5 9h0m1-4h0m1-6h0m0 9h0m1-3h0m0 3h0m1-2h0m2 4h0m3-11h0m2 3h0m2 0h0m2 0h0m1 9h0m2-2h0m1 3h0m3-6h0m0 5h0m0-7h0m3 9h0m1-3h0m1-9h0m1 12h0m2-5h0m1 0h0m4-5h0m0 8h0m2-10h0m3 12h0m1-13h0m3 8h0m1-4h0m0 9h0m6-1h0m0-6h0m2 3h0m7-10h0m3 0h0m2 2h0m1 9h0m1-7h0m1 5h0m0-3h0m1 4h0m1 2h0m4-12h0m1 11h0m4 3h0m6-3h0m3-4h0m1-8h0m0 6h0m1-1h0m0 4h0m7-1h0m6 5h0m13-4h0m48-6h0m-2 22h0m-32 4h0m-5-3h0m-4 0h0m-13-3h0m-3-1h0m-2 6h0m-1-5h0m0 8h0m-7-14h0m-10 12h0m-6-13h0m-1 15h0m-1-8h0m-3 6h0m-5-1h0m-1 0h0m-1-1h0m-1-4h0m-1-6h0m0 3h0m-3 10h0m0-6h0m-1 4h0m0-1h0m-1 1h0m-2 0h0m-3-8h0m0-1h0m-3 12h0m0-2h0m0-9h0m0 11h0m-5-5h0m-1 1h0m-2 2h0m0-4h0m-1 4h0m0-10h0m-3 7h0m-1-7h0m0 4h0m-1-4h0m-2 11h0m-1-3h0m0 3h0m-2-8h0m0 9h0m-1-11h0m0 11h0m0-5h0m0 3h0m-3-5h0m-2 0h0m0-6h0m-2 6h0m0-8h0m0 5h0m0-4h0m0 8h0m-2 3h0m-1-9h0m0-2h0m0 6h0m-1-2h0m-1 2h0m-1 7h0m-1-8h0m-1 2h0m0 6h0m0-6h0m-2 6h0m0-13h0m0 9h0m-2-2h0m0-5h0m0-3h0m-1 15h0m-1-13h0m0 2h0m-1 2h0m0 5h0m-1-3h0m-1-1h0m0-3h0m-1-2h0m-2 9h0m-1-2h0m-2-2h0m-1-3h0m-1-3h0m-1 12h0m0-10h0m0 8h0m-1-10h0m-3 7h0m-1-3h0m-1 9h0m-2-9h0m-3 0h0m-1 1h0m-1-4h0m0 7h0m-1 1h0m0-3h0m0 2h0m-1-7h0m0 8h0m-1-2h0m0 2h0m-2 3h0m0-8h0m-1 0h0m0-3h0m0 0h0m-1-2h0m-3 1h0m-2 9h0m0-8h0m-2 12h0m-2-8h0m-1-2h0m-1 2h0m0 1h0m-2 7h0m0-7h0m-1 2h0m-1-3h0m0 5h0m0-10h0m0 6h0m-1-3h0m-1 6h0m0-2h0m-1 1h0m0 3h0m0-4h0m-1-7h0m-1 14h0m-2-3h0m-5-3h0m-3-9h0m-1 14h0m0-3h0m0 3h0m-2-11h0m0 11h0m-1-13h0m0 13h0m0-6h0m-3-7h0m-1 9h0m-3-7h0m-3 10h0m-5-10h0m-1-2h0m0 1h0m-3-1h0m-2 4h0m0 9h0m-2 1h0m-1-15h0m-2 15h0m-1 0h0m-1-1h0m0-3h0m-4-2h0m-1-9h0m-1 9h0m-4 0h0m-1-3h0m-9-1h0m-2-4h0m-2 2h0m-5 5h0m-6 4h0m-2 2h0m-8-6h0m-13-4h0m-6 4h0m-25-4h0m-37-3h0m-29 12h0m12 5h0m22 3h0m13 8h0m12 1h0m7-7h0m59-4h0m6 9h0m6-12h0m0 6h0m7-3h0m3-3h0m7 1h0m2 6h0m1-6h0m2-1h0m1 1h0m0 0h0m0 6h0m0 6h0m2 0h0m0-13h0m1 5h0m0-4h0m3 8h0m0-6h0m1-3h0m0 1h0m0 6h0m5-4h0m0 4h0m2-4h0m2 4h0m1-5h0m1 2h0m2 7h0m2 3h0m2-7h0m2 8h0m0-2h0m1-6h0m0-3h0m1 5h0m0-7h0m0-2h0m1 6h0m0 6h0m1-9h0m0 8h0m2-7h0m2 6h0m0 3h0m1 0h0m1-3h0m1-4h0m1 1h0m2-4h0m1 0h0m0-1h0m2 8h0m1 1h0m0-11h0m1 7h0m2 1h0m0-2h0m1 3h0m0-8h0m1 0h0m0 13h0m2-10h0m1 7h0m1 4h0m2-11h0m0 9h0m0-3h0m1 3h0m0-10h0m3 8h0m0-9h0m2 11h0m0-12h0m1 1h0m3 5h0m0-7h0m0 15h0m2-2h0m1-11h0m0 4h0m0 2h0m1 1h0m0 3h0m2-2h0m0 5h0m3 0h0m2-9h0m3 5h0m0-8h0m0 8h0m2-10h0m2 6h0m0 8h0m1-13h0m1 10h0m1-10h0m0 8h0m1 3h0m0-8h0m1 9h0m0-7h0m1 6h0m0-10h0m2 3h0m0 7h0m0 0h0m1-12h0m0 14h0m1 0h0m1-5h0m0 1h0m0-7h0m1 2h0m0 0h0m2 0h0m1 3h0m1-2h0m2-6h0m1 12h0m1 1h0m0-3h0m0-9h0m0-1h0m1 9h0m1-4h0m0 8h0m0-2h0m1-8h0m2 0h0m0-3h0m1 13h0m0-4h0m0 4h0m3-2h0m1 1h0m1-6h0m1-2h0m1-4h0m0 13h0m2 0h0m1-13h0m0 13h0m0-1h0m2-6h0m0-5h0m0 9h0m1 3h0m0-9h0m2-1h0m0 5h0m2 5h0m1-14h0m0 2h0m0 3h0m1 9h0m0 1h0m1-1h0m0-4h0m0 5h0m1-13h0m0 2h0m2 11h0m0-2h0m0-11h0m0 3h0m0 8h0m0-7h0m1 3h0m2 5h0m3 1h0m1-2h0m3-12h0m0 5h0m2 6h0m2 1h0m1-8h0m3-1h0m0 9h0m2-13h0m1 9h0m1-9h0m0 12h0m1 2h0m1-10h0m2 6h0m1-6h0m0 1h0m1 3h0m6 0h0m2-2h0m8 6h0m3-7h0m2 5h0m3-8h0m7-1h0m1 1h0m2 12h0m17-3h0m19 4h0m22 4h0m-30-3h0m-2 0h0m-26 0h0m-1 6h0m0-3h0m-7 1h0m0 2h0m-1-1h0m-4-5h0m-4 0h0m-1 6h0m-2-4h0m-1 4h0m-4-2h0m-8-3h0m-5 1h0m-5 2h0m-1 0h0m-2-4h0m-1 1h0m-6 1h0m0 4h0m-2-1h0m-2-5h0m0 5h0m0-4h0m0 5h0m-1-1h0m-2-5h0m-1 6h0m-4-2h0m-1-4h0m-2 5h0m0-2h0m-2 0h0m-4-1h0m-2-1h0m-1 4h0m0 1h0m-2 0h0m0-3h0m-3-2h0m0 3h0m-2 1h0m-3-5h0m-2 0h0m-1 5h0m-4-2h0m-1 0h0m0-1h0m-1-1h0m-5 0h0m0-1h0m0 1h0m0-1h0m-1 6h0m-1-5h0m0 2h0m-1 1h0m0 1h0m-1-1h0m0-3h0m-1 2h0m-1 0h0m-1-1h0m0 2h0m-1 0h0m-1 1h0m-3 1h0m-9-3h0m-3 1h0m-2-3h0m-2 3h0m-1-2h0m0 0h0m-1 0h0m-1 3h0m-2-3h0m0 3h0m-3-4h0m-4-1h0m-1 0h0m0 1h0m-3 1h0m-3 1h0m0-3h0m0 5h0m-1-1h0m-1-2h0m0 2h0m0 0h0m-5 2h0m0-4h0m-3 4h0m-12-4h0m-17 1h0m-13 1h0m-2 0h0m-8-3h0m-100 1h0"/>
<path d="M821 461h0m418 15h0m-306-3h0m-66 1h0m-50 20h0m65-6h0m349-1h0m51-1h0m-38 24h0m-386 3h0m26 14h0m7-1h0m54 0h0m175-12h0m75 2h0m47-1h0m46 26h0m-83-10h0m-46-1h0m-1 9h0m-21-3h0m-66-2h0m-123-2h0m-13 11h0m-3-4h0m-16-5h0m-10-4h0m-77 3h0m-17 2h0m64 9h0m229 2h0m31 5h0m104 4h0m44-7h0m17 20h0m-76 7h0m-30-5h0m-243 5h0m-21-5h0m-11-3h0m-11 1h0m-11-8h0m0 1h0m-23 9h0m-58 15h0m81-9h0m27 12h0m19-4h0m12-2h0m15-2h0m11 7h0m222-10h0m2 7h0m56-1h0m2 1h0m10-6h0m2 6h0m20 18h0m-21-7h0m-13 12h0m-4-2h0m-2-4h0m-167-4h0m-28-3h0m-55 0h0m-19 13h0m-10-3h0m-2-3h0m-1-4h0m-2-4h0m-4-1h0m-16 13h0m-2-4h0m-10-3h0m-2-5h0m-6 9h0m-42-7h0m-5 25h0m32-11h0m5 11h0m48-4h0m10-1h0m20 4h0m78-8h0m49 4h0m36-3h0m24 2h0m19-6h0m16 2h0m0 7h0m3 5h0m21 0h0m22-4h0m4-8h0m3 1h0m18-2h0m15 16h0m-17 7h0m-14-2h0m-30 5h0m-9 0h0m0 1h0m-9-4h0m-36-7h0m-27 2h0m-25 8h0m-150 0h0m-9 2h0m-20-2h0m-14-11h0m-3 8h0m-1 5h0m-144-1h0m104 6h0m49 0h0m11 0h0m12 10h0m1-2h0m1-6h0m20 8h0m0 3h0m1 0h0m4-8h0m6 7h0m135-11h0m56 9h0m9-3h0m8 2h0m5-11h0m26 11h0m8-7h0m3 7h0m12-6h0m12 7h0m6-9h0m8-2h0m7 9h0m-17 6h0m-2 15h0m-13-2h0m-19-6h0m-5 1h0m-8 5h0m-24-1h0m-2-4h0m-50-7h0m-1 12h0m-9-8h0m-27 7h0m-105-4h0m-3 4h0m-21-5h0m-13-1h0m-1-5h0m-8 12h0m-7-11h0m-7 6h0m-2 7h0m-5-13h0m-7 1h0m-7 9h0m-57-10h0m62 15h0m4 0h0m0 0h0m2 6h0m3-4h0m5 8h0m12-1h0m5 3h0m1-8h0m13 8h0m13-7h0m3 8h0m3-3h0m3-8h0m0 7h0m22 0h0m86-7h0m53 7h0m0 0h0m15 4h0m13-7h0m6-2h0m23 9h0m31-8h0m10 6h0m11-7h0m5 2h0m2 8h0m11 14h0m-13-1h0m-34-8h0m-2 7h0m-8-3h0m-2 7h0m-4-11h0m-3 6h0m-14-8h0m-7 4h0m-15 1h0m-24-6h0m-5 12h0m-16 2h0m-67-3h0m-34 3h0m-7 0h0m-5-8h0m-3-5h0m-13 12h0m-3 1h0m-6-1h0m-1-7h0m-9-5h0m-1 1h0m-3-2h0m-7 6h0m-3-4h0m-1 11h0m-6-5h0m-3-3h0m-5 1h0m-2 6h0m-4-7h0m-2 3h0m-2-8h0m-7 14h0m-26-7h0m-32 0h0m-1 2h0m-15 1h0m-13 9h0m13 3h0m42 1h0m18 4h0m19 1h0m10-4h0m2-5h0m5 7h0m0-1h0m0 4h0m1 1h0m17-10h0m0 5h0m1-8h0m5 11h0m9-6h0m7-5h0m7 5h0m1 8h0m15-10h0m2 0h0m13 0h0m2 5h0m7 2h0m2 0h0m9-5h0m23 6h0m4-4h0m3-2h0m124 5h0m47-1h0m18-11h0m10 29h0m-4-6h0m-21 4h0m-1-2h0m-26 0h0m-9 0h0m-1 0h0m-14-4h0m-1 0h0m-17 1h0m-13 1h0m-22 1h0m-81 2h0m-9 2h0m-4-4h0m-4 5h0m-12-8h0m-5 0h0m-1 10h0m-3-8h0m-3 3h0m-12 2h0m-5-4h0m-1-6h0m-3 11h0m-3-7h0m-13 9h0m-15-2h0m-10-12h0m-4 0h0m-3 7h0m-2 5h0m-1-10h0m-34-1h0m-1 10h0m-38 0h0m-17 2h0m-90-9h0m95 12h0m14 10h0m6-9h0m26 7h0m14 1h0m9-3h0m1 2h0m10 1h0m2-3h0m13 3h0m1 4h0m4-2h0m4-6h0m5 7h0m14-8h0m3 3h0m2-1h0m2 0h0m0 1h0m1-5h0m1 9h0m3-1h0m7 2h0m7-3h0m1-1h0m2-7h0m1 13h0m0-6h0m7-9h0m1 13h0m6-11h0m5 5h0m2-5h0m4 13h0m2-4h0m7-8h0m4 12h0m1-1h0m0-10h0m1 3h0m6-2h0m17 10h0m4 0h0m0-8h0m54 6h0m57-1h0m3-11h0m1 1h0m1 4h0m50 19h0m-39 2h0m-50-7h0m-46 2h0m-15-3h0m-7 3h0m-5 6h0m-8-11h0m-3 4h0m-3 8h0m0-9h0m-3-2h0m-1 10h0m-2 0h0m-4-2h0m-8-1h0m-11 6h0m-2-14h0m-9 3h0m-2-1h0m-1 3h0m0 0h0m-4 8h0m0-5h0m0-7h0m-5 4h0m0 5h0m0 0h0m-1-8h0m0 6h0m-4-1h0m-2 0h0m-1 0h0m-13 0h0m-9-2h0m-6-1h0m-3-2h0m-4 11h0m-2-7h0m-6 7h0m-9-3h0m-5-11h0m-9 9h0m-5 3h0m-3-1h0m-22 4h0m-8-8h0m-25 3h0m-27-8h0m-47 15h0m52 11h0m10 0h0m3-6h0m14-2h0m62 5h0m1-9h0m1 5h0m1-3h0m4 10h0m2 2h0m0-2h0m9-10h0m2 3h0m4 2h0m1-6h0m2 1h0m6 3h0m0-2h0m1 11h0m2-5h0m4-6h0m3 0h0m1 9h0m3-4h0m7 2h0m0 3h0m2-4h0m1-4h0m6 0h0m2-1h0m5-3h0m4 5h0m2 9h0m4-13h0m5 13h0m0-12h0m0 4h0m0 0h0m0 4h0m4 4h0m6-1h0m0-8h0m6-2h0m0 9h0m9-10h0m2 11h0m1-1h0m4-3h0m8-3h0m4 7h0m3-1h0m2-3h0m0 0h0m2 0h0m1-1h0m1 1h0m3-2h0m7 2h0m2-8h0m13 13h0m72-11h0m33 1h0m-20 11h0m-2 1h0m-3 9h0m-20-4h0m-8 5h0m-10-1h0m-10-1h0m-6 0h0m-1 3h0m-29-3h0m0 4h0m-11-9h0m-7 0h0m-1 9h0m-3-13h0m-2 10h0m-1 3h0m-4-5h0m-5 1h0m-4-6h0m-1 3h0m-1-6h0m-1 8h0m-1-1h0m-1 4h0m-1 0h0m-4-4h0m0-4h0m-6 10h0m0-8h0m-2-4h0m-4 0h0m0 10h0m-5 0h0m-1-4h0m0 0h0m-1-5h0m-3 5h0m-3 3h0m-1-7h0m0 4h0m-2 0h0m-1 8h0m-4-3h0m0-6h0m-2 7h0m-1-5h0m0 1h0m-1 5h0m-6-8h0m-2-2h0m-2-3h0m-1 5h0m-2-6h0m-1 0h0m-2 8h0m-4 4h0m-5-3h0m-5-4h0m0 0h0m-1 3h0m-2 2h0m-8-5h0m-1 5h0m-3-9h0m-6 9h0m-2-5h0m-6 8h0m-2-9h0m-4 4h0m-6-1h0m-15-4h0m-2 1h0m-21-2h0m-69 1h0m-8 9h0m-21 5h0m61 3h0m54 6h0m18 5h0m12-11h0m5 10h0m2-3h0m2 3h0m3-9h0m1-1h0m9-2h0m2 4h0m1-4h0m1 11h0m2-9h0m8 7h0m4-3h0m1-1h0m4 5h0m5 0h0m2 0h0m1-7h0m0 6h0m1-9h0m1-2h0m0 12h0m0 2h0m3-6h0m6 6h0m0-3h0m0-6h0m1 4h0m0 3h0m1-7h0m2-3h0m5 3h0m0-5h0m4 13h0m2 2h0m1-4h0m2-3h0m3 6h0m4-1h0m2-3h0m2 1h0m0-1h0m2-4h0m1-6h0m1 11h0m1-7h0m1 7h0m1-10h0m2 10h0m1-3h0m3-8h0m0 13h0m5 2h0m0 0h0m0-11h0m2 6h0m1 1h0m2-5h0m2 4h0m1 2h0m2-4h0m11 1h0m0 6h0m5-8h0m0 7h0m0-13h0m2 10h0m2 4h0m0-9h0m2 7h0m1-6h0m4-6h0m3 13h0m2-5h0m1-1h0m7-3h0m5-2h0m0 1h0m0 10h0m6-4h0m1-10h0m14 14h0m1-2h0m3 1h0m17 2h0m17-1h0m2 1h0m4-11h0m48-4h0m9 15h0m3 5h0m-3 3h0m-5-6h0m-4 7h0m-67-3h0m-6 1h0m-36 5h0m-7 3h0m-1-10h0m-4 0h0m-3 7h0m-2 3h0m-6-3h0m0 0h0m-1-8h0m-1 8h0m-2 2h0m-1-3h0m-2 4h0m-1-4h0m-1 5h0m0 0h0m0-2h0m-1-2h0m-2-1h0m0-9h0m-1 5h0m-1 9h0m-1-4h0m0 2h0m-3 2h0m0-2h0m0-9h0m-1 8h0m-2-10h0m-4 13h0m0-12h0m-1-1h0m-1 13h0m0-9h0m-1-1h0m0 0h0m-7 2h0m-3 8h0m-2-14h0m-1 13h0m-1 0h0m0-2h0m-1-9h0m-3 4h0m0 4h0m-1-7h0m-1 0h0m-2 4h0m-1-7h0m0 8h0m-1-8h0m-2 9h0m-3 5h0m-1-9h0m0-6h0m0 4h0m-1 2h0m-2 6h0m0-9h0m-2 4h0m-1-3h0m-1-2h0m-2 2h0m-3 10h0m-2-6h0m-1 2h0m-2-5h0m-1 8h0m-5 1h0m0-5h0m-2-5h0m0-4h0m-1 7h0m-1-7h0m-1 8h0m-2 0h0m-2-5h0m0 5h0m0-2h0m-2 9h0m-2-4h0m-1 0h0m-1 3h0m-3 0h0m-1-13h0m-11 5h0m-1 0h0m-1 9h0m-4-4h0m-8-10h0m-25-1h0m-1 2h0m-16 11h0m-13-11h0m-25 2h0m-2 1h0m-13 8h0m-2-2h0m-37-6h0m-7 7h0m-46 0h0m-32 4h0m104 11h0m33-3h0m2 3h0m0-11h0m20 6h0m14 4h0m17-7h0m4 6h0m4-2h0m4 4h0m0-7h0m1 3h0m6-1h0m19 4h0m1-1h0m14-8h0m2 0h0m2 12h0m1-5h0m1 6h0m3 0h0m1-8h0m3 2h0m3-4h0m4-3h0m0 2h0m3 2h0m1 5h0m3 0h0m3 2h0m1-7h0m0-5h0m0 3h0m1 4h0m2-5h0m1 13h0m2-1h0m5 0h0m0-5h0m2 6h0m3-2h0m0 0h0m3-6h0m1-5h0m0 4h0m3 4h0m0 1h0m1 1h0m1-2h0m2-10h0m1 6h0m0-1h0m0 10h0m1-10h0m2-5h0m0 1h0m1 3h0m1-3h0m2 2h0m2 12h0m0-15h0m0 0h0m0 13h0m2-3h0m0-7h0m1-2h0m0 12h0m0-13h0m1 9h0m1 1h0m0 3h0m1 2h0m1-13h0m0 1h0m1 4h0m1-4h0m6-3h0m1 14h0m2-10h0m0 4h0m0 5h0m1-3h0m0-1h0m0-1h0m1-7h0m2 13h0m2-2h0m1-6h0m2-1h0m1 1h0m1 9h0m0-11h0m1 5h0m2 3h0m3 3h0m2-2h0m1-5h0m1 7h0m2-14h0m1 9h0m2 4h0m2 1h0m1-7h0m1 3h0m0 2h0m2 2h0m1-13h0m4 8h0m1-10h0m7 9h0m2-2h0m2-6h0m1-1h0m1 0h0m0 0h0m1 13h0m4-2h0m8-3h0m7 3h0m8-4h0m8 1h0m4 4h0m3 0h0m4 0h0m5-11h0m26 13h0m10-13h0m6 3h0m8 5h0m-12 10h0m-1 5h0m-15-5h0m-2 5h0m-9 3h0m-11 3h0m-11-5h0m0 1h0m-5 1h0m-4 2h0m0-10h0m-1 8h0m-3 0h0m-1-1h0m-2 1h0m-3-1h0m0 0h0m-1 0h0m-4-2h0m-2-3h0m-1 6h0m0-4h0m0-5h0m-2 0h0m-3 13h0m-2-4h0m-1-4h0m-5 5h0m0-1h0m-1-3h0m-3-8h0m0 6h0m-1 1h0m-1-5h0m-1-2h0m-2 14h0m0-11h0m-1 4h0m-1 2h0m-2-6h0m0 0h0m0 4h0m0 1h0m-3 7h0m-1-10h0m-1 3h0m-4 5h0m-1-13h0m-2 3h0m0 5h0m0 0h0m-1-8h0m0 12h0m-3 0h0m-1 3h0m-1-4h0m-1-10h0m-1 14h0m-2-1h0m0-7h0m-1 1h0m0-5h0m0 6h0m-3 1h0m-1 0h0m0-9h0m-2 11h0m0 2h0m-1-10h0m0 9h0m-1-1h0m0-3h0m-2 5h0m0-6h0m0 1h0m-2 6h0m0-7h0m-1-8h0m-2 3h0m0 1h0m-2 5h0m-2 1h0m-2 0h0m0 0h0m0-6h0m-1-4h0m0 4h0m-2 4h0m-1-3h0m0 7h0m-1-2h0m-2-4h0m0 8h0m-2-11h0m-2 1h0m-1 8h0m0 0h0m0 1h0m-3-10h0m0 4h0m-1-4h0m0 10h0m0-7h0m-1-2h0m-2-2h0m0 10h0m0-7h0m0-4h0m-1-1h0m0 11h0m0-11h0m-1 8h0m0 6h0m0-14h0m0 4h0m-3 8h0m-1 0h0m-2 3h0m0-14h0m0 5h0m-1 7h0m0-3h0m0 2h0m0-11h0m-1 5h0m0-4h0m-2 12h0m-1-8h0m-1 4h0m-1 3h0m-1-5h0m0-3h0m-1 6h0m0 4h0m0-1h0m0-13h0m-1 3h0m0 8h0m-1-4h0m0 6h0m0-9h0m-1-4h0m-1 6h0m-1-5h0m-1 6h0m-1-3h0m-2 0h0m-1 1h0m0 1h0m-2 7h0m-1-14h0m-5 9h0m0-7h0m-3 8h0m-1 1h0m0-7h0m-4 5h0m0-9h0m-3 2h0m-2 3h0m-13-3h0m-4 1h0m-3 2h0m-4 1h0m-1 6h0m-5 0h0m-1-8h0m-6-2h0m-3 8h0m-18 0h0m-60 4h0m-1-9h0m-10 8h0m-29 0h0m-74 11h0m34 7h0m24-12h0m2 1h0m24 4h0m7 4h0m20 0h0m28-12h0m34 5h0m17 10h0m4-12h0m4 0h0m1 5h0m1 2h0m1-4h0m5-4h0m4 7h0m1 0h0m2 2h0m4-5h0m1 5h0m2-6h0m2-4h0m5 11h0m2 0h0m1-2h0m2 1h0m0 2h0m2 1h0m3-9h0m1 6h0m1-10h0m4 1h0m0 1h0m2 3h0m0-6h0m2 13h0m2-1h0m1-10h0m3 6h0m1-2h0m1 2h0m3-2h0m0 7h0m1-1h0m1-6h0m2 8h0m0 0h0m0-9h0m3-3h0m1 9h0m3-8h0m0 5h0m0-2h0m1-5h0m1 12h0m4-13h0m0 14h0m1-6h0m0 0h0m2 5h0m1-13h0m0 4h0m0 5h0m1-9h0m1 2h0m1 12h0m1-14h0m1 1h0m0 12h0m1-12h0m0 9h0m0-7h0m1 9h0m0-6h0m0-6h0m0 4h0m1 9h0m0 2h0m1-2h0m0-2h0m2-6h0m1 10h0m1-15h0m0 13h0m0-13h0m1 11h0m2-10h0m2 3h0m1 9h0m1-9h0m1-3h0m0 10h0m0-9h0m2 0h0m1 7h0m0-7h0m3 13h0m0-9h0m1 6h0m1-4h0m1 4h0m0-5h0m1 5h0m0-3h0m1 5h0m0-4h0m1-9h0m1 5h0m0 8h0m2-12h0m1 9h0m0 2h0m0 0h0m1 0h0m0 2h0m1-6h0m0-7h0m1 13h0m1-10h0m0 3h0m1-6h0m0 5h0m1 2h0m0-1h0m0 6h0m1-14h0m2 1h0m0 11h0m1-3h0m0-9h0m1 3h0m0 12h0m0-3h0m2 1h0m1-8h0m1-5h0m1 4h0m0 9h0m1-1h0m1 2h0m2-11h0m1-1h0m0 2h0m0 4h0m1-2h0m2 3h0m1 2h0m0-5h0m0 1h0m1 1h0m2-5h0m0 12h0m1-6h0m1 2h0m1-3h0m1 4h0m3-9h0m0 7h0m0 4h0m1-13h0m0 3h0m0-2h0m1 7h0m2 4h0m0-3h0m0 3h0m2 1h0m1-7h0m0 5h0m0-12h0m0 3h0m1-1h0m1 7h0m2-1h0m2 5h0m0-1h0m2-7h0m2 9h0m1-13h0m0 14h0m3-7h0m0 0h0m0 1h0m0-9h0m2 6h0m0 6h0m0 3h0m4-4h0m2-3h0m1 0h0m0 3h0m1 3h0m0-13h0m1 4h0m0 0h0m5 10h0m0-7h0m4 3h0m1 1h0m1-2h0m2-9h0m1 9h0m2 2h0m3 0h0m2 2h0m1 0h0m1-3h0m1-8h0m0 8h0m2 2h0m0 1h0m6-2h0m7-1h0m3-2h0m4-5h0m3 2h0m1-1h0m0-1h0m2-4h0m4 14h0m26-6h0m-1 10h0m-27 0h0m-5 4h0m-17-5h0m-5 1h0m-10 2h0m-3 1h0m-6 0h0m-2-3h0m0-1h0m-3 1h0m-2-2h0m-2 0h0m0 3h0m-2 1h0m-2-1h0m-3 1h0m-2-3h0m0 2h0m-3-1h0m-1-2h0m-4 3h0m-5-2h0m-1 4h0m0-3h0m0 1h0m-1 0h0m0 0h0m-5 3h0m-1-2h0m-1-1h0m-3 0h0m0-2h0m-1-1h0m-2 2h0m0 3h0m-4-1h0m0-3h0m0 4h0m-1-5h0m-1 2h0m0 2h0m-3-3h0m-4 2h0m0-2h0m-1 0h0m-3 1h0m-1 2h0m-1 0h0m0-4h0m-3 1h0m0 5h0m-3 0h0m-3-2h0m0-4h0m0 3h0m-1 1h0m0-3h0m0 2h0m-1 2h0m-1-4h0m-2 1h0m-1 1h0m0 3h0m0-6h0m-1 5h0m-1-5h0m0 4h0m-9-1h0m-1-2h0m-3 3h0m-1-3h0m0 4h0m-1-2h0m-2 0h0m0-3h0m-1 1h0m-4 5h0m-1 0h0m-1-2h0m0-2h0m-1-1h0m0 4h0m-4-1h0m-4-4h0m-1 4h0m-1-3h0m-2 1h0m-2-2h0m-15 6h0m-1 0h0m-11-5h0m-3 4h0m-2-2h0m-3 2h0m-3-4h0m-6 0h0m-1 1h0m-4 0h0m-8 0h0m-3 3h0m0 1h0m-19-3h0m-9 0h0m-2-1h0m-37-1h0m-62-1h0m-21 0h0m-7 3h0"/>
<path d="M1173 474h0m-49 0h0m-313 20h0m46-11h0m16-2h0m54 5h0m14-2h0m72-4h0m40 0h0m156 7h0m0 6h0m9-1h0m47-2h0m-1 14h0m-56 4h0m-5-9h0m-368 11h0m2 14h0m237-7h0m157 7h0m51 5h0m-90 0h0m-50 6h0m-6 0h0m-162 8h0m-16-9h0m-28 3h0m-139-7h0m6 17h0m134-2h0m228 4h0m4-3h0m93 11h0m27-7h0m-17 17h0m-1 3h0m-18-7h0m-105 5h0m-57 1h0m-124 1h0m-19 5h0m-5-2h0m-89-5h0m99 17h0m8-8h0m225 14h0m3-3h0m10 2h0m25-11h0m2 7h0m16-2h0m1-5h0m48-3h0m11 11h0m-11 20h0m-3-10h0m-86 6h0m-25-1h0m-12-6h0m-169-3h0m-17 12h0m-13-10h0m-2 0h0m-22 5h0m1 16h0m16-8h0m5 11h0m9 2h0m2-11h0m1 9h0m7-11h0m23 1h0m63 3h0m69 0h0m53 5h0m16-1h0m1 2h0m7-1h0m13-6h0m29 8h0m33-8h0m7-3h0m17 15h0m-1 2h0m-6 4h0m-26 5h0m-28-9h0m-28 11h0m-8-4h0m-40 2h0m-28 1h0m-4-1h0m-155-2h0m-11-3h0m-1 8h0m-41-8h0m-4 9h0m-3 1h0m-2-3h0m-38-2h0m-41-3h0m75 12h0m10-1h0m12 13h0m1-7h0m47 7h0m4 0h0m9-13h0m0 6h0m15 5h0m14-9h0m186 2h0m0-6h0m24 10h0m60 13h0m-8-5h0m-2-2h0m-7 0h0m-7 1h0m-1 1h0m-3 10h0m-8 2h0m-17-8h0m-16-4h0m-14 11h0m-5-11h0m-13 12h0m-10-4h0m-25-5h0m-5 4h0m-111-3h0m-19 4h0m-17-9h0m-3 14h0m-6-10h0m-3 2h0m-3-4h0m-11-1h0m-5 3h0m-4-2h0m-9 8h0m0-11h0m-10 11h0m-14-10h0m-1 2h0m-20 11h0m-53 0h0m-72-6h0m0 17h0m148-7h0m23 13h0m7-7h0m3-3h0m13 4h0m5-2h0m4-3h0m19 11h0m3-1h0m4-11h0m13-3h0m9 12h0m22-9h0m50 9h0m14-8h0m4 0h0m1 11h0m13-15h0m35 6h0m17-2h0m56-2h0m1 13h0m11-6h0m2-9h0m23 13h0m8 10h0m-16 2h0m-2-7h0m-21 13h0m-18-12h0m-11-2h0m-9 8h0m-1-1h0m-12 3h0m-18 3h0m-53-14h0m-8 0h0m-61 15h0m-28-14h0m-10 10h0m0-2h0m-18-6h0m-1 9h0m-1-5h0m-3-6h0m-6 8h0m-4 6h0m-1-6h0m-23 6h0m-17-9h0m-6 8h0m-1-14h0m-31 10h0m-8-5h0m-10 5h0m42 10h0m5 8h0m3-8h0m8 2h0m2-1h0m23-4h0m0 10h0m7-11h0m1 10h0m1 3h0m1-4h0m1 5h0m1 0h0m3 1h0m1-4h0m2-2h0m1-2h0m4-4h0m1 3h0m9 1h0m4-2h0m0-5h0m1 2h0m4-1h0m0 5h0m2 9h0m6-8h0m7-3h0m29 9h0m57-4h0m27-3h0m23 2h0m53-3h0m8 6h0m23 2h0m7 1h0m7-14h0m7 6h0m9-5h0m6 24h0m-36-6h0m-15 9h0m-31-6h0m-24 1h0m-53 1h0m-6-1h0m-39 7h0m-12 0h0m-4-11h0m-5 6h0m-3-7h0m-25 7h0m-1 5h0m0 1h0m-1-3h0m-7-3h0m-3 1h0m-3-6h0m-5 5h0m-10 0h0m0-2h0m-3-4h0m-11 10h0m-10-9h0m-5-4h0m-29 11h0m-5-8h0m-21 6h0m-12 2h0m-28-9h0m-57 12h0m-11 1h0m103 1h0m21 0h0m12 15h0m0 0h0m6-7h0m12-1h0m0-3h0m15 5h0m2 4h0m2-6h0m2-2h0m0-4h0m7 12h0m6-5h0m0 2h0m2 1h0m0-6h0m1 5h0m0 1h0m7 4h0m2-2h0m3-7h0m3 6h0m2 3h0m7-14h0m0 11h0m2-11h0m3 7h0m1 1h0m10 4h0m2-9h0m6 3h0m2 2h0m2 0h0m5-8h0m2 4h0m4 9h0m0 0h0m2-5h0m3 1h0m8 1h0m11-3h0m19 1h0m7-2h0m38-7h0m53 11h0m16-6h0m55 6h0m2 19h0m-58-11h0m0 5h0m-43-5h0m-25-2h0m-22 1h0m-29 10h0m-10-5h0m-12 3h0m0 4h0m-3-6h0m-2-5h0m-1 11h0m0-3h0m-6 3h0m-2-2h0m0 3h0m-3-10h0m0-3h0m-7 0h0m-2 6h0m-1-6h0m-2 12h0m-1-10h0m-2-1h0m-4 11h0m-2-7h0m-1 4h0m-5-9h0m-1 10h0m-4-4h0m-4 2h0m-1 5h0m-5-14h0m-2 6h0m-1-3h0m-6 4h0m0 1h0m-3-7h0m-5 7h0m-3-7h0m-2 10h0m-2-6h0m-1 6h0m-1-1h0m-5 3h0m-4-11h0m-6 2h0m-2 10h0m-11-11h0m0-2h0m-17 11h0m-2 2h0m-2-4h0m-17 3h0m-9-9h0m-14 9h0m-2-14h0m-14 8h0m-105-6h0m-11 0h0m117 25h0m3-1h0m26 0h0m11-3h0m13 6h0m11-7h0m0-6h0m9 5h0m0 7h0m14 1h0m13-13h0m10 6h0m3-6h0m0 11h0m5 0h0m7-1h0m4 3h0m5-6h0m1 8h0m1-15h0m0 2h0m7 11h0m1-8h0m0-3h0m2 3h0m6 8h0m2-4h0m3 2h0m3 1h0m4-4h0m1 0h0m2 4h0m1-2h0m1-6h0m1 7h0m1-8h0m2 8h0m5-3h0m2 0h0m9-1h0m0-2h0m1 9h0m2-4h0m1 3h0m1-2h0m11-9h0m1 9h0m8 3h0m2-4h0m3-5h0m17 6h0m14-7h0m62 7h0m5-7h0m31 3h0m-8 21h0m-14-9h0m-11 9h0m-39-1h0m-13-9h0m0 9h0m-17-1h0m-1-3h0m-11 5h0m-1-11h0m-1 4h0m-1 6h0m-5-2h0m-3 0h0m-8 1h0m0 1h0m-1-11h0m-6 7h0m-1 2h0m-3-1h0m-6-6h0m-2-1h0m0 9h0m-1-5h0m-1 2h0m-3-3h0m-6 11h0m-1-12h0m-8 5h0m-1 7h0m-3-2h0m-3-10h0m0 0h0m-1 11h0m-2 0h0m-2 0h0m-1 0h0m0-4h0m-1-9h0m0 9h0m-2 0h0m-2-8h0m-3-2h0m0 2h0m-2 11h0m-3-11h0m-2-2h0m0 10h0m-1-5h0m-6 3h0m-1-2h0m-4-5h0m0 8h0m-1-3h0m-4-5h0m-3 13h0m-4-11h0m-3 12h0m-2-10h0m-2 1h0m-4 0h0m-1 2h0m-21-4h0m-14-1h0m-26 9h0m-2-12h0m-10 13h0m-7 1h0m-13-8h0m-18 12h0m40 3h0m11-3h0m29 4h0m2 4h0m3-8h0m4 8h0m9-5h0m7 0h0m7 4h0m1-1h0m7 0h0m3-5h0m0 3h0m1-1h0m1 7h0m5-10h0m2 2h0m0 5h0m1 0h0m3-3h0m7 9h0m2-12h0m1-1h0m1 1h0m0 8h0m1 0h0m0-6h0m3-1h0m0 7h0m1 2h0m6 0h0m1-11h0m0 9h0m1-10h0m0 7h0m1-8h0m5 6h0m0-5h0m0 3h0m0 10h0m1-6h0m0 3h0m0-4h0m5 3h0m1-5h0m0 2h0m1-3h0m0 10h0m2-6h0m1-6h0m3 13h0m2-10h0m1 8h0m1-5h0m0-2h0m1 1h0m0 0h0m0 7h0m4-12h0m1 6h0m0 1h0m1-3h0m0 4h0m1-4h0m4-6h0m1 15h0m2-1h0m0-8h0m1-1h0m2 0h0m2-1h0m1-1h0m1 11h0m4-14h0m1 9h0m0-7h0m1 3h0m4 2h0m1-5h0m2 8h0m3-6h0m0 0h0m2 5h0m4-3h0m1 6h0m0-3h0m2 6h0m2-11h0m0-1h0m5 11h0m5-3h0m3 4h0m1 0h0m1-5h0m16-6h0m10 3h0m7-1h0m45 7h0m10-10h0m47 25h0m-15-8h0m-45 7h0m-11 3h0m-2-6h0m-1 1h0m-2-8h0m-7 11h0m-6-6h0m0-2h0m-5 4h0m-1-6h0m-6 6h0m0-7h0m-4 9h0m0 0h0m-9-5h0m-1 9h0m-3 1h0m-7-1h0m-4-11h0m-1-3h0m-1 4h0m-1 2h0m-2 6h0m-4-10h0m-1 4h0m-2 6h0m-3 1h0m-1-11h0m-5 1h0m0-2h0m-1 10h0m-3 4h0m0-9h0m-1 1h0m-1 8h0m0 0h0m-2-9h0m0 0h0m-1-6h0m0 4h0m-6 3h0m-5 3h0m-1 2h0m-3-9h0m-1-2h0m-1 1h0m0 10h0m-2-5h0m-1 2h0m-1-7h0m-1 3h0m-2-3h0m-5 0h0m0 3h0m-1-5h0m-2 2h0m-1 7h0m-3 6h0m0-13h0m-1 4h0m-1-5h0m-2 7h0m-1 5h0m-2 2h0m0-13h0m0 1h0m-1 3h0m-3 5h0m-3-8h0m0 8h0m-2 4h0m-1-3h0m-1-3h0m-3-4h0m0-5h0m-3 8h0m0 7h0m0-11h0m-3-1h0m0 1h0m-6-2h0m0 11h0m-1-6h0m-2-1h0m0 1h0m-3-7h0m-2 10h0m-1-1h0m0 5h0m-1-4h0m-1-8h0m-1 0h0m0 8h0m-1-3h0m0 0h0m-3 8h0m-3-3h0m-1-2h0m-1-10h0m0 7h0m-1-1h0m0 6h0m-7 1h0m-1-10h0m-1 9h0m-3-12h0m-2 0h0m-2 11h0m0-4h0m-3 5h0m-4 0h0m-1-11h0m-6 4h0m-2 1h0m-6-6h0m-2 2h0m-1 7h0m-8-3h0m-13 3h0m-3-8h0m-5 13h0m-47-2h0m-3-8h0m-1-1h0m-10 9h0m-78-11h0m94 15h0m4 0h0m5 4h0m45 10h0m5-5h0m2-3h0m2 4h0m6-6h0m6-3h0m6 6h0m5 3h0m2-9h0m11 8h0m1-1h0m4-4h0m0 2h0m2-4h0m7 12h0m1-11h0m1 2h0m3 6h0m1-3h0m1-3h0m5-3h0m0 3h0m0 9h0m8-4h0m1-7h0m1 10h0m1-5h0m4 0h0m2-5h0m4 3h0m2 0h0m4 1h0m0 7h0m0-4h0m2 4h0m0-14h0m1 15h0m2-4h0m0-4h0m0 2h0m2-2h0m5 8h0m1-13h0m1 11h0m1-4h0m0 6h0m0-9h0m3-1h0m0-2h0m0 2h0m0 4h0m1-3h0m1 9h0m1-8h0m1 0h0m6-6h0m0 7h0m1 4h0m1 1h0m1-13h0m0 2h0m1 11h0m1-4h0m0 5h0m0-9h0m1-1h0m2 7h0m2-11h0m1 1h0m1 2h0m0 0h0m0-3h0m1 7h0m2 2h0m0-7h0m0 9h0m1 3h0m0-13h0m1 9h0m0-1h0m2-9h0m1 15h0m0-13h0m1 13h0m1-2h0m0-1h0m0-3h0m0 5h0m0 0h0m1-10h0m3 1h0m3-1h0m1 10h0m0-4h0m2-7h0m1 9h0m1 2h0m0-1h0m2-12h0m3 6h0m0-5h0m0 13h0m0-4h0m1-2h0m1-7h0m0 7h0m5 3h0m1-1h0m3-11h0m0 1h0m2 13h0m3-5h0m1 1h0m0 3h0m0-10h0m0 0h0m3 5h0m1 7h0m1-13h0m1 13h0m0-12h0m3 7h0m1 1h0m1-7h0m2 4h0m0 3h0m2-2h0m2-5h0m0 10h0m3-12h0m0 3h0m1-1h0m3 3h0m1-7h0m1 3h0m4-1h0m3 12h0m5-14h0m2 9h0m1 4h0m14-7h0m2 4h0m28-5h0m5 10h0m18-3h0m14 0h0m-13 4h0m-12 10h0m-3 3h0m0-3h0m-35-8h0m-6 7h0m0-5h0m0 3h0m-1-7h0m-1 0h0m-8 13h0m-6 1h0m-4-3h0m-9-6h0m0 5h0m0 5h0m-3-7h0m0 2h0m0-2h0m-1-1h0m-2-4h0m0-2h0m-1 7h0m-2-4h0m0 1h0m-2 7h0m-1-8h0m-1 11h0m-4-5h0m-2 5h0m-1-14h0m-3 0h0m0 6h0m-1 6h0m-2 0h0m0-10h0m0-1h0m0 13h0m-1-4h0m0-9h0m-1 4h0m-1 7h0m0-4h0m-3-7h0m-1-1h0m0 8h0m-2-1h0m-2-5h0m0 2h0m-3 9h0m0-14h0m-1 0h0m0 2h0m-4 1h0m0 12h0m-1-6h0m0 3h0m-1-10h0m0 5h0m-1 3h0m0-10h0m-1 5h0m0 9h0m-1-1h0m-3 2h0m0 0h0m0-3h0m-1-8h0m0-3h0m0 11h0m0-1h0m-2-1h0m-2 4h0m-2-14h0m-1 5h0m-1 3h0m0 7h0m-1-6h0m0 3h0m0-3h0m-3-2h0m-1-4h0m0 3h0m-1-6h0m-1 12h0m0 1h0m0-13h0m0 4h0m-2-1h0m-1 7h0m-1-2h0m-1 6h0m0 0h0m-1-7h0m0 8h0m0-4h0m-1-1h0m0-7h0m-1 3h0m-3-3h0m0 3h0m0-3h0m-1 10h0m-3 1h0m0-1h0m0-2h0m-1-7h0m-2-2h0m-1 4h0m0-1h0m-1-4h0m0 1h0m-1 1h0m0-1h0m0-2h0m0 7h0m-5 1h0m0 4h0m-2-12h0m0 15h0m0-15h0m0 0h0m-1 11h0m-1 1h0m0-7h0m-2-5h0m-1 14h0m-1-14h0m-2 3h0m0 5h0m0 7h0m0-5h0m-1 4h0m-1-8h0m0 6h0m-3-9h0m-1 9h0m0-1h0m-1-6h0m-3 3h0m-1-3h0m-2 9h0m0-14h0m-1 8h0m0-2h0m-1 7h0m-7-4h0m-2-5h0m-2-1h0m0-1h0m-4 7h0m-2-8h0m-4 14h0m0-2h0m0-8h0m-1 9h0m-3 0h0m-1-7h0m-3 6h0m-1-7h0m-1 3h0m-8-5h0m-1 0h0m-3-3h0m0 13h0m-3-10h0m-3-1h0m-3 10h0m-5-5h0m-1-5h0m0 8h0m-4 3h0m-4-3h0m-6-3h0m-30-5h0m-7 1h0m-20 4h0m-3-5h0m-2 1h0m-21 11h0m-116-15h0m14 19h0m71 6h0m3-5h0m45 8h0m2 1h0m18-5h0m25 0h0m9 7h0m12-10h0m11 6h0m10-11h0m6 6h0m5 2h0m1 0h0m2 7h0m2-1h0m0-7h0m3-4h0m0-1h0m6 6h0m4-7h0m2 3h0m1-2h0m1 1h0m6 2h0m4 7h0m2-6h0m0 1h0m1-7h0m0 5h0m1-4h0m1 9h0m4-2h0m5-8h0m4 5h0m1 4h0m0-9h0m1 4h0m0 1h0m1 6h0m1-8h0m1-1h0m0-1h0m3 0h0m0 5h0m1 1h0m2 7h0m1-6h0m1 5h0m3-5h0m0 2h0m1 1h0m0-6h0m2 5h0m0 0h0m0-2h0m2-1h0m1 6h0m0-3h0m3 3h0m0-5h0m1 5h0m0-4h0m0 6h0m1-2h0m3-11h0m0-1h0m0 2h0m0 6h0m0 4h0m2-10h0m1 12h0m0-6h0m2 6h0m0-14h0m1 13h0m0-12h0m1 4h0m0 3h0m3 6h0m0-3h0m0-4h0m0 5h0m2-5h0m1-4h0m1 3h0m1-6h0m0 7h0m1-6h0m0 8h0m0 4h0m0-8h0m1 2h0m0 3h0m1 2h0m1-7h0m1 4h0m2 2h0m2-7h0m0-4h0m0 0h0m1 1h0m0 6h0m0-4h0m2 11h0m4-11h0m1 6h0m1-1h0m0-3h0m0 9h0m2-1h0m0-1h0m1-5h0m1 7h0m0-14h0m1 5h0m0-1h0m1 7h0m1-10h0m1 10h0m0-4h0m1-4h0m1 11h0m1-6h0m1-2h0m1 8h0m1-6h0m0 6h0m0 0h0m2-13h0m0 10h0m1-10h0m1 8h0m0 0h0m1-9h0m1 10h0m2-6h0m0 10h0m0-6h0m0-6h0m0 8h0m1-2h0m0 0h0m4-8h0m0 6h0m1 2h0m1 4h0m0-11h0m0 12h0m1-2h0m1-3h0m2 5h0m2-11h0m1 5h0m1 0h0m2 0h0m1 5h0m2-2h0m2-7h0m0 1h0m2-3h0m1 12h0m0-14h0m2 0h0m2 1h0m1 12h0m5-2h0m2-9h0m2 0h0m5 5h0m2 1h0m1 6h0m0-4h0m4 2h0m1 3h0m3-7h0m0-4h0m2 3h0m0-6h0m0 14h0m1-13h0m1 10h0m1 0h0m0-9h0m0 7h0m2-8h0m2-1h0m1 5h0m6-2h0m1 5h0m7 6h0m0-7h0m10 7h0m0-7h0m0 3h0m1 0h0m10-2h0m0-1h0m6 3h0m9-9h0m1 3h0m6 2h0m2 0h0m20 14h0m-31 1h0m-15-4h0m-5 2h0m0-4h0m-2 6h0m-5-3h0m-5-1h0m-6 1h0m-3 0h0m-2 1h0m0 1h0m-1-5h0m-4 6h0m-4-2h0m-3-2h0m-5-1h0m-2 0h0m0 5h0m-2-2h0m-1-1h0m-1-3h0m-3 3h0m-4-3h0m0 5h0m-1-3h0m-3-1h0m-5 2h0m0 2h0m-1-5h0m-1 4h0m-3-3h0m-2 3h0m-1 1h0m-2-1h0m-2-2h0m-1 1h0m-1-3h0m-3 6h0m-2-1h0m-3-1h0m0 2h0m-1-3h0m-1-3h0m-2 3h0m0 3h0m0-2h0m-2-1h0m-1-3h0m-4 3h0m-2 3h0m-1-2h0m0 0h0m-1-4h0m-1 4h0m-1-1h0m-3 2h0m-1-5h0m-1 2h0m-1 3h0m-1 1h0m-5-6h0m-3 0h0m-2 1h0m-1-1h0m0 0h0m-6 6h0m-2-6h0m0 3h0m-1-1h0m-2-1h0m-1 4h0m-4-3h0m-3 1h0m-2 2h0m0 0h0m-6-3h0m-3 0h0m-1 1h0m-3 2h0m-5-5h0m-3 0h0m-1 4h0m-1 2h0m-1-2h0m-1 0h0m0-3h0m-2 0h0m-2 3h0m-5-3h0m-1 1h0m-6 1h0m-6-1h0m-4 0h0m-1-2h0m-1 4h0m-1 2h0m-8-5h0m-3 0h0m-4 2h0m-4 0h0m-20-1h0m-52-2h0"/>
<path d="M1223 471h0m-66 4h0m-4 0h0m-239-7h0m-15 5h0m-59 12h0m133 8h0m303 12h0m-26 5h0m-109-2h0m-268-10h0m-32 15h0m55 14h0m26-8h0m123 2h0m143 2h0m94 10h0m-78 4h0m-13-1h0m-56-1h0m-261-5h0m-83 18h0m1 4h0m27-7h0m52 7h0m137 4h0m122-6h0m3-4h0m8 4h0m30 7h0m25-12h0m89-1h0m13 18h0m-37 9h0m-17-8h0m-29 2h0m-10 9h0m-63-5h0m-173-9h0m-41 7h0m-6-6h0m-42 5h0m-71 12h0m92 4h0m27 5h0m6 2h0m12-12h0m33 11h0m244-3h0m13-8h0m50 9h0m21 21h0m0-15h0m-50 8h0m-4-4h0m-5 6h0m-7-6h0m-33 4h0m-29-2h0m-56 8h0m-45-3h0m-11-8h0m-9 1h0m-61-3h0m-54 9h0m-30 1h0m-8 17h0m3-5h0m17 4h0m1 1h0m6-3h0m37-9h0m1 13h0m186-10h0m16 1h0m13 3h0m10 4h0m3 4h0m20-10h0m19 10h0m5-1h0m27-13h0m21 26h0m-18-1h0m-14 0h0m-1-1h0m-2-1h0m-13-4h0m-4 0h0m-26-1h0m-4 6h0m-38-5h0m-47 5h0m-58-2h0m-53 4h0m-27 2h0m-17-13h0m-7 10h0m-9 5h0m-13-7h0m-27 2h0m-14 5h0m-100 13h0m118-6h0m28 5h0m1-6h0m5 8h0m7-3h0m0-6h0m18 3h0m5-6h0m10 0h0m0 12h0m4 0h0m59 2h0m69-3h0m2 1h0m58-13h0m26 10h0m11-10h0m4 12h0m14-1h0m26-1h0m4-5h0m1 0h0m2 5h0m8-9h0m25 6h0m4 20h0m-6 0h0m-6 0h0m-3-3h0m-1-1h0m-9 0h0m-10 5h0m-3 2h0m-8-10h0m-3 4h0m0 7h0m-3 0h0m-4-11h0m-8 8h0m-15-2h0m-7-6h0m-5 10h0m-87-14h0m-93 10h0m-13-4h0m-3 7h0m-1-13h0m-8 11h0m-1 1h0m-3-11h0m-1 0h0m-11 9h0m-13 3h0m-18-6h0m-7-7h0m0 12h0m-7-1h0m-24 3h0m-35-5h0m-86-9h0m160 30h0m14-11h0m8 12h0m2-10h0m0 8h0m10-5h0m3 3h0m12 4h0m5-3h0m11-9h0m7 9h0m3-2h0m15-7h0m3 12h0m63-14h0m25 9h0m28-8h0m4-1h0m37 13h0m1-11h0m27-2h0m30 3h0m1 10h0m4-10h0m1 11h0m8-11h0m8 11h0m2-5h0m11 17h0m-42 2h0m-17-9h0m-21 2h0m-8 2h0m-19 7h0m-4-6h0m-2-2h0m-34 7h0m-76-4h0m-15-4h0m-20-2h0m-4 2h0m-18-6h0m-3 0h0m-2 10h0m-6 5h0m-2-15h0m0 11h0m-8-1h0m-7-3h0m-1 4h0m-4 0h0m-1-6h0m-7 9h0m-7-9h0m-1 6h0m0 3h0m-13-2h0m-3-7h0m-37 4h0m-2-7h0m-10 24h0m4 4h0m45 0h0m6-4h0m12 4h0m4-10h0m0 3h0m1-1h0m6-2h0m4-1h0m2 2h0m0 2h0m0-5h0m3 0h0m7-1h0m2 8h0m11-9h0m4 12h0m4 1h0m1-4h0m11 2h0m2 2h0m21 2h0m0-11h0m27 3h0m37 7h0m67-5h0m1-6h0m36-1h0m21 12h0m11-8h0m17-5h0m-6 26h0m-26-11h0m-65 5h0m-46 10h0m-44-11h0m-6 8h0m-10 3h0m-3-14h0m-17 5h0m-5-5h0m-2 13h0m-3-4h0m-9 2h0m-12-9h0m-2 0h0m-6-2h0m-4 8h0m-5 5h0m-6-14h0m-20 15h0m-24-13h0m-2 2h0m-12 4h0m-11-5h0m-17-3h0m-2 15h0m-6-9h0m17 19h0m18-1h0m21 4h0m4-6h0m16 0h0m0 2h0m5-1h0m3-7h0m7 12h0m0 0h0m2 3h0m4-15h0m4 4h0m12 4h0m4-5h0m8 6h0m2-4h0m1 3h0m0-6h0m11 2h0m1-3h0m1 2h0m2 0h0m3 7h0m9-5h0m2-2h0m1 5h0m1 5h0m1 1h0m1-12h0m8 5h0m0-5h0m14 11h0m1-1h0m15-9h0m2 2h0m16-4h0m1 2h0m101 5h0m36-7h0m21 2h0m7 7h0m-44 6h0m-4 4h0m-103 8h0m0-3h0m-6 2h0m-29 3h0m-13 1h0m-1-11h0m-3 2h0m-6 0h0m-4 8h0m-3-9h0m-3 6h0m0 0h0m-13 4h0m-1-12h0m-1 3h0m0 8h0m-8-13h0m0 0h0m-4 3h0m-3 3h0m0 8h0m0-13h0m-3 2h0m-1 0h0m-7 8h0m-1-8h0m-1-4h0m0 12h0m-1-11h0m-4 8h0m-5 6h0m-2-5h0m-3-8h0m-2 6h0m0 7h0m-3-8h0m-6-7h0m-2 13h0m-4 0h0m-11-12h0m-1 10h0m-3-2h0m-4-8h0m-3-1h0m-13 3h0m-31 6h0m-122-1h0m81 19h0m22 1h0m33-9h0m2 9h0m6-12h0m8 11h0m12 3h0m1-4h0m5 2h0m7-12h0m2 6h0m3 4h0m3 1h0m2 0h0m3-11h0m1 13h0m2-1h0m2-3h0m2 6h0m4-7h0m0 7h0m7-1h0m6-11h0m6-1h0m1 0h0m1 1h0m1 7h0m3 2h0m3-2h0m0 0h0m0-5h0m4-5h0m8 15h0m2-14h0m1 8h0m1-2h0m0 7h0m4-10h0m0 7h0m1-1h0m3-1h0m1 0h0m1 5h0m5-1h0m4 2h0m0-8h0m5 7h0m0-6h0m0 7h0m1-1h0m0-11h0m1 1h0m0 10h0m3-3h0m4-4h0m0 8h0m1-5h0m5-1h0m1 5h0m10-9h0m2 2h0m3 6h0m0-11h0m10 11h0m2 1h0m5-4h0m10-8h0m2 7h0m0 6h0m9-11h0m6 8h0m0-7h0m3-4h0m14 8h0m22-5h0m1 7h0m12 3h0m9-6h0m73 0h0m20 1h0m-74 7h0m-5 12h0m-5-11h0m-33 3h0m-7 6h0m-7-3h0m-9 5h0m-4-12h0m-4 11h0m-3-4h0m-20-7h0m-1 10h0m-2-7h0m0 4h0m-2 8h0m-3-11h0m-6 1h0m0 6h0m-2-7h0m-3 5h0m0 4h0m-3 0h0m-5-10h0m-1 2h0m-8 0h0m-2 1h0m-3 2h0m-2 2h0m-1 1h0m-1-5h0m-1-2h0m-3 4h0m-6 1h0m0 2h0m-1-6h0m-1 6h0m-1-6h0m-8 10h0m-1-5h0m-1-8h0m-1 7h0m-3 0h0m-3 0h0m-2-6h0m-3-2h0m0 12h0m-5 2h0m0-9h0m-1 4h0m0-3h0m-1 0h0m-2-4h0m-5 0h0m-3 10h0m0-8h0m0 9h0m-2 1h0m-1-3h0m-1-4h0m-5 7h0m-2 0h0m-1-10h0m-8-4h0m-9 7h0m-5-5h0m-7 5h0m-8-4h0m-3 3h0m0-1h0m-22-5h0m-8 8h0m-4 5h0m-15-10h0m-55 5h0m-22-2h0m-9 4h0m-55 10h0m111-5h0m15 1h0m4 0h0m13 1h0m12 2h0m31-4h0m5 1h0m12 8h0m7-9h0m4 4h0m6-2h0m4 9h0m1 1h0m4-11h0m4 13h0m4-13h0m2 14h0m3-7h0m0 7h0m6-8h0m1-2h0m10 3h0m1 6h0m0-14h0m1 13h0m1-11h0m0-1h0m1 6h0m1 7h0m0-4h0m0 3h0m0-13h0m1 8h0m1 7h0m1-3h0m4-7h0m4 4h0m1 6h0m0-2h0m0-11h0m2 11h0m1-4h0m1-4h0m0 2h0m1 8h0m1-6h0m1 4h0m1-7h0m0-3h0m1-3h0m1 5h0m0 6h0m1-4h0m0-6h0m1 9h0m1 4h0m1-8h0m0 3h0m2-1h0m1 2h0m2-8h0m2 2h0m2 9h0m1-12h0m2 13h0m0 0h0m0-9h0m2 0h0m0-3h0m1 1h0m3 6h0m1-5h0m9-2h0m1 2h0m1 8h0m1-11h0m5 9h0m2-6h0m1 0h0m0-3h0m4 1h0m6 13h0m2 0h0m1-1h0m1-3h0m7-7h0m0 4h0m7 7h0m2-3h0m1-4h0m9-7h0m5-1h0m2 8h0m1-4h0m2 11h0m2-7h0m2 6h0m17-6h0m38 6h0m38-2h0m3-9h0m26 2h0m-31 22h0m-23-10h0m-14 8h0m-24-4h0m-2 9h0m-8-7h0m-16-2h0m-5 3h0m-4-4h0m-4 11h0m-6-10h0m-12 0h0m-1 2h0m-2 5h0m-7 1h0m0-2h0m-2 0h0m0 2h0m0-3h0m-1-6h0m0 4h0m-4-8h0m-3 15h0m-3-3h0m-2 0h0m0-1h0m-1-3h0m0 2h0m-3 1h0m-1-8h0m-2 8h0m0 0h0m-1-4h0m-2-2h0m-4 5h0m-4-6h0m-1-2h0m0 12h0m-2-3h0m-1 1h0m-1-10h0m0 12h0m-1-1h0m-1-7h0m0-6h0m-1 8h0m0 1h0m-2-3h0m-1 5h0m0 3h0m-1-2h0m-4-5h0m-5 3h0m0-5h0m-1 9h0m-1-5h0m0 0h0m0 6h0m-1-1h0m-1-1h0m-1-11h0m0 13h0m0-11h0m-2 7h0m0-8h0m0 5h0m-5-3h0m0 2h0m0 6h0m-2-4h0m-2-2h0m-1-6h0m0 2h0m-3 10h0m0-9h0m-1 5h0m0-1h0m-1-8h0m-1 11h0m-4-4h0m-1 1h0m-2-6h0m-1 0h0m-3 8h0m-3-2h0m-1-5h0m-1 9h0m0-8h0m-1-4h0m-9 15h0m-12-15h0m-1 10h0m-3 0h0m-1 3h0m-14 1h0m-30-13h0m-2 7h0m-77 5h0m-10-2h0m-5-9h0m-5-2h0m23 30h0m20-9h0m4 1h0m20 9h0m1-7h0m5 3h0m30-9h0m13 10h0m5-9h0m2-3h0m10 5h0m2-1h0m4 0h0m5-3h0m6 3h0m2 5h0m2-2h0m0-5h0m4 9h0m1 3h0m1-2h0m1-5h0m0 5h0m1 1h0m2-13h0m5 14h0m1-2h0m4-2h0m0-4h0m10-3h0m0 9h0m4 1h0m0-3h0m1-4h0m0 2h0m3 7h0m2-8h0m1 7h0m3-2h0m0-4h0m2 5h0m1-11h0m2 11h0m0-8h0m3 5h0m1 4h0m0 0h0m1-6h0m2-2h0m0-3h0m2 4h0m1 4h0m0 2h0m0-3h0m0-5h0m0 1h0m1 8h0m0-5h0m0-8h0m2 13h0m2-2h0m0-4h0m0 1h0m1-2h0m3-6h0m1 7h0m1-6h0m2 2h0m0 1h0m2-4h0m0 8h0m1-3h0m1 6h0m1-7h0m0 0h0m1 1h0m1 2h0m1-3h0m0 9h0m2-2h0m2-1h0m0 3h0m0-11h0m3-2h0m0 3h0m0 7h0m1-11h0m1 11h0m0-9h0m2 6h0m0 5h0m1 0h0m1-9h0m0-2h0m0 9h0m1-10h0m0 8h0m1-1h0m1 4h0m0-12h0m3 14h0m1-3h0m3-2h0m2 3h0m2-10h0m1 7h0m1-6h0m0 11h0m1-10h0m3 10h0m2 0h0m2-9h0m1-5h0m0 12h0m1-10h0m1-1h0m3 7h0m1 5h0m0-11h0m1 4h0m1-6h0m0 7h0m1 8h0m3-12h0m1 9h0m1 2h0m0-6h0m3-4h0m0 1h0m2 6h0m3-10h0m0 2h0m4 3h0m2 3h0m1 1h0m1 3h0m1 1h0m2 1h0m0-14h0m18 10h0m1-5h0m3 8h0m16-7h0m5 7h0m2 0h0m33 0h0m28 7h0m-7-4h0m-9 11h0m-28 3h0m-8-5h0m-6-3h0m-1 8h0m-9-9h0m-1-3h0m-1 4h0m-1 8h0m-1 0h0m-7-11h0m-6 10h0m-5 0h0m-3-7h0m-2-7h0m-1 14h0m-3-12h0m-2 8h0m-2-2h0m-2 4h0m-2-1h0m0 3h0m0 0h0m-1-3h0m-1-1h0m-4-6h0m-2-1h0m-5 5h0m0-5h0m0 5h0m0-5h0m-3 3h0m-2-3h0m0 3h0m-2 9h0m-1-11h0m0 6h0m-1 3h0m0-5h0m-1 6h0m-2-7h0m0 2h0m-2 1h0m-2-2h0m0-4h0m-1 5h0m-1-3h0m-2 5h0m-1-4h0m0 0h0m-1-1h0m0-3h0m-2 7h0m-3-6h0m-1 6h0m0 0h0m0 4h0m0-1h0m-2-6h0m0 6h0m-1-8h0m0-4h0m-1 6h0m0-2h0m-1 8h0m-1 1h0m0 0h0m-1-5h0m-1 3h0m-2 1h0m-1-5h0m0-1h0m-1 5h0m-1-1h0m-2-10h0m0 0h0m-4 10h0m0-11h0m0 9h0m-3 4h0m-2-12h0m0 9h0m-1-7h0m0 11h0m0-8h0m-1 7h0m0 0h0m-1-12h0m-2 7h0m0 3h0m-1-9h0m-1 10h0m-2-8h0m-1-4h0m-1 6h0m-1 4h0m-2-10h0m0 3h0m0 7h0m-1 0h0m-1-3h0m0 7h0m-1-6h0m0-8h0m-2 5h0m0 7h0m-2-12h0m0 12h0m-2 1h0m-1-7h0m-1 5h0m-1-10h0m0 8h0m-1 1h0m0 3h0m0-9h0m0 9h0m-1-9h0m-1 11h0m0 0h0m-3-10h0m0-3h0m-1 11h0m0-2h0m0 1h0m-4-6h0m-1 8h0m-1-2h0m-2-4h0m-2 4h0m-1-11h0m-1 4h0m-1-2h0m0 0h0m-2 9h0m-1-2h0m-3 2h0m-1-11h0m0 0h0m0 3h0m-2 1h0m-2 10h0m0-14h0m-2-1h0m-3 4h0m0-1h0m-5 11h0m-4-4h0m-3 1h0m-5-9h0m-1 5h0m-2-2h0m-6-4h0m-3 13h0m-4-11h0m0 2h0m-23 3h0m-1-5h0m-3 6h0m-3-3h0m-77 5h0m-42-3h0m-11-7h0m21 29h0m43-3h0m53-4h0m19 6h0m6 2h0m5-13h0m6 2h0m2-4h0m12 3h0m5-3h0m0 11h0m3 2h0m1-1h0m5-3h0m3-5h0m3-3h0m4 12h0m2-11h0m3 8h0m4-2h0m2 5h0m1-8h0m2 10h0m1-9h0m0 3h0m2-1h0m1-5h0m1 9h0m4 1h0m1 2h0m2 0h0m0-5h0m1-1h0m0 4h0m1 2h0m3-8h0m2 7h0m1-3h0m2-9h0m1 3h0m0-4h0m1 10h0m1 2h0m0-3h0m1-6h0m1-2h0m0 4h0m1 3h0m2-6h0m1 9h0m0 3h0m0-15h0m0 13h0m1-2h0m0-5h0m1-1h0m1 3h0m0 5h0m2-7h0m1 8h0m3 1h0m0-4h0m1-9h0m2 3h0m1 5h0m0-7h0m1-1h0m1 13h0m1-12h0m1 6h0m1-2h0m1 8h0m0-14h0m1 6h0m1-1h0m1-1h0m0 2h0m0 3h0m0-1h0m0-5h0m1-3h0m0 9h0m0 1h0m1 4h0m0-8h0m1 4h0m0-5h0m1-1h0m2 4h0m0 5h0m1-12h0m1 5h0m0 3h0m2 0h0m2-7h0m1 8h0m0 1h0m0-9h0m2 1h0m1-3h0m0 8h0m1 5h0m1-8h0m1 9h0m1 0h0m0-3h0m0-12h0m0 1h0m2 5h0m0 5h0m1 4h0m1-3h0m0-12h0m1 5h0m0 1h0m2 5h0m0 4h0m2-6h0m0-3h0m0 5h0m1 4h0m0-2h0m2-2h0m0 2h0m0-1h0m1-1h0m1 0h0m0-6h0m1 8h0m0-4h0m1-2h0m2 4h0m0-2h0m1 6h0m1-1h0m0-11h0m0 6h0m0-8h0m0 11h0m0 2h0m1-1h0m1-3h0m0-5h0m1-1h0m1 7h0m0-9h0m1 8h0m1 3h0m0-10h0m0-2h0m0 2h0m1 9h0m1-1h0m0-8h0m0 3h0m1 0h0m0-4h0m1 7h0m0-2h0m1-1h0m0-4h0m2 2h0m0 5h0m1 2h0m0-10h0m1 10h0m1-8h0m0 3h0m0 5h0m1-7h0m1-3h0m0 8h0m0-9h0m2 15h0m2-13h0m1 9h0m0-2h0m1-3h0m1 3h0m0 1h0m1-2h0m0-2h0m1 7h0m0-9h0m1 8h0m0-11h0m0 8h0m0-2h0m1 0h0m2 1h0m0-8h0m2 12h0m0 2h0m1-12h0m1 11h0m0-1h0m2-7h0m0 0h0m3 8h0m3-2h0m1-1h0m1 5h0m0-6h0m1-3h0m1 8h0m0-7h0m0-1h0m0 6h0m1-12h0m0 0h0m2 14h0m1-12h0m1 12h0m0-3h0m1-3h0m0 5h0m2-9h0m3 11h0m2-10h0m2 9h0m0-1h0m1-3h0m2-9h0m3 8h0m12-3h0m3 1h0m0 2h0m10-6h0m3 3h0m0 6h0m2-10h0m8 7h0m31 11h0m-14 2h0m-12 0h0m0-6h0m-3 4h0m-10-4h0m-7 3h0m-4 0h0m-3 2h0m-13-5h0m-7 0h0m-6 3h0m-1-3h0m-3 4h0m-1-1h0m-2-2h0m-1 4h0m-2 0h0m0 1h0m-2-1h0m-4-4h0m0 1h0m0 4h0m-3-4h0m0 2h0m-1-3h0m-2-1h0m-4 1h0m0 4h0m-3-1h0m-3 2h0m-16 0h0m-1-5h0m-2 3h0m-1-4h0m-1 5h0m-1-1h0m-3-3h0m0 5h0m-4 0h0m0-3h0m-4-2h0m0 2h0m0-1h0m-2 2h0m-1 1h0m-2-4h0m0 3h0m-2-1h0m-2-3h0m0 2h0m-1 2h0m-1-1h0m0 1h0m-1-3h0m-2 3h0m-2-2h0m-3 1h0m0 1h0m-1-4h0m0 3h0m-2 2h0m-1-4h0m-5 0h0m-1 3h0m-1 0h0m-2 0h0m0 0h0m-3-1h0m-1-3h0m-2 4h0m-1-4h0m0 6h0m-3-5h0m-1 4h0m-1-1h0m-1-3h0m0 3h0m-5-2h0m0 2h0m-2 1h0m-1-1h0m-2 1h0m0-5h0m-4 0h0m-1 1h0m-4 4h0m0 1h0m0-2h0m0 2h0m-3 0h0m-5-5h0m-12-1h0m-2 4h0m-2 0h0m-7 0h0m-89-4h0"/>
<path d="M794 463h0m353-3h0m112 8h0m-92 11h0m-102-6h0m-198 22h0m232-11h0m94 2h0m14 3h0m69-7h0m-87 26h0m-202-2h0m-92 2h0m-1-9h0m-72 7h0m83 18h0m37-1h0m24 0h0m204 3h0m1-14h0m35 6h0m6 1h0m83 10h0m-18 12h0m-23-8h0m-102-5h0m-5 10h0m-28-4h0m-110-4h0m-43 12h0m-39-3h0m-6 0h0m-59-1h0m259 9h0m80 0h0m53 11h0m24-9h0m4 3h0m24 16h0m-55 4h0m-75-12h0m-11 14h0m-189-11h0m-1 7h0m-37-5h0m-10 5h0m-8-8h0m-4 4h0m-11-2h0m-7 6h0m-92 18h0m125 0h0m7-9h0m12-3h0m65 13h0m128 1h0m12-10h0m4 4h0m6 2h0m9-5h0m3 0h0m94-5h0m34 12h0m-38 16h0m-78 0h0m-48-11h0m-130 8h0m-29-4h0m-15-4h0m-6 10h0m-15-6h0m-12 4h0m-88-5h0m-2 9h0m-26-8h0m-7 20h0m111 2h0m26-5h0m1 6h0m3-3h0m35 1h0m1-4h0m110 1h0m29 0h0m31 0h0m11-3h0m68-3h0m16 6h0m33-5h0m11 6h0m0 14h0m-67 5h0m-29 0h0m-1-10h0m0 10h0m-55 0h0m-22-9h0m-128 1h0m-12 12h0m-3-9h0m-27 7h0m-7-6h0m0-5h0m3 15h0m30 11h0m2-10h0m5 4h0m2 6h0m26-3h0m4 1h0m2-3h0m8 3h0m74-6h0m8 11h0m1 0h0m13-5h0m63-10h0m10 13h0m5-2h0m40-8h0m31-2h0m33 24h0m-7 0h0m-7-1h0m-24-6h0m-26 6h0m-8 5h0m-4-7h0m-11 2h0m-29 6h0m-6-4h0m-1-8h0m-22 11h0m-13-7h0m-5 8h0m-8-1h0m-93 2h0m-13-8h0m-8-3h0m-30-3h0m-13 14h0m-2-2h0m-2-6h0m-20-2h0m-2 7h0m-46-11h0m-13 15h0m0 15h0m20 0h0m41-9h0m17-4h0m10 1h0m3 2h0m1 3h0m10-6h0m3 1h0m1 10h0m1-10h0m0 4h0m9 8h0m2 0h0m8-9h0m1 6h0m14-8h0m16 9h0m94-13h0m23 10h0m18-8h0m6-2h0m17 1h0m11 2h0m16 12h0m5-2h0m37 2h0m5-13h0m14 18h0m-8 3h0m-26 3h0m-4-6h0m-9 1h0m-97-2h0m-8 1h0m-12 0h0m-18 3h0m-39 8h0m-15-5h0m-26-4h0m-5 9h0m-12-15h0m-1 0h0m-21 14h0m-11 1h0m0-7h0m-1 7h0m-3-2h0m-7-1h0m-3-1h0m-1-9h0m0 0h0m-14 3h0m-9 3h0m-9-8h0m-3 11h0m-1 1h0m-2 0h0m-29-3h0m-37-1h0m-60 1h0m131 16h0m39-9h0m9 0h0m1 7h0m3-4h0m4-3h0m1 15h0m5-2h0m1-12h0m1 4h0m12 0h0m2 5h0m2-10h0m2 5h0m1 0h0m1 10h0m3-2h0m1-8h0m5 10h0m4-3h0m1-2h0m16 3h0m1 2h0m5-13h0m2 7h0m29-4h0m97-1h0m32 0h0m31-4h0m17 0h0m21 0h0m7 2h0m0 12h0m-40 6h0m-19 6h0m-2 5h0m-10-4h0m-2-10h0m-1 1h0m-131 13h0m-1-15h0m-2 8h0m-9 5h0m-2-6h0m-3 4h0m-21-8h0m-4 9h0m-1 2h0m-2-2h0m-6-10h0m-4 11h0m-3 1h0m-3-9h0m-2-5h0m-4 3h0m-10 12h0m-8-2h0m-15-11h0m-16 10h0m-5-9h0m-12 1h0m-15 7h0m-23-2h0m-35-3h0m-41 24h0m57-14h0m1 4h0m71 0h0m7-3h0m10 0h0m3 0h0m14 10h0m4-4h0m0-6h0m5 11h0m3-3h0m2-4h0m3 3h0m0-8h0m3 7h0m0 2h0m4-1h0m7 5h0m2-3h0m0 4h0m0-7h0m2-6h0m2 5h0m1 7h0m2-8h0m7 4h0m3 5h0m5-3h0m5-7h0m3 0h0m6-2h0m6 8h0m11-3h0m9 5h0m1-8h0m19 3h0m2 8h0m20-5h0m12-5h0m24-3h0m3-1h0m13 0h0m7 14h0m0-4h0m5-7h0m20 1h0m71-5h0m9 14h0m-12 10h0m-1 3h0m-6-7h0m-5-1h0m-35-2h0m-7 3h0m-48-1h0m-36-1h0m-24 3h0m-11-4h0m-20 5h0m0 7h0m-1-7h0m-4-6h0m-2 3h0m-2 9h0m-2-4h0m-4 5h0m-3-13h0m-3 6h0m-2-5h0m-1 11h0m0-6h0m-1-6h0m-3 12h0m-6-2h0m-1-6h0m-1-2h0m-3 1h0m-3-2h0m-3 3h0m-4 10h0m-2-1h0m-2-4h0m-3-5h0m-1 7h0m-1-2h0m-3-4h0m-2 4h0m-5 6h0m-1-14h0m-2 4h0m-3-1h0m-5 5h0m-1-3h0m-2-1h0m-6 0h0m-2 0h0m-3 1h0m-1 2h0m-38 4h0m-4 1h0m-9-7h0m-4 3h0m-15-4h0m-14-1h0m-10-4h0m-7 12h0m-5-12h0m-1 15h0m-55-13h0m57 21h0m27 0h0m20-3h0m30 7h0m17-11h0m1 9h0m16-7h0m4 2h0m4 11h0m4-12h0m6 3h0m2 4h0m2-2h0m0 7h0m1-9h0m4-5h0m11 11h0m1-6h0m7 9h0m1-4h0m2-11h0m0 8h0m1-6h0m1 12h0m6-12h0m6 12h0m5-14h0m2 7h0m1 0h0m1 0h0m1 7h0m4-13h0m1 11h0m1-7h0m1 8h0m3-8h0m6-3h0m0 12h0m0-6h0m7 6h0m13-9h0m1 7h0m5-6h0m5-6h0m1 5h0m31 8h0m13 0h0m8-3h0m6 0h0m6 2h0m1-8h0m14 11h0m23-4h0m26-10h0m32 6h0m-91 24h0m-1-11h0m-37-1h0m0-1h0m0 7h0m-7-3h0m-8 6h0m-15-2h0m-13-3h0m-2-5h0m-5 8h0m-4-7h0m-1 0h0m-3 5h0m-2-2h0m-1-3h0m0 7h0m-1-8h0m0 5h0m-1 3h0m0-2h0m0 5h0m-6-2h0m-2-3h0m-1-5h0m0 3h0m-1 1h0m-2 7h0m-1-9h0m-2 2h0m-1 1h0m-2 4h0m-1 2h0m-1-13h0m-1 0h0m0 0h0m-1 14h0m-4-6h0m-1 2h0m0 3h0m-1-14h0m-5 12h0m-1-6h0m-1-3h0m-4-2h0m0 5h0m0 0h0m-2 7h0m0-7h0m-1 5h0m0 3h0m-2-3h0m-3-10h0m0 14h0m0-15h0m-2 6h0m-2 4h0m-1 1h0m-7 1h0m0-4h0m-2-3h0m-1-1h0m-3 2h0m-1 6h0m0-8h0m-7 9h0m0-5h0m-3 2h0m-7-1h0m0-2h0m-2-1h0m-6 1h0m-1-2h0m-1 0h0m-2-1h0m-3 3h0m-10-6h0m-16 13h0m-19-12h0m-23 4h0m-8 3h0m0 1h0m-14-1h0m-2-4h0m-31-3h0m-6 9h0m-66 0h0m104 17h0m59-9h0m9-2h0m1 8h0m3-1h0m24-1h0m1 6h0m1-2h0m1 2h0m1-12h0m6 12h0m1-2h0m2-5h0m2 6h0m2-7h0m2 9h0m4-3h0m5 0h0m2-2h0m2 3h0m3-9h0m5 10h0m1-8h0m0-3h0m1-2h0m1 6h0m8 9h0m0-13h0m1 12h0m0-10h0m2 4h0m2-5h0m2 3h0m0 2h0m0-1h0m2 5h0m3-9h0m1 0h0m1 0h0m3 3h0m1-4h0m1 6h0m1 1h0m2-1h0m5 3h0m6-1h0m2 2h0m0-8h0m0 8h0m1 1h0m0 0h0m1-4h0m1-5h0m1 11h0m0-15h0m1 9h0m1 6h0m1-6h0m1 3h0m1-11h0m2 14h0m0-15h0m2 14h0m1-7h0m3 8h0m6-3h0m5-10h0m3-1h0m4 5h0m0 1h0m8-2h0m0 9h0m0-11h0m2 0h0m1 5h0m2 7h0m4-8h0m3 5h0m2-3h0m1-5h0m8 6h0m9-3h0m20 4h0m7-3h0m9-3h0m3 10h0m12-2h0m60-12h0m-5 24h0m-10-4h0m-11 1h0m-7-3h0m-13 7h0m-6 0h0m-7-7h0m-18 2h0m-3 3h0m-5 6h0m-4-11h0m-3 4h0m-5-6h0m-1 14h0m-2-10h0m-6 3h0m-8-3h0m0 0h0m-1 9h0m-1-10h0m0 7h0m-1 2h0m-1-6h0m-2 6h0m-5-6h0m0 0h0m-4-5h0m-1 9h0m-3-4h0m-2 7h0m-1 0h0m0-9h0m0-4h0m-1 13h0m-2-13h0m-2 7h0m-5 2h0m-1-5h0m-3-2h0m-1 9h0m-2-6h0m-1 8h0m-1-13h0m-2 9h0m-1 3h0m-1 2h0m-2-4h0m-1-8h0m-1 9h0m0-2h0m-2-8h0m-1 9h0m-2-2h0m0-6h0m0 5h0m-1-3h0m-6-4h0m0 1h0m-1 9h0m-1-6h0m-3-2h0m0 5h0m-1-6h0m-1 6h0m-1 0h0m0-3h0m-1-5h0m0 6h0m0 3h0m-1-5h0m-4-3h0m-1 12h0m-1-12h0m-3 0h0m-3 13h0m-4-7h0m-3-7h0m0 5h0m-1 2h0m-1-5h0m0 7h0m-1 4h0m-2-7h0m-6-1h0m-7 2h0m-3-7h0m-6 4h0m-1-4h0m0 12h0m-15 2h0m-1 1h0m-3-7h0m0 2h0m-1 4h0m-1-4h0m-6 2h0m-2-3h0m-2 0h0m-11-6h0m-22 0h0m-7 0h0m-23 5h0m-36 7h0m0-8h0m-22-7h0m-7 13h0m-93 9h0m113 4h0m4 1h0m21-7h0m48 8h0m29 3h0m1-15h0m14 5h0m3 1h0m2 9h0m1-14h0m7 4h0m0-2h0m2 12h0m1-12h0m3 10h0m9-4h0m4-6h0m1-2h0m0 3h0m2 11h0m4-2h0m0 1h0m0-4h0m1-3h0m2-6h0m4 0h0m2 9h0m0-4h0m1 5h0m3 2h0m1-12h0m1 8h0m0-4h0m1 10h0m2-1h0m1-13h0m1 13h0m2-7h0m1-6h0m2 5h0m0 0h0m3-4h0m1 0h0m5 10h0m1-12h0m1 4h0m1 11h0m1-11h0m1 11h0m1-8h0m2-4h0m0 2h0m1 8h0m0-6h0m0 1h0m1-5h0m0 7h0m1 2h0m0 1h0m1 1h0m2-2h0m1-8h0m2-1h0m2 7h0m1 5h0m0-9h0m0 0h0m2-6h0m0 6h0m0 4h0m1-6h0m0 4h0m4 0h0m1 3h0m0-6h0m1-5h0m1 3h0m4 5h0m1 7h0m0-1h0m1 0h0m0 0h0m1 0h0m0-2h0m1 2h0m2-3h0m1-1h0m0 2h0m1-7h0m1 9h0m0-5h0m3-8h0m0 2h0m1 6h0m0 5h0m0-10h0m1-1h0m0 11h0m2-1h0m0-6h0m0-2h0m1 3h0m2 3h0m1 4h0m5-1h0m1-7h0m1 7h0m2-6h0m1 0h0m1-3h0m4-4h0m1 3h0m3 9h0m4-3h0m1-3h0m5 3h0m1-5h0m1 6h0m0-1h0m1-2h0m2-1h0m1 5h0m3 2h0m0-4h0m1-1h0m5-7h0m1 12h0m2-14h0m0 0h0m3 3h0m27 10h0m23 2h0m6-2h0m8 1h0m7-7h0m-2 14h0m-2 3h0m-4 6h0m-16-8h0m-5-1h0m-7 0h0m-2 5h0m-3-1h0m-3-4h0m-5 9h0m0 1h0m0-2h0m-4-8h0m-3 2h0m-1-7h0m-7 14h0m0-6h0m-5-1h0m-8 2h0m-2-5h0m0 1h0m-1 8h0m0-5h0m-2-1h0m-4 8h0m-2-7h0m-4-3h0m0 1h0m-1 5h0m-1-2h0m-2-7h0m0 3h0m0 4h0m-1-9h0m-1 5h0m-1-5h0m-2 13h0m-2-11h0m0 11h0m-2-11h0m-1 10h0m0 2h0m-5-1h0m0-8h0m-2 4h0m0-6h0m-1 8h0m-4 0h0m-1-5h0m0 7h0m0-10h0m-1 4h0m0-3h0m-1-1h0m-1 1h0m0 6h0m-2 5h0m0-8h0m0 1h0m-1 4h0m0-8h0m-1 2h0m0 9h0m-1-14h0m-1 3h0m-1-4h0m0 3h0m0 3h0m-1 9h0m-1-11h0m-3 10h0m-2-2h0m-1 3h0m-1-13h0m-1 6h0m0 1h0m-2 2h0m0 3h0m0-6h0m0 4h0m-1-1h0m0-4h0m-1-5h0m-1 12h0m0-4h0m-1-2h0m0-5h0m0-3h0m-1 14h0m-1-8h0m0 1h0m0-1h0m-2 4h0m0-2h0m-1-7h0m-2 14h0m0-10h0m-1-5h0m-1 1h0m-2 5h0m-1 5h0m0-4h0m-2-5h0m-1-2h0m0 4h0m0 1h0m-1-4h0m0 11h0m-1-9h0m0 0h0m-1-2h0m-3 7h0m0 2h0m-4-2h0m0-4h0m-1-4h0m-2 11h0m0-7h0m0 9h0m-2 2h0m-1-9h0m0-2h0m-1-4h0m-3 0h0m-1 12h0m0 3h0m-1-4h0m-1-6h0m0 2h0m0 8h0m-1-3h0m0 0h0m-1-1h0m-1 1h0m-3-4h0m-2-5h0m0 9h0m-3 3h0m0-4h0m0 2h0m-1-2h0m-1 3h0m-1-5h0m-1-3h0m-1 5h0m-6-9h0m-1 10h0m-2-5h0m-1 6h0m-1-7h0m-1-5h0m-4 13h0m0-14h0m-5 10h0m0 1h0m-5-4h0m-4-6h0m-3 7h0m0-2h0m0-4h0m-5 0h0m0 2h0m-1-4h0m-4 0h0m0 8h0m-5 6h0m0-5h0m-3 3h0m-1-9h0m-3 7h0m0-5h0m-2 8h0m-9 0h0m-12 1h0m-4-10h0m-6 9h0m-3 1h0m-3-2h0m-35-1h0m-2 3h0m-128 17h0m90-12h0m13-1h0m32 9h0m8-8h0m5 11h0m13-12h0m1 6h0m1-2h0m19 4h0m5-3h0m8-7h0m14 7h0m1 3h0m3 4h0m0-7h0m3-5h0m2 8h0m3-4h0m2-6h0m6 6h0m1-5h0m2 1h0m1-2h0m6 1h0m0 5h0m4 5h0m1-3h0m1-7h0m0 5h0m1-2h0m4-4h0m1 11h0m1-10h0m0-1h0m4 3h0m1 11h0m0-9h0m2 0h0m0-5h0m1 8h0m0-1h0m0 2h0m1 0h0m3 5h0m1-12h0m1 12h0m1-4h0m0-9h0m4 4h0m2-3h0m1 3h0m0-2h0m2 3h0m0 7h0m0-5h0m1 3h0m1 0h0m2 3h0m1-9h0m0 0h0m1 3h0m0-6h0m1 2h0m2 10h0m0 1h0m1-5h0m3-4h0m1 6h0m2-10h0m0 8h0m1 3h0m0-4h0m0 0h0m2 3h0m2-12h0m0 1h0m2 2h0m0 4h0m0-5h0m2-2h0m1 2h0m0 3h0m1 0h0m1 0h0m2 1h0m0 6h0m2-4h0m0-2h0m0 8h0m1-9h0m0-2h0m1 1h0m0 4h0m1 5h0m1-3h0m0-6h0m4 3h0m2 3h0m0-4h0m1-3h0m0 10h0m0-12h0m0 11h0m1-6h0m0-5h0m0 0h0m1 7h0m0-6h0m2 9h0m0-9h0m0 6h0m0-4h0m2 0h0m0 10h0m2-4h0m1-4h0m0-3h0m2 0h0m2 4h0m0 4h0m0-7h0m3-1h0m0 3h0m2-5h0m0 9h0m0-2h0m1-1h0m0-1h0m0 2h0m1 5h0m2 2h0m1 0h0m1-6h0m1 6h0m3-9h0m0 4h0m1-2h0m0 3h0m1-10h0m1 0h0m0 11h0m0-3h0m0 3h0m1-2h0m1 4h0m1-1h0m0 1h0m2-2h0m0 3h0m2-14h0m0 0h0m1 14h0m0-14h0m1 10h0m1 4h0m1-3h0m1 0h0m0 3h0m0-7h0m0 3h0m0 3h0m1-7h0m0-1h0m1 6h0m1-10h0m1-2h0m2 10h0m3 4h0m1-3h0m1-11h0m2 1h0m3 4h0m1 6h0m0 1h0m0 3h0m0-7h0m1 6h0m1-12h0m1 2h0m2 9h0m0-5h0m2-7h0m2 10h0m0-7h0m0 7h0m3 3h0m1-12h0m2 13h0m0-4h0m1-5h0m6-6h0m1 2h0m5 4h0m3 8h0m0 0h0m8 0h0m1-6h0m0-1h0m2 0h0m1 5h0m0-7h0m3-2h0m0 7h0m7 5h0m4-8h0m2 1h0m1 0h0m0 4h0m4-3h0m1-3h0m4 1h0m3-4h0m1 10h0m3-7h0m6 8h0m10 6h0m-6-1h0m-14 2h0m-2-3h0m-10-1h0m-6 1h0m-18 4h0m-1-2h0m-3 2h0m0 0h0m-4-1h0m0-3h0m-1 1h0m-1 0h0m-15 3h0m-5-6h0m-3 3h0m0-3h0m-1 4h0m0 0h0m-1 2h0m-2-5h0m-1 3h0m0 1h0m-1 1h0m-2-6h0m-1 5h0m-4-3h0m-3 0h0m-2 1h0m-2-3h0m0 1h0m-2 5h0m-1-5h0m0 1h0m-2 4h0m-2-6h0m-2 4h0m-1-1h0m0 2h0m-1-5h0m-1 4h0m-1-2h0m-3 3h0m0-1h0m0-3h0m0 3h0m-1 0h0m-7-2h0m-1 3h0m0-1h0m-1-1h0m-1-2h0m-2 3h0m0-4h0m-1 2h0m-1-1h0m0 4h0m-1-3h0m-1 1h0m-1-2h0m-1 0h0m0 4h0m-1 1h0m-2-4h0m-2-1h0m-1-1h0m-1 4h0m-1-2h0m-1 2h0m0-2h0m-1-2h0m-3 1h0m-2 0h0m-2 1h0m-2 2h0m-1-1h0m0 0h0m-1-2h0m-3-1h0m0 5h0m-2-4h0m-1 5h0m0 0h0m-4-2h0m-1-2h0m-4 3h0m0-1h0m-1 0h0m-3-1h0m0 0h0m-1 0h0m-1 0h0m-1 2h0m-1-5h0m0 0h0m-1 0h0m0 2h0m-1 1h0m-4-3h0m-1 4h0m-1-4h0m-1 5h0m-3 1h0m0-2h0m-3-3h0m-2-1h0m-2 3h0m0-3h0m0 5h0m0-2h0m-3 0h0m-4-2h0m-5-1h0m-2 3h0m-1 3h0m-4-2h0m-11-1h0m0 2h0m-8-5h0m-8 3h0m-9 1h0m-61-4h0"/>
</g>
<path d="M447.5,228.5 L448.8,233.4 L447.2,244.4 L446.0,255.5 L445.5,265 L445.4,274 L445.6,285 L446.4,300 L447.7,307.4 L449.5,318.4 L452,328.3 L455.7,338.1 L460.6,346.7 L465.5,352.8 L470.5,357.5 L476,361.5 L483.3,367.3 L491.9,373.4 L500.5,378.3 L509.1,384.5 L516.5,391.9 L522.7,398 L528.2,404.1 L533.7,410.3 L538.5,416.5 L543.5,422.7 L548.2,429 L552.7,435.6 L557.3,444.5" fill="none" stroke="#1f77b4" stroke-width="1.5" stroke-linejoin="round"/>
<path d="M448.2 232.8L445.1 237.4" stroke="#1f77b4" stroke-width="1.5"/>
<path d="M461.2,228.5 L460.3,236 L459.5,242.6 L459.2,255.5 L458.6,270 L458.1,285 L458.1,300 L459.3,312.3 L461.2,324.6 L462.4,334.4 L464.3,344.2 L466.7,351.6 L469.3,357.8 L472.5,362.4 L476,367.3 L482.1,373.4 L489.5,379.6 L496.9,384.5 L505.5,389.4 L514,394.3 L521.4,400.5 L528.8,406.6 L534.9,412.7 L541.7,420.9 L546.5,427 L550.9,433.8 L556.4,444.5" fill="none" stroke="#ff7f0e" stroke-width="1.5" stroke-linejoin="round"/>
<path d="M459.6 242L457 248.1" stroke="#ff7f0e" stroke-width="1.5"/>
<g fill="#0000ff" stroke="#000" stroke-width="0.9"><circle cx="458.5" cy="263.5" r="2.75"/><circle cx="459.7" cy="267.0" r="2.75"/><circle cx="441.7" cy="285.4" r="2.75"/><circle cx="449.4" cy="286.6" r="2.75"/><circle cx="453.1" cy="290.5" r="2.75"/><circle cx="457.3" cy="292.0" r="2.75"/><circle cx="463.9" cy="298.5" r="2.75"/><circle cx="470.9" cy="298.8" r="2.75"/><circle cx="459.9" cy="304.7" r="2.75"/><circle cx="466.7" cy="311.9" r="2.75"/><circle cx="469.5" cy="312.5" r="2.75"/><circle cx="463.5" cy="317.9" r="2.75"/><circle cx="467.9" cy="318.5" r="2.75"/><circle cx="471.5" cy="316.7" r="2.75"/><circle cx="475.5" cy="317.1" r="2.75"/><circle cx="449.6" cy="315.1" r="2.75"/><circle cx="448.2" cy="320.9" r="2.75"/><circle cx="458.0" cy="327.5" r="2.75"/><circle cx="468.6" cy="327.5" r="2.75"/><circle cx="459.7" cy="333.2" r="2.75"/><circle cx="472.2" cy="334.2" r="2.75"/><circle cx="499.6" cy="331.7" r="2.75"/><circle cx="500.8" cy="334.4" r="2.75"/><circle cx="460.6" cy="347.3" r="2.75"/><circle cx="463.3" cy="343.6" r="2.75"/><circle cx="470.7" cy="342.4" r="2.75"/><circle cx="473.2" cy="344.8" r="2.75"/><circle cx="469.7" cy="349.1" r="2.75"/><circle cx="473.8" cy="353.4" r="2.75"/><circle cx="477.5" cy="351.0" r="2.75"/><circle cx="480.5" cy="357.7" r="2.75"/><circle cx="484.2" cy="357.7" r="2.75"/><circle cx="494.1" cy="354.7" r="2.75"/><circle cx="501.4" cy="350.4" r="2.75"/><circle cx="503.6" cy="356.5" r="2.75"/><circle cx="512.7" cy="357.7" r="2.75"/><circle cx="485.2" cy="364.2" r="2.75"/><circle cx="488.9" cy="367.3" r="2.75"/><circle cx="492.6" cy="369.7" r="2.75"/><circle cx="501.8" cy="369.7" r="2.75"/><circle cx="505.5" cy="367.9" r="2.75"/><circle cx="504.8" cy="374.0" r="2.75"/><circle cx="509.4" cy="374.0" r="2.75"/><circle cx="495.6" cy="378.1" r="2.75"/><circle cx="517.7" cy="382.6" r="2.75"/><circle cx="531.5" cy="379.3" r="2.75"/><circle cx="519.6" cy="387.2" r="2.75"/><circle cx="524.7" cy="386.3" r="2.75"/><circle cx="520.2" cy="390.0" r="2.75"/><circle cx="526.3" cy="391.9" r="2.75"/><circle cx="531.3" cy="391.2" r="2.75"/><circle cx="538.0" cy="387.2" r="2.75"/><circle cx="538.6" cy="382.6" r="2.75"/><circle cx="538.0" cy="393.1" r="2.75"/><circle cx="500.8" cy="389.2" r="2.75"/><circle cx="527.0" cy="400.2" r="2.75"/><circle cx="537.4" cy="399.8" r="2.75"/><circle cx="503.6" cy="407.8" r="2.75"/><circle cx="510.6" cy="408.1" r="2.75"/><circle cx="520.8" cy="406.6" r="2.75"/><circle cx="526.3" cy="410.9" r="2.75"/><circle cx="535.6" cy="406.6" r="2.75"/><circle cx="560.1" cy="397.4" r="2.75"/><circle cx="574.8" cy="391.0" r="2.75"/><circle cx="596.1" cy="391.6" r="2.75"/><circle cx="545.7" cy="404.4" r="2.75"/><circle cx="549.4" cy="405.1" r="2.75"/><circle cx="544.1" cy="409.7" r="2.75"/><circle cx="547.2" cy="410.3" r="2.75"/><circle cx="555.8" cy="408.8" r="2.75"/><circle cx="563.4" cy="409.7" r="2.75"/><circle cx="561.3" cy="413.4" r="2.75"/><circle cx="510.8" cy="431.1" r="2.75"/><circle cx="534.9" cy="419.7" r="2.75"/><circle cx="531.9" cy="423.3" r="2.75"/><circle cx="551.7" cy="420.3" r="2.75"/><circle cx="554.8" cy="426.3" r="2.75"/><circle cx="568.6" cy="423.9" r="2.75"/><circle cx="576.4" cy="422.4" r="2.75"/><circle cx="568.8" cy="428.5" r="2.75"/><circle cx="572.2" cy="428.9" r="2.75"/><circle cx="559.6" cy="431.1" r="2.75"/><circle cx="545.7" cy="433.3" r="2.75"/><circle cx="553.0" cy="433.5" r="2.75"/><circle cx="543.3" cy="437.7" r="2.75"/><circle cx="547.5" cy="438.9" r="2.75"/><circle cx="556.6" cy="440.1" r="2.75"/><circle cx="539.7" cy="443.1" r="2.75"/><circle cx="572.2" cy="440.7" r="2.75"/><circle cx="562.6" cy="436.5" r="2.75"/><circle cx="587.6" cy="431.9" r="2.75"/><circle cx="613.6" cy="439.7" r="2.75"/><circle cx="615.0" cy="442.0" r="2.75"/><circle cx="632.0" cy="443.8" r="2.75"/><circle cx="495.7" cy="438.9" r="2.75"/></g>
<g fill="#ffaa00" stroke="#000" stroke-width="0.9"><circle cx="464.4" cy="260.4" r="2.75"/><circle cx="467.5" cy="305.9" r="2.75"/><circle cx="473.7" cy="328.7" r="2.75"/><circle cx="466.2" cy="341.8" r="2.75"/><circle cx="476.6" cy="344.2" r="2.75"/><circle cx="485.7" cy="341.8" r="2.75"/><circle cx="499.0" cy="347.9" r="2.75"/><circle cx="481.2" cy="353.1" r="2.75"/><circle cx="464.9" cy="364.2" r="2.75"/><circle cx="492.9" cy="367.3" r="2.75"/><circle cx="496.9" cy="371.0" r="2.75"/><circle cx="499.9" cy="375.6" r="2.75"/><circle cx="503.6" cy="378.3" r="2.75"/><circle cx="520.2" cy="372.2" r="2.75"/><circle cx="519.6" cy="375.3" r="2.75"/><circle cx="504.5" cy="383.9" r="2.75"/><circle cx="490.7" cy="385.1" r="2.75"/><circle cx="504.8" cy="389.6" r="2.75"/><circle cx="516.5" cy="396.8" r="2.75"/><circle cx="521.4" cy="401.4" r="2.75"/><circle cx="523.9" cy="404.8" r="2.75"/><circle cx="537.1" cy="410.0" r="2.75"/><circle cx="529.8" cy="412.7" r="2.75"/><circle cx="539.2" cy="377.1" r="2.75"/><circle cx="560.1" cy="391.9" r="2.75"/><circle cx="558.3" cy="394.9" r="2.75"/><circle cx="554.6" cy="413.4" r="2.75"/><circle cx="542.1" cy="417.6" r="2.75"/><circle cx="546.3" cy="422.1" r="2.75"/><circle cx="553.6" cy="416.4" r="2.75"/><circle cx="537.9" cy="427.7" r="2.75"/><circle cx="536.7" cy="431.7" r="2.75"/><circle cx="543.9" cy="428.1" r="2.75"/><circle cx="549.3" cy="429.9" r="2.75"/><circle cx="549.9" cy="436.5" r="2.75"/><circle cx="558.4" cy="435.3" r="2.75"/><circle cx="563.2" cy="432.1" r="2.75"/><circle cx="566.0" cy="438.9" r="2.75"/><circle cx="569.8" cy="438.9" r="2.75"/><circle cx="574.6" cy="443.4" r="2.75"/><circle cx="602.2" cy="431.4" r="2.75"/></g>
<rect x="320.2" y="369.7" width="145" height="67.5" rx="2.5" fill="#fff" fill-opacity="0.85" stroke="#d0d0d0" stroke-width="0.9"/>
<circle cx="347.9" cy="383" r="0.8" fill="#777"/>
<g fill="#0000ff" stroke="#000" stroke-width="0.75"><circle cx="347.9" cy="404.0" r="2.6"/></g>
<g fill="#ffaa00" stroke="#000" stroke-width="0.75"><circle cx="347.9" cy="425.2" r="2.6"/></g>
</g>
<path d="M54.8 177.0v-3.5M54.8 6.3v3.5M110.3 177.0v-3.5M110.3 6.3v3.5M165.7 177.0v-3.5M165.7 6.3v3.5M221.2 177.0v-3.5M221.2 6.3v3.5M54.8 6.3h3.5M221.2 6.3h-3.5M54.8 63.2h3.5M221.2 63.2h-3.5M54.8 120.1h3.5M221.2 120.1h-3.5M54.8 177.0h3.5M221.2 177.0h-3.5" stroke="#484848" stroke-width="0.9" fill="none"/>
<rect x="54.8" y="6.3" width="166.40" height="170.70" fill="none" stroke="#484848" stroke-width="1.15"/>
<path d="M271.9 177.0v-3.5M271.9 6.3v3.5M313.5 177.0v-3.5M313.5 6.3v3.5M355.1 177.0v-3.5M355.1 6.3v3.5M396.7 177.0v-3.5M396.7 6.3v3.5M438.3 177.0v-3.5M438.3 6.3v3.5M271.9 6.3h3.5M438.3 6.3h-3.5M271.9 63.2h3.5M438.3 63.2h-3.5M271.9 120.1h3.5M438.3 120.1h-3.5M271.9 177.0h3.5M438.3 177.0h-3.5" stroke="#484848" stroke-width="0.9" fill="none"/>
<rect x="271.9" y="6.3" width="166.40" height="170.70" fill="none" stroke="#484848" stroke-width="1.15"/>
<path d="M488.6 177.0v-3.5M488.6 6.3v3.5M521.9 177.0v-3.5M521.9 6.3v3.5M555.3 177.0v-3.5M555.3 6.3v3.5M588.6 177.0v-3.5M588.6 6.3v3.5M622.0 177.0v-3.5M622.0 6.3v3.5M655.3 177.0v-3.5M655.3 6.3v3.5M488.6 177.0h3.5M655.3 177.0h-3.5M488.6 148.6h3.5M655.3 148.6h-3.5M488.6 120.1h3.5M655.3 120.1h-3.5M488.6 91.6h3.5M655.3 91.6h-3.5M488.6 63.2h3.5M655.3 63.2h-3.5M488.6 34.7h3.5M655.3 34.7h-3.5M488.6 6.3h3.5M655.3 6.3h-3.5" stroke="#484848" stroke-width="0.9" fill="none"/>
<rect x="488.6" y="6.3" width="166.70" height="170.70" fill="none" stroke="#484848" stroke-width="1.15"/>
<path d="M54.9 444.0v-3.5M54.9 229.0v3.5M125.8 444.0v-3.5M125.8 229.0v3.5M196.6 444.0v-3.5M196.6 229.0v3.5M267.5 444.0v-3.5M267.5 229.0v3.5M54.9 444.0h3.5M267.5 444.0h-3.5M54.9 372.3h3.5M267.5 372.3h-3.5M54.9 300.7h3.5M267.5 300.7h-3.5M54.9 229.0h3.5M267.5 229.0h-3.5" stroke="#484848" stroke-width="0.9" fill="none"/>
<rect x="54.9" y="229.0" width="212.60" height="215.00" fill="none" stroke="#484848" stroke-width="1.15"/>
<path d="M358.0 444.0v-3.5M358.0 229.0v3.5M432.3 444.0v-3.5M432.3 229.0v3.5M506.6 444.0v-3.5M506.6 229.0v3.5M580.9 444.0v-3.5M580.9 229.0v3.5M655.2 444.0v-3.5M655.2 229.0v3.5M313.4 229.0h3.5M655.2 229.0h-3.5M313.4 264.8h3.5M655.2 264.8h-3.5M313.4 300.7h3.5M655.2 300.7h-3.5M313.4 336.5h3.5M655.2 336.5h-3.5M313.4 372.3h3.5M655.2 372.3h-3.5M313.4 408.2h3.5M655.2 408.2h-3.5M313.4 444.0h3.5M655.2 444.0h-3.5" stroke="#484848" stroke-width="0.9" fill="none"/>
<rect x="313.4" y="229.0" width="341.80" height="215.00" fill="none" stroke="#484848" stroke-width="1.15"/>
<g opacity="0.995" stroke="#fff" stroke-width="0.18">
<text transform="translate(42.16,13.60) scale(0.950,1)" font-size="18.4" fill="#222">0</text>
<text transform="translate(29.17,72.00) scale(1.226,1)" font-size="18.4" fill="#222">−</text>
<text transform="translate(41.89,72.00) scale(0.950,1)" font-size="18.4" fill="#222">1</text>
<text transform="translate(29.17,128.90) scale(1.226,1)" font-size="18.4" fill="#222">−</text>
<text transform="translate(42.24,128.90) scale(0.950,1)" font-size="18.4" fill="#222">2</text>
<text transform="translate(29.17,185.80) scale(1.226,1)" font-size="18.4" fill="#222">−</text>
<text transform="translate(42.07,185.80) scale(0.950,1)" font-size="18.4" fill="#222">3</text>
<text transform="translate(43.30,195.94) scale(1.226,1)" font-size="18.4" fill="#222">−</text>
<text transform="translate(56.02,195.94) scale(0.950,1)" font-size="18.4" fill="#222">1</text>
<text transform="translate(105.10,194.04) scale(0.950,1)" font-size="18.4" fill="#222">0</text>
<text transform="translate(160.30,194.04) scale(0.950,1)" font-size="18.4" fill="#222">1</text>
<text transform="translate(216.12,194.04) scale(0.950,1)" font-size="18.4" fill="#222">2</text>
<text transform="translate(250.44,13.60) scale(0.950,1)" font-size="18.4" fill="#222">1</text>
<text transform="translate(259.17,13.60) scale(0.950,1)" font-size="18.4" fill="#222">3</text>
<text transform="translate(250.44,70.50) scale(0.950,1)" font-size="18.4" fill="#222">1</text>
<text transform="translate(259.08,70.50) scale(0.950,1)" font-size="18.4" fill="#222">5</text>
<text transform="translate(250.44,127.40) scale(0.950,1)" font-size="18.4" fill="#222">1</text>
<text transform="translate(258.99,127.40) scale(0.950,1)" font-size="18.4" fill="#222">7</text>
<text transform="translate(250.44,184.30) scale(0.950,1)" font-size="18.4" fill="#222">1</text>
<text transform="translate(259.34,184.30) scale(0.950,1)" font-size="18.4" fill="#222">9</text>
<text transform="translate(253.75,195.94) scale(1.226,1)" font-size="18.4" fill="#222">−</text>
<text transform="translate(266.73,195.94) scale(0.950,1)" font-size="18.4" fill="#222">0</text>
<text transform="translate(275.57,195.94) scale(0.950,1)" font-size="18.4" fill="#222">.</text>
<text transform="translate(279.77,195.94) scale(0.950,1)" font-size="18.4" fill="#222">1</text>
<text transform="translate(301.68,194.04) scale(0.950,1)" font-size="18.4" fill="#222">0</text>
<text transform="translate(310.51,194.04) scale(0.950,1)" font-size="18.4" fill="#222">.</text>
<text transform="translate(314.72,194.04) scale(0.950,1)" font-size="18.4" fill="#222">1</text>
<text transform="translate(343.28,194.04) scale(0.950,1)" font-size="18.4" fill="#222">0</text>
<text transform="translate(352.12,194.04) scale(0.950,1)" font-size="18.4" fill="#222">.</text>
<text transform="translate(356.49,194.04) scale(0.950,1)" font-size="18.4" fill="#222">3</text>
<text transform="translate(384.88,194.04) scale(0.950,1)" font-size="18.4" fill="#222">0</text>
<text transform="translate(393.71,194.04) scale(0.950,1)" font-size="18.4" fill="#222">.</text>
<text transform="translate(398.01,194.04) scale(0.950,1)" font-size="18.4" fill="#222">5</text>
<text transform="translate(426.48,194.04) scale(0.950,1)" font-size="18.4" fill="#222">0</text>
<text transform="translate(435.31,194.04) scale(0.950,1)" font-size="18.4" fill="#222">.</text>
<text transform="translate(439.52,194.04) scale(0.950,1)" font-size="18.4" fill="#222">7</text>
<text transform="translate(475.95,184.30) scale(0.950,1)" font-size="18.4" fill="#222">0</text>
<text transform="translate(475.69,155.85) scale(0.950,1)" font-size="18.4" fill="#222">1</text>
<text transform="translate(476.04,127.40) scale(0.950,1)" font-size="18.4" fill="#222">2</text>
<text transform="translate(475.87,98.95) scale(0.950,1)" font-size="18.4" fill="#222">3</text>
<text transform="translate(475.87,70.50) scale(0.950,1)" font-size="18.4" fill="#222">4</text>
<text transform="translate(475.78,42.05) scale(0.950,1)" font-size="18.4" fill="#222">5</text>
<text transform="translate(475.87,13.60) scale(0.950,1)" font-size="18.4" fill="#222">6</text>
<text transform="translate(483.43,194.04) scale(0.950,1)" font-size="18.4" fill="#222">0</text>
<text transform="translate(516.86,194.04) scale(0.950,1)" font-size="18.4" fill="#222">2</text>
<text transform="translate(550.02,194.04) scale(0.950,1)" font-size="18.4" fill="#222">4</text>
<text transform="translate(583.36,194.04) scale(0.950,1)" font-size="18.4" fill="#222">6</text>
<text transform="translate(616.79,194.04) scale(0.950,1)" font-size="18.4" fill="#222">8</text>
<text transform="translate(645.59,194.04) scale(0.950,1)" font-size="18.4" fill="#222">1</text>
<text transform="translate(654.40,194.04) scale(0.950,1)" font-size="18.4" fill="#222">0</text>
<text transform="translate(20.31,451.30) scale(0.950,1)" font-size="18.4" fill="#222">4</text>
<text transform="translate(28.78,451.30) scale(0.950,1)" font-size="18.4" fill="#222">5</text>
<text transform="translate(37.79,451.30) scale(0.950,1)" font-size="18.4" fill="#222">.</text>
<text transform="translate(42.25,451.30) scale(0.950,1)" font-size="18.4" fill="#222">0</text>
<text transform="translate(20.31,379.63) scale(0.950,1)" font-size="18.4" fill="#222">4</text>
<text transform="translate(28.78,379.63) scale(0.950,1)" font-size="18.4" fill="#222">5</text>
<text transform="translate(37.79,379.63) scale(0.950,1)" font-size="18.4" fill="#222">.</text>
<text transform="translate(42.34,379.63) scale(0.950,1)" font-size="18.4" fill="#222">2</text>
<text transform="translate(20.31,307.97) scale(0.950,1)" font-size="18.4" fill="#222">4</text>
<text transform="translate(28.78,307.97) scale(0.950,1)" font-size="18.4" fill="#222">5</text>
<text transform="translate(37.79,307.97) scale(0.950,1)" font-size="18.4" fill="#222">.</text>
<text transform="translate(42.17,307.97) scale(0.950,1)" font-size="18.4" fill="#222">4</text>
<text transform="translate(20.31,236.30) scale(0.950,1)" font-size="18.4" fill="#222">4</text>
<text transform="translate(28.78,236.30) scale(0.950,1)" font-size="18.4" fill="#222">5</text>
<text transform="translate(37.79,236.30) scale(0.950,1)" font-size="18.4" fill="#222">.</text>
<text transform="translate(42.17,236.30) scale(0.950,1)" font-size="18.4" fill="#222">6</text>
<text transform="translate(38.72,461.04) scale(0.950,1)" font-size="18.4" fill="#222">6</text>
<text transform="translate(47.44,461.04) scale(0.950,1)" font-size="18.4" fill="#222">9</text>
<text transform="translate(56.19,461.04) scale(0.950,1)" font-size="18.4" fill="#222">.</text>
<text transform="translate(60.66,461.04) scale(0.950,1)" font-size="18.4" fill="#222">0</text>
<text transform="translate(109.58,461.04) scale(0.950,1)" font-size="18.4" fill="#222">6</text>
<text transform="translate(118.22,461.04) scale(0.950,1)" font-size="18.4" fill="#222">8</text>
<text transform="translate(127.06,461.04) scale(0.950,1)" font-size="18.4" fill="#222">.</text>
<text transform="translate(131.52,461.04) scale(0.950,1)" font-size="18.4" fill="#222">8</text>
<text transform="translate(180.45,461.04) scale(0.950,1)" font-size="18.4" fill="#222">6</text>
<text transform="translate(189.09,461.04) scale(0.950,1)" font-size="18.4" fill="#222">8</text>
<text transform="translate(197.92,461.04) scale(0.950,1)" font-size="18.4" fill="#222">.</text>
<text transform="translate(202.30,461.04) scale(0.950,1)" font-size="18.4" fill="#222">6</text>
<text transform="translate(251.32,461.04) scale(0.950,1)" font-size="18.4" fill="#222">6</text>
<text transform="translate(259.95,461.04) scale(0.950,1)" font-size="18.4" fill="#222">8</text>
<text transform="translate(268.79,461.04) scale(0.950,1)" font-size="18.4" fill="#222">.</text>
<text transform="translate(273.17,461.04) scale(0.950,1)" font-size="18.4" fill="#222">4</text>
<text transform="translate(291.94,236.30) scale(0.950,1)" font-size="18.4" fill="#222">1</text>
<text transform="translate(300.67,236.30) scale(0.950,1)" font-size="18.4" fill="#222">3</text>
<text transform="translate(291.94,272.13) scale(0.950,1)" font-size="18.4" fill="#222">1</text>
<text transform="translate(300.67,272.13) scale(0.950,1)" font-size="18.4" fill="#222">4</text>
<text transform="translate(291.94,307.97) scale(0.950,1)" font-size="18.4" fill="#222">1</text>
<text transform="translate(300.58,307.97) scale(0.950,1)" font-size="18.4" fill="#222">5</text>
<text transform="translate(291.94,343.80) scale(0.950,1)" font-size="18.4" fill="#222">1</text>
<text transform="translate(300.67,343.80) scale(0.950,1)" font-size="18.4" fill="#222">6</text>
<text transform="translate(291.94,379.63) scale(0.950,1)" font-size="18.4" fill="#222">1</text>
<text transform="translate(300.49,379.63) scale(0.950,1)" font-size="18.4" fill="#222">7</text>
<text transform="translate(291.94,415.47) scale(0.950,1)" font-size="18.4" fill="#222">1</text>
<text transform="translate(300.75,415.47) scale(0.950,1)" font-size="18.4" fill="#222">8</text>
<text transform="translate(291.94,451.30) scale(0.950,1)" font-size="18.4" fill="#222">1</text>
<text transform="translate(300.84,451.30) scale(0.950,1)" font-size="18.4" fill="#222">9</text>
<text transform="translate(346.16,461.04) scale(0.950,1)" font-size="18.4" fill="#222">0</text>
<text transform="translate(355.00,461.04) scale(0.950,1)" font-size="18.4" fill="#222">.</text>
<text transform="translate(359.29,461.04) scale(0.950,1)" font-size="18.4" fill="#222">5</text>
<text transform="translate(420.20,461.04) scale(0.950,1)" font-size="18.4" fill="#222">1</text>
<text transform="translate(429.30,461.04) scale(0.950,1)" font-size="18.4" fill="#222">.</text>
<text transform="translate(433.77,461.04) scale(0.950,1)" font-size="18.4" fill="#222">0</text>
<text transform="translate(494.51,461.04) scale(0.950,1)" font-size="18.4" fill="#222">1</text>
<text transform="translate(503.61,461.04) scale(0.950,1)" font-size="18.4" fill="#222">.</text>
<text transform="translate(507.90,461.04) scale(0.950,1)" font-size="18.4" fill="#222">5</text>
<text transform="translate(569.16,461.04) scale(0.950,1)" font-size="18.4" fill="#222">2</text>
<text transform="translate(577.91,461.04) scale(0.950,1)" font-size="18.4" fill="#222">.</text>
<text transform="translate(582.38,461.04) scale(0.950,1)" font-size="18.4" fill="#222">0</text>
<text transform="translate(643.47,461.04) scale(0.950,1)" font-size="18.4" fill="#222">2</text>
<text transform="translate(652.21,461.04) scale(0.950,1)" font-size="18.4" fill="#222">.</text>
<text transform="translate(656.51,461.04) scale(0.950,1)" font-size="18.4" fill="#222">5</text>
<text transform="translate(94.40,212.50) scale(1.094,1)" font-size="17.5" font-style="italic" fill="#222">μ</text>
<text transform="translate(104.21,215.60) scale(1.081,1)" font-size="13.5" fill="#222">ra</text>
<text transform="translate(121.76,212.50) scale(1.009,1)" font-size="17.5" fill="#222">[mas/yr]</text>
<text transform="translate(19.80,138.60) rotate(-90) scale(1.094,1)" font-size="17.5" font-style="italic" fill="#222">μ</text>
<text transform="translate(22.90,129.97) rotate(-90) scale(1.052,1)" font-size="13.5" fill="#222">dec</text>
<text transform="translate(19.80,104.73) rotate(-90) scale(1.007,1)" font-size="17.5" fill="#222">[mas/yr]</text>
<text transform="translate(326.10,214.80) scale(1.151,1)" font-size="17.5" font-style="italic" fill="#222">ϖ</text>
<text transform="translate(346.79,214.80) scale(0.904,1)" font-size="17.5" fill="#222">[mas]</text>
<text transform="translate(244.80,98.97) rotate(-90) scale(0.994,1)" font-size="19.5" font-style="italic" fill="#222">G</text>
<text transform="translate(469.80,173.53) rotate(-90) scale(1.040,1)" font-size="17.5" fill="#222">density [stars/arcmin</text>
<text transform="translate(463.40,21.38) rotate(-90) scale(0.956,1)" font-size="12.5" fill="#222">2</text>
<text transform="translate(469.80,16.07) rotate(-90) scale(0.961,1)" font-size="17.5" fill="#222">]</text>
<text transform="translate(535.31,214.70) scale(0.980,1)" font-size="17.5" font-style="italic" fill="#222">r</text>
<text transform="translate(549.32,214.70) scale(0.961,1)" font-size="17.5" fill="#222">[arcmin]</text>
<text transform="translate(134.84,482.70) scale(1.042,1)" font-size="17.5" fill="#222">ra</text>
<text transform="translate(154.82,482.70) scale(0.879,1)" font-size="17.5" fill="#222">[deg]</text>
<text transform="translate(14.80,365.63) rotate(-90) scale(0.896,1)" font-size="17.5" fill="#222">dec [deg]</text>
<text transform="translate(335.25,257.60) scale(0.882,1)" font-size="24.5" fill="#222">NGC 1605</text>
<text transform="translate(286.70,344.35) rotate(-90) scale(0.970,1)" font-size="19.5" font-style="italic" fill="#222">G</text>
<text transform="translate(447.18,483.50) scale(1.268,1)" font-size="17.5" font-style="italic" fill="#222">BP</text>
<text transform="translate(478.02,484.70) scale(1.350,1)" font-size="17.5" fill="#222">−</text>
<text transform="translate(497.01,483.50) scale(1.185,1)" font-size="17.5" font-style="italic" fill="#222">RP</text>
<text transform="translate(379.85,386.90) scale(0.911,1)" font-size="16.3" fill="#222">Field</text>
<text transform="translate(379.85,408.60) scale(0.915,1)" font-size="16.3" fill="#222">NGC 1605</text>
<text transform="translate(379.68,429.60) scale(0.959,1)" font-size="16.3" fill="#222">Can Batlló 1</text>
</g>
</svg>
</body></html>
